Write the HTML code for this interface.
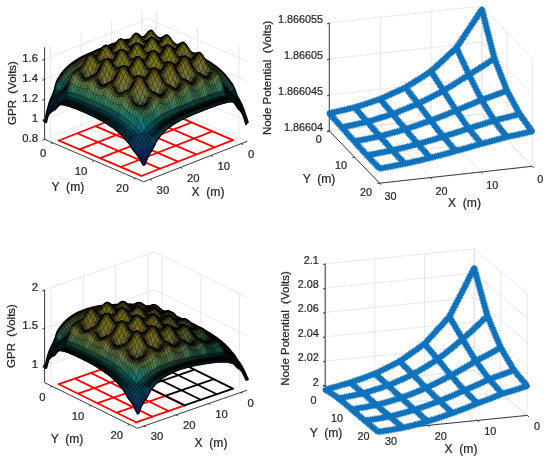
<!DOCTYPE html><html><head><meta charset="utf-8"><title>Grounding grid plots</title><style>html,body{margin:0;padding:0;background:#fff}svg{display:block}text{font-family:'Liberation Sans', Arial, sans-serif;fill:#262626;stroke:#262626;stroke-width:.22px}.k1{stroke-opacity:1;stroke-width:7}.a{fill:#182460}.b{fill:#00000c}.c{fill:#000000}.d{fill:#000c00}.e{fill:#0c180c}.f{fill:#18180c}.g{fill:#182418}.h{fill:#242418}.i{fill:#243018}.j{fill:#243024}.k{fill:#243c24}.l{fill:#183c24}.m{fill:#183c30}.n{fill:#0c3c3c}.o{fill:#0c3c30}.p{fill:#0c5454}.q{fill:#005460}.r{fill:#001824}.s{fill:#001830}.t{fill:#002448}.u{fill:#003060}.v{fill:#0c306c}.w{fill:#181854}.x{fill:#0c0c0c}.y{fill:#303018}.z{fill:#303024}.A{fill:#303c24}.B{fill:#304830}.C{fill:#244830}.D{fill:#18483c}.E{fill:#184848}.F{fill:#004854}.G{fill:#001818}.H{fill:#00243c}.I{fill:#003054}.J{fill:#181848}.K{fill:#183018}.L{fill:#304824}.M{fill:#24483c}.N{fill:#0c5448}.O{fill:#0c483c}.P{fill:#003c48}.Q{fill:#00183c}.R{fill:#243c30}.S{fill:#184830}.T{fill:#0c4848}.U{fill:#0c4854}.V{fill:#002424}.W{fill:#000c18}.X{fill:#000c0c}.Y{fill:#181818}.Z{fill:#0c2418}.aa{fill:#0c2424}.ba{fill:#0c3024}.ca{fill:#0c3030}.da{fill:#00180c}.ea{fill:#0c0c00}.fa{fill:#3c3c24}.ga{fill:#306c54}.ha{fill:#180c00}.ia{fill:#30300c}.ja{fill:#3c3c0c}.ka{fill:#181800}.la{fill:#48480c}.ma{fill:#242400}.na{fill:#3c300c}.oa{fill:#30240c}.pa{fill:#544818}.qa{fill:#483c18}.ra{fill:#3c3c18}.sa{fill:#606c3c}.ta{fill:#488460}.ua{fill:#003030}.va{fill:#18240c}.wa{fill:#606018}.xa{fill:#6c6c18}.ya{fill:#6c6024}.za{fill:#484818}.Aa{fill:#786c18}.Ba{fill:#24180c}.Ca{fill:#786c24}.Da{fill:#24240c}.Ea{fill:#786c30}.Fa{fill:#6c6c30}.Ga{fill:#546030}.Ha{fill:#484824}.Ia{fill:#607848}.Ja{fill:#3c8460}.Ka{fill:#00303c}.La{fill:#6c6030}.Ma{fill:#0c0000}.Na{fill:#78783c}.Oa{fill:#485430}.Pa{fill:#303c18}.Qa{fill:#307854}.Ra{fill:#003c3c}.Sa{fill:#606024}.Ta{fill:#6c6018}.Ua{fill:#6c6c3c}.Va{fill:#486c3c}.Wa{fill:#306048}.Xa{fill:#545424}.Ya{fill:#48603c}.Za{fill:#3c4824}.ab{fill:#3c5430}.bb{fill:#3c6c54}.cb{fill:#0c1800}.db{fill:#545430}.eb{fill:#487854}.fb{fill:#241800}.gb{fill:#303000}.hb{fill:#54540c}.ib{fill:#545418}.jb{fill:#605418}.kb{fill:#548454}.lb{fill:#185448}.mb{fill:#787818}.nb{fill:#48540c}.ob{fill:#6c780c}.pb{fill:#78780c}.qb{fill:#606030}.rb{fill:#6c783c}.sb{fill:#787824}.tb{fill:#544824}.ub{fill:#787830}.vb{fill:#3c7854}.wb{fill:#6c6c24}.xb{fill:#485424}.yb{fill:#546c3c}.zb{fill:#180c0c}.Ab{fill:#60600c}.Bb{fill:#3c3018}.Cb{fill:#847824}.Db{fill:#486030}.Eb{fill:#306c48}.Fb{fill:#3c3c00}.Gb{fill:#6c7848}.Hb{fill:#3c7860}.Ib{fill:#546c48}.Jb{fill:#605424}.Kb{fill:#484830}.Lb{fill:#3c4830}.Mb{fill:#004848}.Nb{fill:#3c8454}.Ob{fill:#483c0c}.Pb{fill:#302418}.Qb{fill:#60783c}.Rb{fill:#0c1818}.Sb{fill:#54480c}.Tb{fill:#60540c}.Ub{fill:#606c30}.Vb{fill:#54603c}.Wb{fill:#307860}.Xb{fill:#3c543c}.Yb{fill:#3c603c}.Zb{fill:#183024}.ac{fill:#246c60}.bc{fill:#002430}.cc{fill:#186c60}.dc{fill:#003c54}.ec{fill:#305430}.fc{fill:#30603c}.gc{fill:#24543c}.hc{fill:#005454}.ic{fill:#00546c}.jc{fill:#30543c}.kc{fill:#246048}.lc{fill:#3c6c48}.mc{fill:#18786c}.nc{fill:#003048}.oc{fill:#004860}.pc{fill:#005478}.qc{fill:#245448}.rc{fill:#246054}.sc{fill:#187878}.tc{fill:#00486c}.uc{fill:#0c5478}.vc{fill:#186054}.wc{fill:#0c7878}.xc{fill:#0c486c}.yc{fill:#0c6c60}.zc{fill:#186c6c}.Ac{fill:#0c6c6c}.Bc{fill:#6c8448}.Cc{fill:#608448}.Dc{fill:#547848}.Ec{fill:#608454}.Fc{fill:#308460}.Gc{fill:#30846c}.Hc{fill:#248478}.Ic{fill:#0c7884}.Jc{fill:#0c4878}.Kc{fill:#0c5484}.Lc{fill:#18543c}.Mc{fill:#24786c}.Nc{fill:#007884}.Oc{fill:#006078}.Pc{fill:#0c3c54}.Qc{fill:#0c3c60}.Rc{fill:#0c3c6c}.Sc{fill:#0c3c78}.Tc{fill:#185454}.Uc{fill:#0c6060}.Vc{fill:#006060}.Wc{fill:#00606c}.Xc{fill:#0c3060}.Yc{fill:#0c3054}.Zc{fill:#0c3048}.ad{fill:#0c303c}.bd{fill:#00306c}.cd{fill:#0c246c}.dd{fill:#003078}.ed{fill:#003c6c}.fd{fill:#0c1830}.gd{fill:#182454}.hd{fill:#0c0c30}.id{fill:#000c24}.jd{fill:#003c60}.kd{fill:#0c2460}.ld{fill:#180c3c}.md{fill:#0c000c}.nd{fill:#0c0c24}.od{fill:#483c24}.pd{fill:#487848}.qd{fill:#183030}.rd{fill:#182400}.sd{fill:#6c6c0c}.td{fill:#486c48}.ud{fill:#303c00}.vd{fill:#183c3c}.wd{fill:#24846c}.xd{fill:#186048}.yd{fill:#246c54}.zd{fill:#547854}.Ad{fill:#488454}.Bd{fill:#0c3c48}.Cd{fill:#3c6048}.Dd{fill:#0c4860}.Ed{fill:#002418}.Fd{fill:#003c78}.Gd{fill:#0c2454}.Hd{fill:#0c3078}.Id{fill:#18246c}.Jd{fill:#0c183c}</style></head><body><svg width="550" height="460" viewBox="0 0 550 460"><rect width="550" height="460" fill="#fff"/><g fill="none"><path d="M142 101.2L241.1 143.7" stroke="#dfdfdf" stroke-width="0.7" /><path d="M142 101.2L142 9.2" stroke="#dfdfdf" stroke-width="0.7" /><path d="M111.6 113.1L210.7 155.6" stroke="#dfdfdf" stroke-width="0.7" /><path d="M111.6 113.1L111.6 21.1" stroke="#dfdfdf" stroke-width="0.7" /><path d="M81.1 125L180.2 167.5" stroke="#dfdfdf" stroke-width="0.7" /><path d="M81.1 125L81.1 33" stroke="#dfdfdf" stroke-width="0.7" /><path d="M50.7 136.9L149.8 179.4" stroke="#dfdfdf" stroke-width="0.7" /><path d="M50.7 136.9L50.7 44.9" stroke="#dfdfdf" stroke-width="0.7" /><path d="M156.4 102.3L52.9 142.8" stroke="#dfdfdf" stroke-width="0.7" /><path d="M156.4 102.3L156.4 10.3" stroke="#dfdfdf" stroke-width="0.7" /><path d="M197.6 120.1L94.1 160.6" stroke="#dfdfdf" stroke-width="0.7" /><path d="M197.6 120.1L197.6 28.1" stroke="#dfdfdf" stroke-width="0.7" /><path d="M238.9 137.8L135.4 178.3" stroke="#dfdfdf" stroke-width="0.7" /><path d="M238.9 137.8L238.9 45.8" stroke="#dfdfdf" stroke-width="0.7" /><path d="M44.6 139.3L148.1 98.8" stroke="#dfdfdf" stroke-width="0.7" /><path d="M148.1 98.8L247.2 141.3" stroke="#dfdfdf" stroke-width="0.7" /><path d="M44.6 119.3L148.1 78.8" stroke="#dfdfdf" stroke-width="0.7" /><path d="M148.1 78.8L247.2 121.3" stroke="#dfdfdf" stroke-width="0.7" /><path d="M44.6 99.3L148.1 58.8" stroke="#dfdfdf" stroke-width="0.7" /><path d="M148.1 58.8L247.2 101.3" stroke="#dfdfdf" stroke-width="0.7" /><path d="M44.6 79.3L148.1 38.8" stroke="#dfdfdf" stroke-width="0.7" /><path d="M148.1 38.8L247.2 81.3" stroke="#dfdfdf" stroke-width="0.7" /><path d="M44.6 59.3L148.1 18.8" stroke="#dfdfdf" stroke-width="0.7" /><path d="M148.1 18.8L247.2 61.3" stroke="#dfdfdf" stroke-width="0.7" /></g>
<path fill="none" stroke="#ff0000" stroke-width="1.8" stroke-linecap="square" d="M150.3 104.7L232.9 140.1M132 111.9L214.6 147.3M113.7 119L196.3 154.4M95.5 126.2L178.1 161.6M77.2 133.3L159.8 168.7M58.9 140.5L141.5 175.9M150.3 104.7L58.9 140.5M170.9 113.6L79.6 149.3M191.6 122.4L100.2 158.2M212.2 131.3L120.9 167M232.9 140.1L141.5 175.9"/>
<path d="M68.2 67.2L63.6 72L61.3 75L59.5 77.9L57 82.5L55.2 89.4L53.2 95.5L51.3 99.6L49.6 104.3L48.1 109.8L46.2 118.6L45 120.5L44.6 120.8L45 121.3L45.8 121.5L48.3 115.4L49 114.3L50.9 112.1L53 110.6L55.3 109.5L57.8 106.4L59.8 104.7L61.1 104.5L62.4 104.7L69.4 106.4L76.3 108.9L85.9 112.9L95.4 117.4L104.9 122.5L112 127.1L118.9 132.6L123.8 137.6L127.1 141.6L128.5 142.9L130.4 145.6L133 149.9L137.4 155.4L139.3 158.3L143.2 165.1L143.7 165.3L144.9 164.5L147.3 158.4L148.8 155.3L152.3 149.6L154.4 145.7L156.2 141.5L160.5 135.7L162.8 133L167.3 128.7L173.9 124.1L182.5 119.3L193.2 114.5L208.4 108.4L219.5 104.4L228.2 102.1L232.4 101.6L235.1 104.1L238.6 109.4L240.4 111L241.9 113L243.5 116.7L246 124.6L247.2 121.9L242.9 109.2L241 104.6L238.9 100.4L236.6 96.5L234 89.5L232 85.1L227.4 78.7L224.9 75.7L220 70.7L215.5 67L210.9 63.7L205.7 60.5L203 55.7L200.5 52.9L199.1 52.3L194.7 53.3L192.2 52.6L190.2 50.7L186.5 45L184 42.4L182.6 42.2L178.2 44.3L175.7 44.1L173.4 42.3L170 37.4L168.8 36L167.4 35L166.1 34.9L161.6 37.6L159.2 37.7L156.7 36.1L152.3 30.8L150.9 30.1L148.3 31.5L144.8 35.8L143.3 36.7L141 36.5L138.3 34.1L136.9 33.4L135.7 33.2L133.1 35L129.9 39.9L124.6 40.9L121.7 38.9L120.5 38.8L119.1 39.6L117.9 40.6L116.1 43.4L108.3 46.3L106.5 45.2L105.2 45.2L103.9 46L102.7 47.1L101.6 48.9L89.9 53.9L81.1 58.2L73.5 62.9Z" fill="#14140c" stroke="#0a0a0a" stroke-width="1.3" stroke-linejoin="round"/><path d="M44.6 120.8L45 121.3L45.8 121.5L46.8 115.6L48.1 109.8L49.6 104.3L51.3 99.6L53.2 95.5L55.3 89.4L57.1 82.5L58.3 80L59.5 77.9L61.3 75L63.6 72L65.9 69.4L68.2 67.2L70.5 65.2L72.3 63.8L73.5 62.9L74.7 62.1L76.6 60.9L78.8 59.5L81.1 58.2L83.4 57L85.7 55.9L87.5 55L88.7 54.5L90 53.9L91.8 53.1L94.1 52.1L96.3 51.1L98.6 50.2L100.9 49.2L102.7 48.5L104 48L105.2 47.6L107 46.8L109.3 46L111.6 45.1L113.9 44.3L116.1 43.5L118 42.9L119.2 42.5L120.4 42.1L122.2 41.6L124.5 40.9L126.8 40.4L129.1 40.1L131.4 40L133.2 40.1L134.4 40.4L135.6 42.2L137.4 48.8L139.5 54.3L141.4 57.3L143.1 61.6L144.6 67.3L145.9 74.1L146.9 81.5L147.7 78.5L148.1 76.4L148.6 75.9L149.5 73.3L150.9 69L152.5 64.4L154.3 60.5L156.4 57.5L158.8 55.1L161.3 49L163.3 45.6L164.6 44.9L165.9 44.8L167.9 45L170.4 45.4L172.9 46L175.4 46.7L177.8 47.6L179.8 48.3L181.1 48.8L182.5 49.3L184.4 50.1L186.9 51.2L189.4 52.3L191.9 53.4L194.3 54.5L196.3 55.5L197.6 56.2L199 56.8L201 57.9L203.4 59.2L205.9 60.7L208.4 62.2L210.9 63.8L212.8 65.1L214.2 66.1L215.5 67.1L217.5 68.6L219.9 70.8L222.4 73.1L224.9 75.7L227.4 78.7L229.4 81.4L230.7 83.3L232 85.1L234 89.5L236.5 96.5L238.9 100.5L241 104.7L242.8 109.2L244.4 113.9L245.8 118.1L246.7 120.9L247.2 121.9" fill="none" stroke="#050505" stroke-width="3.2" stroke-linejoin="round" stroke-linecap="round"/><g transform="scale(0.2)" stroke="#000" stroke-opacity="0.4" stroke-width="2.0" stroke-linejoin="round"><path class="a" d="M740 382l-1 11l2-4l2-10z"/><path class="b" d="M743 379l-2 10l5-18l2-5z"/><path class="c" d="M748 366l-2 5l6-24l2-2zM754 345l-2 2l8-25l2 0zM762 322l-2 0l10-20l2 0zM772 302l-2 0l10-16l2 1zM782 287l-2-1l12-10l2 0zM794 276l-2 0l13-30l2-1zM807 245l-2 1l10-16l1-2z"/><path class="d" d="M816 228l-1 2l6-4l2-2z"/><path class="e" d="M823 224l-2 2l7 0l2-2z"/><path class="f" d="M830 224l-2 2l10 1l2-2zM840 225l-2 2l12 2l2-2z"/><path class="g" d="M852 227l-2 2l12 3l2-2zM864 230l-2 2l13 4l2-2z"/><path class="h" d="M877 234l-2 2l12 4l2-2zM889 238l-2 2l10 4l2-2zM899 242l-2 2l7 2l2-2zM906 244l-2 2l6 3l2-2zM912 247l-2 2l10 4l2-2zM922 251l-2 2l13 5l2-2zM935 256l-2 2l12 6l2-3zM947 261l-2 3l12 5l2-2zM959 267l-2 2l13 6l2-2z"/><path class="i" d="M972 273l-2 2l10 5l2-2zM982 278l-2 2l6 3l2-2zM988 281l-2 2l7 3l2-2zM995 284l-2 2l10 6l2-3zM1005 289l-2 3l12 6l2-2zM1017 296l-2 2l13 8l2-3zM1030 303l-2 3l12 7l2-2zM1042 311l-2 2l12 8l2-2zM1054 319l-2 2l10 7l2-2zM1064 326l-2 2l7 4l2-2z"/><path class="j" d="M1071 330l-2 2l7 5l1-2zM1077 335l-1 2l9 8l2-2zM1087 343l-2 2l13 11l2-2z"/><path class="k" d="M1100 354l-2 2l12 11l2-1z"/><path class="l" d="M1112 366l-2 1l13 13l2-1z"/><path class="m" d="M1125 379l-2 1l12 15l2-2zM1137 393l-2 2l10 13l2-1z"/><path class="n" d="M1147 407l-2 1l7 10l1-1z"/><path class="o" d="M1153 417l-1 1l6 9l2-1z"/><path class="p" d="M1160 426l-2 1l10 21l2 0z"/><path class="q" d="M1170 448l-2 0l13 35l2 0z"/><path class="r" d="M1183 483l-2 0l11 18l2 1z"/><path class="s" d="M1194 502l-2-1l11 22l2 0z"/><path class="t" d="M1205 523l-2 0l9 23l2 0z"/><path class="u" d="M1214 546l-2 0l8 24l2-1z"/><path class="v" d="M1222 569l-2 1l7 23l2-2z"/><path class="a" d="M1229 591l-2 2l5 17l2-5z"/><path class="w" d="M1234 605l-2 5l2 5l2-6z"/><path class="c" d="M739 393l-4 15l2-10l4-9zM741 389l-4 9l5-24l4-3zM746 371l-4 3l6-27l4 0zM752 347l-4 0l8-26l4 1zM760 322l-4-1l10-21l4 2zM770 302l-4-2l10-16l4 2zM780 286l-4-2l12-10l4 2zM792 276l-4-2l13-24l4-4zM805 246l-4 4l10-15l4-5z"/><path class="x" d="M815 230l-4 5l6-3l4-6z"/><path class="g" d="M821 226l-4 6l7 0l4-6zM828 226l-4 6l10 1l4-6z"/><path class="i" d="M838 227l-4 6l12 2l4-6zM850 229l-4 6l13 3l3-6zM862 232l-3 6l12 4l4-6z"/><path class="y" d="M875 236l-4 6l12 4l4-6zM887 240l-4 6l10 4l4-6z"/><path class="z" d="M897 244l-4 6l7 2l4-6zM904 246l-4 6l6 3l4-6z"/><path class="A" d="M910 249l-4 6l10 4l4-6zM920 253l-4 6l13 5l4-6zM933 258l-4 6l12 6l4-6zM945 264l-4 6l13 5l3-6zM957 269l-3 6l12 6l4-6zM970 275l-4 6l10 5l4-6zM980 280l-4 6l6 3l4-6zM986 283l-4 6l7 4l4-7zM993 286l-4 7l10 5l4-6zM1003 292l-4 6l12 6l4-6zM1015 298l-4 6l13 7l4-5zM1028 306l-4 5l12 8l4-6zM1040 313l-4 6l13 8l3-6zM1052 321l-3 6l9 6l4-5zM1062 328l-4 5l7 5l4-6zM1069 332l-4 6l7 5l4-6zM1076 337l-4 6l10 8l3-6z"/><path class="B" d="M1085 345l-3 6l12 10l4-5z"/><path class="C" d="M1098 356l-4 5l12 11l4-5zM1110 367l-4 5l13 13l4-5z"/><path class="D" d="M1123 380l-4 5l12 14l4-4zM1135 395l-4 4l10 13l4-4z"/><path class="E" d="M1145 408l-4 4l7 10l4-4z"/><path class="n" d="M1152 418l-4 4l6 8l4-3z"/><path class="p" d="M1158 427l-4 3l10 21l4-3z"/><path class="F" d="M1168 448l-4 3l13 30l4 2z"/><path class="G" d="M1181 483l-4-2l12 19l3 1z"/><path class="s" d="M1192 501l-3-1l10 21l4 2z"/><path class="H" d="M1203 523l-4-2l9 23l4 2z"/><path class="I" d="M1212 546l-4-2l8 25l4 1z"/><path class="v" d="M1220 570l-4-1l7 25l4-1z"/><path class="a" d="M1227 593l-4 1l5 20l4-4z"/><path class="J" d="M1232 610l-4 4l2 9l4-8z"/><path class="c" d="M735 408l-6-37l3-3l5 30zM737 398l-5-30l5-11l5 17zM742 374l-5-17l6-20l5 10zM748 347l-5-10l8-22l5 6zM756 321l-5-6l10-19l5 4zM766 300l-5-4l10-15l5 3zM776 284l-5-3l12-11l5 4zM788 274l-5-4l12-14l6-6zM801 250l-6 6l10-13l6-8z"/><path class="e" d="M811 235l-6 8l7-3l5-8z"/><path class="K" d="M817 232l-5 8l7 1l5-9z"/><path class="i" d="M824 232l-5 9l10 1l5-9z"/><path class="j" d="M834 233l-5 9l12 2l5-9z"/><path class="A" d="M846 235l-5 9l12 3l6-9zM859 238l-6 9l13 4l5-9zM871 242l-5 9l12 5l5-10zM883 246l-5 10l10 3l5-9zM893 250l-5 9l7 3l5-10zM900 252l-5 10l6 2l5-9zM906 255l-5 9l10 4l5-9zM916 259l-5 9l12 6l6-10zM929 264l-6 10l13 5l5-9zM941 270l-5 9l12 6l6-10zM954 275l-6 10l13 5l5-9zM966 281l-5 9l10 5l5-9zM976 286l-5 9l6 3l5-9z"/><path class="L" d="M982 289l-5 9l7 4l5-9zM989 293l-5 9l10 5l5-9zM999 298l-5 9l12 6l5-9zM1011 304l-5 9l12 7l6-9zM1024 311l-6 9l13 8l5-9z"/><path class="B" d="M1036 319l-5 9l12 7l6-8zM1049 327l-6 8l10 7l5-9zM1058 333l-5 9l7 5l5-9zM1065 338l-5 9l6 4l6-8zM1072 343l-6 8l10 8l6-8zM1082 351l-6 8l13 10l5-8z"/><path class="C" d="M1094 361l-5 8l12 11l5-8z"/><path class="M" d="M1106 372l-5 8l12 13l6-8z"/><path class="D" d="M1119 385l-6 8l13 13l5-7z"/><path class="E" d="M1131 399l-5 7l10 13l5-7z"/><path class="N" d="M1141 412l-5 7l6 9l6-6z"/><path class="O" d="M1148 422l-6 6l7 8l5-6z"/><path class="p" d="M1154 430l-5 6l10 19l5-4z"/><path class="P" d="M1164 451l-5 4l13 23l5 3z"/><path class="G" d="M1177 481l-5-3l11 19l6 3z"/><path class="r" d="M1189 500l-6-3l11 21l5 3z"/><path class="s" d="M1199 521l-5-3l9 22l5 4z"/><path class="Q" d="M1208 544l-5-4l8 23l5 6z"/><path class="s" d="M1216 569l-5-6l7 20l5 11z"/><path class="b" d="M1223 594l-5-11l5 14l5 17z"/><path class="c" d="M1228 614l-5-17l2 5l5 21zM729 371l-6-35l2-1l7 33zM732 368l-7-33l5-5l7 27zM737 357l-7-27l7-12l6 19zM743 337l-6-19l8-15l6 12zM751 315l-6-12l9-16l7 9zM761 296l-7-9l11-12l6 6zM771 281l-6-6l11-9l7 4zM783 270l-7-4l13-5l6-5zM795 256l-6 5l10-10l6-8z"/><path class="e" d="M805 243l-6 8l7-2l6-9z"/><path class="g" d="M812 240l-6 9l6 0l7-8zM819 241l-7 8l10 2l7-9z"/><path class="K" d="M829 242l-7 9l12 2l7-9z"/><path class="i" d="M841 244l-7 9l13 4l6-10z"/><path class="j" d="M853 247l-6 10l12 4l7-10zM866 251l-7 10l13 4l6-9zM878 256l-6 9l9 4l7-10zM888 259l-7 10l7 3l7-10zM895 262l-7 10l7 2l6-10zM901 264l-6 10l10 4l6-10z"/><path class="k" d="M911 268l-6 10l12 5l6-9zM923 274l-6 9l12 6l7-10zM936 279l-7 10l13 5l6-9zM948 285l-6 9l12 6l7-10zM961 290l-7 10l10 5l7-10zM971 295l-7 10l7 3l6-10zM977 298l-6 10l6 3l7-9zM984 302l-7 9l10 6l7-10zM994 307l-7 10l13 6l6-10zM1006 313l-6 10l12 7l6-10zM1018 320l-6 10l12 7l7-9zM1031 328l-7 9l13 8l6-10zM1043 335l-6 10l10 6l6-9zM1053 342l-6 9l6 5l7-9z"/><path class="R" d="M1060 347l-7 9l7 4l6-9zM1066 351l-6 9l10 8l6-9zM1076 359l-6 9l12 10l7-9z"/><path class="m" d="M1089 369l-7 9l13 10l6-8z"/><path class="S" d="M1101 380l-6 8l12 12l6-7z"/><path class="D" d="M1113 393l-6 7l12 14l7-8z"/><path class="O" d="M1126 406l-7 8l10 12l7-7z"/><path class="T" d="M1136 419l-7 7l7 9l6-7z"/><path class="n" d="M1142 428l-6 7l6 7l7-6z"/><path class="U" d="M1149 436l-7 6l10 17l7-4z"/><path class="V" d="M1159 455l-7 4l13 15l7 4z"/><path class="W" d="M1172 478l-7-4l12 18l6 5z"/><path class="G" d="M1183 497l-6-5l10 20l7 6z"/><path class="r" d="M1194 518l-7-6l10 20l6 8z"/><path class="W" d="M1203 540l-6-8l8 20l6 11z"/><path class="X" d="M1211 563l-6-11l6 16l7 15z"/><path class="c" d="M1218 583l-7-15l5 10l7 19zM1223 597l-7-19l2 5l7 19zM723 336l-8-28l3-1l7 28zM725 335l-7-28l5-3l7 26zM730 330l-7-26l6-7l8 21zM737 318l-8-21l8-10l8 16zM745 303l-8-16l10-10l7 10zM754 287l-7-10l10-10l8 8zM765 275l-8-8l12-7l7 6zM776 266l-7-6l12-3l8 4zM789 261l-8-4l10-1l8-5z"/><path class="d" d="M799 251l-8 5l7-2l8-5z"/><path class="x" d="M806 249l-8 5l7 1l7-6zM812 249l-7 6l9 2l8-6z"/><path class="e" d="M822 251l-8 6l13 2l7-6zM834 253l-7 6l12 4l8-6zM847 257l-8 6l13 4l7-6zM859 261l-7 6l12 4l8-6z"/><path class="f" d="M872 265l-8 6l10 4l7-6zM881 269l-7 6l7 3l7-6zM888 272l-7 6l6 2l8-6zM895 274l-8 6l10 4l8-6zM905 278l-8 6l12 6l8-7z"/><path class="Y" d="M917 283l-8 7l13 5l7-6zM929 289l-7 6l12 6l8-7zM942 294l-8 7l13 5l7-6z"/><path class="g" d="M954 300l-7 6l10 5l7-6zM964 305l-7 6l6 3l8-6zM971 308l-8 6l7 4l7-7zM977 311l-7 7l10 5l7-6zM987 317l-7 6l12 6l8-6zM1000 323l-8 6l12 7l8-6zM1012 330l-8 6l13 7l7-6zM1024 337l-7 6l12 8l8-6zM1037 345l-8 6l10 6l8-6zM1047 351l-8 6l7 4l7-5zM1053 356l-7 5l6 5l8-6zM1060 360l-8 6l10 7l8-5z"/><path class="Z" d="M1070 368l-8 5l13 10l7-5z"/><path class="aa" d="M1082 378l-7 5l12 11l8-6z"/><path class="ba" d="M1095 388l-8 6l12 11l8-5zM1107 400l-8 5l13 13l7-4z"/><path class="ca" d="M1119 414l-7 4l10 12l7-4zM1129 426l-7 4l6 8l8-3z"/><path class="V" d="M1136 435l-8 3l7 7l7-3z"/><path class="r" d="M1142 442l-7 3l10 10l7 4z"/><path class="X" d="M1152 459l-7-4l13 15l7 4z"/><path class="W" d="M1165 474l-7-4l11 17l8 5zM1177 492l-8-5l11 18l7 7zM1187 512l-7-7l9 18l8 9z"/><path class="X" d="M1197 532l-8-9l8 17l8 12z"/><path class="b" d="M1205 552l-8-12l7 13l7 15z"/><path class="c" d="M1211 568l-7-15l5 9l7 16zM1216 578l-7-16l2 5l7 16zM715 308l-8-22l2 0l9 21zM718 307l-9-21l5-3l9 21zM723 304l-9-21l7-4l8 18zM729 297l-8-18l8-6l8 14zM737 287l-8-14l9-7l9 11zM747 277l-9-11l11-7l8 8zM757 267l-8-8l11-5l9 6zM769 260l-9-6l13-2l8 5zM781 257l-8-5l10 0l8 4zM791 256l-8-4l6 0l9 2zM798 254l-9-2l7 1l9 2zM805 255l-9-2l10 2l8 2zM814 257l-8-2l12 3l9 1zM827 259l-9-1l13 3l8 2zM839 263l-8-2l12 4l9 2zM852 267l-9-2l13 5l8 1zM864 271l-8-1l9 4l9 1zM874 275l-9-1l7 2l9 2zM881 278l-9-2l7 3l8 1zM887 280l-8-1l10 4l8 1zM897 284l-8-1l12 5l8 2zM909 290l-8-2l12 6l9 1zM922 295l-9-1l13 5l8 2zM934 301l-8-2l12 6l9 1zM947 306l-9-1l10 5l9 1zM957 311l-9-1l7 3l8 1zM963 314l-8-1l6 3l9 2z"/><path class="d" d="M970 318l-9-2l10 5l9 2zM980 323l-9-2l13 7l8 1zM992 329l-8-1l12 6l8 2zM1004 336l-8-2l12 8l9 1zM1017 343l-9-1l13 7l8 2zM1029 351l-8-2l10 6l8 2zM1039 357l-8-2l6 5l9 1z"/><path class="X" d="M1046 361l-9-1l7 4l8 2zM1052 366l-8-2l10 8l8 1zM1062 373l-8-1l12 9l9 2zM1075 383l-9-2l13 11l8 2zM1087 394l-8-2l12 12l8 1zM1099 405l-8-1l12 13l9 1z"/><path class="da" d="M1112 418l-9-1l10 11l9 2z"/><path class="G" d="M1122 430l-9-2l7 9l8 1z"/><path class="X" d="M1128 438l-8-1l6 6l9 2zM1135 445l-9-2l10 9l9 3zM1145 455l-9-3l13 14l9 4zM1158 470l-9-4l12 16l8 5z"/><path class="W" d="M1169 487l-8-5l10 17l9 6zM1180 505l-9-6l10 17l8 7zM1189 523l-8-7l8 14l8 10z"/><path class="X" d="M1197 540l-8-10l6 12l9 11z"/><path class="b" d="M1204 553l-9-11l5 9l9 11zM1209 562l-9-11l2 4l9 12z"/><path class="c" d="M707 286l-10-15l3 0l9 15zM709 286l-9-15l5-2l9 14zM714 283l-9-14l6-3l10 13zM721 279l-10-13l8-4l10 11zM729 273l-10-11l10-5l9 9zM738 266l-9-9l10-5l10 7zM749 259l-10-7l12-3l9 5zM760 254l-9-5l13-1l9 4zM773 252l-9-4l9-9l10 13zM783 252l-10-13l7-1l9 14zM789 252l-9-14l7 1l9 14zM796 253l-9-14l10 2l9 14zM806 255l-9-14l12 3l9 14zM818 258l-9-14l12 4l10 13zM831 261l-10-13l13 4l9 13zM843 265l-9-13l12 4l10 14zM856 270l-10-14l10 4l9 14zM865 274l-9-14l7 3l9 13zM872 276l-9-13l6 2l10 14zM879 279l-10-14l10 5l10 13zM889 283l-10-13l13 5l9 13zM901 288l-9-13l12 5l9 14zM913 294l-9-14l12 6l10 13zM926 299l-10-13l13 6l9 13zM938 305l-9-13l10 4l9 14zM948 310l-9-14l6 4l10 13zM955 313l-10-13l7 3l9 13zM961 316l-9-13l10 5l9 13zM971 321l-9-13l12 6l10 14zM984 328l-10-14l13 7l9 13zM996 334l-9-13l12 8l9 13zM1008 342l-9-13l12 7l10 13zM1021 349l-10-13l10 7l10 12zM1031 355l-10-12l7 4l9 13zM1037 360l-9-13l6 5l10 12zM1044 364l-10-12l10 7l10 13zM1054 372l-10-13l13 10l9 12zM1066 381l-9-12l12 11l10 12zM1079 392l-10-12l12 12l10 12zM1091 404l-10-12l13 13l9 12zM1103 417l-9-12l10 12l9 11zM1113 428l-9-11l6 9l10 11zM1120 437l-10-11l7 7l9 10z"/><path class="X" d="M1126 443l-9-10l10 16l9 3zM1136 452l-9-3l13 14l9 3z"/><path class="W" d="M1149 466l-9-3l11 16l10 3z"/><path class="G" d="M1161 482l-10-3l11 16l9 4zM1171 499l-9-4l9 15l10 6z"/><path class="W" d="M1181 516l-10-6l8 13l10 7zM1189 530l-10-7l7 11l9 8zM1195 542l-9-8l5 9l9 8z"/><path class="X" d="M1200 551l-9-8l2 4l9 8z"/><path class="c" d="M697 271l-10-27l3 0l10 27zM700 271l-10-27l4 1l11 24zM705 269l-11-24l7 5l10 16zM711 266l-10-16l8 4l10 8zM719 262l-10-8l9-3l11 6zM729 257l-11-6l11-3l10 4zM739 252l-10-4l12-2l10 3zM751 249l-10-3l12-23l11 25zM764 248l-11-25l10-24l10 40zM773 239l-10-40l7-4l10 43zM780 238l-10-43l6 4l11 40zM787 239l-11-40l10 12l11 30zM797 241l-11-30l13 6l10 27zM809 244l-10-27l12 4l10 27zM821 248l-10-27l12 4l11 27zM834 252l-11-27l13 1l10 30zM846 256l-10-30l10-7l10 41zM856 260l-10-41l6 0l11 44zM863 263l-11-44l7 6l10 40zM869 265l-10-40l10 14l10 31zM879 270l-10-31l12 9l11 27zM892 275l-11-27l13 5l10 27zM904 280l-10-27l12 6l10 27zM916 286l-10-27l12 2l11 31zM929 292l-11-31l10-5l11 40zM939 296l-11-40l7 0l10 44zM945 300l-10-44l7 6l10 41zM952 303l-10-41l9 16l11 30zM962 308l-11-30l13 10l10 26zM974 314l-10-26l12 7l11 26zM987 321l-11-26l13 7l10 27zM999 329l-10-27l12 5l10 29zM1011 336l-10-29l10-3l10 39zM1021 343l-10-39l7 2l10 41zM1028 347l-10-41l6 8l10 38zM1034 352l-10-38l10 17l10 28zM1044 359l-10-28l12 14l11 24zM1057 369l-11-24l13 11l10 24zM1069 380l-10-24l12 13l10 23zM1081 392l-10-23l13 12l10 24zM1094 405l-10-24l10 4l10 32zM1104 417l-10-32l6 7l10 34zM1110 426l-10-34l7 10l10 31zM1117 433l-10-31l10 28l10 19z"/><path class="X" d="M1127 449l-10-19l12 32l11 1z"/><path class="G" d="M1140 463l-11-1l12 15l10 2z"/><path class="r" d="M1151 479l-10-2l11 15l10 3zM1162 495l-10-3l9 15l10 3z"/><path class="X" d="M1171 510l-10-3l8 7l10 9z"/><path class="c" d="M1179 523l-10-9l7 7l10 13zM1186 534l-10-13l4 6l11 16zM1191 543l-11-16l3 4l10 16zM687 244l-9-33l2-1l10 34zM690 244l-10-34l5 2l9 33zM694 245l-9-33l7 9l9 29zM701 250l-9-29l8 13l9 20zM709 254l-9-20l9 12l9 5zM718 251l-9-5l11 0l9 2zM729 248l-9-2l11-10l10 10zM741 246l-10-10l13-50l9 37zM753 223l-9-37l10-24l9 37zM763 199l-9-37l7-4l9 37zM770 195l-9-37l6 3l9 38zM776 199l-9-38l10 12l9 38zM786 211l-9-38l13 16l9 28zM799 217l-9-28l12 6l9 26zM811 221l-9-26l12 2l9 28zM823 225l-9-28l13-9l9 38zM836 226l-9-38l10-6l9 37zM846 219l-9-37l6 0l9 37zM852 219l-9-37l7 5l9 38zM859 225l-9-38l10 14l9 38zM869 239l-9-38l12 18l9 29zM881 248l-9-29l13 8l9 26zM894 253l-9-26l12 3l9 29zM906 259l-9-29l12-6l9 37zM918 261l-9-37l10-6l9 38zM928 256l-9-38l7 1l9 37zM935 256l-9-37l6 6l10 37zM942 262l-10-37l10 15l9 38zM951 278l-9-38l13 20l9 28zM964 288l-9-28l12 10l9 25zM976 295l-9-25l13 5l9 27zM989 302l-9-27l12-4l9 36zM1001 307l-9-36l10-3l9 36zM1011 304l-9-36l6 3l10 35zM1018 306l-10-35l7 8l9 35zM1024 314l-9-35l10 17l9 35zM1034 331l-9-35l12 23l9 26zM1046 345l-9-26l13 15l9 22zM1059 356l-9-22l12 11l9 24zM1071 369l-9-24l12 5l10 31zM1084 381l-10-31l10 5l10 30zM1094 385l-10-30l7 8l9 29zM1100 392l-9-29l7 10l9 29zM1107 402l-9-29l10 30l9 27z"/><path class="aa" d="M1117 430l-9-27l12 53l9 6z"/><path class="G" d="M1129 462l-9-6l12 21l9 0zM1141 477l-9 0l10 13l10 2z"/><path class="c" d="M1152 492l-10-2l10 4l9 13zM1161 507l-9-13l8 3l9 17zM1169 514l-9-17l6 4l10 20zM1176 521l-10-20l5 7l9 19zM1180 527l-9-19l3 5l9 18zM678 211l-6-9l2-1l6 9zM680 210l-6-9l5 3l6 8zM685 212l-6-8l7 9l6 8z"/><path class="x" d="M692 221l-6-8l8 15l6 6z"/><path class="d" d="M700 234l-6-6l9 13l6 5z"/><path class="c" d="M709 246l-6-5l11 5l6 0zM720 246l-6 0l11-17l6 7zM731 236l-6-7l13-50l6 7zM744 186l-6-7l10-24l6 7zM754 162l-6-7l7-4l6 7zM761 158l-6-7l6 3l6 7zM767 161l-6-7l10 12l6 7zM777 173l-6-7l12 14l7 9zM790 189l-7-9l13 9l6 6zM802 195l-6-6l12-1l6 9zM814 197l-6-9l13-7l6 7zM827 188l-6-7l10-6l6 7zM837 182l-6-7l6 0l6 7zM843 182l-6-7l7 5l6 7zM850 187l-6-7l10 14l6 7zM860 201l-6-7l12 17l6 8zM872 219l-6-8l12 10l7 6zM885 227l-7-6l13 1l6 8zM897 230l-6-8l12-6l6 8zM909 224l-6-8l10-5l6 7zM919 218l-6-7l7 1l6 7zM926 219l-6-7l6 6l6 7z"/><path class="ea" d="M932 225l-6-7l10 15l6 7z"/><path class="c" d="M942 240l-6-7l13 19l6 8zM955 260l-6-8l12 11l6 7zM967 270l-6-7l12 4l7 8zM980 275l-7-8l13-3l6 7zM992 271l-6-7l10-2l6 6zM1002 268l-6-6l6 2l6 7zM1008 271l-6-7l7 8l6 7z"/><path class="ea" d="M1015 279l-6-7l10 18l6 6zM1025 296l-6-6l12 22l6 7z"/><path class="c" d="M1037 319l-6-7l13 16l6 6zM1050 334l-6-6l12 10l6 7zM1062 345l-6-7l12 6l6 6zM1074 350l-6-6l10 6l6 5z"/><path class="ea" d="M1084 355l-6-5l7 8l6 5zM1091 363l-6-5l7 11l6 4z"/><path class="fa" d="M1098 373l-6-4l9 29l7 5z"/><path class="ga" d="M1108 403l-7-5l13 54l6 4z"/><path class="ca" d="M1120 456l-6-4l12 26l6-1z"/><path class="X" d="M1132 477l-6 1l10 10l6 2z"/><path class="c" d="M1142 490l-6-2l10 3l6 3zM1152 494l-6-3l8 2l6 4zM1160 497l-6-4l6 4l6 4z"/><path class="X" d="M1166 501l-6-4l5 6l6 5z"/><path class="G" d="M1171 508l-6-5l3 5l6 5z"/><path class="c" d="M672 202l-6-1l2-1l6 1zM674 201l-6-1l5 2l6 2z"/><path class="f" d="M679 204l-6-2l7 10l6 1z"/><path class="i" d="M686 213l-6-1l8 15l6 1z"/><path class="g" d="M694 228l-6-1l9 14l6 0z"/><path class="d" d="M703 241l-6 0l11 5l6 0z"/><path class="c" d="M714 246l-6 0l11-14l6-3zM725 229l-6 3l13-50l6-3zM738 179l-6 3l10-24l6-3zM748 155l-6 3l7-4l6-3z"/><path class="ha" d="M755 151l-6 3l6 3l6-3z"/><path class="ia" d="M761 154l-6 3l10 13l6-4z"/><path class="ja" d="M771 166l-6 4l12 16l6-6z"/><path class="ia" d="M783 180l-6 6l13 9l6-6z"/><path class="ka" d="M796 189l-6 6l12-1l6-6z"/><path class="c" d="M808 188l-6 6l13-9l6-4zM821 181l-6 4l9-7l7-3z"/><path class="ea" d="M831 175l-7 3l7 0l6-3z"/><path class="ka" d="M837 175l-6 3l7 5l6-3z"/><path class="ja" d="M844 180l-6 3l10 15l6-4z"/><path class="la" d="M854 194l-6 4l12 19l6-6z"/><path class="ia" d="M866 211l-6 6l12 11l6-7z"/><path class="ka" d="M878 221l-6 7l13 0l6-6z"/><path class="c" d="M891 222l-6 6l12-8l6-4zM903 216l-6 4l10-6l6-3z"/><path class="ea" d="M913 211l-6 3l7 1l6-3z"/><path class="ma" d="M920 212l-6 3l6 6l6-3z"/><path class="ja" d="M926 218l-6 3l10 16l6-4z"/><path class="la" d="M936 233l-6 4l13 21l6-6z"/><path class="na" d="M949 252l-6 6l12 12l6-7z"/><path class="f" d="M961 263l-6 7l12 3l6-6z"/><path class="ea" d="M973 267l-6 6l13-5l6-4z"/><path class="c" d="M986 264l-6 4l10-3l6-3z"/><path class="ea" d="M996 262l-6 3l6 2l6-3z"/><path class="oa" d="M1002 264l-6 3l7 8l6-3z"/><path class="la" d="M1009 272l-6 3l10 19l6-4z"/><path class="pa" d="M1019 290l-6 4l12 24l6-6z"/><path class="qa" d="M1031 312l-6 6l13 17l6-7z"/><path class="y" d="M1044 328l-6 7l12 9l6-6z"/><path class="f" d="M1056 338l-6 6l12 4l6-4zM1068 344l-6 4l10 5l6-3z"/><path class="y" d="M1078 350l-6 3l7 9l6-4z"/><path class="ra" d="M1085 358l-6 4l6 10l7-3z"/><path class="sa" d="M1092 369l-7 3l10 30l6-4z"/><path class="ta" d="M1101 398l-6 4l13 53l6-3z"/><path class="T" d="M1114 452l-6 3l12 24l6-1z"/><path class="G" d="M1126 478l-6 1l10 9l6 0z"/><path class="X" d="M1136 488l-6 0l10 3l6 0z"/><path class="c" d="M1146 491l-6 0l8 2l6 0z"/><path class="X" d="M1154 493l-6 0l6 4l6 0z"/><path class="r" d="M1160 497l-6 0l5 6l6 0z"/><path class="ua" d="M1165 503l-6 0l2 5l7 0z"/><path class="c" d="M666 201l-9-1l2-1l9 1z"/><path class="ea" d="M668 200l-9-1l5 3l9 0z"/><path class="va" d="M673 202l-9 0l7 10l9 0z"/><path class="i" d="M680 212l-9 0l8 15l9 0z"/><path class="g" d="M688 227l-9 0l9 15l9-1z"/><path class="ea" d="M697 241l-9 1l10 5l10-1z"/><path class="c" d="M708 246l-10 1l12-11l9-4zM719 232l-9 4l13-41l9-13zM732 182l-9 13l10-26l9-11z"/><path class="ea" d="M742 158l-9 11l6-5l10-10z"/><path class="ia" d="M749 154l-10 10l7 5l9-12z"/><path class="wa" d="M755 157l-9 12l10 18l9-17z"/><path class="xa" d="M765 170l-9 17l12 23l9-24z"/><path class="ya" d="M777 186l-9 24l13 11l9-26z"/><path class="za" d="M790 195l-9 26l12-3l9-24z"/><path class="f" d="M802 194l-9 24l12-16l10-17z"/><path class="ea" d="M815 185l-10 17l10-12l9-12z"/><path class="ka" d="M824 178l-9 12l7-2l9-10z"/><path class="ja" d="M831 178l-9 10l7 7l9-12z"/><path class="xa" d="M838 183l-9 12l9 21l10-18z"/><path class="Aa" d="M848 198l-10 18l13 25l9-24z"/><path class="ya" d="M860 217l-9 24l12 13l9-26z"/><path class="pa" d="M872 228l-9 26l13-2l9-24z"/><path class="Ba" d="M885 228l-9 24l12-14l9-18z"/><path class="ea" d="M897 220l-9 18l10-12l9-12z"/><path class="ka" d="M907 214l-9 12l7-1l9-10z"/><path class="la" d="M914 215l-9 10l6 8l9-12z"/><path class="xa" d="M920 221l-9 12l10 22l9-18z"/><path class="Ca" d="M930 237l-9 18l12 26l10-23z"/><path class="ya" d="M943 258l-10 23l13 15l9-26z"/><path class="pa" d="M955 270l-9 26l12 0l9-23z"/><path class="Da" d="M967 273l-9 23l13-11l9-17z"/><path class="ka" d="M980 268l-9 17l10-8l9-12z"/><path class="Da" d="M990 265l-9 12l6 1l9-11z"/><path class="la" d="M996 267l-9 11l7 9l9-12z"/><path class="ya" d="M1003 275l-9 12l10 24l9-17z"/><path class="Ea" d="M1013 294l-9 17l12 29l9-22z"/><path class="Fa" d="M1025 318l-9 22l12 19l10-24z"/><path class="Ga" d="M1038 335l-10 24l13 6l9-21z"/><path class="ra" d="M1050 344l-9 21l12-2l9-15z"/><path class="y" d="M1062 348l-9 15l10 1l9-11z"/><path class="fa" d="M1072 353l-9 11l7 7l9-9z"/><path class="Ha" d="M1079 362l-9 9l6 11l9-10z"/><path class="Ia" d="M1085 372l-9 10l10 31l9-11z"/><path class="Ja" d="M1095 402l-9 11l13 46l9-4z"/><path class="O" d="M1108 455l-9 4l12 22l9-2z"/><path class="G" d="M1120 479l-9 2l10 9l9-2z"/><path class="X" d="M1130 488l-9 2l9 2l10-1z"/><path class="c" d="M1140 491l-10 1l9 1l9 0z"/><path class="X" d="M1148 493l-9 0l6 4l9 0z"/><path class="V" d="M1154 497l-9 0l5 7l9-1z"/><path class="Ka" d="M1159 503l-9 1l2 4l9 0z"/><path class="c" d="M657 200l-12 0l3 0l11-1z"/><path class="ea" d="M659 199l-11 1l5 2l11 0z"/><path class="h" d="M664 202l-11 0l6 11l12-1z"/><path class="A" d="M671 212l-12 1l8 15l12-1z"/><path class="i" d="M679 227l-12 1l10 15l11-1z"/><path class="x" d="M688 242l-11 1l10 6l11-2z"/><path class="c" d="M698 247l-11 2l12-11l11-2zM710 236l-11 2l12-29l12-14zM723 195l-12 14l10-26l12-14z"/><path class="ea" d="M733 169l-12 14l7-6l11-13z"/><path class="ja" d="M739 164l-11 13l7 7l11-15z"/><path class="xa" d="M746 169l-11 15l9 24l12-21z"/><path class="Ea" d="M756 187l-12 21l13 30l11-28z"/><path class="La" d="M768 210l-11 28l12 14l12-31z"/><path class="ra" d="M781 221l-12 31l13-6l11-28z"/><path class="ea" d="M793 218l-11 28l12-23l11-21z"/><path class="c k1" d="M805 202l-11 21l10-19l11-14z"/><path class="ea" d="M815 190l-11 14l7-3l11-13z"/><path class="la" d="M822 188l-11 13l6 8l12-14z"/><path class="Aa" d="M829 195l-12 14l10 27l11-20z"/><path class="Ca" d="M838 216l-11 20l12 33l12-28z"/><path class="Fa" d="M851 241l-12 28l13 16l11-31z"/><path class="ra" d="M863 254l-11 31l12-5l12-28z"/><path class="ea" d="M876 252l-12 28l13-21l11-21z"/><path class="c k1" d="M888 238l-11 21l10-18l11-15z"/><path class="ka" d="M898 226l-11 15l6-3l12-13z"/><path class="la" d="M905 225l-12 13l7 10l11-15z"/><path class="Aa" d="M911 233l-11 15l10 27l11-20z"/><path class="Ea" d="M921 255l-11 20l12 34l11-28z"/><path class="Fa" d="M933 281l-11 28l12 18l12-31z"/><path class="Ha" d="M946 296l-12 31l13-3l11-28z"/><path class="x" d="M958 296l-11 28l12-18l12-21z"/><path class="Ma k1" d="M971 285l-12 21l10-15l12-14z"/><path class="f" d="M981 277l-12 14l7 0l11-13z"/><path class="pa" d="M987 278l-11 13l6 11l12-15z"/><path class="Ca" d="M994 287l-12 15l10 29l12-20z"/><path class="Na" d="M1004 311l-12 20l13 36l11-27z"/><path class="sa" d="M1016 340l-11 27l12 20l11-28z"/><path class="Oa" d="M1028 359l-11 28l12 4l12-26z"/><path class="h" d="M1041 365l-12 26l13-9l11-19z"/><path class="f" d="M1053 363l-11 19l10-4l11-14z"/><path class="Pa" d="M1063 364l-11 14l6 5l12-12z"/><path class="Oa" d="M1070 371l-12 12l7 12l11-13z"/><path class="Ia" d="M1076 382l-11 13l10 31l11-13z"/><path class="Qa" d="M1086 413l-11 13l13 36l11-3z"/><path class="n" d="M1099 459l-11 3l11 21l12-2z"/><path class="G" d="M1111 481l-12 2l11 9l11-2z"/><path class="X" d="M1121 490l-11 2l9 2l11-2z"/><path class="c" d="M1130 492l-11 2l8 1l12-2z"/><path class="X" d="M1139 493l-12 2l7 4l11-2z"/><path class="V" d="M1145 497l-11 2l4 7l12-2z"/><path class="Ra" d="M1150 504l-12 2l3 4l11-2z"/><path class="c" d="M645 200l-11 2l2-1l12-1z"/><path class="ea" d="M648 200l-12 1l5 3l12-2z"/><path class="i" d="M653 202l-12 2l7 10l11-1z"/><path class="A" d="M659 213l-11 1l8 17l11-3z"/><path class="i" d="M667 228l-11 3l9 15l12-3z"/><path class="x" d="M677 243l-12 3l11 5l11-2z"/><path class="c" d="M687 249l-11 2l11-10l12-3zM699 238l-12 3l13-29l11-3zM711 209l-11 3l10-23l11-6zM721 183l-11 6l7-5l11-7z"/><path class="Da" d="M728 177l-11 7l6 7l12-7z"/><path class="Sa" d="M735 184l-12 7l10 26l11-9z"/><path class="La" d="M744 208l-11 9l12 33l12-12z"/><path class="fa" d="M757 238l-12 12l13 15l11-13z"/><path class="ea" d="M769 252l-11 13l12-7l12-12z"/><path class="c k1" d="M782 246l-12 12l13-26l11-9zM794 223l-11 9l10-21l11-7zM804 204l-11 7l6-4l12-6z"/><path class="ia" d="M811 201l-12 6l7 9l11-7z"/><path class="Ta" d="M817 209l-11 7l10 30l11-10z"/><path class="La" d="M827 236l-11 10l12 35l11-12z"/><path class="Ha" d="M839 269l-11 12l12 17l12-13z"/><path class="ea" d="M852 285l-12 13l13-6l11-12z"/><path class="c k1" d="M864 280l-11 12l12-24l12-9zM877 259l-12 9l10-20l12-7zM887 241l-12 7l7-3l11-7z"/><path class="ja" d="M893 238l-11 7l6 10l12-7z"/><path class="ya" d="M900 248l-12 7l10 30l12-10z"/><path class="Fa" d="M910 275l-12 10l13 37l11-13z"/><path class="Ha" d="M922 309l-11 13l12 18l11-13z"/><path class="x" d="M934 327l-11 13l12-4l12-12z"/><path class="c k1" d="M947 324l-12 12l13-21l11-9zM959 306l-11 9l10-16l11-8z"/><path class="ea k1" d="M969 291l-11 8l6-1l12-7z"/><path class="qa" d="M976 291l-12 7l7 11l11-7z"/><path class="Fa" d="M982 302l-11 7l10 32l11-10z"/><path class="Ua" d="M992 331l-11 10l12 38l12-12z"/><path class="Oa" d="M1005 367l-12 12l13 21l11-13z"/><path class="g" d="M1017 387l-11 13l12 3l11-12z"/><path class="c k1" d="M1029 391l-11 12l12-11l12-10zM1042 382l-12 10l10-7l12-7z"/><path class="va" d="M1052 378l-12 7l7 5l11-7z"/><path class="fa" d="M1058 383l-11 7l6 11l12-6z"/><path class="Va" d="M1065 395l-12 6l10 28l12-3z"/><path class="Wa" d="M1075 426l-12 3l13 36l12-3z"/><path class="n" d="M1088 462l-12 3l12 22l11-4z"/><path class="G" d="M1099 483l-11 4l10 8l12-3z"/><path class="X" d="M1110 492l-12 3l10 2l11-3z"/><path class="c" d="M1119 494l-11 3l8 1l11-3z"/><path class="X" d="M1127 495l-11 3l6 4l12-3z"/><path class="V" d="M1134 499l-12 3l5 6l11-2z"/><path class="Ra" d="M1138 506l-11 2l2 5l12-3z"/><path class="c" d="M634 202l-11 3l2-1l11-3z"/><path class="x" d="M636 201l-11 3l5 3l11-3z"/><path class="y" d="M641 204l-11 3l6 10l12-3z"/><path class="fa" d="M648 214l-12 3l8 16l12-2z"/><path class="i" d="M656 231l-12 2l10 16l11-3z"/><path class="x" d="M665 246l-11 3l10 5l12-3z"/><path class="c" d="M676 251l-12 3l12-10l11-3zM687 241l-11 3l13-29l11-3zM700 212l-11 3l10-27l11 1zM710 189l-11-1l6-5l12 1z"/><path class="ea" d="M717 184l-12-1l7 6l11 2z"/><path class="qa" d="M723 191l-11-2l10 24l11 4z"/><path class="ra" d="M733 217l-11-4l12 31l11 6z"/><path class="ea" d="M745 250l-11-6l12 14l12 7z"/><path class="c k1" d="M758 265l-12-7l13-6l11 6zM770 258l-11-6l12-24l12 4zM783 232l-12-4l10-19l12 2zM793 211l-12-2l7-3l11 1z"/><path class="ka" d="M799 207l-11-1l6 8l12 2z"/><path class="za" d="M806 216l-12-2l10 27l12 5z"/><path class="ra" d="M816 246l-12-5l13 34l11 6z"/><path class="ea" d="M828 281l-11-6l12 16l11 7z"/><path class="c k1" d="M840 298l-11-7l12-5l12 6zM853 292l-12-6l13-22l11 4zM865 268l-11-4l10-18l11 2zM875 248l-11-2l6-2l12 1z"/><path class="ka" d="M882 245l-12-1l7 9l11 2z"/><path class="pa" d="M888 255l-11-2l10 28l11 4z"/><path class="za" d="M898 285l-11-4l12 35l12 6z"/><path class="x" d="M911 322l-12-6l13 17l11 7z"/><path class="c k1" d="M923 340l-11-7l12-2l11 5zM935 336l-11-5l12-19l12 3zM948 315l-12-3l10-14l12 1zM958 299l-12-1l7-1l11 1z"/><path class="Da" d="M964 298l-11-1l6 11l12 1z"/><path class="Xa" d="M971 309l-12-1l10 30l12 3z"/><path class="Ha" d="M981 341l-12-3l13 36l11 5z"/><path class="f" d="M993 379l-11-5l12 21l12 5z"/><path class="c k1" d="M1006 400l-12-5l13 4l11 4zM1018 403l-11-4l12-9l11 2zM1030 392l-11-2l10-5l11 0z"/><path class="x" d="M1040 385l-11 0l6 6l12-1z"/><path class="i" d="M1047 390l-12 1l7 11l11-1z"/><path class="Ya" d="M1053 401l-11 1l10 31l11-4z"/><path class="Wa" d="M1063 429l-11 4l13 36l11-4z"/><path class="n" d="M1076 465l-11 4l11 21l12-3z"/><path class="G" d="M1088 487l-12 3l11 9l11-4z"/><path class="X" d="M1098 495l-11 4l9 2l12-4zM1108 497l-12 4l8 0l12-3zM1116 498l-12 3l7 4l11-3z"/><path class="V" d="M1122 502l-11 3l5 6l11-3z"/><path class="n" d="M1127 508l-11 3l2 5l11-3z"/><path class="c" d="M623 205l-12 3l2-1l12-3z"/><path class="x" d="M625 204l-12 3l5 3l12-3z"/><path class="y" d="M630 207l-12 3l7 10l11-3z"/><path class="Za" d="M636 217l-11 3l8 17l11-4z"/><path class="z" d="M644 233l-11 4l9 15l12-3z"/><path class="x" d="M654 249l-12 3l11 6l11-4z"/><path class="c" d="M664 254l-11 4l11-11l12-3zM676 244l-12 3l13-42l12 10zM689 215l-12-10l10-26l12 9zM699 188l-12-9l7-5l11 9zM705 183l-11-9l6 5l12 10z"/><path class="ka" d="M712 189l-12-10l10 19l12 15z"/><path class="ea k1" d="M722 213l-12-15l13 23l11 23z"/><path class="c k1" d="M734 244l-11-23l12 11l11 26zM746 258l-11-26l12-4l12 24zM759 252l-12-24l13-16l11 16zM771 228l-11-16l10-13l11 10zM781 209l-11-10l6-2l12 9zM788 206l-12-9l7 7l11 10z"/><path class="ka" d="M794 214l-11-10l10 21l11 16z"/><path class="ea" d="M804 241l-11-16l12 26l12 24z"/><path class="c k1" d="M817 275l-12-24l13 13l11 27zM829 291l-11-27l12-2l11 24zM841 286l-11-24l12-14l12 16zM854 264l-12-16l10-12l12 10zM864 246l-12-10l7-1l11 9z"/><path class="ea k1" d="M870 244l-11-9l6 8l12 10z"/><path class="Da" d="M877 253l-12-10l10 22l12 16z"/><path class="ea" d="M887 281l-12-16l13 28l11 23z"/><path class="c k1" d="M899 316l-11-23l12 15l12 25zM912 333l-12-25l13 0l11 23zM924 331l-11-23l12-11l11 15zM936 312l-11-15l10-8l11 9zM946 298l-11-9l6 1l12 7z"/><path class="ea" d="M953 297l-12-7l7 10l11 8z"/><path class="oa" d="M959 308l-11-8l10 24l11 14z"/><path class="f" d="M969 338l-11-14l12 30l12 20z"/><path class="c k1" d="M982 374l-12-20l13 19l11 22zM994 395l-11-22l12 7l12 19zM1007 399l-12-19l13-2l11 12zM1019 390l-11-12l9 1l12 6z"/><path class="ea" d="M1029 385l-12-6l7 7l11 5z"/><path class="f" d="M1035 391l-11-5l7 10l11 6z"/><path class="ab" d="M1042 402l-11-6l10 30l11 7z"/><path class="Wa" d="M1052 433l-11-7l12 47l12-4z"/><path class="n" d="M1065 469l-12 4l12 21l11-4z"/><path class="G" d="M1076 490l-11 4l10 8l12-3z"/><path class="X" d="M1087 499l-12 3l10 2l11-3zM1096 501l-11 3l8 1l11-4zM1104 501l-11 4l6 3l12-3z"/><path class="V" d="M1111 505l-12 3l5 6l12-3z"/><path class="n" d="M1116 511l-12 3l3 5l11-3z"/><path class="c" d="M611 208l-9 3l2-1l9-3z"/><path class="x" d="M613 207l-9 3l5 3l9-3z"/><path class="y" d="M618 210l-9 3l7 10l9-3z"/><path class="Za" d="M625 220l-9 3l8 17l9-3z"/><path class="z" d="M633 237l-9 3l9 15l9-3z"/><path class="x" d="M642 252l-9 3l11 6l9-3z"/><path class="c" d="M653 258l-9 3l11-14l9 0zM664 247l-9 0l13-52l9 10zM677 205l-9-10l10-24l9 8zM687 179l-9-8l7-4l9 7zM694 174l-9-7l6 4l9 8z"/><path class="c k1" d="M700 179l-9-8l10 13l9 14zM710 198l-9-14l12 16l10 21zM723 221l-10-21l13 9l9 23zM735 232l-9-23l12-2l9 21zM747 228l-9-21l13-9l9 14zM760 212l-9-14l10-9l9 10zM770 199l-9-10l6 0l9 8zM776 197l-9-8l7 5l9 10z"/><path class="ea k1" d="M783 204l-9-10l10 16l9 15z"/><path class="c k1" d="M793 225l-9-15l12 19l9 22zM805 251l-9-22l12 11l10 24zM818 264l-10-24l13 1l9 21zM830 262l-9-21l12-8l9 15zM842 248l-9-15l10-6l9 9zM852 236l-9-9l7 0l9 8zM859 235l-9-8l6 7l9 9z"/><path class="ea" d="M865 243l-9-9l10 17l9 14z"/><path class="c k1" d="M875 265l-9-14l13 21l9 21zM888 293l-9-21l12 13l9 23zM900 308l-9-23l12 4l10 19zM913 308l-10-19l13-5l9 13zM925 297l-9-13l10-3l9 8zM935 289l-9-8l6 3l9 6z"/><path class="ea" d="M941 290l-9-6l7 8l9 8z"/><path class="ka" d="M948 300l-9-8l10 20l9 12z"/><path class="ea k1" d="M958 324l-9-12l12 24l9 18z"/><path class="c k1" d="M970 354l-9-18l13 18l9 19zM983 373l-9-19l12 9l9 17zM995 380l-9-17l12 4l10 11zM1008 378l-10-11l10 6l9 6z"/><path class="ea" d="M1017 379l-9-6l7 8l9 5z"/><path class="x" d="M1024 386l-9-5l7 10l9 5z"/><path class="Za" d="M1031 396l-9-5l9 29l10 6z"/><path class="bb" d="M1041 426l-10-6l13 53l9 0z"/><path class="n" d="M1053 473l-9 0l12 24l9-3z"/><path class="G" d="M1065 494l-9 3l10 9l9-4z"/><path class="X" d="M1075 502l-9 4l10 1l9-3zM1085 504l-9 3l8 1l9-3zM1093 505l-9 3l6 3l9-3z"/><path class="aa" d="M1099 508l-9 3l5 6l9-3z"/><path class="n" d="M1104 514l-9 3l2 5l10-3z"/><path class="c" d="M602 211l-6 1l2 0l6-2z"/><path class="x" d="M604 210l-6 2l5 3l6-2z"/><path class="y" d="M609 213l-6 2l7 10l6-2z"/><path class="Za" d="M616 223l-6 2l8 17l6-2z"/><path class="A" d="M624 240l-6 2l9 15l6-2z"/><path class="x" d="M633 255l-6 2l11 6l6-2z"/><path class="c" d="M644 261l-6 2l11-17l6 1zM655 247l-6-1l13-52l6 1zM668 195l-6-1l10-24l6 1zM678 171l-6-1l6-4l7 1z"/><path class="ea" d="M685 167l-7-1l7 4l6 1z"/><path class="cb" d="M691 171l-6-1l10 11l6 3z"/><path class="ea" d="M701 184l-6-3l12 15l6 4z"/><path class="c k1" d="M713 200l-6-4l13 8l6 5zM726 209l-6-5l12-1l6 4zM738 207l-6-4l13-8l6 3zM751 198l-6-3l9-7l7 1zM761 189l-7-1l7 0l6 1z"/><path class="ea" d="M767 189l-6-1l7 5l6 1z"/><path class="ka" d="M774 194l-6-1l10 14l6 3z"/><path class="ea" d="M784 210l-6-3l12 18l6 4z"/><path class="c k1" d="M796 229l-6-4l12 10l6 5zM808 240l-6-5l13 1l6 5zM821 241l-6-5l12-6l6 3zM833 233l-6-3l10-5l6 2zM843 227l-6-2l7 1l6 1z"/><path class="ea" d="M850 227l-6-1l6 7l6 1z"/><path class="ma" d="M856 234l-6-1l10 16l6 2z"/><path class="ka" d="M866 251l-6-2l13 19l6 4z"/><path class="c k1" d="M879 272l-6-4l12 13l6 4zM891 285l-6-4l12 4l6 4zM903 289l-6-4l13-3l6 2zM916 284l-6-2l10-2l6 1zM926 281l-6-1l6 3l6 1z"/><path class="ka" d="M932 284l-6-1l7 8l6 1z"/><path class="ia" d="M939 292l-6-1l10 19l6 2z"/><path class="Da" d="M949 312l-6-2l12 23l6 3z"/><path class="ea" d="M961 336l-6-3l13 17l6 4z"/><path class="c k1" d="M974 354l-6-4l12 10l6 3zM986 363l-6-3l12 6l6 1z"/><path class="ea k1" d="M998 367l-6-1l10 6l6 1z"/><path class="f" d="M1008 373l-6-1l7 9l6 0z"/><path class="Da" d="M1015 381l-6 0l6 9l7 1z"/><path class="db" d="M1022 391l-7-1l10 30l6 0z"/><path class="eb" d="M1031 420l-6 0l13 53l6 0z"/><path class="O" d="M1044 473l-6 0l12 26l6-2z"/><path class="G" d="M1056 497l-6 2l10 9l6-2z"/><path class="X" d="M1066 506l-6 2l10 1l6-2zM1076 507l-6 2l8 1l6-2zM1084 508l-6 2l6 3l6-2z"/><path class="aa" d="M1090 511l-6 2l5 6l6-2z"/><path class="n" d="M1095 517l-6 2l2 5l6-2z"/><path class="c" d="M596 212l-6 2l2 0l6-2z"/><path class="x" d="M598 212l-6 2l5 3l6-2z"/><path class="y" d="M603 215l-6 2l7 10l6-2z"/><path class="Za" d="M610 225l-6 2l8 17l6-2z"/><path class="A" d="M618 242l-6 2l9 15l6-2z"/><path class="x" d="M627 257l-6 2l11 6l6-2z"/><path class="c" d="M638 263l-6 2l11-14l6-5zM649 246l-6 5l13-51l6-6zM662 194l-6 6l10-25l6-5zM672 170l-6 5l6-4l6-5z"/><path class="ma" d="M678 166l-6 5l7 4l6-5z"/><path class="ja" d="M685 170l-6 5l10 13l6-7z"/><path class="la" d="M695 181l-6 7l12 16l6-8z"/><path class="ja" d="M707 196l-6 8l13 9l6-9z"/><path class="fb" d="M720 204l-6 9l12-1l6-9z"/><path class="ea k1" d="M732 203l-6 9l12-11l7-6z"/><path class="c k1" d="M745 195l-7 6l10-8l6-5z"/><path class="ea" d="M754 188l-6 5l7 0l6-5z"/><path class="gb" d="M761 188l-6 5l7 5l6-5z"/><path class="la" d="M768 193l-6 5l9 16l7-7z"/><path class="hb" d="M778 207l-7 7l13 19l6-8z"/><path class="la" d="M790 225l-6 8l12 11l6-9z"/><path class="Da" d="M802 235l-6 9l13 1l6-9z"/><path class="ea" d="M815 236l-6 9l12-8l6-7z"/><path class="ea k1" d="M827 230l-6 7l10-6l6-6z"/><path class="ka" d="M837 225l-6 6l7 0l6-5z"/><path class="gb" d="M844 226l-6 5l6 7l6-5z"/><path class="hb" d="M850 233l-6 5l10 17l6-6zM860 249l-6 6l12 22l7-9z"/><path class="la" d="M873 268l-7 9l13 13l6-9z"/><path class="ia" d="M885 281l-6 9l12 3l6-8z"/><path class="ea" d="M897 285l-6 8l13-5l6-6zM910 282l-6 6l10-3l6-5z"/><path class="ka" d="M920 280l-6 5l6 3l6-5z"/><path class="ja" d="M926 283l-6 5l7 9l6-6z"/><path class="ib" d="M933 291l-6 6l10 19l6-6z"/><path class="jb" d="M943 310l-6 6l12 25l6-8z"/><path class="pa" d="M955 333l-6 8l12 17l7-8z"/><path class="ra" d="M968 350l-7 8l13 10l6-8z"/><path class="Da" d="M980 360l-6 8l12 4l6-6zM992 366l-6 6l10 5l6-5z"/><path class="y" d="M1002 372l-6 5l7 8l6-4z"/><path class="ra" d="M1009 381l-6 4l6 10l6-5z"/><path class="sa" d="M1015 390l-6 5l10 29l6-4z"/><path class="kb" d="M1025 420l-6 4l13 54l6-5z"/><path class="lb" d="M1038 473l-6 5l12 23l6-2z"/><path class="G" d="M1050 499l-6 2l10 9l6-2z"/><path class="X" d="M1060 508l-6 2l10 1l6-2zM1070 509l-6 2l8 1l6-2zM1078 510l-6 2l6 3l6-2z"/><path class="aa" d="M1084 513l-6 2l5 6l6-2z"/><path class="n" d="M1089 519l-6 2l2 5l6-2z"/><path class="c" d="M590 214l-9 4l2-1l9-3z"/><path class="x" d="M592 214l-9 3l5 3l9-3z"/><path class="y" d="M597 217l-9 3l6 10l10-3z"/><path class="Za" d="M604 227l-10 3l8 17l10-3z"/><path class="A" d="M612 244l-10 3l10 15l9-3z"/><path class="x" d="M621 259l-9 3l10 6l10-3z"/><path class="c" d="M632 265l-10 3l12-10l9-7zM643 251l-9 7l13-43l9-15zM656 200l-9 15l10-26l9-14z"/><path class="ea" d="M666 175l-9 14l6-5l9-13z"/><path class="ja" d="M672 171l-9 13l7 6l9-15z"/><path class="xa" d="M679 175l-9 15l10 18l9-20z"/><path class="mb" d="M689 188l-9 20l12 23l9-27z"/><path class="xa" d="M701 204l-9 27l13 12l9-30z"/><path class="ib" d="M714 213l-9 30l12-4l9-27z"/><path class="Da" d="M726 212l-9 27l12-17l9-21z"/><path class="ea" d="M738 201l-9 21l10-14l9-15z"/><path class="ma" d="M748 193l-9 15l7-1l9-14z"/><path class="nb" d="M755 193l-9 14l6 6l10-15z"/><path class="ob" d="M762 198l-10 15l10 21l9-20z"/><path class="mb" d="M771 214l-9 20l13 27l9-28z"/><path class="Aa" d="M784 233l-9 28l12 13l9-30z"/><path class="jb" d="M796 244l-9 30l13-2l9-27z"/><path class="ia" d="M809 245l-9 27l12-15l9-20z"/><path class="ka" d="M821 237l-9 20l10-11l9-15z"/><path class="ma" d="M831 231l-9 15l6-1l10-14z"/><path class="hb" d="M838 231l-10 14l7 8l9-15z"/><path class="pb" d="M844 238l-9 15l10 23l9-21z"/><path class="mb" d="M854 255l-9 21l12 27l9-26z"/><path class="Ca" d="M866 277l-9 26l13 16l9-29z"/><path class="jb" d="M879 290l-9 29l12 0l9-26z"/><path class="ia" d="M891 293l-9 26l13-11l9-20z"/><path class="f" d="M904 288l-9 20l9-8l10-15z"/><path class="ia" d="M914 285l-10 15l7 1l9-13z"/><path class="hb" d="M920 288l-9 13l7 10l9-14z"/><path class="Aa" d="M927 297l-9 14l10 24l9-19z"/><path class="Ea" d="M937 316l-9 19l12 31l9-25zM949 341l-9 25l12 19l9-27z"/><path class="qb" d="M961 358l-9 27l13 6l9-23z"/><path class="fa" d="M974 368l-9 23l12-2l9-17z"/><path class="y" d="M986 372l-9 17l10 1l9-13z"/><path class="Ha" d="M996 377l-9 13l7 7l9-12z"/><path class="Xa" d="M1003 385l-9 12l6 10l9-12z"/><path class="rb" d="M1009 395l-9 12l10 30l9-13z"/><path class="ta" d="M1019 424l-9 13l13 47l9-6z"/><path class="O" d="M1032 478l-9 6l11 21l10-4z"/><path class="G" d="M1044 501l-10 4l11 8l9-3z"/><path class="X" d="M1054 510l-9 3l9 2l10-4zM1064 511l-10 4l8 0l10-3zM1072 512l-10 3l7 3l9-3z"/><path class="aa" d="M1078 515l-9 3l5 7l9-4z"/><path class="n" d="M1083 521l-9 4l2 4l9-3z"/><path class="c" d="M581 218l-12 4l3-1l11-4z"/><path class="x" d="M583 217l-11 4l4 3l12-4z"/><path class="y" d="M588 220l-12 4l7 10l11-4z"/><path class="Za" d="M594 230l-11 4l8 17l11-4z"/><path class="A" d="M602 247l-11 4l9 15l12-4z"/><path class="x" d="M612 262l-12 4l11 6l11-4z"/><path class="c" d="M622 268l-11 4l12-10l11-4zM634 258l-11 4l12-29l12-18zM647 215l-12 18l10-27l12-17z"/><path class="ea" d="M657 189l-12 17l7-6l11-16z"/><path class="la" d="M663 184l-11 16l6 7l12-17z"/><path class="Aa" d="M670 190l-12 17l10 24l12-23z"/><path class="Ca" d="M680 208l-12 23l13 31l11-31z"/><path class="Fa" d="M692 231l-11 31l12 14l12-33z"/><path class="qa" d="M705 243l-12 33l13-6l11-31z"/><path class="ea" d="M717 239l-11 31l12-24l11-24z"/><path class="c k1" d="M729 222l-11 24l10-20l11-18z"/><path class="ka" d="M739 208l-11 18l6-3l12-16z"/><path class="hb" d="M746 207l-12 16l7 8l11-18z"/><path class="mb" d="M752 213l-11 18l10 27l11-24z"/><path class="sb" d="M762 234l-11 24l12 34l12-31z"/><path class="Fa" d="M775 261l-12 31l13 16l11-34z"/><path class="za" d="M787 274l-11 34l12-5l12-31z"/><path class="ea" d="M800 272l-12 31l13-22l11-24z"/><path class="c k1" d="M812 257l-11 24l9-18l12-17z"/><path class="ka" d="M822 246l-12 17l7-2l11-16z"/><path class="hb" d="M828 245l-11 16l7 10l11-18z"/><path class="mb" d="M835 253l-11 18l10 28l11-23z"/><path class="sb" d="M845 276l-11 23l12 35l11-31z"/><path class="Ea" d="M857 303l-11 31l12 18l12-33z"/><path class="tb" d="M870 319l-12 33l13-2l11-31z"/><path class="f" d="M882 319l-11 31l12-19l12-23z"/><path class="ea" d="M895 308l-12 23l10-14l11-17z"/><path class="Da" d="M904 300l-11 17l7 0l11-16z"/><path class="jb" d="M911 301l-11 16l6 11l12-17z"/><path class="Ca" d="M918 311l-12 17l10 30l12-23z"/><path class="ub" d="M928 335l-12 23l13 36l11-28z"/><path class="rb" d="M940 366l-11 28l12 21l11-30z"/><path class="Oa" d="M952 385l-11 30l12 3l12-27z"/><path class="h" d="M965 391l-12 27l13-8l11-21z"/><path class="f" d="M977 389l-11 21l10-5l11-15z"/><path class="ra" d="M987 390l-11 15l6 5l12-13z"/><path class="Oa" d="M994 397l-12 13l7 11l11-14z"/><path class="Ia" d="M1000 407l-11 14l10 31l11-15z"/><path class="vb" d="M1010 437l-11 15l12 36l12-4z"/><path class="n" d="M1023 484l-12 4l12 21l11-4z"/><path class="G" d="M1034 505l-11 4l11 8l11-4z"/><path class="X" d="M1045 513l-11 4l9 2l11-4zM1054 515l-11 4l8 0l11-4zM1062 515l-11 4l7 4l11-5z"/><path class="aa" d="M1069 518l-11 5l4 6l12-4z"/><path class="n" d="M1074 525l-12 4l3 4l11-4z"/><path class="c" d="M569 222l-11 4l2-1l12-4z"/><path class="x" d="M572 221l-12 4l5 3l11-4z"/><path class="y" d="M576 224l-11 4l7 10l11-4z"/><path class="Za" d="M583 234l-11 4l8 17l11-4z"/><path class="A" d="M591 251l-11 4l9 16l11-5z"/><path class="x" d="M600 266l-11 5l11 6l11-5z"/><path class="c" d="M611 272l-11 5l11-11l12-4zM623 262l-12 4l13-29l11-4zM635 233l-11 4l10-23l11-8zM645 206l-11 8l6-6l12-8z"/><path class="ia" d="M652 200l-12 8l7 8l11-9z"/><path class="Ta" d="M658 207l-11 9l10 27l11-12z"/><path class="La" d="M668 231l-11 12l12 33l12-14z"/><path class="Ha" d="M681 262l-12 14l13 15l11-15z"/><path class="ea" d="M693 276l-11 15l12-7l12-14z"/><path class="c k1" d="M706 270l-12 14l13-27l11-11zM718 246l-11 11l9-22l12-9zM728 226l-12 9l7-4l11-8z"/><path class="ja" d="M734 223l-11 8l7 9l11-9z"/><path class="xa" d="M741 231l-11 9l10 30l11-12z"/><path class="wb" d="M751 258l-11 12l12 36l11-14z"/><path class="Ha" d="M763 292l-11 14l12 17l12-15z"/><path class="x" d="M776 308l-12 15l13-6l11-14z"/><path class="c k1" d="M788 303l-11 14l12-24l12-12zM801 281l-12 12l10-21l11-9z"/><path class="ea k1" d="M810 263l-11 9l7-2l11-9z"/><path class="ja" d="M817 261l-11 9l6 10l12-9z"/><path class="xa" d="M824 271l-12 9l10 31l12-12z"/><path class="Fa" d="M834 299l-12 12l13 37l11-14z"/><path class="xb" d="M846 334l-11 14l12 19l11-15z"/><path class="f" d="M858 352l-11 15l12-3l12-14z"/><path class="c k1" d="M871 350l-12 14l13-22l11-11zM883 331l-11 11l10-16l11-9z"/><path class="ea" d="M893 317l-11 9l6-1l12-8z"/><path class="za" d="M900 317l-12 8l7 12l11-9z"/><path class="wb" d="M906 328l-11 9l10 32l11-11z"/><path class="Ua" d="M916 358l-11 11l12 38l12-13z"/><path class="Oa" d="M929 394l-12 13l12 22l12-14z"/><path class="g" d="M941 415l-12 14l13 2l11-13z"/><path class="c k1" d="M953 418l-11 13l12-11l12-10zM966 410l-12 10l10-7l12-8z"/><path class="Da" d="M976 405l-12 8l7 5l11-8z"/><path class="fa" d="M982 410l-11 8l6 10l12-7z"/><path class="yb" d="M989 421l-12 7l10 28l12-4z"/><path class="Wa" d="M999 452l-12 4l13 36l11-4z"/><path class="n" d="M1011 488l-11 4l12 21l11-4z"/><path class="G" d="M1023 509l-11 4l10 9l12-5z"/><path class="X" d="M1034 517l-12 5l10 1l11-4zM1043 519l-11 4l8 0l11-4zM1051 519l-11 4l6 4l12-4z"/><path class="aa" d="M1058 523l-12 4l5 6l11-4z"/><path class="n" d="M1062 529l-11 4l2 4l12-4z"/><path class="c" d="M558 226l-12 4l3-1l11-4z"/><path class="x" d="M560 225l-11 4l5 3l11-4z"/><path class="y" d="M565 228l-11 4l6 11l12-5z"/><path class="Za" d="M572 238l-12 5l8 16l12-4z"/><path class="A" d="M580 255l-12 4l10 16l11-4z"/><path class="e" d="M589 271l-11 4l10 6l12-4z"/><path class="c" d="M600 277l-12 4l12-11l11-4zM611 266l-11 4l13-29l11-4zM624 237l-11 4l9-27l12 0zM634 214l-12 0l7-5l11-1z"/><path class="ka" d="M640 208l-11 1l7 6l11 1z"/><path class="za" d="M647 216l-11-1l10 25l11 3z"/><path class="ra" d="M657 243l-11-3l12 31l11 5z"/><path class="ea" d="M669 276l-11-5l12 14l12 6z"/><path class="c k1" d="M682 291l-12-6l13-7l11 6zM694 284l-11-6l12-24l12 3zM707 257l-12-3l10-19l11 0zM716 235l-11 0l7-4l11 0z"/><path class="ka" d="M723 231l-11 0l6 8l12 1z"/><path class="ib" d="M730 240l-12-1l10 28l12 3z"/><path class="za" d="M740 270l-12-3l13 33l11 6z"/><path class="x" d="M752 306l-11-6l12 17l11 6z"/><path class="c k1" d="M764 323l-11-6l12-5l12 5zM777 317l-12-5l13-22l11 3zM789 293l-11-3l10-18l11 0zM799 272l-11 0l6-2l12 0z"/><path class="Da" d="M806 270l-12 0l7 9l11 1z"/><path class="ib" d="M812 280l-11-1l10 29l11 3z"/><path class="Ha" d="M822 311l-11-3l12 35l12 5z"/><path class="e" d="M835 348l-12-5l12 18l12 6z"/><path class="c k1" d="M847 367l-12-6l13-2l11 5zM859 364l-11-5l12-19l12 2zM872 342l-12-2l10-14l12 0zM882 326l-12 0l7 0l11-1z"/><path class="oa" d="M888 325l-11 1l6 11l12 0z"/><path class="Xa" d="M895 337l-12 0l10 29l12 3z"/><path class="xb" d="M905 369l-12-3l13 37l11 4z"/><path class="f" d="M917 407l-11-4l12 21l11 5z"/><path class="c k1" d="M929 429l-11-5l12 3l12 4zM942 431l-12-4l13-9l11 2zM954 420l-11-2l10-5l11 0z"/><path class="x" d="M964 413l-11 0l6 6l12-1z"/><path class="i" d="M971 418l-12 1l7 11l11-2z"/><path class="Ya" d="M977 428l-11 2l10 31l11-5z"/><path class="Wa" d="M987 456l-11 5l13 35l11-4z"/><path class="n" d="M1000 492l-11 4l11 22l12-5z"/><path class="G" d="M1012 513l-12 5l11 8l11-4z"/><path class="X" d="M1022 522l-11 4l9 1l12-4zM1032 523l-12 4l8 1l12-5zM1040 523l-12 5l7 3l11-4z"/><path class="aa" d="M1046 527l-11 4l5 6l11-4z"/><path class="n" d="M1051 533l-11 4l2 5l11-5z"/><path class="c" d="M546 230l-11 4l2 0l12-5z"/><path class="x" d="M549 229l-12 5l5 2l12-4z"/><path class="y" d="M554 232l-12 4l7 11l11-4z"/><path class="Za" d="M560 243l-11 4l8 17l11-5z"/><path class="A" d="M568 259l-11 5l9 15l12-4z"/><path class="e" d="M578 275l-12 4l11 6l11-4z"/><path class="c" d="M588 281l-11 4l11-10l12-5zM600 270l-12 5l13-43l12 9zM613 241l-12-9l10-26l11 8zM622 214l-11-8l7-5l11 8zM629 209l-11-8l6 6l12 8z"/><path class="ka" d="M636 215l-12-8l10 18l12 15z"/><path class="ea k1" d="M646 240l-12-15l13 23l11 23z"/><path class="c k1" d="M658 271l-11-23l12 12l11 25zM670 285l-11-25l12-4l12 22zM683 278l-12-22l13-17l11 15zM695 254l-11-15l10-14l11 10zM705 235l-11-10l6-2l12 8z"/><path class="ea k1" d="M712 231l-12-8l7 7l11 9z"/><path class="ma" d="M718 239l-11-9l10 21l11 16z"/><path class="ea" d="M728 267l-11-16l12 26l12 23z"/><path class="c k1" d="M741 300l-12-23l12 14l12 26zM753 317l-12-26l13-2l11 23zM765 312l-11-23l12-15l12 16zM778 290l-12-16l10-11l12 9zM788 272l-12-9l7-1l11 8z"/><path class="ea" d="M794 270l-11-8l6 8l12 9z"/><path class="Da" d="M801 279l-12-9l10 23l12 15z"/><path class="ea" d="M811 308l-12-15l13 28l11 22z"/><path class="c k1" d="M823 343l-11-22l12 15l11 25zM835 361l-11-25l12 1l12 22zM848 359l-12-22l13-11l11 14zM860 340l-11-14l10-9l11 9zM870 326l-11-9l6 2l12 7z"/><path class="ea" d="M877 326l-12-7l7 10l11 8z"/><path class="ia" d="M883 337l-11-8l10 24l11 13z"/><path class="f" d="M893 366l-11-13l12 30l12 20z"/><path class="c k1" d="M906 403l-12-20l13 19l11 22zM918 424l-11-22l12 7l11 18zM930 427l-11-18l12-2l12 11zM943 418l-12-11l10 0l12 6z"/><path class="ea" d="M953 413l-12-6l7 7l11 5z"/><path class="f" d="M959 419l-11-5l7 10l11 6z"/><path class="ab" d="M966 430l-11-6l9 31l12 6z"/><path class="Wa" d="M976 461l-12-6l13 46l12-5z"/><path class="n" d="M989 496l-12 5l12 21l11-4z"/><path class="G" d="M1000 518l-11 4l10 8l12-4z"/><path class="X" d="M1011 526l-12 4l10 2l11-5zM1020 527l-11 5l8 0l11-4zM1028 528l-11 4l6 3l12-4z"/><path class="aa" d="M1035 531l-12 4l5 7l12-5z"/><path class="n" d="M1040 537l-12 5l3 4l11-4z"/><path class="c" d="M535 234l-9 4l2-1l9-3z"/><path class="x" d="M537 234l-9 3l5 3l9-4z"/><path class="y" d="M542 236l-9 4l7 11l9-4z"/><path class="Za" d="M549 247l-9 4l8 16l9-3z"/><path class="A" d="M557 264l-9 3l9 16l9-4z"/><path class="e" d="M566 279l-9 4l11 6l9-4z"/><path class="c" d="M577 285l-9 4l11-14l9 0zM588 275l-9 0l13-52l9 9zM601 232l-9-9l10-24l9 7zM611 206l-9-7l6-4l10 6zM618 201l-10-6l7 4l9 8z"/><path class="ea k1" d="M624 207l-9-8l10 13l9 13z"/><path class="c k1" d="M634 225l-9-13l12 16l10 20zM647 248l-10-20l13 9l9 23zM659 260l-9-23l12-2l9 21zM671 256l-9-21l13-10l9 14zM684 239l-9-14l9-8l10 8zM694 225l-10-8l7-1l9 7zM700 223l-9-7l7 6l9 8z"/><path class="ea" d="M707 230l-9-8l10 15l9 14z"/><path class="c k1" d="M717 251l-9-14l12 20l9 20zM729 277l-9-20l12 11l9 23zM741 291l-9-23l13 0l9 21zM754 289l-9-21l12-7l9 13zM766 274l-9-13l10-7l9 9zM776 263l-9-9l7 1l9 7zM783 262l-9-7l6 7l9 8z"/><path class="ea" d="M789 270l-9-8l10 17l9 14z"/><path class="c k1" d="M799 293l-9-14l13 22l9 20zM812 321l-9-20l12 13l9 22zM824 336l-9-22l12 3l9 20zM836 337l-9-20l13-4l9 13zM849 326l-9-13l10-3l9 7zM859 317l-9-7l6 3l9 6z"/><path class="ea" d="M865 319l-9-6l7 8l9 8z"/><path class="ka" d="M872 329l-9-8l10 20l9 12z"/><path class="ea k1" d="M882 353l-9-12l12 24l9 18z"/><path class="c k1" d="M894 383l-9-18l13 18l9 19zM907 402l-9-19l12 9l9 17zM919 409l-9-17l12 5l9 10zM931 407l-9-10l10 5l9 5z"/><path class="ea" d="M941 407l-9-5l7 8l9 4z"/><path class="x" d="M948 414l-9-4l6 9l10 5z"/><path class="Za" d="M955 424l-10-5l10 30l9 6z"/><path class="bb" d="M964 455l-9-6l13 53l9-1z"/><path class="n" d="M977 501l-9 1l12 23l9-3z"/><path class="G" d="M989 522l-9 3l10 9l9-4z"/><path class="X" d="M999 530l-9 4l10 1l9-3zM1009 532l-9 3l8 1l9-4zM1017 532l-9 4l6 3l9-4z"/><path class="ba" d="M1023 535l-9 4l5 6l9-3z"/><path class="n" d="M1028 542l-9 3l2 5l10-4z"/><path class="c" d="M526 238l-6 2l2-1l6-2z"/><path class="x" d="M528 237l-6 2l5 3l6-2z"/><path class="y" d="M533 240l-6 2l7 11l6-2z"/><path class="Za" d="M540 251l-6 2l8 17l6-3z"/><path class="A" d="M548 267l-6 3l9 15l6-2z"/><path class="e" d="M557 283l-6 2l10 6l7-2z"/><path class="c" d="M568 289l-7 2l12-17l6 1zM579 275l-6-1l13-52l6 1zM592 223l-6-1l10-24l6 1zM602 199l-6-1l6-4l6 1z"/><path class="ea" d="M608 195l-6-1l7 4l6 1z"/><path class="ka" d="M615 199l-6-1l10 11l6 3z"/><path class="ea" d="M625 212l-6-3l12 15l6 4z"/><path class="c k1" d="M637 228l-6-4l13 8l6 5zM650 237l-6-5l12-1l6 4zM662 235l-6-4l12-8l7 2zM675 225l-7-2l10-7l6 1zM684 217l-6-1l7 0l6 0z"/><path class="ea" d="M691 216l-6 0l7 5l6 1z"/><path class="ka" d="M698 222l-6-1l9 14l7 2zM708 237l-7-2l13 18l6 4z"/><path class="c k1" d="M720 257l-6-4l12 10l6 5zM732 268l-6-5l13 1l6 4zM745 268l-6-4l12-6l6 3zM757 261l-6-3l10-5l6 1zM767 254l-6-1l7 2l6 0z"/><path class="ea" d="M774 255l-6 0l6 6l6 1z"/><path class="ma" d="M780 262l-6-1l10 16l6 2z"/><path class="ka" d="M790 279l-6-2l12 20l7 4z"/><path class="c k1" d="M803 301l-7-4l13 12l6 5zM815 314l-6-5l12 4l6 4zM827 317l-6-4l13-2l6 2zM840 313l-6-2l10-2l6 1z"/><path class="ea k1" d="M850 310l-6-1l6 3l6 1z"/><path class="ka" d="M856 313l-6-1l7 8l6 1z"/><path class="ia" d="M863 321l-6-1l10 19l6 2z"/><path class="Da" d="M873 341l-6-2l12 23l6 3z"/><path class="ea" d="M885 365l-6-3l12 17l7 4z"/><path class="c k1" d="M898 383l-7-4l13 10l6 3zM910 392l-6-3l12 6l6 2z"/><path class="ea k1" d="M922 397l-6-2l10 6l6 1z"/><path class="f" d="M932 402l-6-1l7 9l6 0z"/><path class="Da" d="M939 410l-6 0l6 9l6 0z"/><path class="db" d="M945 419l-6 0l10 29l6 1z"/><path class="eb" d="M955 449l-6-1l13 54l6 0z"/><path class="O" d="M968 502l-6 0l12 26l6-3z"/><path class="G" d="M980 525l-6 3l10 8l6-2z"/><path class="X" d="M990 534l-6 2l10 2l6-3zM1000 535l-6 3l8 0l6-2zM1008 536l-6 2l6 3l6-2z"/><path class="ba" d="M1014 539l-6 2l5 7l6-3z"/><path class="n" d="M1019 545l-6 3l2 4l6-2z"/><path class="c" d="M520 240l-6 3l2-1l6-3z"/><path class="zb" d="M522 239l-6 3l5 3l6-3z"/><path class="y" d="M527 242l-6 3l6 10l7-2z"/><path class="Ha" d="M534 253l-7 2l9 17l6-2z"/><path class="A" d="M542 270l-6 2l9 16l6-3z"/><path class="e" d="M551 285l-6 3l10 6l6-3z"/><path class="c" d="M561 291l-6 3l12-14l6-6zM573 274l-6 6l13-52l6-6zM586 222l-6 6l10-25l6-5zM596 198l-6 5l6-4l6-5z"/><path class="ma" d="M602 194l-6 5l7 4l6-5z"/><path class="la" d="M609 198l-6 5l10 13l6-7zM619 209l-6 7l12 17l6-9z"/><path class="ja" d="M631 224l-6 9l13 9l6-10z"/><path class="Da" d="M644 232l-6 10l12-2l6-9z"/><path class="ea k1" d="M656 231l-6 9l12-10l6-7z"/><path class="c k1" d="M668 223l-6 7l10-8l6-6z"/><path class="ea" d="M678 216l-6 6l7-1l6-5z"/><path class="gb" d="M685 216l-6 5l6 5l7-5z"/><path class="hb" d="M692 221l-7 5l10 16l6-7zM701 235l-6 7l13 20l6-9z"/><path class="la" d="M714 253l-6 9l12 11l6-10z"/><path class="Da" d="M726 263l-6 10l13 0l6-9z"/><path class="ea" d="M739 264l-6 9l12-8l6-7z"/><path class="ea k1" d="M751 258l-6 7l10-6l6-6z"/><path class="ka" d="M761 253l-6 6l6 1l7-5z"/><path class="gb" d="M768 255l-7 5l7 7l6-6z"/><path class="hb" d="M774 261l-6 6l10 17l6-7z"/><path class="Ab" d="M784 277l-6 7l12 22l6-9z"/><path class="la" d="M796 297l-6 9l13 13l6-10z"/><path class="ia" d="M809 309l-6 10l12 3l6-9z"/><path class="ka" d="M821 313l-6 9l13-4l6-7z"/><path class="ea" d="M834 311l-6 7l9-4l7-5z"/><path class="ka" d="M844 309l-7 5l7 3l6-5z"/><path class="ja" d="M850 312l-6 5l7 9l6-6z"/><path class="ib" d="M857 320l-6 6l10 20l6-7z"/><path class="jb" d="M867 339l-6 7l12 24l6-8z"/><path class="tb" d="M879 362l-6 8l12 18l6-9z"/><path class="ra" d="M891 379l-6 9l13 9l6-8z"/><path class="Da" d="M904 389l-6 8l12 4l6-6zM916 395l-6 6l10 5l6-5z"/><path class="Bb" d="M926 401l-6 5l7 8l6-4z"/><path class="ra" d="M933 410l-6 4l6 10l6-5z"/><path class="sa" d="M939 419l-6 5l10 29l6-5z"/><path class="kb" d="M949 448l-6 5l13 54l6-5z"/><path class="lb" d="M962 502l-6 5l12 23l6-2z"/><path class="G" d="M974 528l-6 2l10 9l6-3z"/><path class="X" d="M984 536l-6 3l9 1l7-2zM994 538l-7 2l8 0l7-2zM1002 538l-7 2l7 4l6-3z"/><path class="ba" d="M1008 541l-6 3l5 6l6-2z"/><path class="n" d="M1013 548l-6 2l2 4l6-2z"/><path class="c" d="M514 243l-9 3l2-1l9-3z"/><path class="zb" d="M516 242l-9 3l5 3l9-3z"/><path class="y" d="M521 245l-9 3l6 11l9-4z"/><path class="Ha" d="M527 255l-9 4l8 17l10-4z"/><path class="A" d="M536 272l-10 4l10 15l9-3z"/><path class="e" d="M545 288l-9 3l10 6l9-3z"/><path class="c" d="M555 294l-9 3l12-10l9-7zM567 280l-9 7l13-43l9-16zM580 228l-9 16l10-26l9-15z"/><path class="ea" d="M590 203l-9 15l6-5l9-14z"/><path class="la" d="M596 199l-9 14l7 6l9-16z"/><path class="xa" d="M603 203l-9 16l10 18l9-21z"/><path class="mb" d="M613 216l-9 21l12 23l9-27z"/><path class="Aa" d="M625 233l-9 27l12 12l10-30z"/><path class="ib" d="M638 242l-10 30l13-4l9-28z"/><path class="Da" d="M650 240l-9 28l12-17l9-21z"/><path class="ea" d="M662 230l-9 21l10-14l9-15z"/><path class="ma" d="M672 222l-9 15l7-2l9-14z"/><path class="hb" d="M679 221l-9 14l6 7l9-16z"/><path class="pb" d="M685 226l-9 16l10 21l9-21z"/><path class="mb" d="M695 242l-9 21l13 26l9-27z"/><path class="Aa" d="M708 262l-9 27l12 14l9-30z"/><path class="wa" d="M720 273l-9 30l12-2l10-28z"/><path class="ia" d="M733 273l-10 28l13-15l9-21z"/><path class="ka" d="M745 265l-9 21l10-11l9-16z"/><path class="gb" d="M755 259l-9 16l6-1l9-14z"/><path class="hb" d="M761 260l-9 14l7 8l9-15z"/><path class="pb" d="M768 267l-9 15l10 23l9-21z"/><path class="mb" d="M778 284l-9 21l12 28l9-27z"/><path class="Ca" d="M790 306l-9 27l13 15l9-29z"/><path class="wa" d="M803 319l-9 29l12 1l9-27z"/><path class="ia" d="M815 322l-9 27l12-11l10-20z"/><path class="Ba" d="M828 318l-10 20l10-9l9-15z"/><path class="ia" d="M837 314l-9 15l7 2l9-14z"/><path class="hb" d="M844 317l-9 14l7 9l9-14z"/><path class="Aa" d="M851 326l-9 14l9 25l10-19z"/><path class="Ea" d="M861 346l-10 19l13 30l9-25zM873 370l-9 25l12 19l9-26z"/><path class="qb" d="M885 388l-9 26l13 7l9-24z"/><path class="fa" d="M898 397l-9 24l12-2l9-18z"/><path class="y" d="M910 401l-9 18l10 0l9-13z"/><path class="Ha" d="M920 406l-9 13l6 7l10-12z"/><path class="Xa" d="M927 414l-10 12l7 10l9-12z"/><path class="rb" d="M933 424l-9 12l10 31l9-14z"/><path class="ta" d="M943 453l-9 14l13 46l9-6z"/><path class="D" d="M956 507l-9 6l11 21l10-4z"/><path class="G" d="M968 530l-10 4l11 8l9-3z"/><path class="X" d="M978 539l-9 3l9 2l9-4zM987 540l-9 4l8 0l9-4zM995 540l-9 4l7 3l9-3z"/><path class="ba" d="M1002 544l-9 3l5 7l9-4z"/><path class="n" d="M1007 550l-9 4l2 4l9-4z"/><path class="c" d="M505 246l-12 5l3-1l11-5z"/><path class="f" d="M507 245l-11 5l4 3l12-5z"/><path class="y" d="M512 248l-12 5l7 11l11-5z"/><path class="Ha" d="M518 259l-11 5l8 16l11-4z"/><path class="A" d="M526 276l-11 4l9 16l12-5z"/><path class="e" d="M536 291l-12 5l11 6l11-5z"/><path class="c" d="M546 297l-11 5l12-11l11-4zM558 287l-11 4l12-29l12-18zM571 244l-12 18l10-27l12-17z"/><path class="ea" d="M581 218l-12 17l7-5l11-17z"/><path class="la" d="M587 213l-11 17l6 6l12-17z"/><path class="Aa" d="M594 219l-12 17l10 25l12-24z"/><path class="Ca" d="M604 237l-12 24l13 31l11-32z"/><path class="Fa" d="M616 260l-11 32l12 14l11-34z"/><path class="za" d="M628 272l-11 34l12-7l12-31z"/><path class="ea" d="M641 268l-12 31l13-24l11-24z"/><path class="c k1" d="M653 251l-11 24l10-20l11-18z"/><path class="ka" d="M663 237l-11 18l6-3l12-17z"/><path class="hb" d="M670 235l-12 17l7 8l11-18z"/><path class="mb" d="M676 242l-11 18l10 28l11-25z"/><path class="Cb" d="M686 263l-11 25l12 33l12-32z"/><path class="Ea" d="M699 289l-12 32l13 17l11-35z"/><path class="za" d="M711 303l-11 35l12-5l11-32z"/><path class="ha" d="M723 301l-11 32l12-22l12-25z"/><path class="Ma k1" d="M736 286l-12 25l10-18l12-18z"/><path class="ka" d="M746 275l-12 18l7-2l11-17z"/><path class="hb" d="M752 274l-11 17l7 9l11-18z"/><path class="mb" d="M759 282l-11 18l9 29l12-24z"/><path class="sb" d="M769 305l-12 24l13 35l11-31z"/><path class="Ea" d="M781 333l-11 31l12 18l12-34z"/><path class="tb" d="M794 348l-12 34l13-3l11-30z"/><path class="f" d="M806 349l-11 30l12-18l11-23z"/><path class="ea" d="M818 338l-11 23l10-14l11-18z"/><path class="Da" d="M828 329l-11 18l6-1l12-15z"/><path class="jb" d="M835 331l-12 15l7 11l12-17z"/><path class="Ca" d="M842 340l-12 17l10 30l11-22z"/><path class="ub" d="M851 365l-11 22l12 37l12-29z"/><path class="rb" d="M864 395l-12 29l13 21l11-31z"/><path class="Oa" d="M876 414l-11 31l12 3l12-27z"/><path class="h" d="M889 421l-12 27l13-9l11-20z"/><path class="f" d="M901 419l-11 20l9-5l12-15z"/><path class="ra" d="M911 419l-12 15l7 6l11-14z"/><path class="Oa" d="M917 426l-11 14l7 10l11-14z"/><path class="Ia" d="M924 436l-11 14l10 31l11-14z"/><path class="vb" d="M934 467l-11 14l12 36l12-4z"/><path class="n" d="M947 513l-12 4l12 21l11-4z"/><path class="G" d="M958 534l-11 4l11 9l11-5z"/><path class="X" d="M969 542l-11 5l9 1l11-4zM978 544l-11 4l8 1l11-5zM986 544l-11 5l6 3l12-5z"/><path class="ba" d="M993 547l-12 5l5 6l12-4z"/><path class="n" d="M998 554l-12 4l3 5l11-5z"/><path class="c" d="M493 251l-11 5l2-1l12-5z"/><path class="f" d="M496 250l-12 5l5 3l11-5z"/><path class="y" d="M500 253l-11 5l7 10l11-4z"/><path class="Ha" d="M507 264l-11 4l8 17l11-5z"/><path class="A" d="M515 280l-11 5l9 15l11-4z"/><path class="e" d="M524 296l-11 4l10 6l12-4z"/><path class="c" d="M535 302l-12 4l12-10l12-5zM547 291l-12 5l13-29l11-5zM559 262l-11 5l10-24l11-8zM569 235l-11 8l6-5l12-8z"/><path class="ia" d="M576 230l-12 8l7 8l11-10z"/><path class="Ta" d="M582 236l-11 10l10 27l11-12z"/><path class="La" d="M592 261l-11 12l12 33l12-14z"/><path class="Ha" d="M605 292l-12 14l13 15l11-15z"/><path class="ea" d="M617 306l-11 15l12-7l11-15z"/><path class="c k1" d="M629 299l-11 15l12-27l12-12zM642 275l-12 12l10-22l12-10zM652 255l-12 10l7-4l11-9z"/><path class="ja" d="M658 252l-11 9l7 9l11-10z"/><path class="xa" d="M665 260l-11 10l9 30l12-12z"/><path class="wb" d="M675 288l-12 12l13 36l11-15z"/><path class="Ha" d="M687 321l-11 15l12 17l12-15z"/><path class="x" d="M700 338l-12 15l13-6l11-14z"/><path class="c k1" d="M712 333l-11 14l12-25l11-11zM724 311l-11 11l10-20l11-9z"/><path class="ea k1" d="M734 293l-11 9l6-2l12-9z"/><path class="la" d="M741 291l-12 9l7 10l12-10z"/><path class="Aa" d="M748 300l-12 10l10 30l11-11z"/><path class="Fa" d="M757 329l-11 11l12 38l12-14z"/><path class="Xa" d="M770 364l-12 14l13 19l11-15z"/><path class="f" d="M782 382l-11 15l12-4l12-14z"/><path class="c k1" d="M795 379l-12 14l13-21l11-11zM807 361l-11 11l9-16l12-9z"/><path class="ea" d="M817 347l-12 9l7-1l11-9z"/><path class="za" d="M823 346l-11 9l7 12l11-10z"/><path class="wb" d="M830 357l-11 10l10 31l11-11z"/><path class="Ua" d="M840 387l-11 11l12 39l11-13z"/><path class="Db" d="M852 424l-11 13l12 22l12-14z"/><path class="g" d="M865 445l-12 14l13 2l11-13z"/><path class="c k1" d="M877 448l-11 13l12-11l12-11zM890 439l-12 11l10-7l11-9z"/><path class="h" d="M899 434l-11 9l7 4l11-7z"/><path class="fa" d="M906 440l-11 7l6 11l12-8z"/><path class="yb" d="M913 450l-12 8l10 28l12-5z"/><path class="Eb" d="M923 481l-12 5l13 36l11-5z"/><path class="n" d="M935 517l-11 5l12 21l11-5z"/><path class="G" d="M947 538l-11 5l10 9l12-5z"/><path class="X" d="M958 547l-12 5l9 1l12-5zM967 548l-12 5l8 0l12-4zM975 549l-12 4l7 4l11-5z"/><path class="ba" d="M981 552l-11 5l5 6l11-5z"/><path class="n" d="M986 558l-11 5l2 4l12-4z"/><path class="c" d="M482 256l-12 4l3 0l11-5z"/><path class="f" d="M484 255l-11 5l5 3l11-5z"/><path class="Pa" d="M489 258l-11 5l6 10l12-5z"/><path class="Ha" d="M496 268l-12 5l8 17l12-5z"/><path class="A" d="M504 285l-12 5l9 15l12-5z"/><path class="e" d="M513 300l-12 5l11 6l11-5z"/><path class="c" d="M523 306l-11 5l12-10l11-5zM535 296l-11 5l12-30l12-4zM548 267l-12 4l10-26l12-2zM558 243l-12 2l7-6l11-1z"/><path class="ka" d="M564 238l-11 1l7 7l11 0z"/><path class="za" d="M571 246l-11 0l9 24l12 3z"/><path class="ra" d="M581 273l-12-3l13 31l11 5z"/><path class="ea" d="M593 306l-11-5l12 14l12 6z"/><path class="c k1" d="M606 321l-12-6l13-6l11 5zM618 314l-11-5l12-24l11 2zM630 287l-11-2l10-20l11 0zM640 265l-11 0l7-3l11-1z"/><path class="ma" d="M647 261l-11 1l6 8l12 0z"/><path class="ib" d="M654 270l-12 0l10 27l11 3z"/><path class="za" d="M663 300l-11-3l12 34l12 5z"/><path class="x" d="M676 336l-12-5l13 16l11 6z"/><path class="c k1" d="M688 353l-11-6l12-5l12 5zM701 347l-12-5l13-22l11 2zM713 322l-11-2l9-18l12 0zM723 302l-12 0l7-2l11 0z"/><path class="Da" d="M729 300l-11 0l7 10l11 0z"/><path class="ib" d="M736 310l-11 0l10 28l11 2z"/><path class="Ha" d="M746 340l-11-2l12 35l11 5z"/><path class="f" d="M758 378l-11-5l12 18l12 6z"/><path class="c k1" d="M771 397l-12-6l13-2l11 4zM783 393l-11-4l12-19l12 2zM796 372l-12-2l10-14l11 0zM805 356l-11 0l7 0l11-1z"/><path class="oa" d="M812 355l-11 1l6 11l12 0z"/><path class="Xa" d="M819 367l-12 0l10 29l12 2z"/><path class="xb" d="M829 398l-12-2l13 37l11 4z"/><path class="va" d="M841 437l-11-4l12 21l11 5z"/><path class="c k1" d="M853 459l-11-5l12 3l12 4zM866 461l-12-4l13-9l11 2zM878 450l-11-2l10-5l11 0z"/><path class="x" d="M888 443l-11 0l6 6l12-2z"/><path class="i" d="M895 447l-12 2l7 11l11-2z"/><path class="Ya" d="M901 458l-11 2l10 31l11-5z"/><path class="Eb" d="M911 486l-11 5l12 36l12-5z"/><path class="n" d="M924 522l-12 5l12 21l12-5z"/><path class="G" d="M936 543l-12 5l11 8l11-4z"/><path class="X" d="M946 552l-11 4l9 2l11-5zM955 553l-11 5l8 0l11-5zM963 553l-11 5l7 3l11-4z"/><path class="ca" d="M970 557l-11 4l4 7l12-5z"/><path class="T" d="M975 563l-12 5l3 4l11-5z"/><path class="c" d="M470 260l-11 5l2 0l12-5z"/><path class="f" d="M473 260l-12 5l5 3l12-5z"/><path class="Pa" d="M478 263l-12 5l7 10l11-5z"/><path class="Ha" d="M484 273l-11 5l8 17l11-5z"/><path class="A" d="M492 290l-11 5l9 15l11-5z"/><path class="e" d="M501 305l-11 5l11 6l11-5z"/><path class="c" d="M512 311l-11 5l11-11l12-4zM524 301l-12 4l13-42l11 8zM536 271l-11-8l10-26l11 8zM546 245l-11-8l7-5l11 7zM553 239l-11-7l6 5l12 9z"/><path class="ka" d="M560 246l-12-9l10 19l11 14z"/><path class="ea" d="M569 270l-11-14l12 23l12 22z"/><path class="c k1" d="M582 301l-12-22l13 11l11 25zM594 315l-11-25l12-3l12 22zM607 309l-12-22l13-17l11 15zM619 285l-11-15l9-14l12 9zM629 265l-12-9l7-1l12 7z"/><path class="ea k1" d="M636 262l-12-7l7 6l11 9z"/><path class="Da" d="M642 270l-11-9l10 21l11 15z"/><path class="ea" d="M652 297l-11-15l12 27l11 22z"/><path class="c k1" d="M664 331l-11-22l12 13l12 25zM677 347l-12-25l13-2l11 22zM689 342l-11-22l12-15l12 15zM702 320l-12-15l10-11l11 8zM711 302l-11-8l7-1l11 7z"/><path class="ea" d="M718 300l-11-7l6 8l12 9z"/><path class="Da" d="M725 310l-12-9l10 23l12 14z"/><path class="ea" d="M735 338l-12-14l13 27l11 22z"/><path class="c k1" d="M747 373l-11-22l12 16l11 24zM759 391l-11-24l12 0l12 22zM772 389l-12-22l13-11l11 14zM784 370l-11-14l10-8l11 8zM794 356l-11-8l6 1l12 7z"/><path class="ea" d="M801 356l-12-7l7 10l11 8z"/><path class="ia" d="M807 367l-11-8l10 24l11 13z"/><path class="f" d="M817 396l-11-13l12 30l12 20z"/><path class="c k1" d="M830 433l-12-20l13 19l11 22zM842 454l-11-22l12 7l11 18zM854 457l-11-18l12-2l12 11zM867 448l-12-11l10 1l12 5z"/><path class="ea" d="M877 443l-12-5l7 6l11 5z"/><path class="f" d="M883 449l-11-5l6 11l12 5z"/><path class="ab" d="M890 460l-12-5l10 30l12 6z"/><path class="Wa" d="M900 491l-12-6l13 46l11-4z"/><path class="n" d="M912 527l-11 4l12 21l11-4z"/><path class="G" d="M924 548l-11 4l10 9l12-5z"/><path class="X" d="M935 556l-12 5l10 2l11-5zM944 558l-11 5l8 0l11-5zM952 558l-11 5l6 3l12-5z"/><path class="ca" d="M959 561l-12 5l5 7l11-5z"/><path class="T" d="M963 568l-11 5l2 4l12-5z"/><path class="c" d="M459 265l-9 4l2 0l9-4z"/><path class="f" d="M461 265l-9 4l5 3l9-4z"/><path class="Pa" d="M466 268l-9 4l7 10l9-4z"/><path class="Ha" d="M473 278l-9 4l8 17l9-4z"/><path class="A" d="M481 295l-9 4l9 15l9-4z"/><path class="e" d="M490 310l-9 4l10 6l10-4z"/><path class="c" d="M501 316l-10 4l12-14l9-1zM512 305l-9 1l13-51l9 8zM525 263l-9-8l10-25l9 7zM535 237l-9-7l6-4l10 6zM542 232l-10-6l7 4l9 7z"/><path class="ea k1" d="M548 237l-9-7l10 13l9 13z"/><path class="c k1" d="M558 256l-9-13l12 17l9 19zM570 279l-9-19l13 8l9 22zM583 290l-9-22l12-1l9 20zM595 287l-9-20l12-10l10 13zM608 270l-10-13l10-8l9 7zM617 256l-9-7l7-1l9 7zM624 255l-9-7l7 6l9 7z"/><path class="ea" d="M631 261l-9-7l9 15l10 13z"/><path class="c k1" d="M641 282l-10-13l13 20l9 20zM653 309l-9-20l12 11l9 22zM665 322l-9-22l13 0l9 20zM678 320l-9-20l12-8l9 13zM690 305l-9-13l10-6l9 8zM700 294l-9-8l7 0l9 7zM707 293l-9-7l6 7l9 8z"/><path class="ea" d="M713 301l-9-8l10 17l9 14z"/><path class="c k1" d="M723 324l-9-14l12 22l10 19zM736 351l-10-19l13 13l9 22zM748 367l-9-22l12 3l9 19zM760 367l-9-19l13-5l9 13zM773 356l-9-13l10-3l9 8zM783 348l-9-8l6 3l9 6z"/><path class="ea" d="M789 349l-9-6l7 8l9 8z"/><path class="ka" d="M796 359l-9-8l10 20l9 12z"/><path class="ea" d="M806 383l-9-12l12 25l9 17z"/><path class="c k1" d="M818 413l-9-17l12 17l10 19zM831 432l-10-19l13 10l9 16zM843 439l-9-16l12 4l9 10zM855 437l-9-10l10 5l9 6z"/><path class="ea" d="M865 438l-9-6l7 8l9 4z"/><path class="f" d="M872 444l-9-4l6 10l9 5z"/><path class="Za" d="M878 455l-9-5l10 29l9 6z"/><path class="vb" d="M888 485l-9-6l13 54l9-2z"/><path class="n" d="M901 531l-9 2l12 23l9-4z"/><path class="G" d="M913 552l-9 4l10 9l9-4z"/><path class="X" d="M923 561l-9 4l9 1l10-3zM933 563l-10 3l9 1l9-4zM941 563l-9 4l6 3l9-4z"/><path class="ca" d="M947 566l-9 4l5 7l9-4z"/><path class="T" d="M952 573l-9 4l2 4l9-4z"/><path class="c" d="M450 269l-6 3l2 0l6-3z"/><path class="f" d="M452 269l-6 3l5 2l6-2z"/><path class="Pa" d="M457 272l-6 2l6 11l7-3z"/><path class="Ha" d="M464 282l-7 3l8 16l7-2z"/><path class="A" d="M472 299l-7 2l10 16l6-3z"/><path class="e" d="M481 314l-6 3l10 6l6-3z"/><path class="c" d="M491 320l-6 3l12-17l6 0zM503 306l-6 0l13-52l6 1zM516 255l-6-1l10-24l6 0zM526 230l-6 0l6-4l6 0z"/><path class="ea" d="M532 226l-6 0l7 4l6 0z"/><path class="ka" d="M539 230l-6 0l10 11l6 2z"/><path class="ea" d="M549 243l-6-2l12 15l6 4z"/><path class="c k1" d="M561 260l-6-4l13 8l6 4zM574 268l-6-4l12-1l6 4zM586 267l-6-4l12-8l6 2zM598 257l-6-2l10-7l6 1zM608 249l-6-1l7 0l6 0z"/><path class="ea" d="M615 248l-6 0l6 5l7 1z"/><path class="ma" d="M622 254l-7-1l10 14l6 2z"/><path class="ka" d="M631 269l-6-2l13 18l6 4z"/><path class="c k1" d="M644 289l-6-4l12 10l6 5zM656 300l-6-5l13 1l6 4zM669 300l-6-4l12-6l6 2zM681 292l-6-2l10-5l6 1zM691 286l-6-1l6 1l7 0z"/><path class="ka" d="M698 286l-7 0l7 7l6 0z"/><path class="ma" d="M704 293l-6 0l10 15l6 2z"/><path class="ka" d="M714 310l-6-2l12 20l6 4z"/><path class="ea k1" d="M726 332l-6-4l13 12l6 5z"/><path class="c k1" d="M739 345l-6-5l12 4l6 4zM751 348l-6-4l13-2l6 1zM764 343l-6-1l9-2l7 0z"/><path class="ea k1" d="M774 340l-7 0l7 3l6 0z"/><path class="ka" d="M780 343l-6 0l7 8l6 0z"/><path class="ia" d="M787 351l-6 0l10 18l6 2z"/><path class="Da" d="M797 371l-6-2l12 24l6 3z"/><path class="ea" d="M809 396l-6-3l12 17l6 3z"/><path class="c k1" d="M821 413l-6-3l13 10l6 3zM834 423l-6-3l12 6l6 1z"/><path class="ea k1" d="M846 427l-6-1l10 6l6 0z"/><path class="f" d="M856 432l-6 0l7 9l6-1z"/><path class="Da" d="M863 440l-6 1l6 9l6 0z"/><path class="db" d="M869 450l-6 0l10 29l6 0z"/><path class="eb" d="M879 479l-6 0l13 54l6 0z"/><path class="O" d="M892 533l-6 0l12 26l6-3z"/><path class="G" d="M904 556l-6 3l10 8l6-2z"/><path class="X" d="M914 565l-6 2l9 2l6-3zM923 566l-6 3l8 1l7-3z"/><path class="da" d="M932 567l-7 3l7 3l6-3z"/><path class="ca" d="M938 570l-6 3l5 6l6-2z"/><path class="T" d="M943 577l-6 2l2 5l6-3z"/><path class="c" d="M444 272l-6 3l2-1l6-2z"/><path class="f" d="M446 272l-6 2l5 3l6-3z"/><path class="Pa" d="M451 274l-6 3l6 11l6-3z"/><path class="Ha" d="M457 285l-6 3l8 16l6-3z"/><path class="A" d="M465 301l-6 3l10 15l6-2z"/><path class="e" d="M475 317l-6 2l10 6l6-2z"/><path class="c" d="M485 323l-6 2l12-14l6-5zM497 306l-6 5l13-51l6-6zM510 254l-6 6l10-24l6-6zM520 230l-6 6l6-4l6-6z"/><path class="ma" d="M526 226l-6 6l7 3l6-5z"/><path class="la" d="M533 230l-6 5l10 13l6-7z"/><path class="hb" d="M543 241l-6 7l12 17l6-9z"/><path class="ja" d="M555 256l-6 9l12 9l7-10z"/><path class="Da" d="M568 264l-7 10l13-2l6-9z"/><path class="ea" d="M580 263l-6 9l12-10l6-7z"/><path class="ea k1" d="M592 255l-6 7l10-8l6-6z"/><path class="ka" d="M602 248l-6 6l7 0l6-6z"/><path class="gb" d="M609 248l-6 6l6 5l6-6z"/><path class="hb" d="M615 253l-6 6l10 16l6-8zM625 267l-6 8l13 19l6-9z"/><path class="la" d="M638 285l-6 9l12 11l6-10z"/><path class="Da" d="M650 295l-6 10l12 1l7-10z"/><path class="ea" d="M663 296l-7 10l13-8l6-8z"/><path class="ea k1" d="M675 290l-6 8l10-7l6-6z"/><path class="ka" d="M685 285l-6 6l6 1l6-6z"/><path class="Fb" d="M691 286l-6 6l7 7l6-6z"/><path class="hb" d="M698 293l-6 6l10 17l6-8z"/><path class="Ab" d="M708 308l-6 8l12 21l6-9z"/><path class="la" d="M720 328l-6 9l13 13l6-10z"/><path class="ia" d="M733 340l-6 10l12 3l6-9z"/><path class="ka" d="M745 344l-6 9l12-4l7-7z"/><path class="ea" d="M758 342l-7 7l10-4l6-5z"/><path class="ma" d="M767 340l-6 5l7 3l6-5z"/><path class="ja" d="M774 343l-6 5l7 9l6-6z"/><path class="ib" d="M781 351l-6 6l9 19l7-7z"/><path class="jb" d="M791 369l-7 7l13 25l6-8z"/><path class="tb" d="M803 393l-6 8l12 17l6-8z"/><path class="ra" d="M815 410l-6 8l13 10l6-8z"/><path class="Da" d="M828 420l-6 8l12 4l6-6zM840 426l-6 6l10 5l6-5z"/><path class="Bb" d="M850 432l-6 5l7 8l6-4z"/><path class="ra" d="M857 441l-6 4l6 10l6-5z"/><path class="sa" d="M863 450l-6 5l10 29l6-5z"/><path class="kb" d="M873 479l-6 5l13 54l6-5z"/><path class="lb" d="M886 533l-6 5l11 23l7-2z"/><path class="G" d="M898 559l-7 2l11 9l6-3z"/><path class="X" d="M908 567l-6 3l9 2l6-3zM917 569l-6 3l8 0l6-2z"/><path class="da" d="M925 570l-6 2l7 4l6-3z"/><path class="ca" d="M932 573l-6 3l5 6l6-3z"/><path class="T" d="M937 579l-6 3l2 5l6-3z"/><path class="c" d="M438 275l-10 4l3 0l9-5z"/><path class="f" d="M440 274l-9 5l5 3l9-5z"/><path class="ra" d="M445 277l-9 5l6 10l9-4z"/><path class="Ha" d="M451 288l-9 4l8 16l9-4z"/><path class="A" d="M459 304l-9 4l10 16l9-5z"/><path class="e" d="M469 319l-9 5l10 6l9-5z"/><path class="c" d="M479 325l-9 5l12-11l9-8zM491 311l-9 8l13-42l9-17zM504 260l-9 17l9-26l10-15z"/><path class="ka" d="M514 236l-10 15l7-5l9-14z"/><path class="la" d="M520 232l-9 14l7 5l9-16z"/><path class="xa" d="M527 235l-9 16l10 19l9-22z"/><path class="mb" d="M537 248l-9 22l12 23l9-28z"/><path class="Ca" d="M549 265l-9 28l12 11l9-30z"/><path class="jb" d="M561 274l-9 30l13-4l9-28z"/><path class="oa" d="M574 272l-9 28l12-16l9-22z"/><path class="ka" d="M586 262l-9 22l10-13l9-17z"/><path class="ma" d="M596 254l-9 17l7-2l9-15z"/><path class="hb" d="M603 254l-9 15l6 7l9-17z"/><path class="pb" d="M609 259l-9 17l10 21l9-22z"/><path class="mb" d="M619 275l-9 22l13 26l9-29z"/><path class="Aa" d="M632 294l-9 29l12 13l9-31z"/><path class="wa" d="M644 305l-9 31l12-2l9-28z"/><path class="ia" d="M656 306l-9 28l13-14l9-22z"/><path class="ka" d="M669 298l-9 22l10-12l9-17z"/><path class="gb" d="M679 291l-9 17l6-1l9-15z"/><path class="hb" d="M685 292l-9 15l7 8l9-16z"/><path class="mb" d="M692 299l-9 16l10 22l9-21zM702 316l-9 21l12 28l9-28z"/><path class="Ca" d="M714 337l-9 28l13 15l9-30z"/><path class="Sa" d="M727 350l-9 30l12 0l9-27z"/><path class="na" d="M739 353l-9 27l12-11l9-20z"/><path class="Da" d="M751 349l-9 20l10-8l9-16z"/><path class="ia" d="M761 345l-9 16l7 1l9-14z"/><path class="hb" d="M768 348l-9 14l6 10l10-15z"/><path class="Aa" d="M775 357l-10 15l10 24l9-20z"/><path class="Ea" d="M784 376l-9 20l13 30l9-25zM797 401l-9 25l12 19l9-27z"/><path class="qb" d="M809 418l-9 27l12 7l10-24z"/><path class="Ha" d="M822 428l-10 24l13-2l9-18z"/><path class="y" d="M834 432l-9 18l10 0l9-13z"/><path class="Ha" d="M844 437l-9 13l6 7l10-12z"/><path class="Xa" d="M851 445l-10 12l7 10l9-12z"/><path class="Gb" d="M857 455l-9 12l10 31l9-14z"/><path class="ta" d="M867 484l-9 14l13 46l9-6z"/><path class="T" d="M880 538l-9 6l11 21l9-4z"/><path class="G" d="M891 561l-9 4l11 9l9-4z"/><path class="X" d="M902 570l-9 4l9 2l9-4zM911 572l-9 4l8 0l9-4z"/><path class="G" d="M919 572l-9 4l7 4l9-4z"/><path class="ca" d="M926 576l-9 4l5 6l9-4z"/><path class="T" d="M931 582l-9 4l2 5l9-4z"/><path class="c" d="M428 279l-11 6l2-1l12-5z"/><path class="f" d="M431 279l-12 5l5 3l12-5z"/><path class="ra" d="M436 282l-12 5l7 11l11-6z"/><path class="Ha" d="M442 292l-11 6l8 16l11-6z"/><path class="A" d="M450 308l-11 6l9 15l12-5z"/><path class="e" d="M460 324l-12 5l11 6l11-5z"/><path class="c" d="M470 330l-11 5l11-11l12-5zM482 319l-12 5l13-28l12-19zM495 277l-12 19l10-27l11-18z"/><path class="ea" d="M504 251l-11 18l7-6l11-17z"/><path class="la" d="M511 246l-11 17l6 7l12-19z"/><path class="Aa" d="M518 251l-12 19l10 24l12-24z"/><path class="Ca" d="M528 270l-12 24l13 31l11-32z"/><path class="Fa" d="M540 293l-11 32l12 14l11-35z"/><path class="Ha" d="M552 304l-11 35l12-6l12-33z"/><path class="ea" d="M565 300l-12 33l13-24l11-25z"/><path class="c k1" d="M577 284l-11 25l10-19l11-19z"/><path class="ka" d="M587 271l-11 19l6-3l12-18z"/><path class="hb" d="M594 269l-12 18l7 8l11-19z"/><path class="mb" d="M600 276l-11 19l10 27l11-25z"/><path class="sb" d="M610 297l-11 25l12 34l12-33z"/><path class="Ea" d="M623 323l-12 33l13 16l11-36z"/><path class="tb" d="M635 336l-11 36l12-5l11-33z"/><path class="f" d="M647 334l-11 33l12-22l12-25z"/><path class="ea k1" d="M660 320l-12 25l10-18l12-19z"/><path class="ma" d="M670 308l-12 19l7-2l11-18z"/><path class="hb" d="M676 307l-11 18l6 9l12-19z"/><path class="mb" d="M683 315l-12 19l10 28l12-25z"/><path class="ub" d="M693 337l-12 25l13 34l11-31z"/><path class="Ea" d="M705 365l-11 31l12 18l12-34z"/><path class="Xa" d="M718 380l-12 34l12-3l12-31z"/><path class="f" d="M730 380l-12 31l13-18l11-24z"/><path class="ea" d="M742 369l-11 24l10-15l11-17z"/><path class="Da" d="M752 361l-11 17l6 0l12-16z"/><path class="jb" d="M759 362l-12 16l7 11l11-17z"/><path class="Ca" d="M765 372l-11 17l10 30l11-23z"/><path class="Na" d="M775 396l-11 23l12 36l12-29z"/><path class="rb" d="M788 426l-12 29l13 21l11-31z"/><path class="Oa" d="M800 445l-11 31l12 3l11-27z"/><path class="i" d="M812 452l-11 27l12-8l12-21z"/><path class="va" d="M825 450l-12 21l10-5l12-16z"/><path class="fa" d="M835 450l-12 16l7 5l11-14z"/><path class="db" d="M841 457l-11 14l7 11l11-15z"/><path class="Ia" d="M848 467l-11 15l9 31l12-15z"/><path class="Hb" d="M858 498l-12 15l13 36l12-5z"/><path class="O" d="M871 544l-12 5l12 22l11-6z"/><path class="G" d="M882 565l-11 6l10 8l12-5z"/><path class="X" d="M893 574l-12 5l10 2l11-5zM902 576l-11 5l8 1l11-6z"/><path class="G" d="M910 576l-11 6l6 3l12-5z"/><path class="ca" d="M917 580l-12 5l5 7l12-6z"/><path class="T" d="M922 586l-12 6l3 4l11-5z"/><path class="c" d="M417 285l-11 6l2-1l11-6z"/><path class="f" d="M419 284l-11 6l5 3l11-6z"/><path class="ra" d="M424 287l-11 6l6 11l12-6z"/><path class="Ha" d="M431 298l-12 6l8 16l12-6z"/><path class="A" d="M439 314l-12 6l10 15l11-6z"/><path class="e" d="M448 329l-11 6l10 6l12-6z"/><path class="c" d="M459 335l-12 6l12-11l11-6zM470 324l-11 6l13-29l11-5zM483 296l-11 5l10-22l11-10zM493 269l-11 10l6-6l12-10z"/><path class="ia" d="M500 263l-12 10l7 8l11-11z"/><path class="ya" d="M506 270l-11 11l10 26l11-13z"/><path class="Fa" d="M516 294l-11 13l12 33l12-15z"/><path class="Ha" d="M529 325l-12 15l13 16l11-17z"/><path class="x" d="M541 339l-11 17l12-8l11-15z"/><path class="c k1" d="M553 333l-11 15l12-25l12-14zM566 309l-12 14l10-22l12-11z"/><path class="ea k1" d="M576 290l-12 11l7-3l11-11z"/><path class="ja" d="M582 287l-11 11l6 9l12-12z"/><path class="Aa" d="M589 295l-12 12l10 29l12-14z"/><path class="Fa" d="M599 322l-12 14l13 35l11-15z"/><path class="Xa" d="M611 356l-11 15l12 17l12-16z"/><path class="e" d="M624 372l-12 16l12-6l12-15z"/><path class="c k1" d="M636 367l-12 15l13-24l11-13zM648 345l-11 13l10-20l11-11z"/><path class="ea k1" d="M658 327l-11 11l6-3l12-10z"/><path class="la" d="M665 325l-12 10l7 10l11-11z"/><path class="Ca" d="M671 334l-11 11l10 30l11-13z"/><path class="Fa" d="M681 362l-11 13l12 37l12-16z"/><path class="db" d="M694 396l-12 16l13 18l11-16z"/><path class="f" d="M706 414l-11 16l12-4l11-15z"/><path class="c k1" d="M718 411l-11 15l12-21l12-12zM731 393l-12 12l10-17l12-10z"/><path class="ea" d="M741 378l-12 10l7 0l11-10z"/><path class="za" d="M747 378l-11 10l7 11l11-10z"/><path class="Fa" d="M754 389l-11 10l9 31l12-11z"/><path class="Ua" d="M764 419l-12 11l13 39l11-14z"/><path class="Ya" d="M776 455l-11 14l12 21l12-14z"/><path class="g" d="M789 476l-12 14l13 2l11-13z"/><path class="c k1" d="M801 479l-11 13l12-11l11-10zM813 471l-11 10l10-6l11-9z"/><path class="h" d="M823 466l-11 9l7 5l11-9z"/><path class="Za" d="M830 471l-11 9l6 10l12-8z"/><path class="Ib" d="M837 482l-12 8l10 29l11-6z"/><path class="ga" d="M846 513l-11 6l13 36l11-6z"/><path class="O" d="M859 549l-11 6l11 21l12-5z"/><path class="G" d="M871 571l-12 5l11 9l11-6z"/><path class="X" d="M881 579l-11 6l9 2l12-6zM891 581l-12 6l8 1l12-6z"/><path class="G" d="M899 582l-12 6l7 3l11-6z"/><path class="ca" d="M905 585l-11 6l5 6l11-5z"/><path class="T" d="M910 592l-11 5l2 5l12-6z"/><path class="c" d="M406 291l-12 7l3-1l11-7z"/><path class="f" d="M408 290l-11 7l4 3l12-7z"/><path class="fa" d="M413 293l-12 7l7 10l11-6z"/><path class="Ha" d="M419 304l-11 6l8 16l11-6z"/><path class="A" d="M427 320l-11 6l9 15l12-6z"/><path class="e" d="M437 335l-12 6l11 6l11-6z"/><path class="c" d="M447 341l-11 6l12-11l11-6zM459 330l-11 6l12-28l12-7zM472 301l-12 7l10-27l12-2zM482 279l-12 2l7-5l11-3z"/><path class="f" d="M488 273l-11 3l6 6l12-1z"/><path class="za" d="M495 281l-12 1l10 25l12 0z"/><path class="qa" d="M505 307l-12 0l13 30l11 3z"/><path class="x" d="M517 340l-11-3l12 14l12 5z"/><path class="c k1" d="M530 356l-12-5l12-6l12 3zM542 348l-12-3l13-23l11 1zM554 323l-11-1l10-19l11-2zM564 301l-11 2l6-3l12-2z"/><path class="Da" d="M571 298l-12 2l7 9l11-2z"/><path class="ib" d="M577 307l-11 2l10 26l11 1z"/><path class="Ha" d="M587 336l-11-1l12 33l12 3z"/><path class="f" d="M600 371l-12-3l13 16l11 4z"/><path class="c k1" d="M612 388l-11-4l12-5l11 3zM624 382l-11-3l12-21l12 0zM637 358l-12 0l10-18l12-2zM647 338l-12 2l7-2l11-3z"/><path class="Da" d="M653 335l-11 3l7 9l11-2z"/><path class="jb" d="M660 345l-11 2l9 27l12 1z"/><path class="tb" d="M670 375l-12-1l13 34l11 4z"/><path class="f" d="M682 412l-11-4l12 17l12 5z"/><path class="c k1" d="M695 430l-12-5l13-2l11 3zM707 426l-11-3l12-19l11 1zM719 405l-11-1l10-14l11-2zM729 388l-11 2l7-1l11-1z"/><path class="ia" d="M736 388l-11 1l6 11l12-1z"/><path class="Jb" d="M743 399l-12 1l10 29l11 1z"/><path class="db" d="M752 430l-11-1l12 36l12 4z"/><path class="g" d="M765 469l-12-4l13 21l11 4z"/><path class="c k1" d="M777 490l-11-4l12 3l12 3zM790 492l-12-3l13-8l11 0zM802 481l-11 0l10-5l11-1z"/><path class="e" d="M812 475l-11 1l6 6l12-2z"/><path class="y" d="M819 480l-12 2l7 11l11-3z"/><path class="Va" d="M825 490l-11 3l10 31l11-5z"/><path class="ga" d="M835 519l-11 5l12 36l12-5z"/><path class="O" d="M848 555l-12 5l12 22l11-6z"/><path class="G" d="M859 576l-11 6l11 8l11-5z"/><path class="X" d="M870 585l-11 5l9 3l11-6zM879 587l-11 6l8 0l11-5z"/><path class="G" d="M887 588l-11 5l7 4l11-6z"/><path class="ca" d="M894 591l-11 6l4 7l12-7z"/><path class="T" d="M899 597l-12 7l3 4l11-6z"/><path class="c" d="M394 298l-11 6l2 0l12-7z"/><path class="f" d="M397 297l-12 7l5 2l11-6z"/><path class="fa" d="M401 300l-11 6l7 11l11-7z"/><path class="Kb" d="M408 310l-11 7l8 15l11-6z"/><path class="A" d="M416 326l-11 6l9 15l11-6z"/><path class="e" d="M425 341l-11 6l11 6l11-6z"/><path class="c" d="M436 347l-11 6l11-10l12-7zM448 336l-12 7l13-41l11 6zM460 308l-11-6l10-26l11 5zM470 281l-11-5l6-4l12 4z"/><path class="ea" d="M477 276l-12-4l7 5l11 5z"/><path class="Ba" d="M483 282l-11-5l10 18l11 12z"/><path class="ea" d="M493 307l-11-12l12 23l12 19z"/><path class="c k1" d="M506 337l-12-19l13 11l11 22zM518 351l-11-22l12-3l11 19zM530 345l-11-19l12-16l12 12zM543 322l-12-12l10-12l12 5zM553 303l-12-5l7-2l11 4z"/><path class="ea" d="M559 300l-11-4l7 7l11 6z"/><path class="Da" d="M566 309l-11-6l9 21l12 11z"/><path class="zb" d="M576 335l-12-11l13 25l11 19z"/><path class="c k1" d="M588 368l-11-19l12 13l12 22zM601 384l-12-22l13-2l11 19zM613 379l-11-19l12-14l11 12zM625 358l-11-12l10-12l11 6zM635 340l-11-6l7-1l11 5z"/><path class="ea" d="M642 338l-11-5l6 8l12 6z"/><path class="oa" d="M649 347l-12-6l10 21l11 12z"/><path class="f" d="M658 374l-11-12l12 27l12 19z"/><path class="c k1" d="M671 408l-12-19l13 14l11 22zM683 425l-11-22l12 0l12 20zM696 423l-12-20l13-11l11 12zM708 404l-11-12l10-9l11 7zM718 390l-11-7l6 2l12 4z"/><path class="ka" d="M725 389l-12-4l7 9l11 6z"/><path class="ia" d="M731 400l-11-6l10 24l11 11z"/><path class="f" d="M741 429l-11-11l12 29l11 18z"/><path class="c k1" d="M753 465l-11-18l12 19l12 20zM766 486l-12-20l13 6l11 17zM778 489l-11-17l12-1l12 10zM791 481l-12-10l10 1l12 4z"/><path class="ea" d="M801 476l-12-4l7 7l11 3z"/><path class="f" d="M807 482l-11-3l6 10l12 4z"/><path class="ab" d="M814 493l-12-4l10 31l12 4z"/><path class="ga" d="M824 524l-12-4l13 46l11-6z"/><path class="O" d="M836 560l-11 6l12 21l11-5z"/><path class="V" d="M848 582l-11 5l10 9l12-6z"/><path class="X" d="M859 590l-12 6l10 3l11-6zM868 593l-11 6l8 1l11-7z"/><path class="G" d="M876 593l-11 7l6 4l12-7z"/><path class="ua" d="M883 597l-12 7l5 6l11-6z"/><path class="T" d="M887 604l-11 6l2 5l12-7z"/><path class="c" d="M383 304l-9 6l2 0l9-6z"/><path class="f" d="M385 304l-9 6l5 2l9-6z"/><path class="fa" d="M390 306l-9 6l6 10l10-5z"/><path class="Lb" d="M397 317l-10 5l8 16l10-6z"/><path class="A" d="M405 332l-10 6l10 15l9-6z"/><path class="e" d="M414 347l-9 6l10 5l10-5z"/><path class="c" d="M425 353l-10 5l12-13l9-2zM436 343l-9 2l13-50l9 7zM449 302l-9-7l10-23l9 4zM459 276l-9-4l6-4l9 4zM465 272l-9-4l7 4l9 5z"/><path class="ea" d="M472 277l-9-5l10 12l9 11z"/><path class="c k1" d="M482 295l-9-11l12 17l9 17zM494 318l-9-17l13 9l9 19zM507 329l-9-19l12-1l9 17zM519 326l-9-17l12-9l9 10zM531 310l-9-10l10-7l9 5zM541 298l-9-5l7 0l9 3z"/><path class="ea k1" d="M548 296l-9-3l6 5l10 5z"/><path class="ka" d="M555 303l-10-5l10 16l9 10z"/><path class="c k1" d="M564 324l-9-10l13 18l9 17zM577 349l-9-17l12 11l9 19zM589 362l-9-19l13 0l9 17zM602 360l-9-17l12-7l9 10zM614 346l-9-10l10-7l9 5zM624 334l-9-5l6 1l10 3z"/><path class="ea k1" d="M631 333l-10-3l7 6l9 5z"/><path class="ka" d="M637 341l-9-5l10 16l9 10z"/><path class="ea k1" d="M647 362l-9-10l12 20l9 17z"/><path class="c k1" d="M659 389l-9-17l13 12l9 19zM672 403l-9-19l12 3l9 16zM684 403l-9-16l13-6l9 11zM697 392l-9-11l9-3l10 5zM707 383l-10-5l7 2l9 5z"/><path class="ea" d="M713 385l-9-5l7 8l9 6z"/><path class="f" d="M720 394l-9-6l10 19l9 11z"/><path class="ea" d="M730 418l-9-11l12 24l9 16z"/><path class="c k1" d="M742 447l-9-16l12 17l9 18zM754 466l-9-18l13 9l9 15zM767 472l-9-15l12 5l9 9zM779 471l-9-9l10 5l9 5z"/><path class="x" d="M789 472l-9-5l7 9l9 3z"/><path class="f" d="M796 479l-9-3l6 10l9 3z"/><path class="Oa" d="M802 489l-9-3l10 30l9 4z"/><path class="vb" d="M812 520l-9-4l13 52l9-2z"/><path class="O" d="M825 566l-9 2l11 24l10-5z"/><path class="V" d="M837 587l-10 5l11 9l9-5z"/><path class="X" d="M847 596l-9 5l9 3l10-5zM857 599l-10 5l8 1l10-5z"/><path class="G" d="M865 600l-10 5l7 4l9-5z"/><path class="ua" d="M871 604l-9 5l5 7l9-6z"/><path class="Mb" d="M876 610l-9 6l2 4l9-5z"/><path class="d" d="M374 310l-6 5l2-1l6-4z"/><path class="f" d="M376 310l-6 4l5 2l6-4z"/><path class="fa" d="M381 312l-6 4l6 10l6-4z"/><path class="ab" d="M387 322l-6 4l8 16l6-4z"/><path class="A" d="M395 338l-6 4l10 15l6-4z"/><path class="e" d="M405 353l-6 4l10 5l6-4z"/><path class="c" d="M415 358l-6 4l12-16l6-1zM427 345l-6 1l13-50l6-1zM440 295l-6 1l10-23l6-1zM450 272l-6 1l6-3l6-2z"/><path class="ea" d="M456 268l-6 2l7 3l6-1z"/><path class="ma" d="M463 272l-6 1l10 12l6-1z"/><path class="ka" d="M473 284l-6 1l12 14l6 2z"/><path class="Ma k1" d="M485 301l-6-2l12 9l7 2z"/><path class="c k1" d="M498 310l-7-2l13 0l6 1zM510 309l-6-1l12-8l6 0zM522 300l-6 0l10-5l6-2zM532 293l-6 2l7 0l6-2z"/><path class="ka" d="M539 293l-6 2l6 5l6-2z"/><path class="Da" d="M545 298l-6 2l10 14l6 0zM555 314l-6 0l13 17l6 1z"/><path class="ea k1" d="M568 332l-6-1l12 10l6 2z"/><path class="c k1" d="M580 343l-6-2l12 1l7 1zM593 343l-7-1l13-6l6 0zM605 336l-6 0l10-5l6-2z"/><path class="ea k1" d="M615 329l-6 2l6 1l6-2z"/><path class="ka" d="M621 330l-6 2l7 5l6-1z"/><path class="ia" d="M628 336l-6 1l10 15l6 0z"/><path class="Da" d="M638 352l-6 0l12 18l6 2z"/><path class="ea" d="M650 372l-6-2l13 12l6 2z"/><path class="c k1" d="M663 384l-6-2l12 3l6 2zM675 387l-6-2l12-4l7 0zM688 381l-7 0l10-2l6-1z"/><path class="ea" d="M697 378l-6 1l7 3l6-2z"/><path class="Da" d="M704 380l-6 2l7 7l6-1z"/><path class="ia" d="M711 388l-6 1l9 18l7 0z"/><path class="Da" d="M721 407l-7 0l13 22l6 2z"/><path class="zb" d="M733 431l-6-2l12 16l6 3z"/><path class="ea k1" d="M745 448l-6-3l13 11l6 1z"/><path class="c k1" d="M758 457l-6-1l12 6l6 0z"/><path class="ea" d="M770 462l-6 0l10 7l6-2z"/><path class="Da" d="M780 467l-6 2l7 8l6-1z"/><path class="y" d="M787 476l-6 1l6 10l6-1z"/><path class="Ga" d="M793 486l-6 1l10 30l6-1z"/><path class="Nb" d="M803 516l-6 1l13 53l6-2z"/><path class="T" d="M816 568l-6 2l11 26l6-4z"/><path class="V" d="M827 592l-6 4l11 9l6-4z"/><path class="X" d="M838 601l-6 4l9 3l6-4zM847 604l-6 4l8 1l6-4z"/><path class="G" d="M855 605l-6 4l7 4l6-4z"/><path class="Ka" d="M862 609l-6 4l5 6l6-3z"/><path class="F" d="M867 616l-6 3l2 5l6-4z"/><path class="ea" d="M368 315l-6 4l2-1l6-4z"/><path class="f" d="M370 314l-6 4l5 3l6-5z"/><path class="fa" d="M375 316l-6 5l6 10l6-5z"/><path class="ab" d="M381 326l-6 5l8 15l6-4z"/><path class="L" d="M389 342l-6 4l10 15l6-4z"/><path class="e" d="M399 357l-6 4l10 5l6-4z"/><path class="c" d="M409 362l-6 4l12-13l6-7zM421 346l-6 7l13-49l6-8zM434 296l-6 8l9-23l7-8z"/><path class="ea" d="M444 273l-7 8l7-4l6-7z"/><path class="ia" d="M450 270l-6 7l7 4l6-8z"/><path class="la" d="M457 273l-6 8l10 13l6-9z"/><path class="ib" d="M467 285l-6 9l12 16l6-11z"/><path class="za" d="M479 299l-6 11l12 9l6-11z"/><path class="ia" d="M491 308l-6 11l13-1l6-10z"/><path class="ka" d="M504 308l-6 10l12-8l6-10z"/><path class="ea" d="M516 300l-6 10l10-7l6-8z"/><path class="ka" d="M526 295l-6 8l7 0l6-8z"/><path class="ja" d="M533 295l-6 8l6 5l6-8z"/><path class="hb" d="M539 300l-6 8l10 15l6-9z"/><path class="wa" d="M549 314l-6 9l13 19l6-11z"/><path class="pa" d="M562 331l-6 11l12 10l6-11z"/><path class="ia" d="M574 341l-6 11l12 1l6-11z"/><path class="ka" d="M586 342l-6 11l13-8l6-9z"/><path class="ea" d="M599 336l-6 9l10-6l6-8z"/><path class="ma" d="M609 331l-6 8l6 0l6-7z"/><path class="ja" d="M615 332l-6 7l7 6l6-8z"/><path class="hb" d="M622 337l-6 8l10 16l6-9z"/><path class="wa" d="M632 352l-6 9l12 20l6-11z"/><path class="pa" d="M644 370l-6 11l13 12l6-11z"/><path class="na" d="M657 382l-6 11l12 2l6-10z"/><path class="f" d="M669 385l-6 10l12-5l6-9z"/><path class="ka" d="M681 381l-6 9l10-4l6-7z"/><path class="Da" d="M691 379l-6 7l7 2l6-6z"/><path class="Ob" d="M698 382l-6 6l6 8l7-7z"/><path class="jb" d="M705 389l-7 7l10 19l6-8z"/><path class="Sa" d="M714 407l-6 8l13 23l6-9z"/><path class="Xa" d="M727 429l-6 9l12 17l6-10z"/><path class="ra" d="M739 445l-6 10l13 9l6-8z"/><path class="y" d="M752 456l-6 8l12 5l6-7z"/><path class="Pb" d="M764 462l-6 7l10 6l6-6z"/><path class="fa" d="M774 469l-6 6l6 8l7-6z"/><path class="Ha" d="M781 477l-7 6l7 10l6-6z"/><path class="Qb" d="M787 487l-6 6l10 30l6-6z"/><path class="ta" d="M797 517l-6 6l13 52l6-5z"/><path class="p" d="M810 570l-6 5l11 24l6-3z"/><path class="V" d="M821 596l-6 3l11 10l6-4z"/><path class="X" d="M832 605l-6 4l9 2l6-3zM841 608l-6 3l8 2l6-4z"/><path class="G" d="M849 609l-6 4l7 4l6-4z"/><path class="Ka" d="M856 613l-6 4l5 6l6-4z"/><path class="F" d="M861 619l-6 4l2 5l6-4z"/><path class="ea" d="M362 319l-10 7l3-1l9-7z"/><path class="f" d="M364 318l-9 7l5 3l9-7z"/><path class="fa" d="M369 321l-9 7l6 10l9-7z"/><path class="ab" d="M375 331l-9 7l8 15l9-7z"/><path class="B" d="M383 346l-9 7l10 14l9-6z"/><path class="Rb" d="M393 361l-9 6l10 6l9-7z"/><path class="c" d="M403 366l-9 7l12-10l9-10zM415 353l-9 10l12-40l10-19zM428 304l-10 19l10-24l9-18z"/><path class="f" d="M437 281l-9 18l7-5l9-17z"/><path class="Sb" d="M444 277l-9 17l7 5l9-18z"/><path class="xa" d="M451 281l-9 18l9 18l10-23z"/><path class="Ca" d="M461 294l-10 23l13 23l9-30zM473 310l-9 30l12 11l9-32z"/><path class="Jb" d="M485 319l-9 32l13-3l9-30z"/><path class="na" d="M498 318l-9 30l12-14l9-24z"/><path class="Da" d="M510 310l-9 24l10-12l9-19z"/><path class="ia" d="M520 303l-9 19l7-1l9-18z"/><path class="Tb" d="M527 303l-9 18l6 7l9-20z"/><path class="mb" d="M533 308l-9 20l10 20l9-25z"/><path class="sb" d="M543 323l-9 25l12 24l10-30z"/><path class="Ca" d="M556 342l-10 30l13 13l9-33z"/><path class="Sa" d="M568 352l-9 33l12-2l9-30z"/><path class="ja" d="M580 353l-9 30l13-14l9-24z"/><path class="Da" d="M593 345l-9 24l10-11l9-19z"/><path class="ja" d="M603 339l-9 19l6-1l9-18z"/><path class="Ab" d="M609 339l-9 18l7 7l9-19z"/><path class="mb" d="M616 345l-9 19l10 21l9-24z"/><path class="sb" d="M626 361l-9 24l12 26l9-30z"/><path class="Ea" d="M638 381l-9 30l12 13l10-31z"/><path class="Sa" d="M651 393l-10 31l13 0l9-29z"/><path class="ra" d="M663 395l-9 29l12-11l9-23z"/><path class="Da" d="M675 390l-9 23l10-9l9-18z"/><path class="ja" d="M685 386l-9 18l7 1l9-17z"/><path class="jb" d="M692 388l-9 17l6 9l9-18z"/><path class="Ca" d="M698 396l-9 18l10 22l9-21z"/><path class="Ea" d="M708 415l-9 21l13 29l9-27z"/><path class="Na" d="M721 438l-9 27l12 18l9-28z"/><path class="Ub" d="M733 455l-9 28l12 7l10-26z"/><path class="Ha" d="M746 464l-10 26l13-2l9-19z"/><path class="fa" d="M758 469l-9 19l10 1l9-14z"/><path class="xb" d="M768 475l-9 14l6 8l9-14z"/><path class="Ga" d="M774 483l-9 14l7 10l9-14z"/><path class="Ia" d="M781 493l-9 14l10 31l9-15z"/><path class="Ja" d="M791 523l-9 15l13 46l9-9z"/><path class="p" d="M804 575l-9 9l11 21l9-6z"/><path class="V" d="M815 599l-9 6l11 10l9-6z"/><path class="W" d="M826 609l-9 6l9 2l9-6z"/><path class="X" d="M835 611l-9 6l8 2l9-6z"/><path class="r" d="M843 613l-9 6l7 4l9-6z"/><path class="Ra" d="M850 617l-9 6l5 7l9-7z"/><path class="F" d="M855 623l-9 7l2 5l9-7z"/><path class="ea" d="M352 326l-11 10l2-1l12-10z"/><path class="va" d="M355 325l-12 10l5 3l12-10z"/><path class="Za" d="M360 328l-12 10l7 9l11-9z"/><path class="ab" d="M366 338l-11 9l8 15l11-9z"/><path class="B" d="M374 353l-11 9l9 14l12-9z"/><path class="Rb" d="M384 367l-12 9l11 5l11-8z"/><path class="c" d="M394 373l-11 8l11-9l12-9zM406 363l-12 9l13-27l11-22zM418 323l-11 22l10-24l11-22z"/><path class="f" d="M428 299l-11 22l7-6l11-21z"/><path class="pa" d="M435 294l-11 21l6 7l12-23z"/><path class="Ca" d="M442 299l-12 23l10 23l11-28z"/><path class="ub" d="M451 317l-11 28l12 29l12-34z"/><path class="Ua" d="M464 340l-12 34l13 14l11-37z"/><path class="Xa" d="M476 351l-11 37l12-5l12-35z"/><path class="f" d="M489 348l-12 35l13-21l11-28z"/><path class="ea" d="M501 334l-11 28l10-17l11-23z"/><path class="oa" d="M511 322l-11 23l6-2l12-22z"/><path class="jb" d="M518 321l-12 22l7 8l11-23z"/><path class="Ca" d="M524 328l-11 23l10 25l11-28z"/><path class="ub" d="M534 348l-11 28l12 31l11-35z"/><path class="Ua" d="M546 372l-11 35l12 15l12-37z"/><path class="Xa" d="M559 385l-12 37l13-4l11-35z"/><path class="Da" d="M571 383l-11 35l12-20l12-29z"/><path class="ea" d="M584 369l-12 29l10-17l12-23z"/><path class="ia" d="M594 358l-12 23l7-2l11-22z"/><path class="wa" d="M600 357l-11 22l6 9l12-24z"/><path class="Ca" d="M607 364l-12 24l10 25l12-28z"/><path class="ub" d="M617 385l-12 28l13 32l11-34z"/><path class="rb" d="M629 411l-11 34l12 16l11-37z"/><path class="db" d="M641 424l-11 37l12-3l12-34z"/><path class="Da" d="M654 424l-12 34l13-18l11-27z"/><path class="zb" d="M666 413l-11 27l10-14l11-22z"/><path class="ia" d="M676 404l-11 22l6-1l12-20z"/><path class="Jb" d="M683 405l-12 20l7 10l11-21z"/><path class="Ea" d="M689 414l-11 21l10 27l11-26z"/><path class="Na" d="M699 436l-11 26l12 34l12-31z"/><path class="Ia" d="M712 465l-12 31l13 20l11-33z"/><path class="Ya" d="M724 483l-11 33l12 3l11-29z"/><path class="z" d="M736 490l-11 29l12-8l12-23z"/><path class="h" d="M749 488l-12 23l10-4l12-18z"/><path class="Ha" d="M759 489l-12 18l7 6l11-16z"/><path class="Vb" d="M765 497l-11 16l6 12l12-18z"/><path class="kb" d="M772 507l-12 18l10 31l12-18z"/><path class="Wb" d="M782 538l-12 18l13 35l12-7z"/><path class="T" d="M795 584l-12 7l12 22l11-8z"/><path class="V" d="M806 605l-11 8l10 9l12-7z"/><path class="G" d="M817 615l-12 7l10 4l11-9z"/><path class="W" d="M826 617l-11 9l8 2l11-9z"/><path class="V" d="M834 619l-11 9l6 4l12-9z"/><path class="Ra" d="M841 623l-12 9l5 7l12-9z"/><path class="F" d="M846 630l-12 9l2 5l12-9z"/><path class="x" d="M341 336l-11 11l2-1l11-11z"/><path class="g" d="M343 335l-11 11l5 3l11-11z"/><path class="Za" d="M348 338l-11 11l6 9l12-11z"/><path class="Xb" d="M355 347l-12 11l8 14l12-10z"/><path class="B" d="M363 362l-12 10l10 14l11-10z"/><path class="Z" d="M372 376l-11 10l10 5l12-10z"/><path class="c" d="M383 381l-12 10l12-9l11-10zM394 372l-11 10l13-26l11-11zM407 345l-11 11l10-21l11-14z"/><path class="ea" d="M417 321l-11 14l6-4l12-16z"/><path class="qa" d="M424 315l-12 16l7 7l11-16z"/><path class="Fa" d="M430 322l-11 16l10 24l11-17z"/><path class="Ua" d="M440 345l-11 17l12 31l11-19z"/><path class="Oa" d="M452 374l-11 19l12 15l12-20z"/><path class="f" d="M465 388l-12 20l13-5l11-20z"/><path class="c k1" d="M477 383l-11 20l12-23l12-18zM490 362l-12 18l10-18l12-17z"/><path class="zb" d="M500 345l-12 17l7-3l11-16z"/><path class="pa" d="M506 343l-11 16l6 8l12-16z"/><path class="Fa" d="M513 351l-12 16l10 27l12-18z"/><path class="rb" d="M523 376l-12 18l13 33l11-20z"/><path class="Db" d="M535 407l-11 20l12 16l11-21z"/><path class="g" d="M547 422l-11 21l12-5l12-20z"/><path class="c k1" d="M560 418l-12 20l13-22l11-18zM572 398l-11 18l10-18l11-17z"/><path class="f" d="M582 381l-11 17l6-3l12-16z"/><path class="pa" d="M589 379l-12 16l7 9l11-16z"/><path class="Ea" d="M595 388l-11 16l10 27l11-18z"/><path class="rb" d="M605 413l-11 18l12 33l12-19z"/><path class="Ya" d="M618 445l-12 19l13 17l11-20z"/><path class="g" d="M630 461l-11 20l12-4l11-19z"/><path class="c k1" d="M642 458l-11 19l12-20l12-17zM655 440l-12 17l10-16l12-15z"/><path class="f" d="M665 426l-12 15l7-1l11-15z"/><path class="tb" d="M671 425l-11 15l6 10l12-15z"/><path class="Fa" d="M678 435l-12 15l10 28l12-16z"/><path class="Ia" d="M688 462l-12 16l13 35l11-17z"/><path class="Yb" d="M700 496l-11 17l12 20l12-17z"/><path class="Zb" d="M713 516l-12 17l13 2l11-16z"/><path class="x" d="M725 519l-11 16l12-10l11-14zM737 511l-11 14l10-5l11-13z"/><path class="A" d="M747 507l-11 13l6 6l12-13z"/><path class="ab" d="M754 513l-12 13l7 11l11-12z"/><path class="eb" d="M760 525l-11 12l10 28l11-9z"/><path class="ac" d="M770 556l-11 9l13 35l11-9z"/><path class="T" d="M783 591l-11 9l11 21l12-8z"/><path class="bc" d="M795 613l-12 8l11 10l11-9z"/><path class="G" d="M805 622l-11 9l9 4l12-9zM815 626l-12 9l8 2l12-9z"/><path class="V" d="M823 628l-12 9l7 5l11-10z"/><path class="P" d="M829 632l-11 10l5 7l11-10z"/><path class="q" d="M834 639l-11 10l2 5l11-10z"/><path class="x" d="M330 347l-12 13l3-1l11-13z"/><path class="h" d="M332 346l-11 13l4 3l12-13z"/><path class="Lb" d="M337 349l-12 13l7 8l11-12z"/><path class="Yb" d="M343 358l-11 12l8 14l11-12z"/><path class="C" d="M351 372l-11 12l9 13l12-11z"/><path class="Z" d="M361 386l-12 11l11 5l11-11z"/><path class="c" d="M371 391l-11 11l11-9l12-11zM383 382l-12 11l13-25l12-12zM396 356l-12 12l10-23l12-10zM406 335l-12 10l7-4l11-10z"/><path class="y" d="M412 331l-11 10l6 6l12-9z"/><path class="Xa" d="M419 338l-12 9l10 22l12-7z"/><path class="Oa" d="M429 362l-12 7l13 28l11-4z"/><path class="g" d="M441 393l-11 4l12 14l11-3z"/><path class="c k1" d="M453 408l-11 3l12-5l12-3zM466 403l-12 3l13-19l11-7zM478 380l-11 7l10-16l11-9z"/><path class="ea k1" d="M488 362l-11 9l6-2l12-10z"/><path class="Bb" d="M495 359l-12 10l7 8l11-10z"/><path class="qb" d="M501 367l-11 10l10 24l11-7z"/><path class="db" d="M511 394l-11 7l12 29l12-3z"/><path class="g" d="M524 427l-12 3l13 15l11-2z"/><path class="c k1" d="M536 443l-11 2l12-4l11-3zM548 438l-11 3l12-18l12-7zM561 416l-12 7l10-16l12-9z"/><path class="ea k1" d="M571 398l-12 9l7-2l11-10z"/><path class="ra" d="M577 395l-11 10l6 8l12-9z"/><path class="qb" d="M584 404l-12 9l10 25l12-7z"/><path class="db" d="M594 431l-12 7l13 30l11-4z"/><path class="g" d="M606 464l-11 4l12 15l12-2z"/><path class="c k1" d="M619 481l-12 2l13-3l11-3zM631 477l-11 3l12-16l11-7zM643 457l-11 7l10-14l11-9z"/><path class="ea" d="M653 441l-11 9l6 0l12-10z"/><path class="ra" d="M660 440l-12 10l7 9l11-9z"/><path class="qb" d="M666 450l-11 9l10 26l11-7z"/><path class="Ya" d="M676 478l-11 7l12 31l12-3z"/><path class="Zb" d="M689 513l-12 3l13 18l11-1z"/><path class="d k1" d="M701 533l-11 1l12 3l12-2z"/><path class="c k1" d="M714 535l-12 2l13-7l11-5zM726 525l-11 5l9-3l12-7z"/><path class="g" d="M736 520l-12 7l7 6l11-7z"/><path class="B" d="M742 526l-11 7l7 12l11-8z"/><path class="vb" d="M749 537l-11 8l10 30l11-10z"/><path class="cc" d="M759 565l-11 10l12 35l12-10z"/><path class="U" d="M772 600l-12 10l12 21l11-10z"/><path class="ua" d="M783 621l-11 10l10 10l12-10z"/><path class="r" d="M794 631l-12 10l10 4l11-10zM803 635l-11 10l8 3l11-11z"/><path class="bc" d="M811 637l-11 11l6 5l12-11z"/><path class="dc" d="M818 642l-12 11l5 7l12-11z"/><path class="q" d="M823 649l-12 11l3 5l11-11z"/><path class="e" d="M318 360l-11 15l2 0l12-16z"/><path class="j" d="M321 359l-12 16l5 2l11-15z"/><path class="ec" d="M325 362l-11 15l6 8l12-15z"/><path class="fc" d="M332 370l-12 15l9 13l11-14z"/><path class="gc" d="M340 384l-11 14l9 12l11-13z"/><path class="aa" d="M349 397l-11 13l10 5l12-13z"/><path class="d" d="M360 402l-12 13l12-9l11-13z"/><path class="c" d="M371 393l-11 13l13-35l11-3zM384 368l-11 3l10-21l11-5zM394 345l-11 5l6-4l12-5z"/><path class="f" d="M401 341l-12 5l7 5l11-4z"/><path class="ra" d="M407 347l-11 4l10 16l11 2z"/><path class="h" d="M417 369l-11-2l12 22l12 8z"/><path class="c k1" d="M430 397l-12-8l13 11l11 11zM442 411l-11-11l12-2l11 8zM454 406l-11-8l12-12l12 1zM467 387l-12-1l10-10l12-5zM477 371l-12 5l7-1l11-6z"/><path class="Da" d="M483 369l-11 6l6 7l12-5z"/><path class="ra" d="M490 377l-12 5l10 18l12 1z"/><path class="h" d="M500 401l-12-1l13 22l11 8z"/><path class="c k1" d="M512 430l-11-8l12 12l12 11zM525 445l-12-11l13-1l11 8zM537 441l-11-8l12-12l11 2zM549 423l-11-2l10-9l11-5zM559 407l-11 5l6-1l12-6z"/><path class="Da" d="M566 405l-12 6l7 7l11-5z"/><path class="ra" d="M572 413l-11 5l10 19l11 1z"/><path class="i" d="M582 438l-11-1l12 23l12 8z"/><path class="c k1" d="M595 468l-12-8l13 12l11 11zM607 483l-11-11l12 0l12 8zM620 480l-12-8l13-9l11 1zM632 464l-11-1l9-8l12-5z"/><path class="ea k1" d="M642 450l-12 5l7 1l11-6z"/><path class="y" d="M648 450l-11 6l7 7l11-4z"/><path class="Ha" d="M655 459l-11 4l10 21l11 1z"/><path class="z" d="M665 485l-11-1l12 25l11 7z"/><path class="x" d="M677 516l-11-7l12 16l12 9z"/><path class="c k1" d="M690 534l-12-9l13 5l11 7zM702 537l-11-7l12-2l12 2zM715 530l-12-2l10 2l11-3z"/><path class="g" d="M724 527l-11 3l7 7l11-4z"/><path class="k" d="M731 533l-11 4l6 11l12-3z"/><path class="Eb" d="M738 545l-12 3l10 30l12-3z"/><path class="cc" d="M748 575l-12 3l13 43l11-11z"/><path class="hc" d="M760 610l-11 11l12 21l11-11z"/><path class="Ka" d="M772 631l-11 11l10 10l11-11z"/><path class="V" d="M782 641l-11 11l9 5l12-12zM792 645l-12 12l8 4l12-13z"/><path class="Ka" d="M800 648l-12 13l7 5l11-13z"/><path class="F" d="M806 653l-11 13l5 8l11-14z"/><path class="ic" d="M811 660l-11 14l2 4l12-13z"/><path class="Rb" d="M307 375l-9 14l2 0l9-14z"/><path class="l" d="M309 375l-9 14l5 1l9-13z"/><path class="jc" d="M314 377l-9 13l6 8l9-13z"/><path class="kc" d="M320 385l-9 13l8 13l10-13z"/><path class="lb" d="M329 398l-10 13l10 11l9-12z"/><path class="ba" d="M338 410l-9 12l10 5l9-12z"/><path class="c" d="M348 415l-9 12l12-12l9-9zM360 406l-9 9l13-40l9-4zM373 371l-9 4l10-20l9-5zM383 350l-9 5l6-2l9-7z"/><path class="f" d="M389 346l-9 7l7 3l9-5z"/><path class="y" d="M396 351l-9 5l10 12l9-1z"/><path class="f" d="M406 367l-9 1l12 16l9 5z"/><path class="c k1" d="M418 389l-9-5l12 8l10 8zM431 400l-10-8l13 1l9 5zM443 398l-9-5l12-6l9-1zM455 386l-9 1l10-6l9-5z"/><path class="ea" d="M465 376l-9 5l7 1l9-7z"/><path class="Da" d="M472 375l-9 7l6 5l9-5z"/><path class="y" d="M478 382l-9 5l10 13l9 0z"/><path class="f" d="M488 400l-9 0l13 17l9 5z"/><path class="c k1" d="M501 422l-9-5l12 9l9 8zM513 434l-9-8l12 1l10 6zM526 433l-10-6l13-5l9-1zM538 421l-9 1l10-5l9-5z"/><path class="ea" d="M548 412l-9 5l6 1l9-7z"/><path class="Da" d="M554 411l-9 7l7 6l9-6z"/><path class="y" d="M561 418l-9 6l10 13l9 0z"/><path class="f" d="M571 437l-9 0l12 18l9 5z"/><path class="c k1" d="M583 460l-9-5l13 10l9 7zM596 472l-9-7l12 2l9 5zM608 472l-9-5l12-3l10-1zM621 463l-10 1l10-3l9-6z"/><path class="x" d="M630 455l-9 6l7 2l9-7z"/><path class="y" d="M637 456l-9 7l7 6l9-6z"/><path class="ra" d="M644 463l-9 6l9 16l10-1z"/><path class="h" d="M654 484l-10 1l13 20l9 4z"/><path class="x" d="M666 509l-9-4l12 14l9 6z"/><path class="c k1" d="M678 525l-9-6l13 7l9 4zM691 530l-9-4l12 3l9-1z"/><path class="ea" d="M703 528l-9 1l10 5l9-4z"/><path class="i" d="M713 530l-9 4l6 8l10-5z"/><path class="A" d="M720 537l-10 5l7 11l9-5z"/><path class="lc" d="M726 548l-9 5l10 28l9-3z"/><path class="mc" d="M736 578l-9 3l13 48l9-8z"/><path class="q" d="M749 621l-9 8l11 23l10-10z"/><path class="nc" d="M761 642l-10 10l11 11l9-11z"/><path class="bc" d="M771 652l-9 11l9 5l9-11zM780 657l-9 11l8 4l9-11z"/><path class="P" d="M788 661l-9 11l7 6l9-12z"/><path class="oc" d="M795 666l-9 12l5 8l9-12z"/><path class="pc" d="M800 674l-9 12l2 4l9-12z"/><path class="Z" d="M298 389l-7 11l3-1l6-10z"/><path class="m" d="M300 389l-6 10l5 2l6-11z"/><path class="qc" d="M305 390l-6 11l6 7l6-10z"/><path class="rc" d="M311 398l-6 10l8 12l6-9z"/><path class="lb" d="M319 411l-6 9l10 11l6-9z"/><path class="ca" d="M329 422l-6 9l10 4l6-8z"/><path class="c" d="M339 427l-6 8l12-13l6-7zM351 415l-6 7l13-40l6-7zM364 375l-6 7l9-18l7-9z"/><path class="f" d="M374 355l-7 9l7-3l6-8z"/><path class="y" d="M380 353l-6 8l7 4l6-9z"/><path class="Ha" d="M387 356l-6 9l10 11l6-8z"/><path class="fa" d="M397 368l-6 8l12 13l6-5z"/><path class="h" d="M409 384l-6 5l12 8l6-5z"/><path class="x" d="M421 392l-6 5l13 1l6-5z"/><path class="ea" d="M434 393l-6 5l12-4l6-7z"/><path class="x" d="M446 387l-6 7l10-4l6-9z"/><path class="Da" d="M456 381l-6 9l7 1l6-9z"/><path class="ra" d="M463 382l-6 9l6 5l6-9z"/><path class="Ha" d="M469 387l-6 9l10 11l6-7z"/><path class="fa" d="M479 400l-6 7l13 15l6-5z"/><path class="h" d="M492 417l-6 5l12 9l6-5z"/><path class="e" d="M504 426l-6 5l12 2l6-6z"/><path class="ea" d="M516 427l-6 6l13-4l6-7z"/><path class="x" d="M529 422l-6 7l10-3l6-9z"/><path class="Da" d="M539 417l-6 9l6 1l6-9z"/><path class="ra" d="M545 418l-6 9l7 5l6-8z"/><path class="Ha" d="M552 424l-6 8l10 13l6-8zM562 437l-6 8l12 15l6-5z"/><path class="i" d="M574 455l-6 5l13 10l6-5z"/><path class="f" d="M587 465l-6 5l12 3l6-6z"/><path class="x" d="M599 467l-6 6l12-2l6-7z"/><path class="f" d="M611 464l-6 7l10-1l6-9z"/><path class="y" d="M621 461l-6 9l7 2l6-9z"/><path class="Ha" d="M628 463l-6 9l6 6l7-9z"/><path class="db" d="M635 469l-7 9l10 15l6-8z"/><path class="Oa" d="M644 485l-6 8l13 18l6-6z"/><path class="A" d="M657 505l-6 6l12 13l6-5z"/><path class="h" d="M669 519l-6 5l13 8l6-6z"/><path class="g" d="M682 526l-6 6l12 5l6-8z"/><path class="j" d="M694 529l-6 8l10 6l6-9z"/><path class="Lb" d="M704 534l-6 9l6 7l6-8z"/><path class="Xb" d="M710 542l-6 8l7 10l6-7z"/><path class="vb" d="M717 553l-6 7l10 27l6-6z"/><path class="sc" d="M727 581l-6 6l13 48l6-6z"/><path class="ic" d="M740 629l-6 6l11 24l6-7z"/><path class="P" d="M751 652l-6 7l11 11l6-7z"/><path class="Ka" d="M762 663l-6 7l9 6l6-8zM771 668l-6 8l8 5l6-9z"/><path class="dc" d="M779 672l-6 9l7 6l6-9z"/><path class="tc" d="M786 678l-6 9l5 8l6-9z"/><path class="uc" d="M791 686l-6 9l2 4l6-9z"/><path class="ba" d="M291 400l-6 13l3-1l6-13z"/><path class="D" d="M294 399l-6 13l5 1l6-12z"/><path class="kc" d="M299 401l-6 12l6 7l6-12z"/><path class="vc" d="M305 408l-6 12l8 10l6-10z"/><path class="N" d="M313 420l-6 10l10 10l6-9z"/><path class="aa" d="M323 431l-6 9l10 1l6-6z"/><path class="X" d="M333 435l-6 6l12-7l6-12z"/><path class="c" d="M345 422l-6 12l12-40l7-12zM358 382l-7 12l10-18l6-12z"/><path class="h" d="M367 364l-6 12l7-2l6-13z"/><path class="Ha" d="M374 361l-6 13l7 4l6-13z"/><path class="Ga" d="M381 365l-6 13l10 10l6-12zM391 376l-6 12l12 14l6-13z"/><path class="Kb" d="M403 389l-6 13l12 7l6-12z"/><path class="fa" d="M415 397l-6 12l13 2l6-13z"/><path class="h" d="M428 398l-6 13l12-5l6-12zM440 394l-6 12l10-4l6-12z"/><path class="Bb" d="M450 390l-6 12l7 1l6-12z"/><path class="Ha" d="M457 391l-6 12l6 4l6-11z"/><path class="qb" d="M463 396l-6 11l10 13l6-13zM473 407l-6 13l12 15l7-13z"/><path class="Oa" d="M486 422l-7 13l13 8l6-12z"/><path class="fa" d="M498 431l-6 12l12 3l6-13z"/><path class="i" d="M510 433l-6 13l13-5l6-12z"/><path class="h" d="M523 429l-6 12l10-3l6-12z"/><path class="ra" d="M533 426l-6 12l6 1l6-12z"/><path class="tb" d="M539 427l-6 12l7 5l6-12z"/><path class="qb" d="M546 432l-6 12l10 13l6-12zM556 445l-6 12l12 16l6-13z"/><path class="Oa" d="M568 460l-6 13l12 9l7-12z"/><path class="Za" d="M581 470l-7 12l13 4l6-13z"/><path class="y" d="M593 473l-6 13l12-2l6-13zM605 471l-6 13l10-2l6-12z"/><path class="Za" d="M615 470l-6 12l7 2l6-12z"/><path class="db" d="M622 472l-6 12l6 7l6-13z"/><path class="sa" d="M628 478l-6 13l10 14l6-12z"/><path class="yb" d="M638 493l-6 12l13 19l6-13z"/><path class="Ya" d="M651 511l-6 13l12 12l6-12z"/><path class="Xb" d="M663 524l-6 12l12 10l7-14z"/><path class="B" d="M676 532l-7 14l13 4l6-13z"/><path class="ec" d="M688 537l-6 13l10 5l6-12z"/><path class="Yb" d="M698 543l-6 12l6 7l6-12z"/><path class="lc" d="M704 550l-6 12l7 8l6-10z"/><path class="Wb" d="M711 560l-6 10l10 27l6-10z"/><path class="wc" d="M721 587l-6 10l13 47l6-9z"/><path class="ic" d="M734 635l-6 9l11 20l6-5z"/><path class="nc" d="M745 659l-6 5l11 13l6-7z"/><path class="H" d="M756 670l-6 7l9 6l6-7z"/><path class="Ka" d="M765 676l-6 7l8 6l6-8z"/><path class="dc" d="M773 681l-6 8l7 7l6-9z"/><path class="xc" d="M780 687l-6 9l5 7l6-8zM785 695l-6 8l2 5l6-9z"/><path class="yc" d="M285 413l-9 34l3-1l9-34z"/><path class="zc" d="M288 412l-9 34l4 1l10-34z"/><path class="sc" d="M293 413l-10 34l7 4l9-31z"/><path class="Ac" d="M299 420l-9 31l8 4l9-25z"/><path class="T" d="M307 430l-9 25l9-2l10-13z"/><path class="G" d="M317 440l-10 13l11-2l9-10zM327 441l-9 10l12-1l9-16z"/><path class="x" d="M339 434l-9 16l12-16l9-40z"/><path class="ab" d="M351 394l-9 40l10-18l9-40z"/><path class="Ia" d="M361 376l-9 40l7-2l9-40z"/><path class="Bc" d="M368 374l-9 40l6 4l10-40zM375 378l-10 40l10 11l10-41z"/><path class="Cc" d="M385 388l-10 41l13 6l9-33z"/><path class="Dc" d="M397 402l-9 33l12 4l9-30z"/><path class="Ib" d="M409 409l-9 30l13 5l9-33z"/><path class="Dc" d="M422 411l-9 33l12 2l9-40z"/><path class="Qb" d="M434 406l-9 40l10-4l9-40z"/><path class="Gb" d="M444 402l-9 40l6 1l10-40zM451 403l-10 40l7 4l9-40z"/><path class="Bc" d="M457 407l-9 40l10 13l9-40z"/><path class="Cc" d="M467 420l-9 40l12 8l9-33z"/><path class="Dc" d="M479 435l-9 33l13 5l9-30zM492 443l-9 30l12 5l9-32z"/><path class="Ia" d="M504 446l-9 32l13 4l9-41z"/><path class="Qb" d="M517 441l-9 41l9-4l10-40z"/><path class="Gb" d="M527 438l-10 40l7 1l9-40z"/><path class="Bc" d="M533 439l-9 40l7 5l9-40zM540 444l-9 40l10 13l9-40z"/><path class="Cc" d="M550 457l-9 40l12 9l9-33z"/><path class="Dc" d="M562 473l-9 33l12 6l9-30zM574 482l-9 30l13 7l9-33zM587 486l-9 33l12 5l9-40z"/><path class="Ia" d="M599 484l-9 40l10-2l9-40zM609 482l-9 40l7 2l9-40z"/><path class="Bc" d="M616 484l-9 40l6 6l9-39z"/><path class="Ec" d="M622 491l-9 39l10 15l9-40z"/><path class="kb" d="M632 505l-9 40l13 11l9-32z"/><path class="eb" d="M645 524l-9 32l12 10l9-30z"/><path class="Hb" d="M657 536l-9 30l12 11l9-31zM669 546l-9 31l13 10l9-37z"/><path class="Ja" d="M682 550l-9 37l10 4l9-36z"/><path class="Fc" d="M692 555l-9 36l6 7l9-36z"/><path class="Gc" d="M698 562l-9 36l7 8l9-36z"/><path class="Hc" d="M705 570l-9 36l10 23l9-32z"/><path class="Ic" d="M715 597l-9 32l12 28l10-13z"/><path class="oc" d="M728 644l-10 13l12 15l9-8z"/><path class="dc" d="M739 664l-9 8l11 15l9-10zM750 677l-9 10l9 14l9-18z"/><path class="xc" d="M759 683l-9 18l8 9l9-21z"/><path class="Jc" d="M767 689l-9 21l7 7l9-21z"/><path class="uc" d="M774 696l-9 21l4 7l10-21z"/><path class="Kc" d="M779 703l-10 21l3 4l9-20z"/><path class="oc" d="M276 447l-10 31l2-1l11-31z"/><path class="q" d="M279 446l-11 31l5-2l10-28z"/><path class="F" d="M283 447l-10 28l7-2l10-22z"/><path class="Ka" d="M290 451l-10 22l8-2l10-16z"/><path class="G" d="M298 455l-10 16l9-3l10-15zM307 453l-10 15l11-3l10-14zM318 451l-10 14l11-1l11-14z"/><path class="aa" d="M330 450l-11 14l13 1l10-31z"/><path class="Lc" d="M342 434l-10 31l10-5l10-44z"/><path class="Wb" d="M352 416l-10 44l7 0l10-46z"/><path class="Ja" d="M359 414l-10 46l6 2l10-44zM365 418l-10 44l10 3l10-36z"/><path class="Qa" d="M375 429l-10 36l13 4l10-34z"/><path class="ga" d="M388 435l-10 34l12 4l10-34zM400 439l-10 34l12 4l11-33zM413 444l-11 33l13 5l10-36z"/><path class="vb" d="M425 446l-10 36l10 4l10-44z"/><path class="Ja" d="M435 442l-10 44l6 3l10-46z"/><path class="ta" d="M441 443l-10 46l7 2l10-44z"/><path class="Ja" d="M448 447l-10 44l10 5l10-36z"/><path class="Qa" d="M458 460l-10 36l12 5l10-33z"/><path class="ga" d="M470 468l-10 33l12 5l11-33z"/><path class="Qa" d="M483 473l-11 33l13 6l10-34zM495 478l-10 34l12 5l11-35z"/><path class="vb" d="M508 482l-11 35l10 5l10-44z"/><path class="Ja" d="M517 478l-10 44l7 3l10-46zM524 479l-10 46l6 3l11-44zM531 484l-11 44l10 5l11-36z"/><path class="Wb" d="M541 497l-11 36l13 6l10-33z"/><path class="Qa" d="M553 506l-10 33l12 7l10-34z"/><path class="Wb" d="M565 512l-10 34l12 6l11-33zM578 519l-11 33l13 7l10-35zM590 524l-10 35l10 6l10-43z"/><path class="Fc" d="M600 522l-10 43l6 4l11-45z"/><path class="Gc" d="M607 524l-11 45l7 5l10-44zM613 530l-10 44l10 6l10-35z"/><path class="Mc" d="M623 545l-10 35l12 9l11-33z"/><path class="mc" d="M636 556l-11 33l13 10l10-33zM648 566l-10 33l12 10l10-32zM660 577l-10 32l12 12l11-34z"/><path class="wc" d="M673 587l-11 34l10 10l11-40zM683 591l-11 40l7 7l10-40z"/><path class="Ic" d="M689 598l-10 40l7 6l10-38z"/><path class="Nc" d="M696 606l-10 38l9 14l11-29z"/><path class="Oc" d="M706 629l-11 29l13 11l10-12z"/><path class="dc" d="M718 657l-10 12l12 15l10-12zM730 672l-10 12l10 15l11-12z"/><path class="Pc" d="M741 687l-11 12l10 14l10-12zM750 701l-10 12l8 12l10-15z"/><path class="Qc" d="M758 710l-10 15l6 11l11-19z"/><path class="Rc" d="M765 717l-11 19l5 8l10-20z"/><path class="Sc" d="M769 724l-10 20l3 4l10-20z"/><path class="H" d="M266 478l-9 20l2-1l9-20zM268 477l-9 20l5-1l9-21z"/><path class="bc" d="M273 475l-9 21l6-3l10-20zM280 473l-10 20l8-4l10-18z"/><path class="V" d="M288 471l-10 18l10-4l9-17zM297 468l-9 17l10-3l10-17zM308 465l-10 17l12-2l9-16z"/><path class="ua" d="M319 464l-9 16l13 1l9-16zM332 465l-9 16l10 1l9-22z"/><path class="T" d="M342 460l-9 22l6 1l10-23z"/><path class="N" d="M349 460l-10 23l7 1l9-22zM355 462l-9 22l10 3l9-22zM365 465l-9 22l12 4l10-22zM378 469l-10 22l12 4l10-22zM390 473l-10 22l13 5l9-23zM402 477l-9 23l12 4l10-22z"/><path class="lb" d="M415 482l-10 22l10 4l10-22zM425 486l-10 22l7 3l9-22zM431 489l-9 22l6 3l10-23zM438 491l-10 23l10 4l10-22z"/><path class="Tc" d="M448 496l-10 22l13 5l9-22zM460 501l-9 22l12 5l9-22zM472 506l-9 22l12 6l10-22zM485 512l-10 22l13 6l9-23zM497 517l-9 23l10 4l9-22zM507 522l-9 22l6 3l10-22zM514 525l-10 22l7 3l9-22zM520 528l-9 22l10 5l9-22z"/><path class="p" d="M530 533l-9 22l12 6l10-22zM543 539l-10 22l13 7l9-22zM555 546l-9 22l12 7l9-23zM567 552l-9 23l12 7l10-23zM580 559l-10 23l10 6l10-23zM590 565l-10 23l7 4l9-23zM596 569l-9 23l7 4l9-22z"/><path class="Uc" d="M603 574l-9 22l9 6l10-22zM613 580l-10 22l13 9l9-22zM625 589l-9 22l12 10l10-22z"/><path class="Vc" d="M638 599l-10 22l13 10l9-22z"/><path class="Wc" d="M650 609l-9 22l12 12l9-22zM662 621l-9 22l10 10l9-22zM672 631l-9 22l7 7l9-22z"/><path class="ic" d="M679 638l-9 22l6 5l10-21zM686 644l-10 21l10 8l9-15z"/><path class="dc" d="M695 658l-9 15l13 12l9-16z"/><path class="oc" d="M708 669l-9 16l11 12l10-13z"/><path class="Qc" d="M720 684l-10 13l11 14l9-12zM730 699l-9 12l9 15l10-13zM740 713l-10 13l8 13l10-14z"/><path class="Xc" d="M748 725l-10 14l7 10l9-13z"/><path class="u" d="M754 736l-9 13l5 8l9-13zM759 744l-9 13l2 4l10-13z"/><path class="Yc" d="M257 498l-9 24l2-1l9-24z"/><path class="Zc" d="M259 497l-9 24l5-2l9-23z"/><path class="nc" d="M264 496l-9 23l7-4l8-22z"/><path class="H" d="M270 493l-8 22l8-6l8-20z"/><path class="bc" d="M278 489l-8 20l9-6l9-18zM288 485l-9 18l11-4l8-17z"/><path class="ua" d="M298 482l-8 17l11-3l9-16zM310 480l-9 16l13 0l9-15zM323 481l-9 15l10 1l9-15zM333 482l-9 15l7 0l8-14zM339 483l-8 14l6 1l9-14zM346 484l-9 14l10 2l9-13zM356 487l-9 13l13 4l8-13zM368 491l-8 13l12 4l8-13zM380 495l-8 13l12 5l9-13zM393 500l-9 13l13 4l8-13zM405 504l-8 13l10 4l8-13zM415 508l-8 13l6 3l9-13zM422 511l-9 13l7 3l8-13z"/><path class="ca" d="M428 514l-8 13l10 4l8-13zM438 518l-8 13l12 5l9-13zM451 523l-9 13l13 5l8-13z"/><path class="ad" d="M463 528l-8 13l12 6l8-13zM475 534l-8 13l12 6l9-13zM488 540l-9 13l10 4l9-13z"/><path class="Ra" d="M498 544l-9 13l7 3l8-13zM504 547l-8 13l6 4l9-14zM511 550l-9 14l10 4l9-13zM521 555l-9 13l13 7l8-14zM533 561l-8 14l12 6l9-13zM546 568l-9 13l13 7l8-13zM558 575l-8 13l12 7l8-13zM570 582l-8 13l10 6l8-13zM580 588l-8 13l6 4l9-13z"/><path class="P" d="M587 592l-9 13l7 4l9-13zM594 596l-9 13l10 7l8-14zM603 602l-8 14l12 9l9-14zM616 611l-9 14l13 9l8-13z"/><path class="F" d="M628 621l-8 13l12 11l9-14zM641 631l-9 14l13 11l8-13z"/><path class="oc" d="M653 643l-8 13l9 11l9-14zM663 653l-9 14l7 7l9-14z"/><path class="dc" d="M670 660l-9 14l7 6l8-15zM676 665l-8 15l10 8l8-15z"/><path class="Qc" d="M686 673l-8 15l12 12l9-15zM699 685l-9 15l12 12l8-15z"/><path class="Rc" d="M710 697l-8 15l10 14l9-15zM721 711l-9 15l10 14l8-14zM730 726l-8 14l8 13l8-14z"/><path class="bd" d="M738 739l-8 14l6 11l9-15zM745 749l-9 15l5 8l9-15zM750 757l-9 15l3 4l8-15z"/><path class="Rc" d="M248 522l-7 27l2-1l7-27z"/><path class="Xc" d="M250 521l-7 27l5-4l7-25z"/><path class="Zc" d="M255 519l-7 25l6-6l8-23z"/><path class="H" d="M262 515l-8 23l8-9l8-20zM270 509l-8 20l10-8l7-18z"/><path class="bc" d="M279 503l-7 18l10-6l8-16zM290 499l-8 16l12-4l7-15z"/><path class="Ka" d="M301 496l-7 15l13-1l7-14z"/><path class="r" d="M314 496l-7 14l10-5l7-8z"/><path class="G" d="M324 497l-7 8l6 0l8-8zM331 497l-8 8l7 1l7-8zM337 498l-7 8l10 2l7-8z"/><path class="r" d="M347 500l-7 8l12 4l8-8zM360 504l-8 8l12 4l8-8zM372 508l-8 8l13 4l7-7zM384 513l-7 7l12 5l8-8zM397 517l-8 8l10 4l8-8zM407 521l-8 8l7 2l7-7z"/><path class="V" d="M413 524l-7 7l6 3l8-7zM420 527l-8 7l10 4l8-7zM430 531l-8 7l13 5l7-7zM442 536l-7 7l12 6l8-8zM455 541l-8 8l12 5l8-7zM467 547l-8 7l13 6l7-7zM479 553l-7 7l10 5l7-8zM489 557l-7 8l6 3l8-8zM496 560l-8 8l7 3l7-7zM502 564l-7 7l10 5l7-8zM512 568l-7 8l12 6l8-7zM525 575l-8 7l13 7l7-8zM537 581l-7 8l12 7l8-8z"/><path class="bc" d="M550 588l-8 8l12 7l8-8zM562 595l-8 8l10 6l8-8zM572 601l-8 8l7 4l7-8zM578 605l-7 8l7 4l7-8zM585 609l-7 8l9 7l8-8z"/><path class="ua" d="M595 616l-8 8l13 9l7-8z"/><path class="Ka" d="M607 625l-7 8l12 10l8-9zM620 634l-8 9l13 11l7-9z"/><path class="nc" d="M632 645l-7 9l12 12l8-10z"/><path class="P" d="M645 656l-8 10l10 10l7-9z"/><path class="dc" d="M654 667l-7 9l6 8l8-10z"/><path class="nc" d="M661 674l-8 10l7 5l8-9z"/><path class="Pc" d="M668 680l-8 9l10 13l8-14z"/><path class="Qc" d="M678 688l-8 14l13 12l7-14zM690 700l-7 14l11 13l8-15z"/><path class="Rc" d="M702 712l-8 15l11 14l7-15zM712 726l-7 15l9 13l8-14z"/><path class="bd" d="M722 740l-8 14l8 13l8-14zM730 753l-8 14l7 12l7-15z"/><path class="v" d="M736 764l-7 15l5 9l7-16z"/><path class="cd" d="M741 772l-7 16l2 4l8-16z"/><path class="dd" d="M241 549l-7 29l2-1l7-29z"/><path class="u" d="M243 548l-7 29l5-7l7-26z"/><path class="t" d="M248 544l-7 26l7-11l6-21z"/><path class="s" d="M254 538l-6 21l8-12l6-18zM262 529l-6 18l9-10l7-16z"/><path class="bc" d="M272 521l-7 16l11-8l6-14zM282 515l-6 14l11-4l7-14z"/><path class="r" d="M294 511l-7 14l13-8l7-7z"/><path class="b" d="M307 510l-7 7l10-6l7-6z"/><path class="X" d="M317 505l-7 6l7-1l6-5z"/><path class="W" d="M323 505l-6 5l6 1l7-5z"/><path class="G" d="M330 506l-7 5l10 2l7-5zM340 508l-7 5l13 4l6-5zM352 512l-6 5l12 3l6-4zM364 516l-6 4l12 5l7-5zM377 520l-7 5l13 4l6-4zM389 525l-6 4l10 4l6-4zM399 529l-6 4l6 3l7-5zM406 531l-7 5l7 2l6-4zM412 534l-6 4l10 5l6-5zM422 538l-6 5l12 5l7-5zM435 543l-7 5l13 5l6-4zM447 549l-6 4l12 6l6-5zM459 554l-6 5l12 5l7-4zM472 560l-7 4l10 5l7-4zM482 565l-7 4l7 3l6-4zM488 568l-6 4l6 4l7-5zM495 571l-7 5l10 5l7-5zM505 576l-7 5l13 6l6-5zM517 582l-6 5l12 7l7-5z"/><path class="r" d="M530 589l-7 5l13 7l6-5zM542 596l-6 5l12 7l6-5z"/><path class="V" d="M554 603l-6 5l10 6l6-5zM564 609l-6 5l6 4l7-5zM571 613l-7 5l7 5l7-6zM578 617l-7 6l10 7l6-6z"/><path class="bc" d="M587 624l-6 6l12 9l7-6zM600 633l-7 6l13 10l6-6z"/><path class="Ka" d="M612 643l-6 6l12 11l7-6zM625 654l-7 6l12 13l7-7z"/><path class="nc" d="M637 666l-7 7l10 10l7-7z"/><path class="Zc" d="M647 676l-7 7l7 8l6-7z"/><path class="Ka" d="M653 684l-6 7l7 6l6-8z"/><path class="Yc" d="M660 689l-6 8l10 13l6-8z"/><path class="Qc" d="M670 702l-6 8l12 17l7-13zM683 714l-7 13l12 13l6-13z"/><path class="ed" d="M694 727l-6 13l10 14l7-13z"/><path class="bd" d="M705 741l-7 13l10 14l6-14zM714 754l-6 14l8 14l6-15z"/><path class="v" d="M722 767l-6 15l6 12l7-15z"/><path class="a" d="M729 779l-7 15l5 9l7-15zM734 788l-7 15l3 4l6-15z"/><path class="w" d="M234 578l-5 30l2-6l5-25z"/><path class="fd" d="M236 577l-5 25l5-13l5-19z"/><path class="W" d="M241 570l-5 19l7-15l5-15zM248 559l-5 15l8-14l5-13zM256 547l-5 13l9-11l5-12z"/><path class="r" d="M265 537l-5 12l10-8l6-12z"/><path class="bc" d="M276 529l-6 12l12-5l5-11z"/><path class="X" d="M287 525l-5 11l13-13l5-6z"/><path class="b" d="M300 517l-5 6l10-7l5-5z"/><path class="X" d="M310 511l-5 5l6-1l6-5z"/><path class="G" d="M317 510l-6 5l7 1l5-5zM323 511l-5 5l10 2l5-5zM333 513l-5 5l12 3l6-4zM346 517l-6 4l13 4l5-5zM358 520l-5 5l12 4l5-4zM370 525l-5 4l12 4l6-4zM383 529l-6 4l10 4l6-4zM393 533l-6 4l7 3l5-4zM399 536l-5 4l7 2l5-4zM406 538l-5 4l9 5l6-4zM416 543l-6 4l13 5l5-4zM428 548l-5 4l12 5l6-4zM441 553l-6 4l13 6l5-4zM453 559l-5 4l12 6l5-5zM465 564l-5 5l10 4l5-4zM475 569l-5 4l7 3l5-4zM482 572l-5 4l6 4l5-4z"/><path class="r" d="M488 576l-5 4l10 5l5-4zM498 581l-5 4l12 6l6-4zM511 587l-6 4l13 7l5-4zM523 594l-5 4l12 7l6-4z"/><path class="V" d="M536 601l-6 4l13 7l5-4zM548 608l-5 4l10 7l5-5zM558 614l-5 5l6 4l5-5z"/><path class="bc" d="M564 618l-5 5l7 5l5-5zM571 623l-5 5l10 7l5-5zM581 630l-5 5l12 9l5-5z"/><path class="Ka" d="M593 639l-5 5l12 11l6-6zM606 649l-6 6l13 11l5-6z"/><path class="nc" d="M618 660l-5 6l12 13l5-6zM630 673l-5 6l10 11l5-7z"/><path class="Yc" d="M640 683l-5 7l7 8l5-7z"/><path class="Zc" d="M647 691l-5 7l6 6l6-7z"/><path class="Qc" d="M654 697l-6 7l10 14l6-8z"/><path class="Rc" d="M664 710l-6 8l13 19l5-10z"/><path class="u" d="M676 727l-5 10l12 14l5-11z"/><path class="bd" d="M688 740l-5 11l10 14l5-11zM698 754l-5 11l10 14l5-11z"/><path class="cd" d="M708 768l-5 11l8 14l5-11z"/><path class="a" d="M716 782l-5 11l6 14l5-13z"/><path class="gd" d="M722 794l-5 13l5 10l5-14z"/><path class="w" d="M727 803l-5 14l2 5l6-15z"/><path class="c" d="M229 608l-4-2l2-2l4-2zM231 602l-4 2l5-9l4-6zM236 589l-4 6l7-14l4-7zM243 574l-4 7l8-13l4-8z"/><path class="X" d="M251 560l-4 8l9-11l4-8z"/><path class="r" d="M260 549l-4 8l11-8l3-8z"/><path class="bc" d="M270 541l-3 8l11-5l4-8z"/><path class="X" d="M282 536l-4 8l13-15l4-6zM295 523l-4 6l10-9l4-4z"/><path class="G" d="M305 516l-4 4l6-1l4-4z"/><path class="r" d="M311 515l-4 4l7 1l4-4zM318 516l-4 4l10 2l4-4zM328 518l-4 4l12 3l4-4z"/><path class="V" d="M340 521l-4 4l13 4l4-4zM353 525l-4 4l12 4l4-4zM365 529l-4 4l13 5l3-5zM377 533l-3 5l9 3l4-4zM387 537l-4 4l7 3l4-4zM394 540l-4 4l7 3l4-5zM401 542l-4 5l10 4l3-4zM410 547l-3 4l12 5l4-4zM423 552l-4 4l12 5l4-4zM435 557l-4 4l13 6l4-4zM448 563l-4 4l12 6l4-4zM460 569l-4 4l10 4l4-4zM470 573l-4 4l7 4l4-5z"/><path class="bc" d="M477 576l-4 5l6 3l4-4zM483 580l-4 4l10 5l4-4zM493 585l-4 4l13 6l3-4zM505 591l-3 4l12 7l4-4zM518 598l-4 4l12 7l4-4z"/><path class="ua" d="M530 605l-4 4l13 8l4-5zM543 612l-4 5l10 6l4-4z"/><path class="Ka" d="M553 619l-4 4l6 5l4-5zM559 623l-4 5l7 4l4-4zM566 628l-4 4l10 8l4-5zM576 635l-4 5l12 9l4-5z"/><path class="nc" d="M588 644l-4 5l13 11l3-5z"/><path class="P" d="M600 655l-3 5l12 11l4-5z"/><path class="dc" d="M613 666l-4 5l12 13l4-5z"/><path class="Qc" d="M625 679l-4 5l10 12l4-6zM635 690l-4 6l7 8l4-6z"/><path class="Yc" d="M642 698l-4 6l6 7l4-7z"/><path class="Qc" d="M648 704l-4 7l10 13l4-6z"/><path class="Rc" d="M658 718l-4 6l13 22l4-9z"/><path class="u" d="M671 737l-4 9l12 13l4-8z"/><path class="bd" d="M683 751l-4 8l10 14l4-8z"/><path class="cd" d="M693 765l-4 8l10 14l4-8z"/><path class="a" d="M703 779l-4 8l8 14l4-8z"/><path class="w" d="M711 793l-4 8l6 13l4-7z"/><path class="J" d="M717 807l-4 7l5 10l4-7z"/><path class="hd" d="M722 817l-4 7l2 2l4-4z"/><path class="c" d="M225 606l-2-2l2-1l2 1zM227 604l-2-1l5-8l2 0zM232 595l-2 0l7-12l2-2zM239 581l-2 2l8-12l2-3z"/><path class="X" d="M247 568l-2 3l9-10l2-4z"/><path class="id" d="M256 557l-2 4l11-8l2-4z"/><path class="r" d="M267 549l-2 4l11-5l2-4z"/><path class="b" d="M278 544l-2 4l13-16l2-3z"/><path class="X" d="M291 529l-2 3l10-9l2-3z"/><path class="r" d="M301 520l-2 3l7-1l1-3z"/><path class="bc" d="M307 519l-1 3l6 1l2-3zM314 520l-2 3l10 2l2-3zM324 522l-2 3l12 3l2-3z"/><path class="ua" d="M336 525l-2 3l13 4l2-3zM349 529l-2 3l12 4l2-3zM361 533l-2 3l13 4l2-2zM374 538l-2 2l10 4l1-3zM383 541l-1 3l6 3l2-3zM390 544l-2 3l7 2l2-2zM397 547l-2 2l10 4l2-2zM407 551l-2 2l12 6l2-3zM419 556l-2 3l12 5l2-3z"/><path class="Ka" d="M431 561l-2 3l13 6l2-3zM444 567l-2 3l12 5l2-2zM456 573l-2 2l10 5l2-3zM466 577l-2 3l7 3l2-2zM473 581l-2 2l6 4l2-3zM479 584l-2 3l10 5l2-3zM489 589l-2 3l13 6l2-3zM502 595l-2 3l12 7l2-3zM514 602l-2 3l12 7l2-3z"/><path class="Ra" d="M526 609l-2 3l13 8l2-3z"/><path class="P" d="M539 617l-2 3l10 6l2-3zM549 623l-2 3l6 5l2-3zM555 628l-2 3l7 4l2-3zM562 632l-2 3l10 8l2-3z"/><path class="dc" d="M572 640l-2 3l12 9l2-3zM584 649l-2 3l13 11l2-3z"/><path class="jd" d="M597 660l-2 3l12 12l2-4z"/><path class="Qc" d="M609 671l-2 4l12 13l2-4zM621 684l-2 4l10 11l2-3z"/><path class="Rc" d="M631 696l-2 3l7 9l2-4z"/><path class="Qc" d="M638 704l-2 4l7 6l1-3z"/><path class="Rc" d="M644 711l-1 3l9 14l2-4z"/><path class="ed" d="M654 724l-2 4l13 21l2-3z"/><path class="u" d="M667 746l-2 3l12 14l2-4z"/><path class="bd" d="M679 759l-2 4l10 14l2-4z"/><path class="kd" d="M689 773l-2 4l10 14l2-4z"/><path class="gd" d="M699 787l-2 4l8 14l2-4z"/><path class="J" d="M707 801l-2 4l6 12l2-3z"/><path class="ld" d="M713 814l-2 3l5 8l2-1z"/><path class="md" d="M718 824l-2 1l2 1l2 0z"/></g><path d="M44.6 120.8L45.1 120.5L46 119.1L47.4 116.7L49 114.2L50.8 112.1L52.9 110.6L55.3 109.5L57.8 106.3L59.8 104.7L61.1 104.4L62.4 104.6L64.4 105L66.9 105.6L69.4 106.3L71.9 107.2L74.3 108.1L76.3 108.8L77.6 109.3L79 109.9L80.9 110.7L83.4 111.7L85.9 112.8L88.4 113.9L90.8 115.1L92.8 116L94.1 116.7L95.5 117.3L97.5 118.4L99.9 119.7L102.4 121L104.9 122.5L107.4 124L109.3 125.2L110.7 126.1L112 127.1L114 128.5L116.4 130.5L118.9 132.6L121.4 135L123.9 137.6L125.9 139.9L127.2 141.6L128.5 142.8L130.5 145.6L133 149.9L135.4 152.6L137.5 155.4L139.3 158.2L140.9 161L142.3 163.5L143.2 165.1L143.7 165.3L144.1 165.2L144.9 164.5L145.9 161.5L147.2 158.4L148.7 155.2L150.4 152.3L152.3 149.6L154.4 145.7L156.2 141.5L157.4 139.8L158.6 138L160.4 135.6L162.7 133L165 130.7L167.3 128.7L169.6 126.9L171.4 125.6L172.6 124.8L173.8 124L175.7 122.9L177.9 121.6L180.2 120.4L182.5 119.2L184.8 118.1L186.6 117.3L187.8 116.7L189.1 116.2L190.9 115.4L193.2 114.4L195.4 113.5L197.7 112.5L200 111.6L201.8 110.9L203.1 110.4L204.3 109.9L206.1 109.2L208.4 108.3L210.7 107.5L213 106.7L215.2 105.8L217.1 105.2L218.3 104.8L219.5 104.4L221.3 103.8L223.6 103.1L225.9 102.5L228.2 102L230.5 101.7L232.3 101.6L233.5 101.6L234.7 102.5L236.5 106.3L238.6 109.4L240.5 110.9L242.2 113.3L243.7 116.5L245 120.4L246 124.5L246.8 123L247.2 121.9" fill="none" stroke="#0a0a0a" stroke-opacity="0.75" stroke-width="1.2" stroke-linejoin="round"/>
<text x="247.9" y="157.8" text-anchor="start" font-size="11.3">0</text>
<text x="217.5" y="169.7" text-anchor="start" font-size="11.3">10</text>
<text x="187" y="181.6" text-anchor="start" font-size="11.3">20</text>
<text x="156.6" y="193.5" text-anchor="start" font-size="11.3">30</text>
<text x="46.2" y="156.9" text-anchor="end" font-size="11.3">0</text>
<text x="87.4" y="174.7" text-anchor="end" font-size="11.3">10</text>
<text x="128.7" y="192.4" text-anchor="end" font-size="11.3">20</text>
<text x="38" y="141.7" text-anchor="end" font-size="11.3">0.8</text>
<text x="38" y="121.7" text-anchor="end" font-size="11.3">1</text>
<text x="38" y="101.7" text-anchor="end" font-size="11.3">1.2</text>
<text x="38" y="81.7" text-anchor="end" font-size="11.3">1.4</text>
<text x="38" y="61.7" text-anchor="end" font-size="11.3">1.6</text>
<g fill="none"><path d="M44.6 139.3L44.6 47.3" stroke="#262626" stroke-width="0.9" /><path d="M44.6 139.3L143.7 181.8" stroke="#262626" stroke-width="0.9" /><path d="M143.7 181.8L247.2 141.3" stroke="#262626" stroke-width="0.9" /><path d="M241.1 143.7l2 0.9" stroke="#262626" stroke-width="0.9"/><path d="M210.7 155.6l2 0.9" stroke="#262626" stroke-width="0.9"/><path d="M180.2 167.5l2 0.9" stroke="#262626" stroke-width="0.9"/><path d="M149.8 179.4l2 0.9" stroke="#262626" stroke-width="0.9"/><path d="M52.9 142.8l-2 0.8" stroke="#262626" stroke-width="0.9"/><path d="M94.1 160.6l-2 0.8" stroke="#262626" stroke-width="0.9"/><path d="M135.4 178.3l-2 0.8" stroke="#262626" stroke-width="0.9"/><path d="M44.6 139.3l-2.2 1" stroke="#262626" stroke-width="0.9"/><path d="M44.6 119.3l-2.2 1" stroke="#262626" stroke-width="0.9"/><path d="M44.6 99.3l-2.2 1" stroke="#262626" stroke-width="0.9"/><path d="M44.6 79.3l-2.2 1" stroke="#262626" stroke-width="0.9"/><path d="M44.6 59.3l-2.2 1" stroke="#262626" stroke-width="0.9"/></g>
<text x="15.5" y="93" text-anchor="middle" font-size="11.5" transform="rotate(-90 15.5 93)" style="white-space:pre">GPR  (Volts)</text>
<text x="67.9" y="191.2" text-anchor="middle" font-size="12.1" style="white-space:pre">Y  (m)</text>
<text x="208" y="196" text-anchor="middle" font-size="12.1" style="white-space:pre">X  (m)</text>
<g fill="none"><path d="M147.9 346.7L240.7 392.4" stroke="#dfdfdf" stroke-width="0.7" /><path d="M147.9 346.7L147.9 254.1" stroke="#dfdfdf" stroke-width="0.7" /><path d="M115.6 357.9L208.4 403.6" stroke="#dfdfdf" stroke-width="0.7" /><path d="M115.6 357.9L115.6 265.3" stroke="#dfdfdf" stroke-width="0.7" /><path d="M83.4 369.2L176.2 414.9" stroke="#dfdfdf" stroke-width="0.7" /><path d="M83.4 369.2L83.4 276.5" stroke="#dfdfdf" stroke-width="0.7" /><path d="M51.1 380.4L143.9 426.1" stroke="#dfdfdf" stroke-width="0.7" /><path d="M51.1 380.4L51.1 287.7" stroke="#dfdfdf" stroke-width="0.7" /><path d="M162.1 348.3L52.3 386.4" stroke="#dfdfdf" stroke-width="0.7" /><path d="M162.1 348.3L162.1 255.6" stroke="#dfdfdf" stroke-width="0.7" /><path d="M200.8 367.4L91 405.5" stroke="#dfdfdf" stroke-width="0.7" /><path d="M200.8 367.4L200.8 274.7" stroke="#dfdfdf" stroke-width="0.7" /><path d="M239.5 386.4L129.7 424.5" stroke="#dfdfdf" stroke-width="0.7" /><path d="M239.5 386.4L239.5 293.7" stroke="#dfdfdf" stroke-width="0.7" /><path d="M44.6 366.3L154.4 328.2" stroke="#dfdfdf" stroke-width="0.7" /><path d="M154.4 328.2L247.2 373.9" stroke="#dfdfdf" stroke-width="0.7" /><path d="M44.6 328.1L154.4 290" stroke="#dfdfdf" stroke-width="0.7" /><path d="M154.4 290L247.2 335.7" stroke="#dfdfdf" stroke-width="0.7" /><path d="M44.6 289.9L154.4 251.8" stroke="#dfdfdf" stroke-width="0.7" /><path d="M154.4 251.8L247.2 297.5" stroke="#dfdfdf" stroke-width="0.7" /></g>
<path fill="none" stroke="#ff0000" stroke-width="1.8" stroke-linecap="square" d="M107.2 367.4L184.6 405.4M91.1 373L168.4 411M74.9 378.6L152.3 416.6M58.8 384.2L136.1 422.3M107.2 367.4L58.8 384.2M126.6 376.9L78.1 393.7M145.9 386.4L97.5 403.2M165.2 395.9L116.8 412.7M184.6 405.4L136.1 422.3"/>
<path fill="none" stroke="#ff0000" stroke-width="1.8" stroke-linecap="square" d="M155.7 350.5L175 360.1M139.5 356.2L158.9 365.7M123.4 361.8L142.7 371.3M107.2 367.4L126.6 376.9M155.7 350.5L107.2 367.4M175 360.1L126.6 376.9"/>
<path fill="none" stroke="#000000" stroke-width="1.8" stroke-linecap="square" d="M175 360.1L233 388.6M158.9 365.7L216.9 394.2M142.7 371.3L200.7 399.8M126.6 376.9L184.6 405.4M175 360.1L126.6 376.9M194.3 369.6L145.9 386.4M213.7 379.1L165.2 395.9M233 388.6L184.6 405.4"/>
<path d="M67.2 320.4L62.3 325.5L60.4 328L57.8 332.2L55.9 338.3L53.7 343.7L51.7 347.3L49.9 351.6L48.3 356.5L46.7 362.9L45 365.7L44.6 366L45 366.8L45.9 367.4L48.5 360.7L49.6 358.7L50.5 357.7L52.4 356.3L54.6 355.3L56.7 352.7L58.2 351.1L59.3 350.5L60.1 350.4L63.1 351L67.8 352.5L74.3 355.2L83.2 359.5L94.1 365.3L103.3 371.1L109.5 375.6L116.5 381.9L123.1 389.6L125 392.5L127.4 397L131.5 402.6L133.3 405.5L137.4 413.8L138.7 413.5L141.2 406.7L142.8 403.5L144.6 400.6L146.6 398L148.7 394.3L150.7 390.2L155.2 384.7L157.6 382.2L162.5 378.3L168.1 374.8L176.2 371L183 368.5L192.3 366L206 363.5L219.8 361.9L227 362L231.4 363L233.9 364.1L235.9 366.2L238 368.2L240 369.6L241.8 371.6L243 373.4L245.9 379.9L247.2 379.1L243.2 370.2L241.4 366.9L233 354.4L226.4 346.9L219.4 340.7L213.2 336.2L205.7 331.5L204.3 329.9L203.1 328.8L200.5 327.5L197.8 327.2L192 324.2L188.8 320.8L186.3 319.2L183.7 318.6L180.9 318.7L178.9 318.1L177.5 317.3L173.4 313L172.1 312.2L170.8 311.5L169.6 311.1L168.3 310.9L165.4 311.3L163.1 310.7L161.8 309.9L157.9 306.3L155.3 304.8L152.8 304.7L149.2 305.9L147.3 306L144.9 305.4L140.5 302.7L139.2 302.3L136.6 302.8L133.2 305L128.6 304.9L125.6 302.4L123 301.3L120.5 302.1L116.8 305.2L113 305.5L112.6 305.4L108.2 302.5L106.9 302.3L104.3 303.6L102 306.4L90.7 308.3L80.9 311.8L74 315.4L69.6 318.4Z" fill="#14140c" stroke="#0a0a0a" stroke-width="1.3" stroke-linejoin="round"/><path d="M44.6 366L45 366.8L45.8 367.4L47 361.9L48.3 356.5L49.9 351.6L51.7 347.3L53.7 343.7L55.9 338.3L57.8 332.2L59.1 330L60.4 328.1L62.4 325.5L64.8 322.7L67.2 320.4L69.6 318.4L72 316.7L74 315.4L75.3 314.7L76.6 314L78.5 313L80.9 311.9L83.4 310.9L85.8 310L88.2 309.2L90.1 308.7L91.4 308.3L92.7 308L94.7 307.6L97.1 307.1L99.5 306.7L101.9 306.4L104.3 306.2L106.3 306L107.6 305.9L108.9 305.8L110.8 305.7L113.2 305.6L115.6 305.4L118.1 305.3L120.5 305.2L122.4 305.1L123.7 305.1L125 305L126.9 305L129.4 304.9L131.8 305L134.2 305.2L136.6 305.6L138.6 306L139.9 306.5L141.2 307.3L143.1 310.5L145.3 313.6L147.3 316L149.1 319.3L150.7 323.6L152 328.6L153.2 333.8L154 332.4L154.4 331.2L154.8 331L155.7 329.4L157 326.8L158.5 324.1L160.2 321.8L162.2 320.1L164.4 319L166.8 316.8L168.6 315.7L169.9 315.6L171.1 315.8L173 316.3L175.3 317L177.6 317.8L179.9 318.7L182.2 319.7L184.1 320.5L185.3 321.1L186.6 321.6L188.4 322.5L190.7 323.6L193.1 324.8L195.4 326L197.7 327.2L199.6 328.2L200.8 328.8L202 329.5L203.9 330.6L206.2 331.9L208.5 333.3L210.9 334.7L213.2 336.3L215 337.5L216.3 338.4L217.5 339.3L219.4 340.7L221.7 342.6L224 344.7L226.3 346.9L228.6 349.4L230.5 351.6L231.7 353.2L233 354.4L234.8 357L237.2 360.9L239.4 363.8L241.4 366.9L243.1 370.2L244.6 373.4L245.9 376.3L246.8 378.3L247.2 379.1" fill="none" stroke="#050505" stroke-width="3.2" stroke-linejoin="round" stroke-linecap="round"/><g transform="scale(0.2)" stroke="#000" stroke-opacity="0.4" stroke-width="2.0" stroke-linejoin="round"><path class="nd" d="M772 1656l-2 6l2-2l2-5z"/><path class="c" d="M774 1655l-2 5l5-11l2-2zM779 1647l-2 2l6-15l2 0zM785 1634l-2 0l7-15l2 1zM792 1620l-2-1l9-12l2 2zM801 1609l-2-2l10-8l2 2zM811 1601l-2-2l11-5l2 1zM822 1595l-2-1l12-11l2 1zM834 1584l-2-1l9-5l2 1zM843 1579l-2-1l6-1l2 1zM849 1578l-2-1l6 1l3 1zM856 1579l-3-1l10 3l2 0zM865 1581l-2 0l11 3l2 1zM876 1585l-2-1l12 4l2 1zM888 1589l-2-1l12 5l2 1zM900 1594l-2-1l11 5l2 0zM911 1598l-2 0l9 4l2 1zM920 1603l-2-1l7 3l2 0zM927 1605l-2 0l6 2l2 1zM933 1608l-2-1l9 5l2 1zM942 1613l-2-1l12 5l2 1zM954 1618l-2-1l11 6l2 1zM965 1624l-2-1l12 6l2 1zM977 1630l-2-1l12 6l2 1zM989 1636l-2-1l9 5l2 1zM998 1641l-2-1l6 3l2 1zM1004 1644l-2-1l6 4l2 1zM1010 1648l-2-1l9 5l2 1zM1019 1653l-2-1l12 7l2 0zM1031 1659l-2 0l12 7l2 0zM1043 1666l-2 0l11 7l2 1zM1054 1674l-2-1l12 7l2 1zM1066 1681l-2-1l9 7l2 1zM1075 1688l-2-1l6 4l2 1zM1081 1692l-2-1l6 5l3 1zM1088 1697l-3-1l10 7l2 1z"/><path class="b" d="M1097 1704l-2-1l11 9l2 1zM1108 1713l-2-1l12 10l2 1z"/><path class="X" d="M1120 1723l-2-1l12 12l2 1zM1132 1735l-2-1l11 12l2 1zM1143 1747l-2-1l9 11l2 1zM1152 1758l-2-1l7 8l2 1z"/><path class="b" d="M1159 1766l-2-1l6 6l2 1z"/><path class="X" d="M1165 1772l-2-1l9 13l2 1z"/><path class="W" d="M1174 1785l-2-1l12 19l2 2z"/><path class="b" d="M1186 1805l-2-2l11 14l2 2z"/><path class="X" d="M1197 1819l-2-2l10 16l2 2z"/><path class="W" d="M1207 1835l-2-2l9 17l2 1z"/><path class="id" d="M1216 1851l-2-1l7 16l2 1z"/><path class="hd" d="M1223 1867l-2-1l6 16l2 0zM1229 1882l-2 0l5 11l2-1zM1234 1892l-2 1l2 4l2-2z"/><path class="c" d="M770 1662l-4 7l2-6l4-3zM772 1660l-4 3l5-15l4 1zM777 1649l-4-1l6-17l4 3zM783 1634l-4-3l7-15l4 3zM790 1619l-4-3l9-12l4 3zM799 1607l-4-3l10-9l4 4zM809 1599l-4-4l11-5l4 4zM820 1594l-4-4l12-9l4 2zM832 1583l-4-2l9-5l4 2zM841 1578l-4-2l6 0l4 1zM847 1577l-4-1l6 1l4 1zM853 1578l-4-1l10 3l4 1zM863 1581l-4-1l11 3l4 1zM874 1584l-4-1l12 5l4 0z"/><path class="X" d="M886 1588l-4 0l11 5l5 0zM898 1593l-5 0l12 5l4 0zM909 1598l-4 0l9 4l4 0zM918 1602l-4 0l7 3l4 0zM925 1605l-4 0l6 3l4-1zM931 1607l-4 1l9 4l4 0zM940 1612l-4 0l12 6l4-1zM952 1617l-4 1l11 6l4-1zM963 1623l-4 1l12 6l4-1zM975 1629l-4 1l11 6l5-1zM987 1635l-5 1l10 4l4 0zM996 1640l-4 0l6 4l4-1zM1002 1643l-4 1l6 3l4 0zM1008 1647l-4 0l9 5l4 0zM1017 1652l-4 0l12 6l4 1zM1029 1659l-4-1l12 7l4 1zM1041 1666l-4-1l11 7l4 1zM1052 1673l-4-1l12 7l4 1zM1064 1680l-4-1l9 7l4 1zM1073 1687l-4-1l6 4l4 1zM1079 1691l-4-1l6 5l4 1zM1085 1696l-4-1l10 7l4 1zM1095 1703l-4-1l11 9l4 1zM1106 1712l-4-1l12 10l4 1zM1118 1722l-4-1l11 11l5 2zM1130 1734l-5-2l12 12l4 2zM1141 1746l-4-2l9 11l4 2zM1150 1757l-4-2l7 8l4 2zM1157 1765l-4-2l6 6l4 2zM1163 1771l-4-2l9 12l4 3zM1172 1784l-4-3l12 19l4 3z"/><path class="b" d="M1184 1803l-4-3l11 14l4 3z"/><path class="X" d="M1195 1817l-4-3l10 16l4 3z"/><path class="W" d="M1205 1833l-4-3l8 16l5 4z"/><path class="id" d="M1214 1850l-5-4l8 17l4 3z"/><path class="nd" d="M1221 1866l-4-3l6 17l4 2z"/><path class="hd" d="M1227 1882l-4-2l5 13l4 0z"/><path class="nd" d="M1232 1893l-4 0l2 6l4-2z"/><path class="c" d="M766 1669l-6-26l2-2l6 22zM768 1663l-6-22l5-7l6 14zM773 1648l-6-14l6-12l6 9zM779 1631l-6-9l8-13l5 7zM786 1616l-5-7l8-11l6 6zM795 1604l-6-6l10-8l6 5zM805 1595l-6-5l11-5l6 5zM816 1590l-6-5l12-5l6 1zM828 1581l-6-1l9-4l6 0zM837 1576l-6 0l7 0l5 0zM843 1576l-5 0l6 2l5-1z"/><path class="X" d="M849 1577l-5 1l9 3l6-1zM859 1580l-6 1l12 4l5-2zM870 1583l-5 2l11 5l6-2zM882 1588l-6 2l12 5l5-2zM893 1593l-5 2l11 5l6-2zM905 1598l-6 2l10 4l5-2zM914 1602l-5 2l6 3l6-2zM921 1605l-6 2l6 3l6-2zM927 1608l-6 2l9 4l6-2zM936 1612l-6 2l12 6l6-2zM948 1618l-6 2l12 6l5-2zM959 1624l-5 2l11 6l6-2zM971 1630l-6 2l12 6l5-2zM982 1636l-5 2l9 4l6-2zM992 1640l-6 2l6 4l6-2zM998 1644l-6 2l6 3l6-2zM1004 1647l-6 2l10 5l5-2zM1013 1652l-5 2l11 6l6-2zM1025 1658l-6 2l12 7l6-2zM1037 1665l-6 2l12 7l5-2zM1048 1672l-5 2l11 7l6-2zM1060 1679l-6 2l9 5l6 0zM1069 1686l-6 0l7 4l5 0zM1075 1690l-5 0l6 4l5 1zM1081 1695l-5-1l9 7l6 1zM1091 1702l-6-1l12 9l5 1zM1102 1711l-5-1l11 10l6 1zM1114 1721l-6-1l12 11l5 1zM1125 1732l-5-1l11 12l6 1z"/><path class="W" d="M1137 1744l-6-1l10 11l5 1zM1146 1755l-5-1l6 7l6 2z"/><path class="X" d="M1153 1763l-6-2l6 6l6 2z"/><path class="W" d="M1159 1769l-6-2l9 12l6 2z"/><path class="X" d="M1168 1781l-6-2l12 16l6 5z"/><path class="b" d="M1180 1800l-6-5l11 14l6 5z"/><path class="X" d="M1191 1814l-6-5l10 15l6 6zM1201 1830l-6-6l9 17l5 5z"/><path class="W" d="M1209 1846l-5-5l7 16l6 6zM1217 1863l-6-6l7 14l5 9z"/><path class="b" d="M1223 1880l-5-9l4 10l6 12z"/><path class="c" d="M1228 1893l-6-12l2 3l6 15zM760 1643l-7-25l3-1l6 24zM762 1641l-6-24l4-3l7 20zM767 1634l-7-20l6-7l7 15zM773 1622l-7-15l8-9l7 11zM781 1609l-7-11l9-9l6 9zM789 1598l-6-9l9-6l7 7zM799 1590l-7-7l11-4l7 6zM810 1585l-7-6l12 0l7 1zM822 1580l-7-1l10-2l6-1z"/><path class="b" d="M831 1576l-6 1l6 1l7-2z"/><path class="X" d="M838 1576l-7 2l6 2l7-2zM844 1578l-7 2l9 3l7-2zM853 1581l-7 2l12 4l7-2zM865 1585l-7 2l11 5l7-2zM876 1590l-7 2l12 5l7-2zM888 1595l-7 2l12 5l6-2zM899 1600l-6 2l9 5l7-3zM909 1604l-7 3l6 2l7-2zM915 1607l-7 2l6 3l7-2zM921 1610l-7 2l9 5l7-3zM930 1614l-7 3l12 5l7-2zM942 1620l-7 2l12 6l7-2zM954 1626l-7 2l11 6l7-2zM965 1632l-7 2l12 6l7-2zM977 1638l-7 2l9 5l7-3zM986 1642l-7 3l6 3l7-2zM992 1646l-7 2l7 3l6-2zM998 1649l-6 2l9 5l7-2zM1008 1654l-7 2l11 7l7-3zM1019 1660l-7 3l12 6l7-2zM1031 1667l-7 2l12 7l7-2zM1043 1674l-7 2l11 7l7-2zM1054 1681l-7 2l10 5l6-2zM1063 1686l-6 2l6 4l7-2zM1070 1690l-7 2l6 4l7-2zM1076 1694l-7 2l9 6l7-1zM1085 1701l-7 1l12 8l7 0zM1097 1710l-7 0l11 9l7 1zM1108 1720l-7-1l12 11l7 1zM1120 1731l-7-1l12 12l6 1z"/><path class="W" d="M1131 1743l-6-1l9 10l7 2zM1141 1754l-7-2l6 8l7 1z"/><path class="X" d="M1147 1761l-7-1l6 5l7 2z"/><path class="W" d="M1153 1767l-7-2l9 11l7 3z"/><path class="X" d="M1162 1779l-7-3l12 13l7 6z"/><path class="b" d="M1174 1795l-7-6l11 14l7 6zM1185 1809l-7-6l10 14l7 7z"/><path class="X" d="M1195 1824l-7-7l9 15l7 9z"/><path class="b" d="M1204 1841l-7-9l7 15l7 10zM1211 1857l-7-10l7 12l7 12z"/><path class="c" d="M1218 1871l-7-12l4 8l7 14zM1222 1881l-7-14l2 3l7 14zM753 1618l-8-21l3-1l8 21zM756 1617l-8-21l4-2l8 20zM760 1614l-8-20l6-4l8 17zM766 1607l-8-17l8-5l8 13zM774 1598l-8-13l9-6l8 10zM783 1589l-8-10l9-5l8 9zM792 1583l-8-9l11 0l8 5zM803 1579l-8-5l12 1l8 4zM815 1579l-8-4l10 2l8 0zM825 1577l-8 0l6 2l8-1z"/><path class="X" d="M831 1578l-8 1l6 2l8-1zM837 1580l-8 1l9 3l8-1zM846 1583l-8 1l12 4l8-1zM858 1587l-8 1l11 5l8-1zM869 1592l-8 1l12 5l8-1zM881 1597l-8 1l12 5l8-1zM893 1602l-8 1l9 5l8-1zM902 1607l-8 1l6 3l8-2zM908 1609l-8 2l6 3l8-2zM914 1612l-8 2l9 4l8-1zM923 1617l-8 1l12 6l8-2zM935 1622l-8 2l12 5l8-1zM947 1628l-8 1l11 6l8-1zM958 1634l-8 1l12 6l8-1zM970 1640l-8 1l9 5l8-1zM979 1645l-8 1l6 3l8-1zM985 1648l-8 1l7 3l8-1zM992 1651l-8 1l9 5l8-1zM1001 1656l-8 1l11 7l8-1zM1012 1663l-8 1l12 6l8-1zM1024 1669l-8 1l12 7l8-1zM1036 1676l-8 1l11 6l8 0zM1047 1683l-8 0l10 6l8-1zM1057 1688l-8 1l6 4l8-1zM1063 1692l-8 1l6 4l8-1zM1069 1696l-8 1l9 6l8-1zM1078 1702l-8 1l12 8l8-1zM1090 1710l-8 1l11 8l8 0zM1101 1719l-8 0l12 9l8 2zM1113 1730l-8-2l12 11l8 3zM1125 1742l-8-3l9 11l8 2zM1134 1752l-8-2l6 7l8 3zM1140 1760l-8-3l6 5l8 3zM1146 1765l-8-3l9 9l8 5z"/><path class="b" d="M1155 1776l-8-5l12 12l8 6zM1167 1789l-8-6l11 13l8 7zM1178 1803l-8-7l10 14l8 7zM1188 1817l-8-7l9 14l8 8zM1197 1832l-8-8l7 13l8 10zM1204 1847l-8-10l7 10l8 12z"/><path class="c" d="M1211 1859l-8-12l4 7l8 13zM1215 1867l-8-13l2 4l8 12zM745 1597l-9-17l3 0l9 16zM748 1596l-9-16l4-2l9 16zM752 1594l-9-16l6-2l9 14zM758 1590l-9-14l8-3l9 12zM766 1585l-9-12l8-4l10 10zM775 1579l-10-10l10 0l9 5zM784 1574l-9-5l11 1l9 4zM795 1574l-9-4l12 2l9 3zM807 1575l-9-3l9 2l10 3zM817 1577l-10-3l7 2l9 3zM823 1579l-9-3l6 2l9 3zM829 1581l-9-3l9 4l9 2zM838 1584l-9-2l12 4l9 2zM850 1588l-9-2l11 5l9 2zM861 1593l-9-2l12 5l9 2zM873 1598l-9-2l12 5l9 2zM885 1603l-9-2l9 5l9 2zM894 1608l-9-2l6 3l9 2zM900 1611l-9-2l6 2l9 3zM906 1614l-9-3l9 5l9 2zM915 1618l-9-2l12 6l9 2zM927 1624l-9-2l12 5l9 2zM939 1629l-9-2l11 6l9 2zM950 1635l-9-2l12 6l9 2zM962 1641l-9-2l9 5l9 2zM971 1646l-9-2l6 3l9 2zM977 1649l-9-2l7 3l9 2zM984 1652l-9-2l9 5l9 2zM993 1657l-9-2l11 7l9 2zM1004 1664l-9-2l12 6l9 2zM1016 1670l-9-2l12 7l9 2zM1028 1677l-9-2l11 6l9 2zM1039 1683l-9-2l9 6l10 2z"/><path class="X" d="M1049 1689l-10-2l7 4l9 2zM1055 1693l-9-2l6 4l9 2zM1061 1697l-9-2l9 6l9 2zM1070 1703l-9-2l12 8l9 2zM1082 1711l-9-2l11 8l9 2zM1093 1719l-9-2l12 9l9 2zM1105 1728l-9-2l12 10l9 3zM1117 1739l-9-3l9 8l9 6zM1126 1750l-9-6l6 7l9 6z"/><path class="c" d="M1132 1757l-9-6l6 6l9 5zM1138 1762l-9-5l9 7l9 7z"/><path class="b" d="M1147 1771l-9-7l12 12l9 7zM1159 1783l-9-7l11 13l9 7z"/><path class="X" d="M1170 1796l-9-7l10 13l9 8zM1180 1810l-9-8l9 14l9 8zM1189 1824l-9-8l7 12l9 9z"/><path class="b" d="M1196 1837l-9-9l7 10l9 9zM1203 1847l-9-9l4 7l9 9zM1207 1854l-9-9l2 3l9 10z"/><path class="c" d="M736 1580l-10-12l3-1l10 13zM739 1580l-10-13l4-1l10 12zM743 1578l-10-12l6-1l10 11zM749 1576l-10-11l8 0l10 8zM757 1573l-10-8l9 0l9 4zM765 1569l-9-4l9 0l10 4zM775 1569l-10-4l11 1l10 4zM786 1570l-10-4l12 3l10 3zM798 1572l-10-3l10-2l9 7zM807 1574l-9-7l6 1l10 8zM814 1576l-10-8l6 3l10 7zM820 1578l-10-7l9 3l10 8zM829 1582l-10-8l12 5l10 7zM841 1586l-10-7l11 5l10 7zM852 1591l-10-7l12 5l10 7zM864 1596l-10-7l12 5l10 7zM876 1601l-10-7l9 4l10 8zM885 1606l-10-8l6 3l10 8zM891 1609l-10-8l6 3l10 7zM897 1611l-10-7l9 5l10 7zM906 1616l-10-7l12 5l10 8zM918 1622l-10-8l12 6l10 7zM930 1627l-10-7l11 6l10 7zM941 1633l-10-7l12 6l10 7zM953 1639l-10-7l9 5l10 7zM962 1644l-10-7l6 3l10 7zM968 1647l-10-7l7 3l10 7zM975 1650l-10-7l9 5l10 7zM984 1655l-10-7l11 6l10 8zM995 1662l-10-8l12 7l10 7zM1007 1668l-10-7l12 6l10 8zM1019 1675l-10-8l11 7l10 7zM1030 1681l-10-7l10 6l9 7zM1039 1687l-9-7l6 4l10 7zM1046 1691l-10-7l6 3l10 8zM1052 1695l-10-8l9 7l10 7zM1061 1701l-10-7l12 8l10 7zM1073 1709l-10-7l11 8l10 7zM1084 1717l-10-7l12 9l10 7zM1096 1726l-10-7l12 10l10 7zM1108 1736l-10-7l9 8l10 7zM1117 1744l-10-7l6 6l10 8zM1123 1751l-10-8l6 5l10 9zM1129 1757l-10-9l9 11l10 5z"/><path class="b" d="M1138 1764l-10-5l12 11l10 6z"/><path class="X" d="M1150 1776l-10-6l11 14l10 5zM1161 1789l-10-5l10 13l10 5z"/><path class="W" d="M1171 1802l-10-5l9 13l10 6zM1180 1816l-10-6l7 11l10 7z"/><path class="X" d="M1187 1828l-10-7l7 10l10 7zM1194 1838l-10-7l4 6l10 8zM1198 1845l-10-8l2 4l10 7z"/><path class="c" d="M726 1568l-11-16l3 0l11 15zM729 1567l-11-15l4 2l11 12zM733 1566l-11-12l6 4l11 7zM739 1565l-11-7l8 3l11 4zM747 1565l-11-4l9 1l11 3zM756 1565l-11-3l10 0l10 3zM765 1565l-10-3l10 2l11 2zM776 1566l-11-2l12-8l11 13zM788 1569l-11-13l10-9l11 20zM798 1567l-11-20l6 0l11 21zM804 1568l-11-21l6 3l11 21zM810 1571l-11-21l9 9l11 15zM819 1574l-11-15l12 6l11 14zM831 1579l-11-14l11 5l11 14zM842 1584l-11-14l12 5l11 14zM854 1589l-11-14l12 4l11 15zM866 1594l-11-15l9-1l11 20zM875 1598l-11-20l6 2l11 21zM881 1601l-11-21l6 4l11 20zM887 1604l-11-20l10 10l10 15zM896 1609l-10-15l11 7l11 13zM908 1614l-11-13l12 5l11 14zM920 1620l-11-14l11 6l11 14zM931 1626l-11-14l12 5l11 15zM943 1632l-11-15l9-1l11 21zM952 1637l-11-21l6 2l11 22zM958 1640l-11-22l7 5l11 20zM965 1643l-11-20l9 10l11 15zM974 1648l-11-15l12 8l10 13zM985 1654l-10-13l11 6l11 14zM997 1661l-11-14l12 7l11 13zM1009 1667l-11-13l11 5l11 15zM1020 1674l-11-15l10 1l11 20zM1030 1680l-11-20l6 3l11 21zM1036 1684l-11-21l6 5l11 19zM1042 1687l-11-19l9 11l11 15zM1051 1694l-11-15l12 9l11 14zM1063 1702l-11-14l11 9l11 13zM1074 1710l-11-13l12 9l11 13zM1086 1719l-11-13l12 9l11 14zM1098 1729l-11-14l9 5l11 17zM1107 1737l-11-17l6 5l11 18zM1113 1743l-11-18l6 7l11 16zM1119 1748l-11-16l10 16l10 11z"/><path class="X" d="M1128 1759l-10-11l12 19l10 3z"/><path class="W" d="M1140 1770l-10-3l10 14l11 3z"/><path class="G" d="M1151 1784l-11-3l10 13l11 3z"/><path class="W" d="M1161 1797l-11-3l9 12l11 4z"/><path class="X" d="M1170 1810l-11-4l8 9l10 6zM1177 1821l-10-6l6 6l11 10zM1184 1831l-11-10l4 6l11 10zM1188 1837l-11-10l2 4l11 10z"/><path class="c" d="M715 1552l-9-15l2 0l10 15zM718 1552l-10-15l5 1l9 16zM722 1554l-9-16l6 6l9 14zM728 1558l-9-14l7 8l10 9zM736 1561l-10-9l9 7l10 3zM745 1562l-10-3l10 3l10 0zM755 1562l-10 0l11-3l9 5zM765 1564l-9-5l12-21l9 18zM777 1556l-9-18l9-10l10 19zM787 1547l-10-19l6 0l10 19zM793 1547l-10-19l6 4l10 18zM799 1550l-10-18l10 8l9 19zM808 1559l-9-19l11 11l10 14zM820 1565l-10-14l12 6l9 13zM831 1570l-9-13l11 4l10 14zM843 1575l-10-14l12-1l10 19zM855 1579l-10-19l9 0l10 18zM864 1578l-10-18l6 1l10 19zM870 1580l-10-19l7 4l9 19zM876 1584l-9-19l9 10l10 19zM886 1594l-10-19l12 12l9 14zM897 1601l-9-14l11 7l10 12zM909 1606l-10-12l12 4l9 14zM920 1612l-9-14l11 0l10 19zM932 1617l-10-19l10 0l9 18zM941 1616l-9-18l6 2l9 18zM947 1618l-9-18l6 4l10 19zM954 1623l-10-19l9 10l10 19zM963 1633l-10-19l12 12l10 15zM975 1641l-10-15l11 8l10 13zM986 1647l-10-13l12 6l10 14zM998 1654l-10-14l12 0l9 19zM1009 1659l-9-19l9 1l10 19zM1019 1660l-10-19l6 3l10 19zM1025 1663l-10-19l6 6l10 18zM1031 1668l-10-18l10 11l9 18zM1040 1679l-9-18l11 14l10 13zM1052 1688l-10-13l12 10l9 12zM1063 1697l-9-12l11 8l10 13zM1075 1706l-10-13l12 5l10 17zM1087 1715l-10-17l9 6l10 16zM1096 1720l-10-16l6 5l10 16zM1102 1725l-10-16l7 7l9 16zM1108 1732l-9-16l9 18l10 14z"/><path class="G" d="M1118 1748l-10-14l12 30l10 3zM1130 1767l-10-3l11 16l9 1zM1140 1781l-9-1l10 12l9 2z"/><path class="X" d="M1150 1794l-9-2l8 7l10 7z"/><path class="c" d="M1159 1806l-10-7l8 5l10 11zM1167 1815l-10-11l6 7l10 10zM1173 1821l-10-10l5 6l9 10z"/><path class="b" d="M1177 1827l-9-10l2 3l9 11z"/><path class="c" d="M706 1537l-7-4l3 0l6 4zM708 1537l-6-4l4 2l7 3zM713 1538l-7-3l6 5l7 4z"/><path class="X" d="M719 1544l-7-4l8 9l6 3zM726 1552l-6-3l9 8l6 2z"/><path class="c" d="M735 1559l-6-2l9 5l7 0zM745 1562l-7 0l11-6l7 3zM756 1559l-7-3l12-22l7 4zM768 1538l-7-4l9-9l7 3zM777 1528l-7-3l7-1l6 4zM783 1528l-6-4l6 4l6 4zM789 1532l-6-4l9 8l7 4zM799 1540l-7-4l12 10l6 5zM810 1551l-6-5l11 8l7 3zM822 1557l-7-3l12 3l6 4zM833 1561l-6-4l12-1l6 4zM845 1560l-6-4l9 0l6 4zM854 1560l-6-4l6 2l6 3zM860 1561l-6-3l6 4l7 3z"/><path class="d" d="M867 1565l-7-3l9 9l7 4zM876 1575l-7-4l12 11l7 5z"/><path class="c" d="M888 1587l-7-5l12 8l6 4zM899 1594l-6-4l11 4l7 4zM911 1598l-7-4l12 0l6 4zM922 1598l-6-4l9 0l7 4zM932 1598l-7-4l6 2l7 4zM938 1600l-7-4l7 5l6 3z"/><path class="d" d="M944 1604l-6-3l9 9l6 4zM953 1614l-6-4l11 12l7 4z"/><path class="c" d="M965 1626l-7-4l12 9l6 3zM976 1634l-6-3l12 4l6 5zM988 1640l-6-5l11 1l7 4zM1000 1640l-7-4l9 2l7 3zM1009 1641l-7-3l7 3l6 3zM1015 1644l-6-3l6 5l6 4z"/><path class="ea" d="M1021 1650l-6-4l9 11l7 4z"/><path class="d" d="M1031 1661l-7-4l12 13l6 5z"/><path class="c" d="M1042 1675l-6-5l11 11l7 4zM1054 1685l-7-4l12 8l6 4zM1065 1693l-6-4l12 6l6 3zM1077 1698l-6-3l9 5l6 4z"/><path class="d" d="M1086 1704l-6-4l6 6l6 3z"/><path class="X" d="M1092 1709l-6-3l6 7l7 3z"/><path class="aa" d="M1099 1716l-7-3l9 18l7 3z"/><path class="n" d="M1108 1734l-7-3l12 32l7 1z"/><path class="r" d="M1120 1764l-7-1l11 17l7 0z"/><path class="W" d="M1131 1780l-7 0l10 10l7 2z"/><path class="X" d="M1141 1792l-7-2l9 7l6 2z"/><path class="b" d="M1149 1799l-6-2l7 5l7 2z"/><path class="X" d="M1157 1804l-7-2l7 6l6 3z"/><path class="W" d="M1163 1811l-6-3l4 6l7 3z"/><path class="G" d="M1168 1817l-7-3l2 3l7 3z"/><path class="c" d="M699 1533l-6-3l2 0l7 3zM702 1533l-7-3l5 2l6 3z"/><path class="X" d="M706 1535l-6-3l6 6l6 2zM712 1540l-6-2l7 9l7 2zM720 1549l-7-2l9 9l7 1z"/><path class="c" d="M729 1557l-7-1l10 5l6 1zM738 1562l-6-1l11-5l6 0zM749 1556l-6 0l12-22l6 0zM761 1534l-6 0l9-10l6 1zM770 1525l-6-1l6-1l7 1z"/><path class="d" d="M777 1524l-7-1l6 4l7 1z"/><path class="x" d="M783 1528l-7-1l10 9l6 0z"/><path class="e" d="M792 1536l-6 0l11 11l7-1z"/><path class="x" d="M804 1546l-7 1l12 8l6-1z"/><path class="d" d="M815 1554l-6 1l11 3l7-1z"/><path class="c" d="M827 1557l-7 1l12-2l7 0zM839 1556l-7 0l9-1l7 1zM848 1556l-7-1l7 2l6 1z"/><path class="ea" d="M854 1558l-6-1l6 4l6 1z"/><path class="x" d="M860 1562l-6-1l9 10l6 0z"/><path class="e" d="M869 1571l-6 0l12 12l6-1z"/><path class="x" d="M881 1582l-6 1l11 9l7-2z"/><path class="d" d="M893 1590l-7 2l12 3l6-1z"/><path class="c" d="M904 1594l-6 1l11-1l7 0zM916 1594l-7 0l10-1l6 1zM925 1594l-6-1l6 2l6 1z"/><path class="ea" d="M931 1596l-6-1l6 5l7 1z"/><path class="e" d="M938 1601l-7-1l9 10l7 0zM947 1610l-7 0l12 13l6-1z"/><path class="x" d="M958 1622l-6 1l12 9l6-1z"/><path class="ea" d="M970 1631l-6 1l11 4l7-1z"/><path class="c" d="M982 1635l-7 1l12 0l6 0zM993 1636l-6 0l9 1l6 1zM1002 1638l-6-1l6 2l7 2z"/><path class="x" d="M1009 1641l-7-2l6 6l7 1z"/><path class="e" d="M1015 1646l-7-1l10 11l6 1z"/><path class="f" d="M1024 1657l-6-1l11 15l7-1z"/><path class="e" d="M1036 1670l-7 1l12 11l6-1z"/><path class="x" d="M1047 1681l-6 1l11 8l7-1z"/><path class="d" d="M1059 1689l-7 1l12 4l7 1zM1071 1695l-7-1l9 5l7 1z"/><path class="e" d="M1080 1700l-7-1l7 7l6 0z"/><path class="Rb" d="M1086 1706l-6 0l6 7l6 0z"/><path class="m" d="M1092 1713l-6 0l9 19l6-1z"/><path class="N" d="M1101 1731l-6 1l12 31l6 0z"/><path class="V" d="M1113 1763l-6 0l11 16l6 1z"/><path class="X" d="M1124 1780l-6-1l10 10l6 1zM1134 1790l-6-1l8 6l7 2z"/><path class="b" d="M1143 1797l-7-2l8 5l6 2z"/><path class="X" d="M1150 1802l-6-2l6 5l7 3z"/><path class="W" d="M1157 1808l-7-3l5 6l6 3z"/><path class="G" d="M1161 1814l-6-3l2 4l6 2z"/><path class="c" d="M693 1530l-10-2l2 0l10 2zM695 1530l-10-2l5 2l10 2z"/><path class="X" d="M700 1532l-10-2l6 6l10 2z"/><path class="e" d="M706 1538l-10-2l8 10l9 1z"/><path class="X" d="M713 1547l-9-1l8 9l10 1z"/><path class="c" d="M722 1556l-10-1l10 5l10 1zM732 1561l-10-1l11-4l10 0zM743 1556l-10 0l12-18l10-4zM755 1534l-10 4l9-11l10-3zM764 1524l-10 3l7-1l9-3z"/><path class="x" d="M770 1523l-9 3l6 4l9-3z"/><path class="h" d="M776 1527l-9 3l9 11l10-5z"/><path class="j" d="M786 1536l-10 5l12 15l9-9z"/><path class="i" d="M797 1547l-9 9l11 9l10-10z"/><path class="f" d="M809 1555l-10 10l12 2l9-9z"/><path class="ea k1" d="M820 1558l-9 9l11-5l10-6z"/><path class="c k1" d="M832 1556l-10 6l10-4l9-3z"/><path class="ea k1" d="M841 1555l-9 3l6 1l10-2z"/><path class="e" d="M848 1557l-10 2l6 5l10-3z"/><path class="h" d="M854 1561l-10 3l9 13l10-6z"/><path class="A" d="M863 1571l-10 6l12 16l10-10z"/><path class="i" d="M875 1583l-10 10l12 9l9-10z"/><path class="f" d="M886 1592l-9 10l11 2l10-9z"/><path class="ea k1" d="M898 1595l-10 9l12-4l9-6z"/><path class="c k1" d="M909 1594l-9 6l9-4l10-3z"/><path class="ea k1" d="M919 1593l-10 3l6 1l10-2z"/><path class="f" d="M925 1595l-10 2l6 6l10-3z"/><path class="i" d="M931 1600l-10 3l10 13l9-6z"/><path class="A" d="M940 1610l-9 6l11 16l10-9z"/><path class="j" d="M952 1623l-10 9l12 10l10-10z"/><path class="Y" d="M964 1632l-10 10l11 3l10-9z"/><path class="x" d="M975 1636l-10 9l12-3l10-6z"/><path class="c k1" d="M987 1636l-10 6l9-3l10-2z"/><path class="ea" d="M996 1637l-10 2l7 2l9-2z"/><path class="f" d="M1002 1639l-9 2l6 6l9-2z"/><path class="i" d="M1008 1645l-9 2l9 15l10-6z"/><path class="k" d="M1018 1656l-10 6l12 18l9-9zM1029 1671l-9 9l11 12l10-10z"/><path class="g" d="M1041 1682l-10 10l12 6l9-8z"/><path class="e" d="M1052 1690l-9 8l11 2l10-6z"/><path class="x" d="M1064 1694l-10 6l10 3l9-4z"/><path class="Z" d="M1073 1699l-9 4l6 6l10-3z"/><path class="g" d="M1080 1706l-10 3l6 8l10-4z"/><path class="D" d="M1086 1713l-10 4l9 19l10-4z"/><path class="N" d="M1095 1732l-10 4l12 28l10-1z"/><path class="V" d="M1107 1763l-10 1l11 15l10 0z"/><path class="X" d="M1118 1779l-10 0l10 8l10 2zM1128 1789l-10-2l9 6l9 2z"/><path class="b" d="M1136 1795l-9-2l7 4l10 3z"/><path class="X" d="M1144 1800l-10-3l6 6l10 2z"/><path class="W" d="M1150 1805l-10-2l5 5l10 3z"/><path class="r" d="M1155 1811l-10-3l2 4l10 3z"/><path class="c" d="M683 1528l-12-2l2 0l12 2zM685 1528l-12-2l5 2l12 2z"/><path class="x" d="M690 1530l-12-2l6 7l12 1z"/><path class="Rb" d="M696 1536l-12-1l7 10l13 1z"/><path class="e" d="M704 1546l-13-1l9 9l12 1z"/><path class="X" d="M712 1555l-12-1l10 5l12 1z"/><path class="c" d="M722 1560l-12-1l11-3l12 0zM733 1556l-12 0l12-13l12-5zM745 1538l-12 5l9-12l12-4zM754 1527l-12 4l6-1l13-4z"/><path class="e" d="M761 1526l-13 4l7 4l12-4z"/><path class="z" d="M767 1530l-12 4l9 15l12-8z"/><path class="L" d="M776 1541l-12 8l11 19l13-12z"/><path class="j" d="M788 1556l-13 12l12 11l12-14z"/><path class="e" d="M799 1565l-12 14l12 0l12-12z"/><path class="c k1" d="M811 1567l-12 12l11-9l12-8zM822 1562l-12 8l10-8l12-4z"/><path class="d k1" d="M832 1558l-12 4l6 0l12-3z"/><path class="f" d="M838 1559l-12 3l6 6l12-4z"/><path class="A" d="M844 1564l-12 4l9 17l12-8z"/><path class="B" d="M853 1577l-12 8l12 20l12-12z"/><path class="k" d="M865 1593l-12 12l11 11l13-14z"/><path class="e" d="M877 1602l-13 14l12 0l12-12z"/><path class="c k1" d="M888 1604l-12 12l12-8l12-8zM900 1600l-12 8l9-7l12-5z"/><path class="d k1" d="M909 1596l-12 5l6 0l12-4z"/><path class="f" d="M915 1597l-12 4l6 6l12-4z"/><path class="A" d="M921 1603l-12 4l10 17l12-8z"/><path class="B" d="M931 1616l-12 8l11 20l12-12z"/><path class="k" d="M942 1632l-12 12l12 12l12-14z"/><path class="e" d="M954 1642l-12 14l11 1l12-12z"/><path class="d k1" d="M965 1645l-12 12l12-7l12-8z"/><path class="c k1" d="M977 1642l-12 8l9-6l12-5z"/><path class="ea k1" d="M986 1639l-12 5l6 1l13-4z"/><path class="va" d="M993 1641l-13 4l7 7l12-5z"/><path class="A" d="M999 1647l-12 5l9 18l12-8z"/><path class="B" d="M1008 1662l-12 8l11 22l13-12z"/><path class="R" d="M1020 1680l-13 12l12 13l12-13z"/><path class="Z" d="M1031 1692l-12 13l12 5l12-12z"/><path class="x" d="M1043 1698l-12 12l11-2l12-8zM1054 1700l-12 8l10 1l12-6z"/><path class="Rb" d="M1064 1703l-12 6l6 5l12-5z"/><path class="Zb" d="M1070 1709l-12 5l6 8l12-5z"/><path class="D" d="M1076 1717l-12 5l9 19l12-5z"/><path class="O" d="M1085 1736l-12 5l12 24l12-1z"/><path class="V" d="M1097 1764l-12 1l11 15l12-1z"/><path class="X" d="M1108 1779l-12 1l10 7l12 0zM1118 1787l-12 0l9 5l12 1zM1127 1793l-12-1l7 4l12 1zM1134 1797l-12-1l6 5l12 2z"/><path class="G" d="M1140 1803l-12-2l5 5l12 2z"/><path class="V" d="M1145 1808l-12-2l2 4l12 2z"/><path class="c" d="M671 1526l-12-1l2 0l12 1z"/><path class="d" d="M673 1526l-12-1l5 2l12 1z"/><path class="e" d="M678 1528l-12-1l6 7l12 1z"/><path class="Rb" d="M684 1535l-12-1l7 10l12 1z"/><path class="e" d="M691 1545l-12-1l9 10l12 0z"/><path class="X" d="M700 1554l-12 0l10 5l12 0z"/><path class="c" d="M710 1559l-12 0l11-3l12 0zM721 1556l-12 0l12-14l12 1zM733 1543l-12-1l9-10l12-1zM742 1531l-12 1l6-2l12 0z"/><path class="x" d="M748 1530l-12 0l6 6l13-2z"/><path class="i" d="M755 1534l-13 2l10 16l12-3z"/><path class="k" d="M764 1549l-12 3l11 21l12-5z"/><path class="Z" d="M775 1568l-12 5l12 11l12-5z"/><path class="d k1" d="M787 1579l-12 5l12 0l12-5z"/><path class="c k1" d="M799 1579l-12 5l11-12l12-2zM810 1570l-12 2l9-9l13-1zM820 1562l-13 1l7 0l12-1z"/><path class="f" d="M826 1562l-12 1l6 6l12-1z"/><path class="z" d="M832 1568l-12 1l9 18l12-2z"/><path class="A" d="M841 1585l-12 2l12 22l12-4z"/><path class="g" d="M853 1605l-12 4l11 13l12-6z"/><path class="d k1" d="M864 1616l-12 6l12-1l12-5z"/><path class="c k1" d="M876 1616l-12 5l12-11l12-2zM888 1608l-12 2l9-9l12 0zM897 1601l-12 0l6 0l12 0z"/><path class="f" d="M903 1601l-12 0l6 7l12-1z"/><path class="A" d="M909 1607l-12 1l9 18l13-2zM919 1624l-13 2l12 23l12-5z"/><path class="g" d="M930 1644l-12 5l12 13l12-6z"/><path class="d k1" d="M942 1656l-12 6l11 0l12-5z"/><path class="c k1" d="M953 1657l-12 5l12-9l12-3zM965 1650l-12 3l9-8l12-1zM974 1644l-12 1l6 1l12-1z"/><path class="f" d="M980 1645l-12 1l6 7l13-1z"/><path class="A" d="M987 1652l-13 1l10 20l12-3z"/><path class="C" d="M996 1670l-12 3l11 24l12-5z"/><path class="Zb" d="M1007 1692l-12 5l12 14l12-6z"/><path class="x" d="M1019 1705l-12 6l12 5l12-6z"/><path class="c k1" d="M1031 1710l-12 6l11-4l12-4zM1042 1708l-12 4l9-1l13-2z"/><path class="e" d="M1052 1709l-13 2l7 5l12-2z"/><path class="Z" d="M1058 1714l-12 2l6 8l12-2z"/><path class="m" d="M1064 1722l-12 2l9 18l12-1z"/><path class="o" d="M1073 1741l-12 1l12 24l12-1z"/><path class="V" d="M1085 1765l-12 1l11 15l12-1z"/><path class="X" d="M1096 1780l-12 1l10 7l12-1zM1106 1787l-12 1l9 3l12 1zM1115 1792l-12-1l7 4l12 1zM1122 1796l-12-1l6 5l12 1z"/><path class="G" d="M1128 1801l-12-1l5 5l12 1z"/><path class="V" d="M1133 1806l-12-1l2 4l12 1z"/><path class="c" d="M659 1525l-12 0l2 0l12 0z"/><path class="d" d="M661 1525l-12 0l5 2l12 0z"/><path class="e" d="M666 1527l-12 0l6 7l12 0z"/><path class="Z" d="M672 1534l-12 0l7 11l12-1z"/><path class="Rb" d="M679 1544l-12 1l9 10l12-1z"/><path class="X" d="M688 1554l-12 1l10 5l12-1z"/><path class="c" d="M698 1559l-12 1l11-4l12 0zM709 1556l-12 0l12-14l12 0zM721 1542l-12 0l9-13l12 3zM730 1532l-12-3l6-2l12 3z"/><path class="ea" d="M736 1530l-12-3l6 5l12 4z"/><path class="g" d="M742 1536l-12-4l10 16l12 4zM752 1552l-12-4l11 20l12 5z"/><path class="d k1" d="M763 1573l-12-5l12 11l12 5z"/><path class="c k1" d="M775 1584l-12-5l11-1l13 6zM787 1584l-13-6l12-10l12 4zM798 1572l-12-4l9-9l12 4zM807 1563l-12-4l7 0l12 4z"/><path class="ea" d="M814 1563l-12-4l6 6l12 4z"/><path class="h" d="M820 1569l-12-4l9 17l12 5z"/><path class="g" d="M829 1587l-12-5l12 22l12 5z"/><path class="d k1" d="M841 1609l-12-5l11 11l12 7z"/><path class="c k1" d="M852 1622l-12-7l12 0l12 6zM864 1621l-12-6l11-9l13 4zM876 1610l-13-4l10-8l12 3zM885 1601l-12-3l6 0l12 3z"/><path class="x" d="M891 1601l-12-3l6 6l12 4z"/><path class="h" d="M897 1608l-12-4l9 18l12 4z"/><path class="g" d="M906 1626l-12-4l12 22l12 5z"/><path class="x" d="M918 1649l-12-5l12 12l12 6z"/><path class="c k1" d="M930 1662l-12-6l11 1l12 5zM941 1662l-12-5l12-8l12 4zM953 1653l-12-4l9-7l12 3zM962 1645l-12-3l6 1l12 3z"/><path class="x" d="M968 1646l-12-3l6 8l12 2z"/><path class="i" d="M974 1653l-12-2l10 18l12 4z"/><path class="K" d="M984 1673l-12-4l11 24l12 4z"/><path class="x" d="M995 1697l-12-4l12 14l12 4z"/><path class="c k1" d="M1007 1711l-12-4l11 5l13 4zM1019 1716l-13-4l12-2l12 2zM1030 1712l-12-2l9 0l12 1z"/><path class="x" d="M1039 1711l-12-1l7 5l12 1z"/><path class="Rb" d="M1046 1716l-12-1l6 8l12 1z"/><path class="m" d="M1052 1724l-12-1l9 20l12-1z"/><path class="o" d="M1061 1742l-12 1l12 24l12-1z"/><path class="V" d="M1073 1766l-12 1l11 15l12-1z"/><path class="X" d="M1084 1781l-12 1l10 8l12-2zM1094 1788l-12 2l8 2l13-1zM1103 1791l-13 1l8 3l12 0zM1110 1795l-12 0l6 5l12 0z"/><path class="G" d="M1116 1800l-12 0l5 5l12 0z"/><path class="V" d="M1121 1805l-12 0l2 4l12 0z"/><path class="c" d="M647 1525l-12 0l2 0l12 0z"/><path class="d" d="M649 1525l-12 0l4 2l13 0z"/><path class="e" d="M654 1527l-13 0l7 7l12 0z"/><path class="g" d="M660 1534l-12 0l7 11l12 0z"/><path class="Rb" d="M667 1545l-12 0l9 11l12-1z"/><path class="X" d="M676 1555l-12 1l10 5l12-1z"/><path class="c" d="M686 1560l-12 1l11-4l12-1zM697 1556l-12 1l12-22l12 7zM709 1542l-12-7l9-13l12 7zM718 1529l-12-7l6-2l12 7zM724 1527l-12-7l6 4l12 8z"/><path class="x" d="M730 1532l-12-8l10 13l12 11z"/><path class="d k1" d="M740 1548l-12-11l11 16l12 15z"/><path class="c k1" d="M751 1568l-12-15l12 9l12 17zM763 1579l-12-17l11 0l12 16zM774 1578l-12-16l12-7l12 13zM786 1568l-12-13l9-5l12 9zM795 1559l-12-9l6 0l13 9zM802 1559l-13-9l7 5l12 10z"/><path class="x" d="M808 1565l-12-10l9 15l12 12z"/><path class="ea k1" d="M817 1582l-12-12l11 17l13 17z"/><path class="c k1" d="M829 1604l-13-17l12 11l12 17zM840 1615l-12-17l12 1l12 16zM852 1615l-12-16l11-6l12 13zM863 1606l-12-13l10-5l12 10zM873 1598l-12-10l6 1l12 9zM879 1598l-12-9l6 6l12 9z"/><path class="x" d="M885 1604l-12-9l9 15l12 12z"/><path class="ea" d="M894 1622l-12-12l12 18l12 16z"/><path class="c k1" d="M906 1644l-12-16l11 12l13 16zM918 1656l-13-16l12 2l12 15zM929 1657l-12-15l12-4l12 11zM941 1649l-12-11l9-3l12 7zM950 1642l-12-7l6 2l12 6z"/><path class="ea k1" d="M956 1643l-12-6l6 6l12 8z"/><path class="f" d="M962 1651l-12-8l10 17l12 9z"/><path class="x" d="M972 1669l-12-9l11 20l12 13z"/><path class="c k1" d="M983 1693l-12-13l12 14l12 13zM995 1707l-12-13l11 6l12 12zM1006 1712l-12-12l12 2l12 8zM1018 1710l-12-8l9 3l12 5z"/><path class="d" d="M1027 1710l-12-5l6 6l13 4z"/><path class="x" d="M1034 1715l-13-4l7 7l12 5z"/><path class="Zb" d="M1040 1723l-12-5l9 21l12 4z"/><path class="o" d="M1049 1743l-12-4l12 30l12-2z"/><path class="V" d="M1061 1767l-12 2l11 15l12-2z"/><path class="X" d="M1072 1782l-12 2l10 7l12-1zM1082 1790l-12 1l8 3l12-2zM1090 1792l-12 2l8 2l12-1zM1098 1795l-12 1l6 4l12 0z"/><path class="G" d="M1104 1800l-12 0l5 6l12-1z"/><path class="V" d="M1109 1805l-12 1l2 3l12 0z"/><path class="c" d="M635 1525l-10 0l2 0l10 0z"/><path class="ea" d="M637 1525l-10 0l5 2l9 0z"/><path class="e" d="M641 1527l-9 0l6 8l10-1z"/><path class="g" d="M648 1534l-10 1l7 11l10-1z"/><path class="Rb" d="M655 1545l-10 1l9 11l10-1z"/><path class="X" d="M664 1556l-10 1l10 5l10-1z"/><path class="c" d="M674 1561l-10 1l11-6l10 1zM685 1557l-10-1l12-28l10 7zM697 1535l-10-7l9-13l10 7zM706 1522l-10-7l6-1l10 6zM712 1520l-10-6l7 3l9 7z"/><path class="c k1" d="M718 1524l-9-7l9 9l10 11zM728 1537l-10-11l11 12l10 15zM739 1553l-10-15l12 8l10 16zM751 1562l-10-16l12 1l9 15zM762 1562l-9-15l11-3l10 11zM774 1555l-10-11l10-3l9 9zM783 1550l-9-9l6 1l9 8zM789 1550l-9-8l6 5l10 8zM796 1555l-10-8l9 11l10 12zM805 1570l-10-12l12 14l9 15zM816 1587l-9-15l11 9l10 17zM828 1598l-10-17l12 3l10 15zM840 1599l-10-15l12-2l9 11zM851 1593l-9-11l9-2l10 8zM861 1588l-10-8l6 1l10 8zM867 1589l-10-8l6 6l10 8z"/><path class="ea k1" d="M873 1595l-10-8l10 12l9 11z"/><path class="c k1" d="M882 1610l-9-11l11 15l10 14zM894 1628l-10-14l12 10l9 16zM905 1640l-9-16l11 4l10 14zM917 1642l-10-14l12 0l10 10zM929 1638l-10-10l9 0l10 7zM938 1635l-10-7l6 3l10 6z"/><path class="ea k1" d="M944 1637l-10-6l7 6l9 6z"/><path class="x" d="M950 1643l-9-6l9 14l10 9z"/><path class="ea k1" d="M960 1660l-10-9l11 17l10 12z"/><path class="c k1" d="M971 1680l-10-12l12 13l10 13zM983 1694l-10-13l12 8l9 11zM994 1700l-9-11l11 6l10 7zM1006 1702l-10-7l10 5l9 5z"/><path class="ea" d="M1015 1705l-9-5l6 7l9 4z"/><path class="x" d="M1021 1711l-9-4l6 7l10 4z"/><path class="Zb" d="M1028 1718l-10-4l9 20l10 5z"/><path class="D" d="M1037 1739l-10-5l12 35l10 0z"/><path class="aa" d="M1049 1769l-10 0l11 17l10-2z"/><path class="X" d="M1060 1784l-10 2l10 7l10-2zM1070 1791l-10 2l9 2l9-1z"/><path class="c" d="M1078 1794l-9 1l7 2l10-1z"/><path class="X" d="M1086 1796l-10 1l6 4l10-1z"/><path class="G" d="M1092 1800l-10 1l5 5l10 0z"/><path class="V" d="M1097 1806l-10 0l2 4l10-1z"/><path class="c" d="M625 1525l-6 0l2 0l6 0z"/><path class="ea" d="M627 1525l-6 0l4 3l7-1z"/><path class="f" d="M632 1527l-7 1l6 7l7 0z"/><path class="g" d="M638 1535l-7 0l8 11l6 0z"/><path class="Rb" d="M645 1546l-6 0l9 11l6 0z"/><path class="X" d="M654 1557l-6 0l10 6l6-1z"/><path class="c" d="M664 1562l-6 1l11-8l6 1zM675 1556l-6-1l11-29l7 2zM687 1528l-7-2l10-13l6 2zM696 1515l-6-2l6-1l6 2zM702 1514l-6-2l6 3l7 2z"/><path class="ea k1" d="M709 1517l-7-2l9 8l7 3zM718 1526l-7-3l12 11l6 4z"/><path class="c k1" d="M729 1538l-6-4l12 7l6 5zM741 1546l-6-5l11 2l7 4zM753 1547l-7-4l12-2l6 3zM764 1544l-6-3l9-2l7 2zM774 1541l-7-2l6 1l7 2zM780 1542l-7-2l6 4l7 3z"/><path class="ea" d="M786 1547l-7-3l10 11l6 3z"/><path class="ea k1" d="M795 1558l-6-3l11 13l7 4z"/><path class="c k1" d="M807 1572l-7-4l12 8l6 5zM818 1581l-6-5l12 4l6 4zM830 1584l-6-4l11-2l7 4zM842 1582l-7-4l9-1l7 3zM851 1580l-7-3l7 2l6 2z"/><path class="ea k1" d="M857 1581l-6-2l6 5l6 3z"/><path class="ea" d="M863 1587l-6-3l9 11l7 4zM873 1599l-7-4l12 15l6 4z"/><path class="c k1" d="M884 1614l-6-4l11 10l7 4zM896 1624l-7-4l12 4l6 4zM907 1628l-6-4l11 1l7 3zM919 1628l-7-3l10 1l6 2zM928 1628l-6-2l6 3l6 2z"/><path class="ea" d="M934 1631l-6-2l6 6l7 2z"/><path class="f" d="M941 1637l-7-2l9 13l7 3zM950 1651l-7-3l12 17l6 3z"/><path class="ea" d="M961 1668l-6-3l12 13l6 3z"/><path class="c k1" d="M973 1681l-6-3l11 9l7 2zM985 1689l-7-2l12 6l6 2z"/><path class="d k1" d="M996 1695l-6-2l9 6l7 1z"/><path class="x" d="M1006 1700l-7-1l6 7l7 1z"/><path class="e" d="M1012 1707l-7-1l6 7l7 1z"/><path class="k" d="M1018 1714l-7-1l10 20l6 1z"/><path class="qc" d="M1027 1734l-6-1l12 36l6 0z"/><path class="aa" d="M1039 1769l-6 0l11 18l6-1z"/><path class="X" d="M1050 1786l-6 1l9 7l7-1zM1060 1793l-7 1l9 2l7-1z"/><path class="c" d="M1069 1795l-7 1l8 2l6-1z"/><path class="X" d="M1076 1797l-6 1l6 4l6-1z"/><path class="G" d="M1082 1801l-6 1l4 5l7-1z"/><path class="V" d="M1087 1806l-7 1l3 4l6-1z"/><path class="c" d="M619 1525l-7 1l2 0l7-1z"/><path class="ea" d="M621 1525l-7 1l5 2l6 0z"/><path class="f" d="M625 1528l-6 0l6 8l6-1z"/><path class="g" d="M631 1535l-6 1l8 11l6-1z"/><path class="Z" d="M639 1546l-6 1l8 11l7-1z"/><path class="X" d="M648 1557l-7 1l10 5l7 0z"/><path class="c" d="M658 1563l-7 0l11-6l7-2zM669 1555l-7 2l12-29l6-2zM680 1526l-6 2l9-14l7-1zM690 1513l-7 1l6-1l7-1z"/><path class="ea" d="M696 1512l-7 1l7 3l6-1z"/><path class="f" d="M702 1515l-6 1l9 9l6-2z"/><path class="Da" d="M711 1523l-6 2l12 13l6-4z"/><path class="f" d="M723 1534l-6 4l11 7l7-4z"/><path class="ea" d="M735 1541l-7 4l12 1l6-3z"/><path class="c k1" d="M746 1543l-6 3l11-3l7-2zM758 1541l-7 2l10-3l6-1zM767 1539l-6 1l6 1l6-1z"/><path class="ea" d="M773 1540l-6 1l6 4l6-1z"/><path class="Ba" d="M779 1544l-6 1l9 12l7-2z"/><path class="Da" d="M789 1555l-7 2l12 14l6-3z"/><path class="f" d="M800 1568l-6 3l11 9l7-4z"/><path class="ea" d="M812 1576l-7 4l12 3l7-3z"/><path class="c k1" d="M824 1580l-7 3l12-3l6-2zM835 1578l-6 2l9-2l6-1z"/><path class="ea k1" d="M844 1577l-6 1l6 2l7-1z"/><path class="zb" d="M851 1579l-7 1l6 5l7-1z"/><path class="Da" d="M857 1584l-7 1l10 13l6-3zM866 1595l-6 3l11 15l7-3zM878 1610l-7 3l12 10l6-3z"/><path class="x" d="M889 1620l-6 3l11 5l7-4z"/><path class="ea k1" d="M901 1624l-7 4l12 0l6-3z"/><path class="c k1" d="M912 1625l-6 3l9 0l7-2z"/><path class="ea" d="M922 1626l-7 2l6 3l7-2z"/><path class="f" d="M928 1629l-7 2l7 6l6-2z"/><path class="y" d="M934 1635l-6 2l9 14l6-3zM943 1648l-6 3l12 18l6-4z"/><path class="i" d="M955 1665l-6 4l11 13l7-4z"/><path class="va" d="M967 1678l-7 4l12 8l6-3z"/><path class="e" d="M978 1687l-6 3l11 6l7-3zM990 1693l-7 3l10 5l6-2z"/><path class="va" d="M999 1699l-6 2l6 7l6-2z"/><path class="g" d="M1005 1706l-6 2l6 7l6-2z"/><path class="B" d="M1011 1713l-6 2l9 20l7-2z"/><path class="ga" d="M1021 1733l-7 2l12 36l7-2z"/><path class="ca" d="M1033 1769l-7 2l11 17l7-1z"/><path class="X" d="M1044 1787l-7 1l10 7l6-1zM1053 1794l-6 1l9 3l6-2z"/><path class="c" d="M1062 1796l-6 2l7 1l7-1z"/><path class="X" d="M1070 1798l-7 1l6 3l7 0z"/><path class="G" d="M1076 1802l-7 0l5 6l6-1z"/><path class="V" d="M1080 1807l-6 1l2 3l7 0z"/><path class="c" d="M612 1526l-10 0l3 0l9 0z"/><path class="ea" d="M614 1526l-9 0l4 3l10-1z"/><path class="f" d="M619 1528l-10 1l6 7l10 0z"/><path class="g" d="M625 1536l-10 0l8 12l10-1zM633 1547l-10 1l9 11l9-1z"/><path class="X" d="M641 1558l-9 1l9 5l10-1z"/><path class="c" d="M651 1563l-10 1l11-4l10-3zM662 1557l-10 3l12-24l10-8zM674 1528l-10 8l10-15l9-7zM683 1514l-9 7l6-2l9-6z"/><path class="f" d="M689 1513l-9 6l6 4l10-7z"/><path class="y" d="M696 1516l-10 7l9 13l10-11z"/><path class="Ha" d="M705 1525l-10 11l12 16l10-14z"/><path class="ra" d="M717 1538l-10 14l11 9l10-16z"/><path class="Da" d="M728 1545l-10 16l12 0l10-15z"/><path class="ea" d="M740 1546l-10 15l12-8l9-10z"/><path class="c k1" d="M751 1543l-9 10l9-7l10-6z"/><path class="ea" d="M761 1540l-10 6l6 0l10-5z"/><path class="Ba" d="M767 1541l-10 5l6 6l10-7z"/><path class="ra" d="M773 1545l-10 7l10 15l9-10z"/><path class="Ha" d="M782 1557l-9 10l11 18l10-14z"/><path class="od" d="M794 1571l-10 14l12 11l9-16z"/><path class="h" d="M805 1580l-9 16l11 1l10-14z"/><path class="x" d="M817 1583l-10 14l12-7l10-10z"/><path class="ea k1" d="M829 1580l-10 10l9-5l10-7z"/><path class="ea" d="M838 1578l-10 7l6 0l10-5z"/><path class="Da" d="M844 1580l-10 5l7 7l9-7z"/><path class="qa" d="M850 1585l-9 7l9 16l10-10z"/><path class="tb" d="M860 1598l-10 10l12 19l9-14z"/><path class="Ha" d="M871 1613l-9 14l11 13l10-17z"/><path class="y" d="M883 1623l-10 17l12 2l9-14z"/><path class="f" d="M894 1628l-9 14l11-4l10-10z"/><path class="ea" d="M906 1628l-10 10l10-3l9-7z"/><path class="f" d="M915 1628l-9 7l6 2l9-6z"/><path class="y" d="M921 1631l-9 6l6 7l10-7z"/><path class="Ha" d="M928 1637l-10 7l9 18l10-11z"/><path class="db" d="M937 1651l-10 11l12 21l10-14z"/><path class="Oa" d="M949 1669l-10 14l11 14l10-15z"/><path class="A" d="M960 1682l-10 15l12 7l10-14z"/><path class="g" d="M972 1690l-10 14l12 1l9-9z"/><path class="f" d="M983 1696l-9 9l9 3l10-7z"/><path class="h" d="M993 1701l-10 7l6 6l10-6z"/><path class="i" d="M999 1708l-10 6l6 7l10-6z"/><path class="Yb" d="M1005 1715l-10 6l10 22l9-8z"/><path class="ga" d="M1014 1735l-9 8l11 32l10-4z"/><path class="ba" d="M1026 1771l-10 4l11 15l10-2z"/><path class="X" d="M1037 1788l-10 2l10 7l10-2zM1047 1795l-10 2l9 2l10-1z"/><path class="c" d="M1056 1798l-10 1l8 1l9-1z"/><path class="X" d="M1063 1799l-9 1l6 3l9-1z"/><path class="G" d="M1069 1802l-9 1l4 6l10-1z"/><path class="ba" d="M1074 1808l-10 1l2 3l10-1z"/><path class="c" d="M602 1526l-12 1l3 0l12-1z"/><path class="ea" d="M605 1526l-12 1l4 2l12 0z"/><path class="f" d="M609 1529l-12 0l6 8l12-1z"/><path class="g" d="M615 1536l-12 1l8 12l12-1zM623 1548l-12 1l9 11l12-1z"/><path class="x" d="M632 1559l-12 1l9 6l12-2z"/><path class="c" d="M641 1564l-12 2l11-5l12-1zM652 1560l-12 1l12-17l12-8zM664 1536l-12 8l9-16l13-7zM674 1521l-13 7l7-2l12-7z"/><path class="f" d="M680 1519l-12 7l6 5l12-8z"/><path class="qa" d="M686 1523l-12 8l9 17l12-12z"/><path class="Xa" d="M695 1536l-12 12l12 21l12-17z"/><path class="Za" d="M707 1552l-12 17l11 11l12-19z"/><path class="va" d="M718 1561l-12 19l12-2l12-17z"/><path class="c k1" d="M730 1561l-12 17l12-13l12-12zM742 1553l-12 12l9-11l12-8z"/><path class="ea k1" d="M751 1546l-12 8l6-1l12-7z"/><path class="Da" d="M757 1546l-12 7l6 6l12-7z"/><path class="Ha" d="M763 1552l-12 7l9 20l13-12z"/><path class="Xa" d="M773 1567l-13 12l12 24l12-18z"/><path class="Ha" d="M784 1585l-12 18l12 12l12-19z"/><path class="Da" d="M796 1596l-12 19l11-1l12-17z"/><path class="ea k1" d="M807 1597l-12 17l12-12l12-12z"/><path class="c k1" d="M819 1590l-12 12l9-10l12-7z"/><path class="ea" d="M828 1585l-12 7l6 0l12-7z"/><path class="Da" d="M834 1585l-12 7l7 8l12-8z"/><path class="tb" d="M841 1592l-12 8l9 20l12-12z"/><path class="db" d="M850 1608l-12 12l11 25l13-18z"/><path class="Ha" d="M862 1627l-13 18l12 14l12-19z"/><path class="h" d="M873 1640l-12 19l12 1l12-18z"/><path class="ea" d="M885 1642l-12 18l11-10l12-12z"/><path class="c k1" d="M896 1638l-12 12l9-7l13-8z"/><path class="x" d="M906 1635l-13 8l7 1l12-7z"/><path class="y" d="M912 1637l-12 7l6 9l12-9z"/><path class="Xa" d="M918 1644l-12 9l9 21l12-12z"/><path class="Ga" d="M927 1662l-12 12l12 26l12-17z"/><path class="ab" d="M939 1683l-12 17l11 16l12-19z"/><path class="j" d="M950 1697l-12 19l12 4l12-16z"/><path class="e" d="M962 1704l-12 16l12-3l12-12z"/><path class="x" d="M974 1705l-12 12l9-1l12-8z"/><path class="g" d="M983 1708l-12 8l6 5l12-7z"/><path class="j" d="M989 1714l-12 7l6 8l12-8z"/><path class="Yb" d="M995 1721l-12 8l9 22l13-8z"/><path class="qc" d="M1005 1743l-13 8l12 26l12-2z"/><path class="aa" d="M1016 1775l-12 2l11 15l12-2z"/><path class="X" d="M1027 1790l-12 2l10 7l12-2zM1037 1797l-12 2l9 2l12-2z"/><path class="c" d="M1046 1799l-12 2l7 1l13-2z"/><path class="X" d="M1054 1800l-13 2l7 3l12-2z"/><path class="G" d="M1060 1803l-12 2l4 5l12-1z"/><path class="ba" d="M1064 1809l-12 1l2 4l12-2z"/><path class="c" d="M590 1527l-12 0l2 0l13 0z"/><path class="ea" d="M593 1527l-13 0l5 3l12-1z"/><path class="f" d="M597 1529l-12 1l6 8l12-1z"/><path class="i" d="M603 1537l-12 1l8 12l12-1z"/><path class="g" d="M611 1549l-12 1l8 12l13-2z"/><path class="x" d="M620 1560l-13 2l10 5l12-1z"/><path class="c" d="M629 1566l-12 1l11-5l12-1zM640 1561l-12 1l12-17l12-1zM652 1544l-12 1l9-14l12-3zM661 1528l-12 3l7-3l12-2z"/><path class="f" d="M668 1526l-12 2l6 5l12-2z"/><path class="ra" d="M674 1531l-12 2l9 19l12-4z"/><path class="Za" d="M683 1548l-12 4l12 24l12-7z"/><path class="h" d="M695 1569l-12 7l11 12l12-8z"/><path class="d k1" d="M706 1580l-12 8l12-3l12-7z"/><path class="c k1" d="M718 1578l-12 7l11-16l13-4zM730 1565l-13 4l10-12l12-3zM739 1554l-12 3l6-2l12-2z"/><path class="f" d="M745 1553l-12 2l6 7l12-3z"/><path class="qa" d="M751 1559l-12 3l9 21l12-4z"/><path class="Ha" d="M760 1579l-12 4l12 27l12-7z"/><path class="i" d="M772 1603l-12 7l12 13l12-8z"/><path class="ea k1" d="M784 1615l-12 8l11-2l12-7z"/><path class="c k1" d="M795 1614l-12 7l12-14l12-5zM807 1602l-12 5l9-12l12-3zM816 1592l-12 3l6-1l12-2z"/><path class="Ba" d="M822 1592l-12 2l6 8l13-2z"/><path class="Ha" d="M829 1600l-13 2l10 23l12-5z"/><path class="xb" d="M838 1620l-12 5l11 27l12-7z"/><path class="i" d="M849 1645l-12 7l12 15l12-8z"/><path class="x" d="M861 1659l-12 8l12 0l12-7z"/><path class="c k1" d="M873 1660l-12 7l11-12l12-5zM884 1650l-12 5l9-9l12-3z"/><path class="ea k1" d="M893 1643l-12 3l7 1l12-3z"/><path class="Da" d="M900 1644l-12 3l6 9l12-3z"/><path class="Ha" d="M906 1653l-12 3l9 23l12-5z"/><path class="Oa" d="M915 1674l-12 5l12 28l12-7z"/><path class="k" d="M927 1700l-12 7l11 17l12-8z"/><path class="e" d="M938 1716l-12 8l12 4l12-8z"/><path class="c k1" d="M950 1720l-12 8l11-6l13-5zM962 1717l-13 5l10-3l12-3z"/><path class="e" d="M971 1716l-12 3l6 5l12-3z"/><path class="g" d="M977 1721l-12 3l6 8l12-3z"/><path class="B" d="M983 1729l-12 3l9 21l12-2z"/><path class="D" d="M992 1751l-12 2l12 26l12-2z"/><path class="aa" d="M1004 1777l-12 2l11 16l12-3z"/><path class="X" d="M1015 1792l-12 3l10 7l12-3zM1025 1799l-12 3l9 1l12-2z"/><path class="c" d="M1034 1801l-12 2l7 1l12-2z"/><path class="X" d="M1041 1802l-12 2l7 3l12-2z"/><path class="G" d="M1048 1805l-12 2l4 5l12-2z"/><path class="ba" d="M1052 1810l-12 2l2 3l12-1z"/><path class="c" d="M578 1527l-12 1l2 0l12-1z"/><path class="ea" d="M580 1527l-12 1l5 2l12 0z"/><path class="va" d="M585 1530l-12 0l6 9l12-1z"/><path class="i" d="M591 1538l-12 1l8 12l12-1z"/><path class="g" d="M599 1550l-12 1l8 12l12-1z"/><path class="x" d="M607 1562l-12 1l10 6l12-2z"/><path class="c" d="M617 1567l-12 2l11-6l12-1zM628 1562l-12 1l12-18l12 0zM640 1545l-12 0l9-17l12 3zM649 1531l-12-3l6-3l13 3z"/><path class="ea" d="M656 1528l-13-3l7 5l12 3z"/><path class="Da" d="M662 1533l-12-3l9 18l12 4z"/><path class="h" d="M671 1552l-12-4l12 23l12 5z"/><path class="ea k1" d="M683 1576l-12-5l11 11l12 6z"/><path class="c k1" d="M694 1588l-12-6l12-3l12 6zM706 1585l-12-6l11-14l12 4zM717 1569l-12-4l10-12l12 4zM727 1557l-12-4l6-2l12 4z"/><path class="ea" d="M733 1555l-12-4l6 7l12 4z"/><path class="y" d="M739 1562l-12-4l9 21l12 4z"/><path class="h" d="M748 1583l-12-4l12 25l12 6z"/><path class="ea" d="M760 1610l-12-6l11 13l13 6z"/><path class="c k1" d="M772 1623l-13-6l12-2l12 6zM783 1621l-12-6l12-13l12 5zM795 1607l-12-5l9-10l12 3zM804 1595l-12-3l6-1l12 3z"/><path class="x" d="M810 1594l-12-3l6 8l12 3z"/><path class="y" d="M816 1602l-12-3l10 21l12 5zM826 1625l-12-5l11 26l12 6z"/><path class="x" d="M837 1652l-12-6l12 15l12 6z"/><path class="c k1" d="M849 1667l-12-6l11 1l13 5zM861 1667l-13-5l12-11l12 4zM872 1655l-12-4l9-8l12 3zM881 1646l-12-3l6 2l13 2z"/><path class="f" d="M888 1647l-13-2l7 8l12 3z"/><path class="ra" d="M894 1656l-12-3l9 23l12 3z"/><path class="A" d="M903 1679l-12-3l12 27l12 4z"/><path class="e" d="M915 1707l-12-4l11 16l12 5z"/><path class="c k1" d="M926 1724l-12-5l12 5l12 4zM938 1728l-12-4l11-4l12 2zM949 1722l-12-2l10-2l12 1z"/><path class="x" d="M959 1719l-12-1l6 5l12 1z"/><path class="f" d="M965 1724l-12-1l6 8l12 1z"/><path class="B" d="M971 1732l-12-1l9 23l12-1z"/><path class="D" d="M980 1753l-12 1l12 27l12-2z"/><path class="aa" d="M992 1779l-12 2l11 16l12-2z"/><path class="X" d="M1003 1795l-12 2l10 7l12-2z"/><path class="d" d="M1013 1802l-12 2l9 2l12-3z"/><path class="c" d="M1022 1803l-12 3l7 0l12-2z"/><path class="X" d="M1029 1804l-12 2l6 2l13-1z"/><path class="Rb" d="M1036 1807l-13 1l5 6l12-2z"/><path class="ba" d="M1040 1812l-12 2l2 3l12-2z"/><path class="c" d="M566 1528l-12 0l2 0l12 0z"/><path class="ea" d="M568 1528l-12 0l5 3l12-1z"/><path class="va" d="M573 1530l-12 1l6 8l12 0z"/><path class="i" d="M579 1539l-12 0l7 13l13-1z"/><path class="g" d="M587 1551l-13 1l9 13l12-2z"/><path class="x" d="M595 1563l-12 2l10 5l12-1z"/><path class="c" d="M605 1569l-12 1l11-5l12-2zM616 1563l-12 2l12-29l12 9zM628 1545l-12-9l9-17l12 9zM637 1528l-12-9l6-2l12 8zM643 1525l-12-8l7 4l12 9z"/><path class="ea" d="M650 1530l-12-9l9 14l12 13z"/><path class="ea k1" d="M659 1548l-12-13l11 18l13 18z"/><path class="c k1" d="M671 1571l-13-18l12 9l12 20zM682 1582l-12-20l12-1l12 18zM694 1579l-12-18l11-10l12 14zM705 1565l-12-14l9-8l13 10zM715 1553l-13-10l7 0l12 8zM721 1551l-12-8l6 5l12 10z"/><path class="ha" d="M727 1558l-12-10l9 17l12 14z"/><path class="ea" d="M736 1579l-12-14l12 20l12 19z"/><path class="c k1" d="M748 1604l-12-19l11 11l12 21zM759 1617l-12-21l12 1l12 18zM771 1615l-12-18l12-8l12 13zM783 1602l-12-13l9-7l12 10zM792 1592l-12-10l6 0l12 9z"/><path class="ea k1" d="M798 1591l-12-9l6 7l12 10z"/><path class="f" d="M804 1599l-12-10l9 18l13 13z"/><path class="ea" d="M814 1620l-13-13l12 22l12 17z"/><path class="c k1" d="M825 1646l-12-17l12 13l12 19zM837 1661l-12-19l11 2l12 18zM848 1662l-12-18l12-5l12 12zM860 1651l-12-12l9-4l12 8zM869 1643l-12-8l6 2l12 8z"/><path class="ea" d="M875 1645l-12-8l7 8l12 8z"/><path class="f" d="M882 1653l-12-8l9 19l12 12zM891 1676l-12-12l11 23l13 16z"/><path class="c k1" d="M903 1703l-13-16l12 16l12 16zM914 1719l-12-16l12 6l12 15zM926 1724l-12-15l11 1l12 10zM937 1720l-12-10l9 2l13 6z"/><path class="d" d="M947 1718l-13-6l7 5l12 6z"/><path class="x" d="M953 1723l-12-6l6 9l12 5z"/><path class="k" d="M959 1731l-12-5l9 23l12 5z"/><path class="C" d="M968 1754l-12-5l12 34l12-2z"/><path class="aa" d="M980 1781l-12 2l11 17l12-3z"/><path class="X" d="M991 1797l-12 3l10 7l12-3z"/><path class="d" d="M1001 1804l-12 3l9 1l12-2z"/><path class="c" d="M1010 1806l-12 2l7 0l12-2z"/><path class="X" d="M1017 1806l-12 2l6 2l12-2z"/><path class="Rb" d="M1023 1808l-12 2l5 5l12-1z"/><path class="ba" d="M1028 1814l-12 1l2 4l12-2z"/><path class="c" d="M554 1528l-10 1l3 0l9-1z"/><path class="ea" d="M556 1528l-9 1l4 3l10-1z"/><path class="va" d="M561 1531l-10 1l6 8l10-1z"/><path class="i" d="M567 1539l-10 1l8 13l9-1z"/><path class="g" d="M574 1552l-9 1l8 13l10-1z"/><path class="x" d="M583 1565l-10 1l10 5l10-1z"/><path class="c" d="M593 1570l-10 1l11-8l10 2zM604 1565l-10-2l12-35l10 8zM616 1536l-10-8l9-17l10 8zM625 1519l-10-8l7-2l9 8zM631 1517l-9-8l6 3l10 9z"/><path class="c k1" d="M638 1521l-10-9l9 11l10 12zM647 1535l-10-12l12 13l9 17zM658 1553l-9-17l11 8l10 18zM670 1562l-10-18l12 0l10 17zM682 1561l-10-17l12-6l9 13zM693 1551l-9-13l9-4l9 9zM702 1543l-9-9l6 0l10 9zM709 1543l-10-9l6 5l10 9z"/><path class="ea k1" d="M715 1548l-10-9l9 13l10 13z"/><path class="c k1" d="M724 1565l-10-13l12 16l10 17zM736 1585l-10-17l12 9l9 19zM747 1596l-9-19l11 3l10 17zM759 1597l-10-17l12-4l10 13zM771 1589l-10-13l9-3l10 9zM780 1582l-10-9l6 1l10 8zM786 1582l-10-8l7 6l9 9z"/><path class="ea" d="M792 1589l-9-9l9 14l9 13z"/><path class="c k1" d="M801 1607l-9-13l11 18l10 17zM813 1629l-10-17l12 11l10 19zM825 1642l-10-19l12 5l9 16zM836 1644l-9-16l11-1l10 12zM848 1639l-10-12l9-1l10 9zM857 1635l-10-9l7 4l9 7z"/><path class="ea k1" d="M863 1637l-9-7l6 7l10 8z"/><path class="ea" d="M870 1645l-10-8l9 16l10 11z"/><path class="ea k1" d="M879 1664l-10-11l12 19l9 15z"/><path class="c k1" d="M890 1687l-9-15l11 15l10 16zM902 1703l-10-16l12 9l10 13zM914 1709l-10-13l12 4l9 10zM925 1710l-9-10l9 5l9 7z"/><path class="ea" d="M934 1712l-9-7l6 7l10 5z"/><path class="x" d="M941 1717l-10-5l6 8l10 6z"/><path class="i" d="M947 1726l-10-6l9 23l10 6z"/><path class="jc" d="M956 1749l-10-6l12 40l10 0z"/><path class="ba" d="M968 1783l-10 0l11 19l10-2z"/><path class="X" d="M979 1800l-10 2l10 7l10-2z"/><path class="c" d="M989 1807l-10 2l9 1l10-2zM998 1808l-10 2l7 0l10-2z"/><path class="X" d="M1005 1808l-10 2l7 2l9-2z"/><path class="Rb" d="M1011 1810l-9 2l4 5l10-2z"/><path class="ba" d="M1016 1815l-10 2l2 4l10-2z"/><path class="c" d="M544 1529l-6 1l2-1l7 0z"/><path class="ea" d="M547 1529l-7 0l5 3l6 0z"/><path class="Da" d="M551 1532l-6 0l6 9l6-1z"/><path class="i" d="M557 1540l-6 1l7 13l7-1z"/><path class="g" d="M565 1553l-7 1l9 13l6-1z"/><path class="x" d="M573 1566l-6 1l10 5l6-1z"/><path class="c" d="M583 1571l-6 1l11-10l6 1zM594 1563l-6-1l12-37l6 3zM606 1528l-6-3l9-16l6 2zM615 1511l-6-2l6-2l7 2zM622 1509l-7-2l6 3l7 2z"/><path class="ea" d="M628 1512l-7-2l10 9l6 4z"/><path class="ea k1" d="M637 1523l-6-4l11 12l7 5z"/><path class="c k1" d="M649 1536l-7-5l12 8l6 5zM660 1544l-6-5l11 0l7 5zM672 1544l-7-5l12-4l7 3zM684 1538l-7-3l9-4l7 3zM693 1534l-7-3l7 1l6 2z"/><path class="ea k1" d="M699 1534l-6-2l6 5l6 2z"/><path class="ea" d="M705 1539l-6-2l9 11l6 4zM714 1552l-6-4l12 15l6 5z"/><path class="c k1" d="M726 1568l-6-5l11 9l7 5zM738 1577l-7-5l12 3l6 5zM749 1580l-6-5l11-3l7 4zM761 1576l-7-4l10-2l6 3zM770 1573l-6-3l6 2l6 2z"/><path class="ea k1" d="M776 1574l-6-2l6 6l7 2z"/><path class="ka" d="M783 1580l-7-2l9 13l7 3z"/><path class="ea" d="M792 1594l-7-3l12 16l6 5z"/><path class="c k1" d="M803 1612l-6-5l12 12l6 4zM815 1623l-6-4l11 4l7 5zM827 1628l-7-5l12 1l6 3zM838 1627l-6-3l9 0l6 2zM847 1626l-6-2l6 4l7 2z"/><path class="ea" d="M854 1630l-7-2l6 7l7 2z"/><path class="f" d="M860 1637l-7-2l10 15l6 3zM869 1653l-6-3l11 18l7 4z"/><path class="ea" d="M881 1672l-7-4l12 15l6 4z"/><path class="c k1" d="M892 1687l-6-4l11 9l7 4zM904 1696l-7-4l12 6l7 2zM916 1700l-7-2l9 6l7 1z"/><path class="x" d="M925 1705l-7-1l7 7l6 1z"/><path class="f" d="M931 1712l-6-1l6 8l6 1z"/><path class="fa" d="M937 1720l-6-1l9 23l6 1z"/><path class="lc" d="M946 1743l-6-1l12 41l6 0z"/><path class="ba" d="M958 1783l-6 0l11 20l6-1z"/><path class="X" d="M969 1802l-6 1l10 7l6-1z"/><path class="c" d="M979 1809l-6 1l8 1l7-1zM988 1810l-7 1l8 0l6-1z"/><path class="X" d="M995 1810l-6 1l6 2l7-1z"/><path class="Rb" d="M1002 1812l-7 1l5 5l6-1z"/><path class="ba" d="M1006 1817l-6 1l2 4l6-1z"/><path class="c" d="M538 1530l-7 0l3 0l6-1z"/><path class="ea" d="M540 1529l-6 1l4 3l7-1z"/><path class="h" d="M545 1532l-7 1l6 8l7 0z"/><path class="i" d="M551 1541l-7 0l8 14l6-1z"/><path class="g" d="M558 1554l-6 1l9 12l6 0z"/><path class="x" d="M567 1567l-6 0l9 6l7-1z"/><path class="c" d="M577 1572l-7 1l11-8l7-3zM588 1562l-7 3l12-37l7-3zM600 1525l-7 3l10-17l6-2zM609 1509l-6 2l6-2l6-2z"/><path class="ea" d="M615 1507l-6 2l6 3l6-2z"/><path class="Da" d="M621 1510l-6 2l9 11l7-4z"/><path class="oa" d="M631 1519l-7 4l12 13l6-5z"/><path class="Ba" d="M642 1531l-6 5l11 8l7-5z"/><path class="ea" d="M654 1539l-7 5l12 0l6-5z"/><path class="c k1" d="M665 1539l-6 5l12-6l6-3zM677 1535l-6 3l9-5l6-2z"/><path class="ea k1" d="M686 1531l-6 2l6 1l7-2z"/><path class="ka" d="M693 1532l-7 2l6 5l7-2z"/><path class="ia" d="M699 1537l-7 2l10 13l6-4zM708 1548l-6 4l11 16l7-5z"/><path class="Da" d="M720 1563l-7 5l12 10l6-6z"/><path class="ha" d="M731 1572l-6 6l11 2l7-5z"/><path class="c k1" d="M743 1575l-7 5l12-4l6-4zM754 1572l-6 4l9-4l7-2z"/><path class="ea k1" d="M764 1570l-7 2l6 2l7-2z"/><path class="ka" d="M770 1572l-7 2l7 6l6-2z"/><path class="ia" d="M776 1578l-6 2l9 14l6-3z"/><path class="ja" d="M785 1591l-6 3l11 18l7-5z"/><path class="oa" d="M797 1607l-7 5l12 12l7-5z"/><path class="f" d="M809 1619l-7 5l12 4l6-5z"/><path class="ea k1" d="M820 1623l-6 5l11-1l7-3zM832 1624l-7 3l10-1l6-2z"/><path class="ea" d="M841 1624l-6 2l6 3l6-1z"/><path class="Da" d="M847 1628l-6 1l6 8l6-2z"/><path class="na" d="M853 1635l-6 2l9 16l7-3z"/><path class="ra" d="M863 1650l-7 3l12 20l6-5z"/><path class="y" d="M874 1668l-6 5l11 15l7-5z"/><path class="Da" d="M886 1683l-7 5l12 8l6-4z"/><path class="f" d="M897 1692l-6 4l12 5l6-3zM909 1698l-6 3l9 5l6-2z"/><path class="Da" d="M918 1704l-6 2l6 7l7-2z"/><path class="h" d="M925 1711l-7 2l6 8l7-2z"/><path class="Oa" d="M931 1719l-7 2l10 23l6-2z"/><path class="pd" d="M940 1742l-6 2l11 42l7-3z"/><path class="m" d="M952 1783l-7 3l11 18l7-1z"/><path class="X" d="M963 1803l-7 1l10 7l7-1z"/><path class="c" d="M973 1810l-7 1l9 1l6-1zM981 1811l-6 1l8 0l6-1z"/><path class="X" d="M989 1811l-6 1l6 2l6-1z"/><path class="Rb" d="M995 1813l-6 1l4 5l7-1z"/><path class="ba" d="M1000 1818l-7 1l2 4l7-1z"/><path class="c" d="M531 1530l-9 1l2 0l10-1z"/><path class="ea" d="M534 1530l-10 1l4 2l10 0z"/><path class="h" d="M538 1533l-10 0l7 9l9-1z"/><path class="y" d="M544 1541l-9 1l7 14l10-1z"/><path class="h" d="M552 1555l-10 1l9 13l10-2z"/><path class="x" d="M561 1567l-10 2l10 6l9-2z"/><path class="c" d="M570 1573l-9 2l11-7l9-3zM581 1565l-9 3l12-30l9-10zM593 1528l-9 10l9-19l10-8z"/><path class="ea" d="M603 1511l-10 8l6-3l10-7z"/><path class="Da" d="M609 1509l-10 7l6 5l10-9z"/><path class="la" d="M615 1512l-10 9l10 14l9-12z"/><path class="ib" d="M624 1523l-9 12l11 19l10-18z"/><path class="pa" d="M636 1536l-10 18l12 10l9-20z"/><path class="ia" d="M647 1544l-9 20l11-2l10-18z"/><path class="ea" d="M659 1544l-10 18l12-11l10-13z"/><path class="ea k1" d="M671 1538l-10 13l9-9l10-9z"/><path class="ea" d="M680 1533l-10 9l6 0l10-8z"/><path class="ia" d="M686 1534l-10 8l7 6l9-9z"/><path class="hb" d="M692 1539l-9 9l9 17l10-13z"/><path class="wa" d="M702 1552l-10 13l11 21l10-18z"/><path class="ib" d="M713 1568l-10 18l12 12l10-20z"/><path class="na" d="M725 1578l-10 20l12 0l9-18z"/><path class="ka" d="M736 1580l-9 18l11-9l10-13z"/><path class="ea k1" d="M748 1576l-10 13l10-8l9-9z"/><path class="ka" d="M757 1572l-9 9l6 1l9-8z"/><path class="ia" d="M763 1574l-9 8l6 7l10-9z"/><path class="ib" d="M770 1580l-10 9l9 18l10-13z"/><path class="wa" d="M779 1594l-10 13l12 23l9-18z"/><path class="Xa" d="M790 1612l-9 18l11 14l10-20z"/><path class="ra" d="M802 1624l-10 20l12 2l10-18z"/><path class="f" d="M814 1628l-10 18l12-6l9-13z"/><path class="ea" d="M825 1627l-9 13l9-5l10-9z"/><path class="f" d="M835 1626l-10 9l6 2l10-8z"/><path class="na" d="M841 1629l-10 8l6 8l10-8z"/><path class="ib" d="M847 1637l-10 8l10 20l9-12z"/><path class="Sa" d="M856 1653l-9 12l11 25l10-17z"/><path class="db" d="M868 1673l-10 17l12 16l9-18z"/><path class="Za" d="M879 1688l-9 18l11 7l10-17z"/><path class="h" d="M891 1696l-10 17l12 0l10-12z"/><path class="f" d="M903 1701l-10 12l9 1l10-8z"/><path class="y" d="M912 1706l-10 8l6 6l10-7zM918 1713l-10 7l7 9l9-8z"/><path class="Vb" d="M924 1721l-9 8l9 24l10-9z"/><path class="eb" d="M934 1744l-10 9l12 36l9-3z"/><path class="ca" d="M945 1786l-9 3l11 17l9-2z"/><path class="X" d="M956 1804l-9 2l10 7l9-2z"/><path class="c" d="M966 1811l-9 2l8 1l10-2zM975 1812l-10 2l8 0l10-2z"/><path class="X" d="M983 1812l-10 2l6 2l10-2z"/><path class="Rb" d="M989 1814l-10 2l4 5l10-2z"/><path class="ba" d="M993 1819l-10 2l3 4l9-2z"/><path class="c" d="M522 1531l-12 1l2 0l12-1z"/><path class="ea" d="M524 1531l-12 1l4 3l12-2z"/><path class="h" d="M528 1533l-12 2l6 9l13-2z"/><path class="y" d="M535 1542l-13 2l8 14l12-2z"/><path class="h" d="M542 1556l-12 2l9 13l12-2z"/><path class="x" d="M551 1569l-12 2l10 6l12-2z"/><path class="c" d="M561 1575l-12 2l11-7l12-2zM572 1568l-12 2l11-21l13-11zM584 1538l-13 11l10-20l12-10zM593 1519l-12 10l6-4l12-9z"/><path class="Da" d="M599 1516l-12 9l6 6l12-10z"/><path class="ib" d="M605 1521l-12 10l9 20l13-16z"/><path class="Sa" d="M615 1535l-13 16l12 25l12-22z"/><path class="tb" d="M626 1554l-12 22l12 12l12-24z"/><path class="Da" d="M638 1564l-12 24l11-4l12-22z"/><path class="c k1" d="M649 1562l-12 22l12-17l12-16zM661 1551l-12 16l9-14l12-11z"/><path class="ea" d="M670 1542l-12 11l6-2l12-9z"/><path class="ia" d="M676 1542l-12 9l6 7l13-10z"/><path class="wa" d="M683 1548l-13 10l10 23l12-16z"/><path class="ya" d="M692 1565l-12 16l11 27l12-22z"/><path class="Xa" d="M703 1586l-12 22l12 15l12-25z"/><path class="y" d="M715 1598l-12 25l12-3l12-22z"/><path class="ea k1" d="M727 1598l-12 22l11-15l12-16z"/><path class="c k1" d="M738 1589l-12 16l9-13l13-11z"/><path class="ea" d="M748 1581l-13 11l7-1l12-9z"/><path class="ja" d="M754 1582l-12 9l6 8l12-10z"/><path class="wa" d="M760 1589l-12 10l9 24l12-16z"/><path class="ya" d="M769 1607l-12 16l12 29l12-22z"/><path class="Jb" d="M781 1630l-12 22l11 16l12-24z"/><path class="y" d="M792 1644l-12 24l12 0l12-22z"/><path class="ea" d="M804 1646l-12 22l11-13l13-15z"/><path class="c k1" d="M816 1640l-13 15l10-10l12-10z"/><path class="ka" d="M825 1635l-12 10l6 1l12-9z"/><path class="ra" d="M831 1637l-12 9l6 10l12-11z"/><path class="Sa" d="M837 1645l-12 11l9 24l13-15z"/><path class="Fa" d="M847 1665l-13 15l12 30l12-20z"/><path class="Ga" d="M858 1690l-12 20l12 18l12-22z"/><path class="A" d="M870 1706l-12 22l11 4l12-19z"/><path class="f" d="M881 1713l-12 19l12-6l12-13z"/><path class="x" d="M893 1713l-12 13l9-2l12-10z"/><path class="h" d="M902 1714l-12 10l6 5l12-9z"/><path class="Pa" d="M908 1720l-12 9l6 9l13-9z"/><path class="yb" d="M915 1729l-13 9l10 25l12-10z"/><path class="lc" d="M924 1753l-12 10l12 29l12-3z"/><path class="ba" d="M936 1789l-12 3l11 17l12-3z"/><path class="X" d="M947 1806l-12 3l9 7l13-3z"/><path class="c" d="M957 1813l-13 3l9 1l12-3zM965 1814l-12 3l8 0l12-3z"/><path class="X" d="M973 1814l-12 3l6 2l12-3z"/><path class="Rb" d="M979 1816l-12 3l4 4l12-2z"/><path class="ba" d="M983 1821l-12 2l3 4l12-2z"/><path class="c" d="M510 1532l-13 2l3-1l12-1z"/><path class="ea" d="M512 1532l-12 1l4 3l12-1z"/><path class="h" d="M516 1535l-12 1l6 10l12-2z"/><path class="y" d="M522 1544l-12 2l8 14l12-2z"/><path class="h" d="M530 1558l-12 2l9 13l12-2z"/><path class="x" d="M539 1571l-12 2l10 6l12-2z"/><path class="c" d="M549 1577l-12 2l10-7l13-2zM560 1570l-13 2l12-22l12-1zM571 1549l-12 1l10-17l12-4zM581 1529l-12 4l6-3l12-5z"/><path class="f" d="M587 1525l-12 5l6 6l12-5z"/><path class="pa" d="M593 1531l-12 5l9 22l12-7z"/><path class="Xa" d="M602 1551l-12 7l12 27l12-9z"/><path class="y" d="M614 1576l-12 9l11 14l13-11z"/><path class="ea k1" d="M626 1588l-13 11l12-5l12-10z"/><path class="c k1" d="M637 1584l-12 10l12-20l12-7zM649 1567l-12 7l9-16l12-5zM658 1553l-12 5l6-3l12-4z"/><path class="Da" d="M664 1551l-12 4l6 8l12-5z"/><path class="ib" d="M670 1558l-12 5l10 25l12-7z"/><path class="Jb" d="M680 1581l-12 7l11 30l12-10z"/><path class="Bb" d="M691 1608l-12 10l12 15l12-10z"/><path class="ea" d="M703 1623l-12 10l11-3l13-10z"/><path class="c k1" d="M715 1620l-13 10l12-18l12-7zM726 1605l-12 7l9-15l12-5zM735 1592l-12 5l6-2l13-4z"/><path class="ia" d="M742 1591l-13 4l7 9l12-5z"/><path class="jb" d="M748 1599l-12 5l9 26l12-7z"/><path class="Jb" d="M757 1623l-12 7l12 31l12-9z"/><path class="ra" d="M769 1652l-12 9l11 17l12-10z"/><path class="x" d="M780 1668l-12 10l12-1l12-9z"/><path class="c k1" d="M792 1668l-12 9l11-15l12-7zM803 1655l-12 7l10-12l12-5z"/><path class="ea k1" d="M813 1645l-12 5l6 0l12-4z"/><path class="ia" d="M819 1646l-12 4l6 10l12-4z"/><path class="Jb" d="M825 1656l-12 4l9 27l12-7z"/><path class="qb" d="M834 1680l-12 7l12 32l12-9z"/><path class="Za" d="M846 1710l-12 9l11 18l13-9z"/><path class="e" d="M858 1728l-13 9l12 4l12-9z"/><path class="c k1" d="M869 1732l-12 9l12-8l12-7zM881 1726l-12 7l9-5l12-4z"/><path class="f" d="M890 1724l-12 4l6 5l12-4z"/><path class="i" d="M896 1729l-12 4l6 9l12-4z"/><path class="Oa" d="M902 1738l-12 4l10 23l12-2z"/><path class="jc" d="M912 1763l-12 2l12 30l12-3z"/><path class="ba" d="M924 1792l-12 3l10 17l13-3z"/><path class="X" d="M935 1809l-13 3l10 7l12-3z"/><path class="c" d="M944 1816l-12 3l9 1l12-3zM953 1817l-12 3l8-1l12-2z"/><path class="X" d="M961 1817l-12 2l6 2l12-2z"/><path class="Rb" d="M967 1819l-12 2l4 5l12-3z"/><path class="ba" d="M971 1823l-12 3l2 4l13-3z"/><path class="c" d="M497 1534l-12 2l3-1l12-2z"/><path class="x" d="M500 1533l-12 2l4 3l12-2z"/><path class="h" d="M504 1536l-12 2l6 10l12-2z"/><path class="Pa" d="M510 1546l-12 2l8 14l12-2z"/><path class="i" d="M518 1560l-12 2l9 13l12-2z"/><path class="x" d="M527 1573l-12 2l9 6l13-2z"/><path class="c" d="M537 1579l-13 2l11-7l12-2zM547 1572l-12 2l12-22l12-2zM559 1550l-12 2l10-21l12 2zM569 1533l-12-2l6-4l12 3z"/><path class="ea" d="M575 1530l-12-3l6 6l12 3z"/><path class="na" d="M581 1536l-12-3l9 21l12 4z"/><path class="y" d="M590 1558l-12-4l12 26l12 5z"/><path class="ea" d="M602 1585l-12-5l11 12l12 7z"/><path class="c k1" d="M613 1599l-12-7l12-4l12 6zM625 1594l-12-6l12-18l12 4zM637 1574l-12-4l9-15l12 3zM646 1558l-12-3l6-2l12 2z"/><path class="ka" d="M652 1555l-12-2l6 8l12 2z"/><path class="ja" d="M658 1563l-12-2l10 23l12 4z"/><path class="Bb" d="M668 1588l-12-4l11 28l12 6z"/><path class="ea" d="M679 1618l-12-6l12 15l12 6z"/><path class="c k1" d="M691 1633l-12-6l11-3l12 6zM702 1630l-12-6l12-16l12 4zM714 1612l-12-4l9-14l12 3zM723 1597l-12-3l6-1l12 2z"/><path class="ka" d="M729 1595l-12-2l7 9l12 2z"/><path class="qa" d="M736 1604l-12-2l9 24l12 4z"/><path class="ra" d="M745 1630l-12-4l11 30l13 5z"/><path class="x" d="M757 1661l-13-5l12 16l12 6z"/><path class="c k1" d="M768 1678l-12-6l12-1l12 6zM780 1677l-12-6l11-13l12 4zM791 1662l-12-4l10-11l12 3zM801 1650l-12-3l6 1l12 2z"/><path class="Ba" d="M807 1650l-12-2l6 10l12 2z"/><path class="za" d="M813 1660l-12-2l9 25l12 4z"/><path class="fa" d="M822 1687l-12-4l12 31l12 5z"/><path class="f" d="M834 1719l-12-5l11 18l12 5z"/><path class="c k1" d="M845 1737l-12-5l12 4l12 5zM857 1741l-12-5l12-6l12 3zM869 1733l-12-3l9-3l12 1z"/><path class="ea" d="M878 1728l-12-1l6 5l12 1z"/><path class="va" d="M884 1733l-12-1l6 9l12 1z"/><path class="Oa" d="M890 1742l-12-1l10 26l12-2z"/><path class="jc" d="M900 1765l-12 2l11 31l13-3z"/><path class="Zb" d="M912 1795l-13 3l11 17l12-3z"/><path class="X" d="M922 1812l-12 3l10 7l12-3z"/><path class="c" d="M932 1819l-12 3l9 1l12-3zM941 1820l-12 3l8-1l12-3z"/><path class="X" d="M949 1819l-12 3l6 2l12-3z"/><path class="Rb" d="M955 1821l-12 3l4 5l12-3z"/><path class="ba" d="M959 1826l-12 3l2 4l12-3z"/><path class="c" d="M485 1536l-12 2l3 0l12-3z"/><path class="x" d="M488 1535l-12 3l4 3l12-3z"/><path class="h" d="M492 1538l-12 3l6 9l12-2z"/><path class="Pa" d="M498 1548l-12 2l8 14l12-2z"/><path class="i" d="M506 1562l-12 2l8 14l13-3z"/><path class="x" d="M515 1575l-13 3l10 6l12-3z"/><path class="c" d="M524 1581l-12 3l11-7l12-3zM535 1574l-12 3l12-34l12 9zM547 1552l-12-9l9-20l13 8zM557 1531l-13-8l7-3l12 7zM563 1527l-12-7l6 4l12 9z"/><path class="ka" d="M569 1533l-12-9l9 16l12 14z"/><path class="ea" d="M578 1554l-12-14l12 20l12 20z"/><path class="c k1" d="M590 1580l-12-20l11 11l12 21zM601 1592l-12-21l12-2l12 19zM613 1588l-12-19l11-13l13 14zM625 1570l-13-14l10-10l12 9zM634 1555l-12-9l6-1l12 8z"/><path class="ea k1" d="M640 1553l-12-8l6 6l12 10z"/><path class="ka" d="M646 1561l-12-10l9 19l13 14z"/><path class="ea" d="M656 1584l-13-14l12 22l12 20z"/><path class="c k1" d="M667 1612l-12-20l12 13l12 22zM679 1627l-12-22l11-1l12 20zM690 1624l-12-20l12-10l12 14zM702 1608l-12-14l9-9l12 9zM711 1594l-12-9l6 0l12 8z"/><path class="ea k1" d="M717 1593l-12-8l6 7l13 10z"/><path class="Da" d="M724 1602l-13-10l10 20l12 14z"/><path class="ea" d="M733 1626l-12-14l11 24l12 20z"/><path class="c k1" d="M744 1656l-12-20l12 14l12 22zM756 1672l-12-22l12 2l12 19zM768 1671l-12-19l11-8l12 14zM779 1658l-12-14l9-5l13 8zM789 1647l-13-8l7 1l12 8z"/><path class="ea" d="M795 1648l-12-8l6 9l12 9z"/><path class="Da" d="M801 1658l-12-9l9 21l12 13z"/><path class="f" d="M810 1683l-12-13l12 26l12 18z"/><path class="c k1" d="M822 1714l-12-18l11 17l12 19zM833 1732l-12-19l12 7l12 16zM845 1736l-12-16l11-1l13 11zM857 1730l-13-11l10 2l12 6z"/><path class="ea" d="M866 1727l-12-6l6 6l12 5z"/><path class="e" d="M872 1732l-12-5l6 9l12 5z"/><path class="fa" d="M878 1741l-12-5l9 26l13 5z"/><path class="Xb" d="M888 1767l-13-5l12 39l12-3z"/><path class="Zb" d="M899 1798l-12 3l11 18l12-4z"/><path class="da" d="M910 1815l-12 4l10 7l12-4z"/><path class="d" d="M920 1822l-12 4l9 0l12-3z"/><path class="c" d="M929 1823l-12 3l7 0l13-4z"/><path class="X" d="M937 1822l-13 4l7 1l12-3z"/><path class="Rb" d="M943 1824l-12 3l4 5l12-3z"/><path class="ba" d="M947 1829l-12 3l2 4l12-3z"/><path class="c" d="M473 1538l-9 2l2 0l10-2z"/><path class="x" d="M476 1538l-10 2l4 3l10-2z"/><path class="y" d="M480 1541l-10 2l6 9l10-2z"/><path class="ra" d="M486 1550l-10 2l8 15l10-3z"/><path class="i" d="M494 1564l-10 3l9 14l9-3z"/><path class="x" d="M502 1578l-9 3l10 6l9-3z"/><path class="c" d="M512 1584l-9 3l11-11l9 1zM523 1577l-9-1l11-41l10 8zM535 1543l-10-8l10-20l9 8zM544 1523l-9-8l6-2l10 7zM551 1520l-10-7l6 3l10 8z"/><path class="ea k1" d="M557 1524l-10-8l9 12l10 12z"/><path class="c k1" d="M566 1540l-10-12l12 15l10 17zM578 1560l-10-17l12 8l9 20zM589 1571l-9-20l11 0l10 18zM601 1569l-10-18l12-8l9 13zM612 1556l-9-13l9-5l10 8zM622 1546l-10-8l6 0l10 7zM628 1545l-10-7l6 5l10 8z"/><path class="ea" d="M634 1551l-10-8l10 14l9 13z"/><path class="c k1" d="M643 1570l-9-13l11 17l10 18zM655 1592l-10-18l12 11l10 20zM667 1605l-10-20l12 1l9 18zM678 1604l-9-18l11-5l10 13zM690 1594l-10-13l9-4l10 8zM699 1585l-10-8l7 1l9 7zM705 1585l-9-7l6 6l9 8z"/><path class="ea" d="M711 1592l-9-8l9 15l10 13z"/><path class="c k1" d="M721 1612l-10-13l12 20l9 17zM732 1636l-9-17l11 12l10 19zM744 1650l-10-19l12 4l10 17zM756 1652l-10-17l11-3l10 12zM767 1644l-10-12l10-1l9 8zM776 1639l-9-8l6 3l10 6z"/><path class="ea k1" d="M783 1640l-10-6l6 7l10 8z"/><path class="ka" d="M789 1649l-10-8l9 18l10 11z"/><path class="ea" d="M798 1670l-10-11l12 21l10 16z"/><path class="c k1" d="M810 1696l-10-16l12 16l9 17zM821 1713l-9-17l11 9l10 15zM833 1720l-10-15l12 5l9 9zM844 1719l-9-9l9 5l10 6z"/><path class="ea" d="M854 1721l-10-6l6 7l10 5z"/><path class="x" d="M860 1727l-10-5l6 8l10 6z"/><path class="ra" d="M866 1736l-10-6l10 26l9 6z"/><path class="Ya" d="M875 1762l-9-6l12 45l9 0z"/><path class="Zb" d="M887 1801l-9 0l11 20l9-2z"/><path class="da" d="M898 1819l-9 2l9 7l10-2z"/><path class="d" d="M908 1826l-10 2l9 1l10-3z"/><path class="c" d="M917 1826l-10 3l8-1l9-2z"/><path class="X" d="M924 1826l-9 2l6 2l10-3z"/><path class="Z" d="M931 1827l-10 3l4 5l10-3z"/><path class="Zb" d="M935 1832l-10 3l3 4l9-3z"/><path class="c" d="M464 1540l-7 2l2-1l7-1z"/><path class="x" d="M466 1540l-7 1l5 3l6-1z"/><path class="y" d="M470 1543l-6 1l6 10l6-2z"/><path class="fa" d="M476 1552l-6 2l8 14l6-1z"/><path class="i" d="M484 1567l-6 1l8 14l7-1z"/><path class="x" d="M493 1581l-7 1l10 6l7-1z"/><path class="c" d="M503 1587l-7 1l11-12l7 0zM514 1576l-7 0l12-42l6 1zM525 1535l-6-1l9-20l7 1zM535 1515l-7-1l6-2l7 1z"/><path class="ea" d="M541 1513l-7-1l7 3l6 1zM547 1516l-6-1l9 10l6 3zM556 1528l-6-3l12 14l6 4z"/><path class="c k1" d="M568 1543l-6-4l11 7l7 5zM580 1551l-7-5l12 1l6 4zM591 1551l-6-4l11-6l7 2zM603 1543l-7-2l10-5l6 2zM612 1538l-6-2l6 1l6 1z"/><path class="ea" d="M618 1538l-6-1l6 5l6 1z"/><path class="ka" d="M624 1543l-6-1l9 12l7 3z"/><path class="ea" d="M634 1557l-7-3l12 16l6 4z"/><path class="c k1" d="M645 1574l-6-4l11 10l7 5zM657 1585l-7-5l12 2l7 4zM669 1586l-7-4l12-4l6 3zM680 1581l-6-3l9-3l6 2zM689 1577l-6-2l6 2l7 1z"/><path class="ea" d="M696 1578l-7-1l6 6l7 1z"/><path class="ka" d="M702 1584l-7-1l10 14l6 2zM711 1599l-6-2l11 18l7 4z"/><path class="ea k1" d="M723 1619l-7-4l12 11l6 5z"/><path class="c k1" d="M734 1631l-6-5l11 5l7 4zM746 1635l-7-4l12-1l6 2zM757 1632l-6-2l9-1l7 2zM767 1631l-7-2l6 3l7 2z"/><path class="ka" d="M773 1634l-7-2l7 8l6 1z"/><path class="Da" d="M779 1641l-6-1l9 16l6 3z"/><path class="f" d="M788 1659l-6-3l12 21l6 3z"/><path class="ea" d="M800 1680l-6-3l11 15l7 4z"/><path class="c k1" d="M812 1696l-7-4l12 10l6 3zM823 1705l-6-3l11 6l7 2z"/><path class="Ma k1" d="M835 1710l-7-2l10 6l6 1z"/><path class="f" d="M844 1715l-6-1l6 7l6 1zM850 1722l-6-1l6 9l6 0z"/><path class="Ha" d="M856 1730l-6 0l9 25l7 1z"/><path class="Ib" d="M866 1756l-7-1l12 46l7 0z"/><path class="m" d="M878 1801l-7 0l11 22l7-2z"/><path class="e" d="M889 1821l-7 2l10 7l6-2z"/><path class="d" d="M898 1828l-6 2l9 1l6-2z"/><path class="c" d="M907 1829l-6 2l7-1l7-2z"/><path class="X" d="M915 1828l-7 2l6 2l7-2z"/><path class="Z" d="M921 1830l-7 2l5 5l6-2z"/><path class="qd" d="M925 1835l-6 2l2 3l7-1z"/><path class="c" d="M457 1542l-6 1l2 0l6-2z"/><path class="x" d="M459 1541l-6 2l4 3l7-2z"/><path class="y" d="M464 1544l-7 2l7 10l6-2z"/><path class="fa" d="M470 1554l-6 2l7 14l7-2z"/><path class="y" d="M478 1568l-7 2l9 14l6-2z"/><path class="x" d="M486 1582l-6 2l10 6l6-2z"/><path class="c" d="M496 1588l-6 2l11-10l6-4zM507 1576l-6 4l12-42l6-4zM519 1534l-6 4l9-20l6-4zM528 1514l-6 4l6-3l6-3z"/><path class="ka" d="M534 1512l-6 3l6 4l7-4z"/><path class="ia" d="M541 1515l-7 4l9 12l7-6z"/><path class="ja" d="M550 1525l-7 6l12 14l7-6z"/><path class="ia" d="M562 1539l-7 6l12 9l6-8z"/><path class="ka" d="M573 1546l-6 8l11 0l7-7z"/><path class="ea k1" d="M585 1547l-7 7l12-8l6-5z"/><path class="c k1" d="M596 1541l-6 5l9-6l7-4z"/><path class="ea" d="M606 1536l-7 4l6 1l7-4z"/><path class="ma" d="M612 1537l-7 4l7 5l6-4z"/><path class="Fb" d="M618 1542l-6 4l9 14l6-6z"/><path class="la" d="M627 1554l-6 6l11 17l7-7z"/><path class="ia" d="M639 1570l-7 7l12 11l6-8z"/><path class="ka" d="M650 1580l-6 8l12 1l6-7z"/><path class="ea k1" d="M662 1582l-6 7l11-5l7-6z"/><path class="c k1" d="M674 1578l-7 6l9-5l7-4z"/><path class="ea" d="M683 1575l-7 4l7 1l6-3z"/><path class="ma" d="M689 1577l-6 3l6 7l6-4z"/><path class="la" d="M695 1583l-6 4l9 15l7-5zM705 1597l-7 5l12 19l6-6z"/><path class="ja" d="M716 1615l-6 6l11 12l7-7z"/><path class="Da" d="M728 1626l-7 7l12 4l6-6z"/><path class="ea" d="M739 1631l-6 6l12-2l6-5z"/><path class="ea k1" d="M751 1630l-6 5l9-2l6-4z"/><path class="ka" d="M760 1629l-6 4l6 3l6-4z"/><path class="ia" d="M766 1632l-6 4l6 8l7-4z"/><path class="la" d="M773 1640l-7 4l9 17l7-5z"/><path class="pa" d="M782 1656l-7 5l12 22l7-6z"/><path class="ra" d="M794 1677l-7 6l12 16l6-7z"/><path class="oa" d="M805 1692l-6 7l11 9l7-6z"/><path class="f" d="M817 1702l-7 6l12 4l6-4zM828 1708l-6 4l9 5l7-3z"/><path class="oa" d="M838 1714l-7 3l6 8l7-4z"/><path class="y" d="M844 1721l-7 4l7 8l6-3z"/><path class="qb" d="M850 1730l-6 3l9 26l6-4z"/><path class="Ia" d="M859 1755l-6 4l12 46l6-4z"/><path class="D" d="M871 1801l-6 4l11 20l6-2z"/><path class="e" d="M882 1823l-6 2l10 7l6-2z"/><path class="d" d="M892 1830l-6 2l8 1l7-2z"/><path class="c" d="M901 1831l-7 2l8-1l6-2z"/><path class="X" d="M908 1830l-6 2l6 2l6-2z"/><path class="Z" d="M914 1832l-6 2l4 5l7-2z"/><path class="qd" d="M919 1837l-7 2l3 3l6-2z"/><path class="c" d="M451 1543l-10 3l2 0l10-3z"/><path class="x" d="M453 1543l-10 3l5 3l9-3z"/><path class="y" d="M457 1546l-9 3l6 9l10-2z"/><path class="fa" d="M464 1556l-10 2l7 15l10-3z"/><path class="y" d="M471 1570l-10 3l9 14l10-3z"/><path class="x" d="M480 1584l-10 3l10 6l10-3z"/><path class="c" d="M490 1590l-10 3l11-8l10-5zM501 1580l-10 5l12-34l10-13zM513 1538l-10 13l9-21l10-12z"/><path class="ea" d="M522 1518l-10 12l6-4l10-11z"/><path class="ia" d="M528 1515l-10 11l7 5l9-12z"/><path class="hb" d="M534 1519l-9 12l9 16l9-16z"/><path class="xa" d="M543 1531l-9 16l11 21l10-23z"/><path class="wa" d="M555 1545l-10 23l12 10l10-24z"/><path class="Ob" d="M567 1554l-10 24l12-2l9-22z"/><path class="ka" d="M578 1554l-9 22l11-13l10-17z"/><path class="ea" d="M590 1546l-10 17l9-10l10-13z"/><path class="ka" d="M599 1540l-10 13l7-1l9-11z"/><path class="Fb" d="M605 1541l-9 11l6 6l10-12z"/><path class="Ab" d="M612 1546l-10 12l9 19l10-17z"/><path class="xa" d="M621 1560l-10 17l12 23l9-23z"/><path class="Ta" d="M632 1577l-9 23l11 13l10-25z"/><path class="la" d="M644 1588l-10 25l12-1l10-23z"/><path class="ka" d="M656 1589l-10 23l12-11l9-17z"/><path class="ea" d="M667 1584l-9 17l9-9l9-13z"/><path class="rd" d="M676 1579l-9 13l6 0l10-12z"/><path class="la" d="M683 1580l-10 12l6 7l10-12z"/><path class="sd" d="M689 1587l-10 12l9 20l10-17z"/><path class="xa" d="M698 1602l-10 17l12 25l10-23z"/><path class="Ta" d="M710 1621l-10 23l12 14l9-25z"/><path class="za" d="M721 1633l-9 25l11 1l10-22z"/><path class="Da" d="M733 1637l-10 22l12-8l10-16z"/><path class="ka" d="M745 1635l-10 16l9-6l10-12z"/><path class="ma" d="M754 1633l-10 12l6 1l10-10z"/><path class="la" d="M760 1636l-10 10l7 9l9-11z"/><path class="Ta" d="M766 1644l-9 11l9 22l9-16z"/><path class="wb" d="M775 1661l-9 16l11 26l10-20z"/><path class="ya" d="M787 1683l-10 20l12 18l10-22z"/><path class="tb" d="M799 1699l-10 22l12 6l9-19z"/><path class="y" d="M810 1708l-9 19l11 0l10-15z"/><path class="Da" d="M822 1712l-10 15l9 1l10-11z"/><path class="Bb" d="M831 1717l-10 11l7 6l9-9z"/><path class="qa" d="M837 1725l-9 9l6 9l10-10z"/><path class="Fa" d="M844 1733l-10 10l9 27l10-11z"/><path class="Dc" d="M853 1759l-10 11l12 40l10-5z"/><path class="m" d="M865 1805l-10 5l11 18l10-3z"/><path class="e" d="M876 1825l-10 3l10 8l10-4z"/><path class="d" d="M886 1832l-10 4l9 0l9-3z"/><path class="c" d="M894 1833l-9 3l7-1l10-3z"/><path class="X" d="M902 1832l-10 3l6 2l10-3z"/><path class="Z" d="M908 1834l-10 3l5 5l9-3z"/><path class="qd" d="M912 1839l-9 3l2 4l10-4z"/><path class="c" d="M441 1546l-12 4l2 0l12-4z"/><path class="x" d="M443 1546l-12 4l5 3l12-4z"/><path class="y" d="M448 1549l-12 4l6 9l12-4z"/><path class="fa" d="M454 1558l-12 4l7 15l12-4z"/><path class="y" d="M461 1573l-12 4l9 14l12-4z"/><path class="x" d="M470 1587l-12 4l10 6l12-4z"/><path class="c" d="M480 1593l-12 4l11-8l12-4zM491 1585l-12 4l12-23l12-15zM503 1551l-12 15l9-22l12-14z"/><path class="ea" d="M512 1530l-12 14l6-4l12-14z"/><path class="ja" d="M518 1526l-12 14l6 6l13-15z"/><path class="Ta" d="M525 1531l-13 15l10 21l12-20z"/><path class="wb" d="M534 1547l-12 20l11 27l12-26z"/><path class="Jb" d="M545 1568l-12 26l12 13l12-29z"/><path class="y" d="M557 1578l-12 29l11-4l13-27z"/><path class="ea k1" d="M569 1576l-13 27l12-19l12-21z"/><path class="c k1" d="M580 1563l-12 21l9-16l12-15z"/><path class="ea" d="M589 1553l-12 15l7-2l12-14z"/><path class="la" d="M596 1552l-12 14l6 8l12-16z"/><path class="xa" d="M602 1558l-12 16l9 24l12-21z"/><path class="Aa" d="M611 1577l-12 21l12 30l12-28z"/><path class="ya" d="M623 1600l-12 28l11 14l12-29z"/><path class="ra" d="M634 1613l-12 29l12-3l12-27z"/><path class="ea" d="M646 1612l-12 27l11-18l13-20z"/><path class="c k1" d="M658 1601l-13 20l10-14l12-15z"/><path class="ka" d="M667 1592l-12 15l6-1l12-14z"/><path class="la" d="M673 1592l-12 14l6 8l12-15z"/><path class="xa" d="M679 1599l-12 15l9 25l12-20z"/><path class="Ca" d="M688 1619l-12 20l12 31l12-26z"/><path class="ya" d="M700 1644l-12 26l12 16l12-28z"/><path class="ra" d="M712 1658l-12 28l11-1l12-26z"/><path class="ea" d="M723 1659l-12 26l12-15l12-19z"/><path class="ea k1" d="M735 1651l-12 19l9-11l12-14z"/><path class="ka" d="M744 1645l-12 14l6 0l12-13z"/><path class="la" d="M750 1646l-12 13l6 10l13-14z"/><path class="xa" d="M757 1655l-13 14l10 26l12-18z"/><path class="Ea" d="M766 1677l-12 18l11 33l12-25z"/><path class="qb" d="M777 1703l-12 25l12 18l12-25z"/><path class="Za" d="M789 1721l-12 25l11 4l13-23z"/><path class="f" d="M801 1727l-13 23l12-6l12-17zM812 1727l-12 17l9-4l12-12z"/><path class="y" d="M821 1728l-12 12l7 5l12-11z"/><path class="Ha" d="M828 1734l-12 11l6 10l12-12z"/><path class="sa" d="M834 1743l-12 12l9 27l12-12z"/><path class="td" d="M843 1770l-12 12l12 32l12-4z"/><path class="m" d="M855 1810l-12 4l11 19l12-5z"/><path class="e" d="M866 1828l-12 5l10 7l12-4z"/><path class="d" d="M876 1836l-12 4l8 0l13-4z"/><path class="c" d="M885 1836l-13 4l8 0l12-5z"/><path class="X" d="M892 1835l-12 5l6 2l12-5z"/><path class="Z" d="M898 1837l-12 5l5 4l12-4z"/><path class="m" d="M903 1842l-12 4l2 4l12-4z"/><path class="c" d="M429 1550l-12 4l2 0l12-4z"/><path class="zb" d="M431 1550l-12 4l4 3l13-4z"/><path class="y" d="M436 1553l-13 4l7 10l12-5z"/><path class="fa" d="M442 1562l-12 5l7 15l12-5z"/><path class="y" d="M449 1577l-12 5l9 14l12-5z"/><path class="x" d="M458 1591l-12 5l10 6l12-5z"/><path class="c" d="M468 1597l-12 5l11-8l12-5zM479 1589l-12 5l12-24l12-4zM491 1566l-12 4l9-19l12-7zM500 1544l-12 7l6-4l12-7z"/><path class="Da" d="M506 1540l-12 7l6 7l12-8z"/><path class="jb" d="M512 1546l-12 8l10 23l12-10z"/><path class="Sa" d="M522 1567l-12 10l11 30l12-13z"/><path class="ra" d="M533 1594l-12 13l12 14l12-14z"/><path class="ea" d="M545 1607l-12 14l11-5l12-13z"/><path class="c k1" d="M556 1603l-12 13l12-22l12-10zM568 1584l-12 10l9-17l12-9zM577 1568l-12 9l6-3l13-8z"/><path class="ia" d="M584 1566l-13 8l7 8l12-8z"/><path class="Ta" d="M590 1574l-12 8l9 27l12-11z"/><path class="ya" d="M599 1598l-12 11l11 32l13-13z"/><path class="qa" d="M611 1628l-13 13l12 15l12-14z"/><path class="ea" d="M622 1642l-12 14l12-4l12-13z"/><path class="c k1" d="M634 1639l-12 13l11-20l12-11zM645 1621l-12 11l10-17l12-8z"/><path class="ea k1" d="M655 1607l-12 8l6-1l12-8z"/><path class="ja" d="M661 1606l-12 8l6 9l12-9z"/><path class="Ta" d="M667 1614l-12 9l9 26l12-10z"/><path class="ya" d="M676 1639l-12 10l12 34l12-13z"/><path class="Ha" d="M688 1670l-12 13l11 17l13-14z"/><path class="x" d="M700 1686l-13 14l12-3l12-12z"/><path class="c k1" d="M711 1685l-12 12l12-17l12-10zM723 1670l-12 10l9-14l12-7z"/><path class="ea" d="M732 1659l-12 7l6 0l12-7z"/><path class="ja" d="M738 1659l-12 7l6 10l12-7z"/><path class="ya" d="M744 1669l-12 7l10 29l12-10z"/><path class="La" d="M754 1695l-12 10l11 34l12-11z"/><path class="Ha" d="M765 1728l-12 11l12 19l12-12z"/><path class="f" d="M777 1746l-12 12l11 3l12-11z"/><path class="c k1" d="M788 1750l-12 11l12-9l12-8zM800 1744l-12 8l9-5l12-7z"/><path class="f" d="M809 1740l-12 7l6 5l13-7z"/><path class="Pa" d="M816 1745l-13 7l7 9l12-6z"/><path class="Ga" d="M822 1755l-12 6l9 25l12-4z"/><path class="Yb" d="M831 1782l-12 4l12 32l12-4z"/><path class="m" d="M843 1814l-12 4l11 19l12-4z"/><path class="Rb" d="M854 1833l-12 4l10 7l12-4z"/><path class="X" d="M864 1840l-12 4l8 1l12-5z"/><path class="c" d="M872 1840l-12 5l8-1l12-4z"/><path class="X" d="M880 1840l-12 4l6 2l12-4z"/><path class="Z" d="M886 1842l-12 4l5 5l12-5z"/><path class="m" d="M891 1846l-12 5l2 4l12-5z"/><path class="c" d="M417 1554l-12 5l2 0l12-5z"/><path class="f" d="M419 1554l-12 5l4 3l12-5z"/><path class="y" d="M423 1557l-12 5l7 10l12-5z"/><path class="fa" d="M430 1567l-12 5l7 14l12-4z"/><path class="y" d="M437 1582l-12 4l9 14l12-4z"/><path class="e" d="M446 1596l-12 4l10 6l12-4z"/><path class="c" d="M456 1602l-12 4l11-8l12-4zM467 1594l-12 4l12-23l12-5zM479 1570l-12 5l9-22l12-2zM488 1551l-12 2l6-5l12-1z"/><path class="ka" d="M494 1547l-12 1l6 6l12 0z"/><path class="Ob" d="M500 1554l-12 0l9 22l13 1z"/><path class="ra" d="M510 1577l-13-1l12 27l12 4z"/><path class="x" d="M521 1607l-12-4l12 14l12 4z"/><path class="c k1" d="M533 1621l-12-4l11-5l12 4zM544 1616l-12-4l12-19l12 1zM556 1594l-12-1l9-15l12-1zM565 1577l-12 1l6-2l12-2z"/><path class="ma" d="M571 1574l-12 2l7 7l12-1z"/><path class="Sb" d="M578 1582l-12 1l9 25l12 1z"/><path class="qa" d="M587 1609l-12-1l11 29l12 4z"/><path class="zb" d="M598 1641l-12-4l12 15l12 4z"/><path class="c k1" d="M610 1656l-12-4l12-3l12 3zM622 1652l-12-3l11-18l12 1zM633 1632l-12-1l9-15l13-1zM643 1615l-13 1l7-1l12-1z"/><path class="ma" d="M649 1614l-12 1l6 8l12 0z"/><path class="ib" d="M655 1623l-12 0l9 25l12 1z"/><path class="za" d="M664 1649l-12-1l12 31l12 4z"/><path class="f" d="M676 1683l-12-4l11 16l12 5z"/><path class="c k1" d="M687 1700l-12-5l12-1l12 3zM699 1697l-12-3l12-15l12 1zM711 1680l-12-1l9-12l12-1zM720 1666l-12 1l6 0l12-1z"/><path class="Da" d="M726 1666l-12 1l6 10l12-1z"/><path class="pa" d="M732 1676l-12 1l9 26l13 2z"/><path class="Ha" d="M742 1705l-13-2l12 32l12 4z"/><path class="f" d="M753 1739l-12-4l12 19l12 4z"/><path class="c k1" d="M765 1758l-12-4l11 4l12 3zM776 1761l-12-3l12-6l12 0zM788 1752l-12 0l9-4l12-1z"/><path class="x" d="M797 1747l-12 1l6 5l12-1z"/><path class="h" d="M803 1752l-12 1l7 10l12-2z"/><path class="Ga" d="M810 1761l-12 2l9 28l12-5z"/><path class="Yb" d="M819 1786l-12 5l12 32l12-5z"/><path class="m" d="M831 1818l-12 5l11 19l12-5z"/><path class="Rb" d="M842 1837l-12 5l9 7l13-5z"/><path class="X" d="M852 1844l-13 5l9 1l12-5z"/><path class="c" d="M860 1845l-12 5l8-1l12-5z"/><path class="X" d="M868 1844l-12 5l6 2l12-5z"/><path class="Z" d="M874 1846l-12 5l4 5l13-5z"/><path class="m" d="M879 1851l-13 5l3 4l12-5z"/><path class="c" d="M405 1559l-12 6l2 0l12-6z"/><path class="f" d="M407 1559l-12 6l4 2l12-5z"/><path class="y" d="M411 1562l-12 5l6 10l13-5z"/><path class="Za" d="M418 1572l-13 5l8 15l12-6z"/><path class="Pa" d="M425 1586l-12 6l9 14l12-6z"/><path class="e" d="M434 1600l-12 6l10 6l12-6z"/><path class="c" d="M444 1606l-12 6l11-8l12-6zM455 1598l-12 6l11-35l13 6zM467 1575l-13-6l10-22l12 6zM476 1553l-12-6l6-3l12 4z"/><path class="ea" d="M482 1548l-12-4l6 5l12 5z"/><path class="Ba" d="M488 1554l-12-5l9 16l12 11z"/><path class="ea" d="M497 1576l-12-11l12 21l12 17z"/><path class="c k1" d="M509 1603l-12-17l12 11l12 20zM521 1617l-12-20l11-2l12 17zM532 1612l-12-17l12-12l12 10zM544 1593l-12-10l9-11l12 6zM553 1578l-12-6l6-1l12 5z"/><path class="ea" d="M559 1576l-12-5l6 7l13 5z"/><path class="Da" d="M566 1583l-13-5l10 19l12 11z"/><path class="ka" d="M575 1608l-12-11l11 23l12 17z"/><path class="c k1" d="M586 1637l-12-17l12 13l12 19zM598 1652l-12-19l11-1l13 17zM610 1649l-13-17l12-12l12 11zM621 1631l-12-11l9-9l12 5zM630 1616l-12-5l7 0l12 4z"/><path class="ea" d="M637 1615l-12-4l6 7l12 5z"/><path class="ia" d="M643 1623l-12-5l9 19l12 11z"/><path class="f" d="M652 1648l-12-11l12 25l12 17z"/><path class="c k1" d="M664 1679l-12-17l11 13l12 20zM675 1695l-12-20l12 1l12 18zM687 1694l-12-18l11-9l13 12zM699 1679l-13-12l10-7l12 7zM708 1667l-12-7l6 2l12 5z"/><path class="ka" d="M714 1667l-12-5l6 9l12 6z"/><path class="ia" d="M720 1677l-12-6l9 21l12 11z"/><path class="Ba" d="M729 1703l-12-11l12 27l12 16z"/><path class="c k1" d="M741 1735l-12-16l12 17l12 18zM753 1754l-12-18l11 7l12 15zM764 1758l-12-15l12-1l12 10zM776 1752l-12-10l9 1l12 5z"/><path class="ea" d="M785 1748l-12-5l6 7l12 3z"/><path class="f" d="M791 1753l-12-3l6 9l13 4z"/><path class="Ha" d="M798 1763l-13-4l10 28l12 4z"/><path class="Yb" d="M807 1791l-12-4l12 41l12-5z"/><path class="m" d="M819 1823l-12 5l11 19l12-5z"/><path class="Rb" d="M830 1842l-12 5l9 7l12-5z"/><path class="X" d="M839 1849l-12 5l9 1l12-5z"/><path class="d" d="M848 1850l-12 5l8 0l12-6z"/><path class="X" d="M856 1849l-12 6l6 2l12-6z"/><path class="Z" d="M862 1851l-12 6l4 5l12-6z"/><path class="m" d="M866 1856l-12 6l3 3l12-5z"/><path class="c" d="M393 1565l-10 5l2 0l10-5z"/><path class="f" d="M395 1565l-10 5l5 2l9-5z"/><path class="y" d="M399 1567l-9 5l6 10l9-5z"/><path class="Za" d="M405 1577l-9 5l7 15l10-5z"/><path class="A" d="M413 1592l-10 5l9 13l10-4z"/><path class="e" d="M422 1606l-10 4l10 6l10-4z"/><path class="c" d="M432 1612l-10 4l11-11l10-1zM443 1604l-10 1l12-42l9 6zM454 1569l-9-6l9-20l10 4zM464 1547l-10-4l6-3l10 4zM470 1544l-10-4l6 4l10 5z"/><path class="ea" d="M476 1549l-10-5l10 12l9 9z"/><path class="c k1" d="M485 1565l-9-9l11 15l10 15zM497 1586l-10-15l12 9l10 17zM509 1597l-10-17l11 0l10 15zM520 1595l-10-15l12-7l10 10zM532 1583l-10-10l9-6l10 5zM541 1572l-10-5l7 1l9 3z"/><path class="ea k1" d="M547 1571l-9-3l6 5l9 5z"/><path class="ka" d="M553 1578l-9-5l9 14l10 10z"/><path class="ea k1" d="M563 1597l-10-10l12 18l9 15z"/><path class="c k1" d="M574 1620l-9-15l11 10l10 18zM586 1633l-10-18l12 2l9 15zM597 1632l-9-15l11-6l10 9zM609 1620l-10-9l10-5l9 5zM618 1611l-9-5l6 1l10 4z"/><path class="ea" d="M625 1611l-10-4l6 6l10 5z"/><path class="ka" d="M631 1618l-10-5l9 15l10 9z"/><path class="ea k1" d="M640 1637l-10-9l12 18l10 16z"/><path class="c k1" d="M652 1662l-10-16l12 12l9 17zM663 1675l-9-17l11 3l10 15zM675 1676l-10-15l12-3l9 9zM686 1667l-9-9l9-3l10 5zM696 1660l-10-5l6 3l10 4z"/><path class="ea" d="M702 1662l-10-4l6 7l10 6z"/><path class="ka" d="M708 1671l-10-6l10 18l9 9z"/><path class="ea" d="M717 1692l-9-9l11 21l10 15z"/><path class="c k1" d="M729 1719l-10-15l12 16l10 16zM741 1736l-10-16l11 9l10 14zM752 1743l-10-14l12 5l10 8zM764 1742l-10-8l9 5l10 4z"/><path class="ea" d="M773 1743l-10-4l7 8l9 3z"/><path class="f" d="M779 1750l-9-3l6 9l9 3z"/><path class="Ha" d="M785 1759l-9-3l9 27l10 4z"/><path class="td" d="M795 1787l-10-4l12 47l10-2z"/><path class="m" d="M807 1828l-10 2l11 21l10-4z"/><path class="Rb" d="M818 1847l-10 4l10 8l9-5z"/><path class="X" d="M827 1854l-9 5l8 1l10-5z"/><path class="d" d="M836 1855l-10 5l8-1l10-4z"/><path class="X" d="M844 1855l-10 4l6 3l10-5z"/><path class="aa" d="M850 1857l-10 5l5 5l9-5z"/><path class="m" d="M854 1862l-9 5l2 3l10-5z"/><path class="c" d="M383 1570l-7 3l3 0l6-3z"/><path class="f" d="M385 1570l-6 3l4 3l7-4z"/><path class="y" d="M390 1572l-7 4l6 9l7-3z"/><path class="Za" d="M396 1582l-7 3l8 15l6-3z"/><path class="A" d="M403 1597l-6 3l9 14l6-4z"/><path class="e" d="M412 1610l-6 4l9 5l7-3z"/><path class="c" d="M422 1616l-7 3l11-13l7-1zM433 1605l-7 1l12-42l7-1zM445 1563l-7 1l10-20l6-1zM454 1543l-6 1l6-3l6-1z"/><path class="ea" d="M460 1540l-6 1l6 4l6-1z"/><path class="ka" d="M466 1544l-6 1l9 11l7 0zM476 1556l-7 0l12 13l6 2z"/><path class="ea k1" d="M487 1571l-6-2l11 9l7 2z"/><path class="c k1" d="M499 1580l-7-2l12 0l6 2zM510 1580l-6-2l12-5l6 0zM522 1573l-6 0l9-4l6-2zM531 1567l-6 2l6 0l7-1z"/><path class="ka" d="M538 1568l-7 1l6 5l7-1z"/><path class="ma" d="M544 1573l-7 1l10 13l6 0z"/><path class="ka" d="M553 1587l-6 0l11 16l7 2z"/><path class="ea k1" d="M565 1605l-7-2l12 10l6 2z"/><path class="c k1" d="M576 1615l-6-2l11 2l7 2zM588 1617l-7-2l12-4l6 0zM599 1611l-6 0l9-4l7-1z"/><path class="ea k1" d="M609 1606l-7 1l6 1l7-1z"/><path class="ka" d="M615 1607l-7 1l7 6l6-1z"/><path class="ma" d="M621 1613l-6 1l9 14l6 0zM630 1628l-6 0l11 17l7 1z"/><path class="ea" d="M642 1646l-7-1l12 11l7 2z"/><path class="c k1" d="M654 1658l-7-2l12 3l6 2zM665 1661l-6-2l11-2l7 1zM677 1658l-7-1l10-1l6-1z"/><path class="ea k1" d="M686 1655l-6 1l6 3l6-1z"/><path class="ka" d="M692 1658l-6 1l6 7l6-1z"/><path class="ia" d="M698 1665l-6 1l9 16l7 1z"/><path class="Da" d="M708 1683l-7-1l12 20l6 2z"/><path class="ha" d="M719 1704l-6-2l11 16l7 2z"/><path class="ea k1" d="M731 1720l-7-2l12 9l6 2z"/><path class="c k1" d="M742 1729l-6-2l12 7l6 0z"/><path class="ea" d="M754 1734l-6 0l9 6l6-1z"/><path class="Ba" d="M763 1739l-6 1l6 8l7-1z"/><path class="Da" d="M770 1747l-7 1l6 9l7-1z"/><path class="Xa" d="M776 1756l-7 1l10 27l6-1z"/><path class="Dc" d="M785 1783l-6 1l11 47l7-1z"/><path class="D" d="M797 1830l-7 1l11 23l7-3z"/><path class="Rb" d="M808 1851l-7 3l10 8l7-3z"/><path class="X" d="M818 1859l-7 3l9 1l6-3zM826 1860l-6 3l8 0l6-4zM834 1859l-6 4l6 2l6-3z"/><path class="aa" d="M840 1862l-6 3l4 5l7-3z"/><path class="m" d="M845 1867l-7 3l2 4l7-4z"/><path class="ea" d="M376 1573l-6 4l2 0l7-4z"/><path class="f" d="M379 1573l-7 4l5 3l6-4z"/><path class="ra" d="M383 1576l-6 4l6 9l6-4z"/><path class="Za" d="M389 1585l-6 4l7 14l7-3z"/><path class="A" d="M397 1600l-7 3l9 14l7-3z"/><path class="f" d="M406 1614l-7 3l10 6l6-4z"/><path class="c" d="M415 1619l-6 4l11-11l6-6zM426 1606l-6 6l12-42l6-6zM438 1564l-6 6l9-20l7-6z"/><path class="ea" d="M448 1544l-7 6l6-2l7-7z"/><path class="ma" d="M454 1541l-7 7l6 3l7-6z"/><path class="la" d="M460 1545l-7 6l10 12l6-7zM469 1556l-6 7l11 16l7-10z"/><path class="ja" d="M481 1569l-7 10l12 8l6-9z"/><path class="Da" d="M492 1578l-6 9l12 1l6-10z"/><path class="ea" d="M504 1578l-6 10l11-7l7-8zM516 1573l-7 8l9-5l7-7z"/><path class="ka" d="M525 1569l-7 7l7 0l6-7z"/><path class="gb" d="M531 1569l-6 7l6 5l6-7z"/><path class="hb" d="M537 1574l-6 7l9 15l7-9zM547 1587l-7 9l12 17l6-10z"/><path class="la" d="M558 1603l-6 10l11 10l7-10z"/><path class="Da" d="M570 1613l-7 10l12 2l6-10z"/><path class="ea" d="M581 1615l-6 10l11-6l7-8zM593 1611l-7 8l10-5l6-7z"/><path class="ka" d="M602 1607l-6 7l6 1l6-7z"/><path class="ud" d="M608 1608l-6 7l6 6l7-7z"/><path class="hb" d="M615 1614l-7 7l9 15l7-8zM624 1628l-7 8l12 18l6-9z"/><path class="la" d="M635 1645l-6 9l12 11l6-9z"/><path class="ia" d="M647 1656l-6 9l11 3l7-9z"/><path class="ka" d="M659 1659l-7 9l12-3l6-8z"/><path class="ea" d="M670 1657l-6 8l9-3l7-6z"/><path class="rd" d="M680 1656l-7 6l6 2l7-5z"/><path class="ja" d="M686 1659l-7 5l6 8l7-6z"/><path class="hb" d="M692 1666l-7 6l10 17l6-7z"/><path class="ib" d="M701 1682l-6 7l11 22l7-9z"/><path class="za" d="M713 1702l-7 9l12 15l6-8z"/><path class="Bb" d="M724 1718l-6 8l12 9l6-8z"/><path class="Da" d="M736 1727l-6 8l11 5l7-6zM748 1734l-7 6l9 5l7-5z"/><path class="Bb" d="M757 1740l-7 5l7 8l6-5z"/><path class="ra" d="M763 1748l-6 5l6 9l6-5z"/><path class="qb" d="M769 1757l-6 5l9 27l7-5z"/><path class="Ec" d="M779 1784l-7 5l12 47l6-5z"/><path class="gc" d="M790 1831l-6 5l11 21l6-3z"/><path class="Rb" d="M801 1854l-6 3l10 8l6-3z"/><path class="X" d="M811 1862l-6 3l9 1l6-3zM820 1863l-6 3l7 0l7-3zM828 1863l-7 3l6 3l7-4z"/><path class="aa" d="M834 1865l-7 4l5 5l6-4z"/><path class="m" d="M838 1870l-6 4l2 3l6-3z"/><path class="ea" d="M370 1577l-10 6l2 0l10-6z"/><path class="f" d="M372 1577l-10 6l5 3l10-6z"/><path class="ra" d="M377 1580l-10 6l6 9l10-6z"/><path class="Za" d="M383 1589l-10 6l8 14l9-6z"/><path class="A" d="M390 1603l-9 6l8 14l10-6z"/><path class="f" d="M399 1617l-10 6l10 6l10-6z"/><path class="c" d="M409 1623l-10 6l11-8l10-9zM420 1612l-10 9l12-34l10-17zM432 1570l-10 17l9-21l10-16z"/><path class="ka" d="M441 1550l-10 16l7-3l9-15z"/><path class="ja" d="M447 1548l-9 15l6 5l9-17z"/><path class="wa" d="M453 1551l-9 17l9 16l10-21z"/><path class="xa" d="M463 1563l-10 21l12 21l9-26z"/><path class="Ta" d="M474 1579l-9 26l11 11l10-29z"/><path class="pa" d="M486 1587l-10 29l12-2l10-26z"/><path class="Da" d="M498 1588l-10 26l11-12l10-21z"/><path class="ka" d="M509 1581l-10 21l10-10l9-16z"/><path class="ma" d="M518 1576l-9 16l6 0l10-16z"/><path class="hb" d="M525 1576l-10 16l6 6l10-17z"/><path class="sd" d="M531 1581l-10 17l9 19l10-21z"/><path class="Aa" d="M540 1596l-10 21l12 23l10-27z"/><path class="xa" d="M552 1613l-10 27l12 12l9-29z"/><path class="ib" d="M563 1623l-9 29l11-1l10-26z"/><path class="ia" d="M575 1625l-10 26l12-11l9-21z"/><path class="ka" d="M586 1619l-9 21l9-9l10-17z"/><path class="gb" d="M596 1614l-10 17l6 0l10-16z"/><path class="hb" d="M602 1615l-10 16l6 6l10-16z"/><path class="xa" d="M608 1621l-10 16l10 20l9-21z"/><path class="Aa" d="M617 1636l-9 21l11 23l10-26z"/><path class="wb" d="M629 1654l-10 26l12 13l10-28z"/><path class="ib" d="M641 1665l-10 28l12 1l9-26z"/><path class="ia" d="M652 1668l-9 26l11-9l10-20z"/><path class="ka" d="M664 1665l-10 20l9-7l10-16z"/><path class="ia" d="M673 1662l-10 16l7 1l9-15z"/><path class="hb" d="M679 1664l-9 15l6 8l9-15z"/><path class="xa" d="M685 1672l-9 15l9 21l10-19z"/><path class="Ca" d="M695 1689l-10 19l12 26l9-23z"/><path class="Fa" d="M706 1711l-9 23l11 17l10-25z"/><path class="Xa" d="M718 1726l-10 25l12 7l10-23z"/><path class="ra" d="M730 1735l-10 23l11-1l10-17z"/><path class="y" d="M741 1740l-10 17l10 1l9-13z"/><path class="za" d="M750 1745l-9 13l6 7l10-12z"/><path class="tb" d="M757 1753l-10 12l6 10l10-13z"/><path class="Ua" d="M763 1762l-10 13l9 28l10-14z"/><path class="kb" d="M772 1789l-10 14l12 41l10-8z"/><path class="D" d="M784 1836l-10 8l11 19l10-6z"/><path class="Rb" d="M795 1857l-10 6l10 7l10-5z"/><path class="X" d="M805 1865l-10 5l9 2l10-6zM814 1866l-10 6l7 0l10-6z"/><path class="e" d="M821 1866l-10 6l7 2l9-5z"/><path class="ba" d="M827 1869l-9 5l4 5l10-5z"/><path class="vd" d="M832 1874l-10 5l2 4l10-6z"/><path class="ea" d="M360 1583l-12 9l2 0l12-9z"/><path class="f" d="M362 1583l-12 9l5 2l12-8z"/><path class="fa" d="M367 1586l-12 8l6 9l12-8z"/><path class="Za" d="M373 1595l-12 8l8 14l12-8z"/><path class="A" d="M381 1609l-12 8l8 14l12-8z"/><path class="f" d="M389 1623l-12 8l10 5l12-7z"/><path class="c" d="M399 1629l-12 7l11-7l12-8zM410 1621l-12 8l12-23l12-19zM422 1587l-12 19l9-21l12-19z"/><path class="ea" d="M431 1566l-12 19l6-4l13-18z"/><path class="la" d="M438 1563l-13 18l7 6l12-19z"/><path class="xa" d="M444 1568l-12 19l9 21l12-24z"/><path class="Ca" d="M453 1584l-12 24l12 27l12-30z"/><path class="La" d="M465 1605l-12 30l11 13l12-32z"/><path class="qa" d="M476 1616l-12 32l12-3l12-31z"/><path class="zb" d="M488 1614l-12 31l11-18l12-25z"/><path class="ea k1" d="M499 1602l-12 25l10-14l12-21z"/><path class="Da" d="M509 1592l-12 21l6-2l12-19z"/><path class="hb" d="M515 1592l-12 19l6 8l12-21z"/><path class="Aa" d="M521 1598l-12 21l9 23l12-25z"/><path class="Ca" d="M530 1617l-12 25l12 29l12-31z"/><path class="La" d="M542 1640l-12 31l11 14l13-33z"/><path class="za" d="M554 1652l-13 33l12-3l12-31z"/><path class="f" d="M565 1651l-12 31l12-17l12-25z"/><path class="ea" d="M577 1640l-12 25l9-14l12-20z"/><path class="Da" d="M586 1631l-12 20l6-1l12-19z"/><path class="hb" d="M592 1631l-12 19l6 8l12-21z"/><path class="Aa" d="M598 1637l-12 21l10 24l12-25z"/><path class="Ca" d="M608 1657l-12 25l11 29l12-31z"/><path class="La" d="M619 1680l-12 31l12 15l12-33z"/><path class="Ha" d="M631 1693l-12 33l11-2l13-30z"/><path class="f" d="M643 1694l-13 30l12-15l12-24z"/><path class="ea" d="M654 1685l-12 24l9-12l12-19z"/><path class="Da" d="M663 1678l-12 19l6 0l13-18z"/><path class="ib" d="M670 1679l-13 18l7 9l12-19z"/><path class="Ca" d="M676 1687l-12 19l9 25l12-23z"/><path class="Ea" d="M685 1708l-12 23l12 31l12-28z"/><path class="Ua" d="M697 1734l-12 28l11 18l12-29z"/><path class="xb" d="M708 1751l-12 29l12 4l12-26z"/><path class="h" d="M720 1758l-12 26l11-6l12-21z"/><path class="Da" d="M731 1757l-12 21l10-4l12-16z"/><path class="ra" d="M741 1758l-12 16l6 6l12-15z"/><path class="Xa" d="M747 1765l-12 15l6 10l12-15z"/><path class="Qb" d="M753 1775l-12 15l9 28l12-15z"/><path class="eb" d="M762 1803l-12 15l12 33l12-7z"/><path class="D" d="M774 1844l-12 7l11 19l12-7z"/><path class="Z" d="M785 1863l-12 7l10 8l12-8z"/><path class="X" d="M795 1870l-12 8l9 1l12-7zM804 1872l-12 7l7 1l12-8z"/><path class="Rb" d="M811 1872l-12 8l6 3l13-9z"/><path class="ba" d="M818 1874l-13 9l5 5l12-9z"/><path class="O" d="M822 1879l-12 9l2 3l12-8z"/><path class="ea" d="M348 1592l-12 10l2 0l12-10z"/><path class="va" d="M350 1592l-12 10l5 2l12-10z"/><path class="fa" d="M355 1594l-12 10l6 9l12-10z"/><path class="Lb" d="M361 1603l-12 10l7 14l13-10z"/><path class="A" d="M369 1617l-13 10l9 13l12-9z"/><path class="f" d="M377 1631l-12 9l10 5l12-9z"/><path class="c" d="M387 1636l-12 9l11-7l12-9zM398 1629l-12 9l12-22l12-10zM410 1606l-12 10l9-18l12-13z"/><path class="ea" d="M419 1585l-12 13l6-3l12-14z"/><path class="ja" d="M425 1581l-12 14l7 6l12-14z"/><path class="ya" d="M432 1587l-12 14l9 23l12-16z"/><path class="La" d="M441 1608l-12 16l11 28l13-17z"/><path class="Ha" d="M453 1635l-13 17l12 14l12-18z"/><path class="f" d="M464 1648l-12 18l12-4l12-17z"/><path class="c k1" d="M476 1645l-12 17l11-19l12-16zM487 1627l-12 16l10-15l12-15z"/><path class="ea" d="M497 1613l-12 15l6-3l12-14z"/><path class="la" d="M503 1611l-12 14l6 8l12-14z"/><path class="ya" d="M509 1619l-12 14l9 25l12-16z"/><path class="Fa" d="M518 1642l-12 16l12 30l12-17z"/><path class="Ha" d="M530 1671l-12 17l11 15l12-18z"/><path class="f" d="M541 1685l-12 18l12-3l12-18z"/><path class="c k1" d="M553 1682l-12 18l12-19l12-16zM565 1665l-12 16l9-15l12-15z"/><path class="ea" d="M574 1651l-12 15l6-2l12-14z"/><path class="la" d="M580 1650l-12 14l6 8l12-14z"/><path class="ya" d="M586 1658l-12 14l9 25l13-15z"/><path class="Fa" d="M596 1682l-13 15l12 31l12-17z"/><path class="xb" d="M607 1711l-12 17l12 16l12-18z"/><path class="f" d="M619 1726l-12 18l11-3l12-17z"/><path class="c k1" d="M630 1724l-12 17l12-17l12-15zM642 1709l-12 15l9-13l12-14z"/><path class="ka" d="M651 1697l-12 14l6-1l12-13z"/><path class="za" d="M657 1697l-12 13l7 9l12-13z"/><path class="ya" d="M664 1706l-12 13l9 26l12-14z"/><path class="Ua" d="M673 1731l-12 14l11 32l13-15z"/><path class="Oa" d="M685 1762l-13 15l12 19l12-16z"/><path class="g" d="M696 1780l-12 16l12 3l12-15z"/><path class="ea k1" d="M708 1784l-12 15l11-9l12-12zM719 1778l-12 12l10-4l12-12z"/><path class="i" d="M729 1774l-12 12l6 5l12-11z"/><path class="Ha" d="M735 1780l-12 11l6 10l12-11z"/><path class="yb" d="M741 1790l-12 11l9 25l12-8z"/><path class="lc" d="M750 1818l-12 8l12 32l12-7z"/><path class="D" d="M762 1851l-12 7l11 19l12-7z"/><path class="aa" d="M773 1870l-12 7l10 9l12-8z"/><path class="X" d="M783 1878l-12 8l9 2l12-9zM792 1879l-12 9l7 1l12-9z"/><path class="Rb" d="M799 1880l-12 9l6 3l12-9z"/><path class="ca" d="M805 1883l-12 9l5 5l12-9z"/><path class="O" d="M810 1888l-12 9l2 3l12-9z"/><path class="x" d="M336 1602l-12 12l2-1l12-11z"/><path class="h" d="M338 1602l-12 11l5 3l12-12z"/><path class="fa" d="M343 1604l-12 12l6 8l12-11z"/><path class="ab" d="M349 1613l-12 11l7 13l12-10z"/><path class="B" d="M356 1627l-12 10l9 13l12-10z"/><path class="g" d="M365 1640l-12 10l10 5l12-10z"/><path class="c" d="M375 1645l-12 10l11-7l12-10zM386 1638l-12 10l12-21l12-11zM398 1616l-12 11l9-20l12-9zM407 1598l-12 9l6-4l12-8z"/><path class="Da" d="M413 1595l-12 8l6 6l13-8z"/><path class="tb" d="M420 1601l-13 8l10 21l12-6z"/><path class="Ha" d="M429 1624l-12 6l11 25l12-3z"/><path class="va" d="M440 1652l-12 3l12 13l12-2z"/><path class="c k1" d="M452 1666l-12 2l12-2l12-4zM464 1662l-12 4l11-17l12-6zM475 1643l-12 6l9-13l13-8z"/><path class="ea k1" d="M485 1628l-13 8l7-2l12-9z"/><path class="ia" d="M491 1625l-12 9l6 8l12-9z"/><path class="Jb" d="M497 1633l-12 9l9 22l12-6z"/><path class="Xa" d="M506 1658l-12 6l12 27l12-3z"/><path class="va" d="M518 1688l-12 3l11 14l12-2z"/><path class="c k1" d="M529 1703l-12 2l12-2l12-3zM541 1700l-12 3l11-16l13-6zM553 1681l-13 6l10-13l12-8z"/><path class="ea k1" d="M562 1666l-12 8l6-1l12-9z"/><path class="na" d="M568 1664l-12 9l6 8l12-9z"/><path class="Jb" d="M574 1672l-12 9l9 22l12-6z"/><path class="Xa" d="M583 1697l-12 6l12 28l12-3z"/><path class="h" d="M595 1728l-12 3l12 15l12-2z"/><path class="c k1" d="M607 1744l-12 2l11-2l12-3zM618 1741l-12 3l12-14l12-6zM630 1724l-12 6l9-11l12-8z"/><path class="ea" d="M639 1711l-12 8l6-1l12-8z"/><path class="Bb" d="M645 1710l-12 8l6 9l13-8z"/><path class="Jb" d="M652 1719l-13 8l10 24l12-6z"/><path class="db" d="M661 1745l-12 6l11 29l12-3z"/><path class="i" d="M672 1777l-12 3l12 17l12-1z"/><path class="d k1" d="M684 1796l-12 1l12 3l12-1z"/><path class="c k1" d="M696 1799l-12 1l11-5l12-5zM707 1790l-12 5l9-3l13-6z"/><path class="va" d="M717 1786l-13 6l7 6l12-7z"/><path class="fa" d="M723 1791l-12 7l6 10l12-7z"/><path class="yb" d="M729 1801l-12 7l9 28l12-10z"/><path class="ga" d="M738 1826l-12 10l12 31l12-9z"/><path class="D" d="M750 1858l-12 9l11 19l12-9z"/><path class="aa" d="M761 1877l-12 9l10 9l12-9z"/><path class="G" d="M771 1886l-12 9l9 2l12-9z"/><path class="X" d="M780 1888l-12 9l7 2l12-10z"/><path class="G" d="M787 1889l-12 10l6 3l12-10z"/><path class="o" d="M793 1892l-12 10l5 5l12-10z"/><path class="T" d="M798 1897l-12 10l2 4l12-11z"/><path class="x" d="M324 1614l-12 13l2 0l12-14z"/><path class="h" d="M326 1613l-12 14l5 2l12-13z"/><path class="Za" d="M331 1616l-12 13l6 8l12-13z"/><path class="ab" d="M337 1624l-12 13l7 13l12-13z"/><path class="B" d="M344 1637l-12 13l9 12l12-12z"/><path class="g" d="M353 1650l-12 12l10 5l12-12z"/><path class="c" d="M363 1655l-12 12l11-7l12-12zM374 1648l-12 12l12-30l12-3zM386 1627l-12 3l9-19l12-4zM395 1607l-12 4l6-3l12-5z"/><path class="f" d="M401 1603l-12 5l6 5l12-4z"/><path class="y" d="M407 1609l-12 4l10 15l12 2z"/><path class="Da" d="M417 1630l-12-2l11 20l12 7z"/><path class="c k1" d="M428 1655l-12-7l12 11l12 9zM440 1668l-12-9l11-1l13 8zM452 1666l-13-8l12-10l12 1zM463 1649l-12-1l9-8l12-4zM472 1636l-12 4l6 0l13-6z"/><path class="Da" d="M479 1634l-13 6l7 6l12-4z"/><path class="ra" d="M485 1642l-12 4l9 17l12 1z"/><path class="h" d="M494 1664l-12-1l12 21l12 7z"/><path class="d k1" d="M506 1691l-12-7l11 11l12 10z"/><path class="c k1" d="M517 1705l-12-10l12 1l12 7zM529 1703l-12-7l11-10l12 1zM540 1687l-12-1l10-8l12-4zM550 1674l-12 4l6 0l12-5z"/><path class="Da" d="M556 1673l-12 5l6 7l12-4z"/><path class="ra" d="M562 1681l-12 4l9 17l12 1z"/><path class="y" d="M571 1703l-12-1l12 22l12 7z"/><path class="ea k1" d="M583 1731l-12-7l11 12l13 10z"/><path class="c k1" d="M595 1746l-13-10l12 1l12 7zM606 1744l-12-7l12-8l12 1zM618 1730l-12-1l9-6l12-4z"/><path class="ea k1" d="M627 1719l-12 4l6 1l12-6z"/><path class="Da" d="M633 1718l-12 6l6 7l12-4z"/><path class="qa" d="M639 1727l-12 4l10 19l12 1z"/><path class="y" d="M649 1751l-12-1l11 24l12 6z"/><path class="x" d="M660 1780l-12-6l12 14l12 9z"/><path class="c k1" d="M672 1797l-12-9l11 6l13 6zM684 1800l-13-6l12-1l12 2zM695 1795l-12-2l9 2l12-3z"/><path class="f" d="M704 1792l-12 3l6 7l13-4z"/><path class="y" d="M711 1798l-13 4l7 10l12-4z"/><path class="Ya" d="M717 1808l-12 4l9 26l12-2z"/><path class="ga" d="M726 1836l-12 2l12 40l12-11z"/><path class="T" d="M738 1867l-12 11l11 19l12-11z"/><path class="ua" d="M749 1886l-12 11l10 8l12-10z"/><path class="G" d="M759 1895l-12 10l8 3l13-11zM768 1897l-13 11l8 2l12-11z"/><path class="V" d="M775 1899l-12 11l6 4l12-12z"/><path class="n" d="M781 1902l-12 12l5 5l12-12z"/><path class="U" d="M786 1907l-12 12l2 4l12-12z"/><path class="e" d="M312 1627l-10 13l2 0l10-13z"/><path class="i" d="M314 1627l-10 13l5 2l10-13z"/><path class="B" d="M319 1629l-10 13l6 8l10-13z"/><path class="Xb" d="M325 1637l-10 13l8 11l9-11z"/><path class="C" d="M332 1650l-9 11l8 11l10-10z"/><path class="g" d="M341 1662l-10 10l10 5l10-10z"/><path class="c" d="M351 1667l-10 10l11-9l10-8zM362 1660l-10 8l12-35l10-3zM374 1630l-10 3l9-17l10-5zM383 1611l-10 5l6-2l10-6z"/><path class="f" d="M389 1608l-10 6l7 4l9-5z"/><path class="Da" d="M395 1613l-9 5l9 11l10-1z"/><path class="f" d="M405 1628l-10 1l12 14l9 5z"/><path class="c k1" d="M416 1648l-9-5l11 9l10 7zM428 1659l-10-7l12 2l9 4zM439 1658l-9-4l11-5l10-1zM451 1648l-10 1l10-4l9-5z"/><path class="ea" d="M460 1640l-9 5l6 1l9-6z"/><path class="Da" d="M466 1640l-9 6l6 5l10-5z"/><path class="ia" d="M473 1646l-10 5l9 12l10 0z"/><path class="f" d="M482 1663l-10 0l12 16l10 5z"/><path class="c k1" d="M494 1684l-10-5l11 10l10 6zM505 1695l-10-6l12 2l10 5zM517 1696l-10-5l12-4l9-1zM528 1686l-9 1l9-4l10-5z"/><path class="ea" d="M538 1678l-10 5l6 1l10-6z"/><path class="Da" d="M544 1678l-10 6l6 6l10-5z"/><path class="ia" d="M550 1685l-10 5l10 13l9-1z"/><path class="Ba" d="M559 1702l-9 1l11 16l10 5z"/><path class="ea k1" d="M571 1724l-10-5l12 11l9 6z"/><path class="c k1" d="M582 1736l-9-6l11 3l10 4zM594 1737l-10-4l12-3l10-1zM606 1729l-10 1l9-2l10-5z"/><path class="ea" d="M615 1723l-10 5l6 2l10-6z"/><path class="Da" d="M621 1724l-10 6l7 7l9-6z"/><path class="Bb" d="M627 1731l-9 6l9 14l10-1z"/><path class="h" d="M637 1750l-10 1l12 19l9 4z"/><path class="x" d="M648 1774l-9-4l11 13l10 5z"/><path class="c k1" d="M660 1788l-10-5l12 7l9 4zM671 1794l-9-4l11 4l10-1z"/><path class="ea" d="M683 1793l-10 1l10 4l9-3z"/><path class="h" d="M692 1795l-9 3l6 8l9-4z"/><path class="Pa" d="M698 1802l-9 4l6 10l10-4z"/><path class="Ya" d="M705 1812l-10 4l9 25l10-3z"/><path class="Wb" d="M714 1838l-10 3l12 44l10-7z"/><path class="T" d="M726 1878l-10 7l11 21l10-9z"/><path class="ua" d="M737 1897l-10 9l10 9l10-10z"/><path class="V" d="M747 1905l-10 10l9 4l9-11z"/><path class="r" d="M755 1908l-9 11l7 2l10-11z"/><path class="ua" d="M763 1910l-10 11l6 4l10-11z"/><path class="P" d="M769 1914l-10 11l5 6l10-12z"/><path class="hc" d="M774 1919l-10 12l2 4l10-12z"/><path class="g" d="M302 1640l-6 10l2 0l6-10z"/><path class="k" d="M304 1640l-6 10l4 2l7-10z"/><path class="jc" d="M309 1642l-7 10l7 7l6-9z"/><path class="fc" d="M315 1650l-6 9l7 11l7-9z"/><path class="M" d="M323 1661l-7 9l9 11l6-9z"/><path class="ba" d="M331 1672l-6 9l10 4l6-8z"/><path class="c" d="M341 1677l-6 8l11-11l6-6zM352 1668l-6 6l12-34l6-7zM364 1633l-6 7l9-16l6-8z"/><path class="ea" d="M373 1616l-6 8l6-2l6-8z"/><path class="ia" d="M379 1614l-6 8l6 4l7-8z"/><path class="ra" d="M386 1618l-7 8l9 10l7-7z"/><path class="Bb" d="M395 1629l-7 7l12 13l7-6z"/><path class="Da" d="M407 1643l-7 6l12 8l6-5z"/><path class="x" d="M418 1652l-6 5l11 2l7-5z"/><path class="ea" d="M430 1654l-7 5l12-4l6-6zM441 1649l-6 6l9-2l7-8z"/><path class="Ba" d="M451 1645l-7 8l6 1l7-8z"/><path class="ia" d="M457 1646l-7 8l7 5l6-8z"/><path class="qa" d="M463 1651l-6 8l9 11l6-7z"/><path class="ra" d="M472 1663l-6 7l11 14l7-5z"/><path class="Da" d="M484 1679l-7 5l12 9l6-4z"/><path class="x" d="M495 1689l-6 4l12 3l6-5z"/><path class="ea" d="M507 1691l-6 5l11-3l7-6zM519 1687l-7 6l9-2l7-8z"/><path class="Da" d="M528 1683l-7 8l7 2l6-9z"/><path class="Bb" d="M534 1684l-6 9l6 5l6-8z"/><path class="qa" d="M540 1690l-6 8l9 12l7-7z"/><path class="ra" d="M550 1703l-7 7l12 14l6-5z"/><path class="Da" d="M561 1719l-6 5l11 10l7-4z"/><path class="f" d="M573 1730l-7 4l12 4l6-5z"/><path class="ea" d="M584 1733l-6 5l12-1l6-7z"/><path class="zb" d="M596 1730l-6 7l9-1l6-8z"/><path class="Da" d="M605 1728l-6 8l6 3l6-9z"/><path class="ra" d="M611 1730l-6 9l6 6l7-8z"/><path class="Ha" d="M618 1737l-7 8l9 13l7-7zM627 1751l-7 7l12 17l7-5z"/><path class="y" d="M639 1770l-7 5l12 13l6-5z"/><path class="h" d="M650 1783l-6 5l11 8l7-6z"/><path class="f" d="M662 1790l-7 6l12 5l6-7z"/><path class="h" d="M673 1794l-6 7l9 5l7-8z"/><path class="fa" d="M683 1798l-7 8l6 7l7-7z"/><path class="Za" d="M689 1806l-7 7l7 9l6-6z"/><path class="Ib" d="M695 1816l-6 6l9 25l6-6z"/><path class="Wb" d="M704 1841l-6 6l12 44l6-6z"/><path class="p" d="M716 1885l-6 6l11 22l6-7z"/><path class="Ka" d="M727 1906l-6 7l9 9l7-7z"/><path class="V" d="M737 1915l-7 7l9 4l7-7zM746 1919l-7 7l8 3l6-8z"/><path class="Ka" d="M753 1921l-6 8l6 4l6-8z"/><path class="F" d="M759 1925l-6 8l4 6l7-8z"/><path class="q" d="M764 1931l-7 8l3 4l6-8z"/><path class="g" d="M296 1650l-7 11l2 0l7-11z"/><path class="k" d="M298 1650l-7 11l5 1l6-10z"/><path class="jc" d="M302 1652l-6 10l6 7l7-10z"/><path class="qc" d="M309 1659l-7 10l8 10l6-9z"/><path class="D" d="M316 1670l-6 9l8 10l7-8z"/><path class="Rb" d="M325 1681l-7 8l10 1l7-5z"/><path class="d" d="M335 1685l-7 5l11-6l7-10z"/><path class="c" d="M346 1674l-7 10l12-34l7-10zM358 1640l-7 10l9-16l7-10z"/><path class="f" d="M367 1624l-7 10l7-1l6-11z"/><path class="ra" d="M373 1622l-6 11l6 3l6-10z"/><path class="tb" d="M379 1626l-6 10l9 11l6-11z"/><path class="Xa" d="M388 1636l-6 11l12 13l6-11z"/><path class="ra" d="M400 1649l-6 11l11 7l7-10z"/><path class="y" d="M412 1657l-7 10l12 3l6-11z"/><path class="f" d="M423 1659l-6 11l11-4l7-11zM435 1655l-7 11l10-3l6-10z"/><path class="oa" d="M444 1653l-6 10l6 1l6-10z"/><path class="ra" d="M450 1654l-6 10l6 5l7-10z"/><path class="tb" d="M457 1659l-7 10l9 11l7-10z"/><path class="Xa" d="M466 1670l-7 10l12 15l6-11z"/><path class="ra" d="M477 1684l-6 11l12 8l6-10z"/><path class="y" d="M489 1693l-6 10l11 4l7-11z"/><path class="Ba" d="M501 1696l-7 11l12-3l6-11z"/><path class="f" d="M512 1693l-6 11l9-3l6-10z"/><path class="oa" d="M521 1691l-6 10l6 2l7-10z"/><path class="qa" d="M528 1693l-7 10l6 5l7-10z"/><path class="Xa" d="M534 1698l-7 10l10 12l6-10zM543 1710l-6 10l11 16l7-12z"/><path class="fa" d="M555 1724l-7 12l12 8l6-10z"/><path class="y" d="M566 1734l-6 10l11 5l7-11z"/><path class="Da" d="M578 1738l-7 11l12-1l7-11zM590 1737l-7 11l9-1l7-11z"/><path class="y" d="M599 1736l-7 11l7 2l6-10z"/><path class="Ha" d="M605 1739l-6 10l6 6l6-10z"/><path class="Xa" d="M611 1745l-6 10l9 14l6-11z"/><path class="Ga" d="M620 1758l-6 11l12 18l6-12z"/><path class="Oa" d="M632 1775l-6 12l11 12l7-11z"/><path class="Za" d="M644 1788l-7 11l12 9l6-12z"/><path class="A" d="M655 1796l-6 12l11 4l7-11zM667 1801l-7 11l10 5l6-11z"/><path class="Oa" d="M676 1806l-6 11l6 7l6-11zM682 1813l-6 11l6 7l7-9z"/><path class="Dc" d="M689 1822l-7 9l9 25l7-9z"/><path class="wd" d="M698 1847l-7 9l12 43l7-8z"/><path class="p" d="M710 1891l-7 8l11 18l7-4z"/><path class="ua" d="M721 1913l-7 4l10 11l6-6z"/><path class="V" d="M730 1922l-6 6l9 5l6-7zM739 1926l-6 7l7 4l7-8z"/><path class="Ka" d="M747 1929l-7 8l6 4l7-8z"/><path class="F" d="M753 1933l-7 8l5 6l6-8z"/><path class="q" d="M757 1939l-6 8l2 4l7-8z"/><path class="xd" d="M289 1661l-9 31l2-1l9-30z"/><path class="yd" d="M291 1661l-9 30l4 1l10-30z"/><path class="ac" d="M296 1662l-10 30l6 4l10-27zM302 1669l-10 27l8 5l10-22z"/><path class="o" d="M310 1679l-10 22l9-2l9-10z"/><path class="da" d="M318 1689l-9 10l10 0l9-9z"/><path class="x" d="M328 1690l-9 9l10-1l10-14z"/><path class="d" d="M339 1684l-10 14l12-14l10-34z"/><path class="y" d="M351 1650l-10 34l10-15l9-35z"/><path class="qb" d="M360 1634l-9 35l6-1l10-35z"/><path class="Ua" d="M367 1633l-10 35l6 3l10-35z"/><path class="rb" d="M373 1636l-10 35l9 11l10-35z"/><path class="Ua" d="M382 1647l-10 35l12 6l10-28z"/><path class="Ga" d="M394 1660l-10 28l12 5l9-26zM405 1667l-9 26l11 5l10-28zM417 1670l-10 28l12 3l9-35z"/><path class="qb" d="M428 1666l-9 35l9-3l10-35z"/><path class="Fa" d="M438 1663l-10 35l6 1l10-35z"/><path class="Ua" d="M444 1664l-10 35l6 5l10-35z"/><path class="Na" d="M450 1669l-10 35l10 12l9-36z"/><path class="rb" d="M459 1680l-9 36l11 7l10-28z"/><path class="Ga" d="M471 1695l-10 28l12 6l10-26zM483 1703l-10 26l11 6l10-28zM494 1707l-10 28l12 4l10-35z"/><path class="qb" d="M506 1704l-10 35l9-3l10-35z"/><path class="Fa" d="M515 1701l-10 35l7 2l9-35z"/><path class="Ua" d="M521 1703l-9 35l6 5l9-35z"/><path class="Na" d="M527 1708l-9 35l9 12l10-35z"/><path class="rb" d="M537 1720l-10 35l12 9l9-28z"/><path class="Vb" d="M548 1736l-9 28l11 7l10-27zM560 1744l-10 27l12 6l9-28zM571 1749l-9 28l11 6l10-35z"/><path class="qb" d="M583 1748l-10 35l10-2l9-34z"/><path class="Ua" d="M592 1747l-9 34l6 3l10-35z"/><path class="rb" d="M599 1749l-10 35l6 6l10-35z"/><path class="Gb" d="M605 1755l-10 35l9 14l10-35z"/><path class="Ia" d="M614 1769l-10 35l12 11l10-28z"/><path class="Ib" d="M626 1787l-10 28l12 10l9-26z"/><path class="td" d="M637 1799l-9 26l11 10l10-27zM649 1808l-10 27l12 10l9-33z"/><path class="pd" d="M660 1812l-9 33l9 4l10-32z"/><path class="zd" d="M670 1817l-10 32l6 6l10-31z"/><path class="Ad" d="M676 1824l-10 31l6 8l10-32z"/><path class="Ja" d="M682 1831l-10 32l10 22l9-29z"/><path class="sc" d="M691 1856l-9 29l12 25l9-11z"/><path class="Mb" d="M703 1899l-9 11l10 14l10-7z"/><path class="Ka" d="M714 1917l-10 7l10 13l10-9z"/><path class="P" d="M724 1928l-10 9l9 12l10-16z"/><path class="F" d="M733 1933l-10 16l8 7l9-19z"/><path class="q" d="M740 1937l-9 19l6 6l9-21z"/><path class="pc" d="M746 1941l-9 21l4 6l10-21z"/><path class="Oc" d="M751 1947l-10 21l3 3l9-20z"/><path class="Bd" d="M280 1692l-11 27l2-1l11-27z"/><path class="T" d="M282 1691l-11 27l4-1l11-25z"/><path class="n" d="M286 1692l-11 25l7-1l10-20z"/><path class="V" d="M292 1696l-10 20l7-2l11-13z"/><path class="G" d="M300 1701l-11 13l9-2l11-13z"/><path class="da" d="M309 1699l-11 13l10-2l11-11z"/><path class="G" d="M319 1699l-11 11l11 0l10-12z"/><path class="Rb" d="M329 1698l-10 12l12 2l10-28z"/><path class="l" d="M341 1684l-10 28l9-4l11-39z"/><path class="td" d="M351 1669l-11 39l6 0l11-40z"/><path class="Dc" d="M357 1668l-11 40l6 2l11-39z"/><path class="pd" d="M363 1671l-11 39l9 3l11-31z"/><path class="Cd" d="M372 1682l-11 31l12 4l11-29z"/><path class="Yb" d="M384 1688l-11 29l12 5l11-29zM396 1693l-11 29l11 5l11-29zM407 1698l-11 29l12 5l11-31z"/><path class="Ya" d="M419 1701l-11 31l9 4l11-38z"/><path class="Dc" d="M428 1698l-11 38l6 3l11-40zM434 1699l-11 40l6 3l11-38zM440 1704l-11 38l10 5l11-31z"/><path class="Va" d="M450 1716l-11 31l11 5l11-29z"/><path class="Yb" d="M461 1723l-11 29l12 6l11-29zM473 1729l-11 29l12 6l10-29z"/><path class="Ya" d="M484 1735l-10 29l11 6l11-31z"/><path class="Va" d="M496 1739l-11 31l9 5l11-39z"/><path class="Dc" d="M505 1736l-11 39l7 3l11-40zM512 1738l-11 40l6 3l11-38zM518 1743l-11 38l9 5l11-31z"/><path class="td" d="M527 1755l-11 31l12 7l11-29z"/><path class="Yb" d="M539 1764l-11 29l11 6l11-28z"/><path class="Cd" d="M550 1771l-11 28l12 7l11-29z"/><path class="lc" d="M562 1777l-11 29l12 7l10-30z"/><path class="td" d="M573 1783l-10 30l9 6l11-38z"/><path class="eb" d="M583 1781l-11 38l6 5l11-40z"/><path class="kb" d="M589 1784l-11 40l6 4l11-38z"/><path class="eb" d="M595 1790l-11 38l9 6l11-30z"/><path class="lc" d="M604 1804l-11 30l12 9l11-28z"/><path class="ga" d="M616 1815l-11 28l12 10l11-28zM628 1825l-11 28l11 10l11-28z"/><path class="yd" d="M639 1835l-11 28l12 11l11-29z"/><path class="ac" d="M651 1845l-11 29l9 10l11-35z"/><path class="Mc" d="M660 1849l-11 35l6 7l11-36zM666 1855l-11 36l6 6l11-34z"/><path class="sc" d="M672 1863l-11 34l10 13l11-25z"/><path class="Uc" d="M682 1885l-11 25l12 11l11-11z"/><path class="Ra" d="M694 1910l-11 11l11 13l10-10z"/><path class="P" d="M704 1924l-10 10l9 13l11-10zM714 1937l-11 10l9 13l11-11zM723 1949l-11 11l8 11l11-15z"/><path class="jd" d="M731 1956l-11 15l6 9l11-18z"/><path class="xc" d="M737 1962l-11 18l4 7l11-19zM741 1968l-11 19l3 3l11-19z"/><path class="bc" d="M269 1719l-10 18l2-1l10-18z"/><path class="V" d="M271 1718l-10 18l4-1l10-18zM275 1717l-10 18l7-2l10-17z"/><path class="G" d="M282 1716l-10 17l7-3l10-16zM289 1714l-10 16l9-4l10-14zM298 1712l-10 14l10-2l10-14zM308 1710l-10 14l11-1l10-13z"/><path class="Z" d="M319 1710l-10 13l12 1l10-12zM331 1712l-10 12l9 2l10-18z"/><path class="m" d="M340 1708l-10 18l6 1l10-19zM346 1708l-10 19l6 2l10-19zM352 1710l-10 19l9 3l10-19zM361 1713l-10 19l12 4l10-19z"/><path class="S" d="M373 1717l-10 19l12 5l10-19zM385 1722l-10 19l11 5l10-19zM396 1727l-10 19l12 5l10-19zM408 1732l-10 19l9 4l10-19zM417 1736l-10 19l6 3l10-19zM423 1739l-10 19l7 3l9-19zM429 1742l-9 19l9 4l10-18zM439 1747l-10 18l11 6l10-19z"/><path class="C" d="M450 1752l-10 19l12 5l10-18zM462 1758l-10 18l12 6l10-18zM474 1764l-10 18l11 6l10-18z"/><path class="M" d="M485 1770l-10 18l9 5l10-18zM494 1775l-10 18l7 3l10-18z"/><path class="D" d="M501 1778l-10 18l6 4l10-19zM507 1781l-10 19l9 5l10-19zM516 1786l-10 19l12 6l10-18zM528 1793l-10 18l11 7l10-19zM539 1799l-10 19l12 7l10-19zM551 1806l-10 19l12 7l10-19zM563 1813l-10 19l9 6l10-19zM572 1819l-10 19l6 4l10-18zM578 1824l-10 18l6 4l10-18zM584 1828l-10 18l9 7l10-19z"/><path class="lb" d="M593 1834l-10 19l12 9l10-19zM605 1843l-10 19l12 9l10-18z"/><path class="N" d="M617 1853l-10 18l11 11l10-19z"/><path class="p" d="M628 1863l-10 19l12 11l10-19zM640 1874l-10 19l9 9l10-18zM649 1884l-10 18l6 7l10-18z"/><path class="F" d="M655 1891l-10 18l7 5l9-17zM661 1897l-9 17l9 8l10-12z"/><path class="Ra" d="M671 1910l-10 12l12 11l10-12z"/><path class="P" d="M683 1921l-10 12l11 12l10-11z"/><path class="dc" d="M694 1934l-10 11l10 13l9-11zM703 1947l-9 11l8 13l10-11z"/><path class="jd" d="M712 1960l-10 11l8 12l10-12z"/><path class="Qc" d="M720 1971l-10 12l6 9l10-12zM726 1980l-10 12l4 7l10-12zM730 1987l-10 12l3 4l10-13z"/><path class="nc" d="M259 1737l-9 21l2-1l9-21z"/><path class="Ka" d="M261 1736l-9 21l4-1l9-21z"/><path class="bc" d="M265 1735l-9 21l7-4l9-19z"/><path class="V" d="M272 1733l-9 19l7-5l9-17z"/><path class="r" d="M279 1730l-9 17l9-5l9-16zM288 1726l-9 16l10-4l9-14z"/><path class="V" d="M298 1724l-9 14l11-2l9-13zM309 1723l-9 13l12 0l9-12z"/><path class="aa" d="M321 1724l-9 12l9 2l9-12z"/><path class="Z" d="M330 1726l-9 12l6 0l9-11z"/><path class="aa" d="M336 1727l-9 11l6 2l9-11zM342 1729l-9 11l9 2l9-10zM351 1732l-9 10l12 4l9-10zM363 1736l-9 10l12 5l9-10zM375 1741l-9 10l11 5l9-10zM386 1746l-9 10l12 5l9-10zM398 1751l-9 10l9 4l9-10zM407 1755l-9 10l6 3l9-10zM413 1758l-9 10l6 3l10-10zM420 1761l-10 10l10 4l9-10zM429 1765l-9 10l11 6l9-10zM440 1771l-9 10l12 6l9-11zM452 1776l-9 11l12 5l9-10zM464 1782l-9 10l11 6l9-10zM475 1788l-9 10l9 5l9-10zM484 1793l-9 10l7 4l9-11zM491 1796l-9 11l6 3l9-10zM497 1800l-9 10l9 5l9-10z"/><path class="ba" d="M506 1805l-9 10l12 6l9-10zM518 1811l-9 10l11 7l9-10zM529 1818l-9 10l12 7l9-10zM541 1825l-9 10l12 7l9-10zM553 1832l-9 10l9 6l9-10z"/><path class="ca" d="M562 1838l-9 10l6 5l9-11zM568 1842l-9 11l6 4l9-11zM574 1846l-9 11l9 7l9-11zM583 1853l-9 11l12 8l9-10zM595 1862l-9 10l12 10l9-11z"/><path class="n" d="M607 1871l-9 11l11 10l9-10z"/><path class="Ra" d="M618 1882l-9 10l12 12l9-11z"/><path class="P" d="M630 1893l-9 11l9 10l9-12zM639 1902l-9 12l6 7l9-12z"/><path class="Ka" d="M645 1909l-9 12l6 5l10-12z"/><path class="Ra" d="M652 1914l-10 12l10 8l9-12z"/><path class="P" d="M661 1922l-9 12l12 12l9-13z"/><path class="dc" d="M673 1933l-9 13l11 12l9-13z"/><path class="oc" d="M684 1945l-9 13l9 13l10-13z"/><path class="Dd" d="M694 1958l-10 13l9 13l9-13z"/><path class="Qc" d="M702 1971l-9 13l8 13l9-14z"/><path class="Rc" d="M710 1983l-9 14l6 10l9-15z"/><path class="Qc" d="M716 1992l-9 15l4 7l9-15zM720 1999l-9 15l3 3l9-14zM250 1758l-8 24l2 0l8-25z"/><path class="Yc" d="M252 1757l-8 25l4-3l8-23z"/><path class="H" d="M256 1756l-8 23l7-6l8-21z"/><path class="r" d="M263 1752l-8 21l7-8l8-18zM270 1747l-8 18l9-8l8-15zM279 1742l-8 15l10-5l8-14zM289 1738l-8 14l11-4l8-12z"/><path class="V" d="M300 1736l-8 12l12 0l8-12z"/><path class="X" d="M312 1736l-8 12l9-5l8-5zM321 1738l-8 5l6 0l8-5zM327 1738l-8 5l6 2l8-5zM333 1740l-8 5l9 2l8-5zM342 1742l-8 5l12 4l8-5z"/><path class="da" d="M354 1746l-8 5l12 5l8-5zM366 1751l-8 5l11 4l8-4zM377 1756l-8 4l12 5l8-4zM389 1761l-8 4l9 4l8-4zM398 1765l-8 4l6 3l8-4zM404 1768l-8 4l6 3l8-4zM410 1771l-8 4l10 5l8-5zM420 1775l-8 5l11 5l8-4z"/><path class="G" d="M431 1781l-8 4l12 6l8-4zM443 1787l-8 4l12 6l8-5zM455 1792l-8 5l11 6l8-5zM466 1798l-8 5l9 5l8-5zM475 1803l-8 5l7 3l8-4zM482 1807l-8 4l6 3l8-4zM488 1810l-8 4l9 6l8-5zM497 1815l-8 5l12 6l8-5zM509 1821l-8 5l11 7l8-5zM520 1828l-8 5l12 7l8-5zM532 1835l-8 5l12 7l8-5zM544 1842l-8 5l9 6l8-5zM553 1848l-8 5l6 5l8-5zM559 1853l-8 5l6 4l8-5z"/><path class="Ed" d="M565 1857l-8 5l9 7l8-5z"/><path class="V" d="M574 1864l-8 5l12 9l8-6zM586 1872l-8 6l12 10l8-6zM598 1882l-8 6l11 10l8-6z"/><path class="bc" d="M609 1892l-8 6l12 12l8-6z"/><path class="ua" d="M621 1904l-8 6l9 10l8-6z"/><path class="Ka" d="M630 1914l-8 6l6 7l8-6z"/><path class="bc" d="M636 1921l-8 6l6 6l8-7z"/><path class="P" d="M642 1926l-8 7l10 12l8-11z"/><path class="dc" d="M652 1934l-8 11l12 12l8-11zM664 1946l-8 11l11 13l8-12z"/><path class="Dd" d="M675 1958l-8 12l9 14l8-13z"/><path class="xc" d="M684 1971l-8 13l9 13l8-13z"/><path class="Rc" d="M693 1984l-8 13l8 14l8-14zM701 1997l-8 14l6 11l8-15zM707 2007l-8 15l4 8l8-16z"/><path class="ed" d="M711 2014l-8 16l3 3l8-16zM242 1782l-7 28l2-2l7-26z"/><path class="I" d="M244 1782l-7 26l4-6l7-23z"/><path class="s" d="M248 1779l-7 23l7-11l7-18z"/><path class="W" d="M255 1773l-7 18l7-11l7-15zM262 1765l-7 15l9-10l7-13z"/><path class="G" d="M271 1757l-7 13l10-7l7-11zM281 1752l-7 11l11-4l7-11z"/><path class="X" d="M292 1748l-7 11l12-7l7-4z"/><path class="c" d="M304 1748l-7 4l9-6l7-3z"/><path class="d" d="M313 1743l-7 3l6 0l7-3z"/><path class="X" d="M319 1743l-7 3l6 1l7-2zM325 1745l-7 2l10 3l6-3zM334 1747l-6 3l11 3l7-2zM346 1751l-7 2l12 5l7-2zM358 1756l-7 2l11 4l7-2zM369 1760l-7 2l12 5l7-2zM381 1765l-7 2l9 4l7-2zM390 1769l-7 2l6 3l7-2zM396 1772l-7 2l7 3l6-2zM402 1775l-6 2l9 4l7-1zM412 1780l-7 1l11 6l7-2zM423 1785l-7 2l12 6l7-2zM435 1791l-7 2l12 6l7-2zM447 1797l-7 2l11 6l7-2zM458 1803l-7 2l10 5l6-2zM467 1808l-6 2l6 3l7-2zM474 1811l-7 2l6 3l7-2zM480 1814l-7 2l9 5l7-1zM489 1820l-7 1l12 7l7-2zM501 1826l-7 2l11 7l7-2zM512 1833l-7 2l12 7l7-2zM524 1840l-7 2l12 8l7-3z"/><path class="da" d="M536 1847l-7 3l9 6l7-3z"/><path class="G" d="M545 1853l-7 3l6 4l7-2zM551 1858l-7 2l6 5l7-3zM557 1862l-7 3l10 7l6-3zM566 1869l-6 3l11 9l7-3zM578 1878l-7 3l12 10l7-3z"/><path class="V" d="M590 1888l-7 3l11 11l7-4zM601 1898l-7 4l12 12l7-4z"/><path class="bc" d="M613 1910l-7 4l9 10l7-4z"/><path class="ua" d="M622 1920l-7 4l6 8l7-5z"/><path class="bc" d="M628 1927l-7 5l7 6l6-5z"/><path class="nc" d="M634 1933l-6 5l9 13l7-6z"/><path class="P" d="M644 1945l-7 6l12 16l7-10z"/><path class="Qc" d="M656 1957l-7 10l11 13l7-10zM667 1970l-7 10l10 15l6-11z"/><path class="Rc" d="M676 1984l-6 11l8 15l7-13z"/><path class="Sc" d="M685 1997l-7 13l8 14l7-13z"/><path class="Fd" d="M693 2011l-7 13l6 13l7-15zM699 2022l-7 15l5 10l6-17z"/><path class="dd" d="M703 2030l-6 17l2 3l7-17z"/><path class="Gd" d="M235 1810l-6 27l2-5l6-24z"/><path class="id" d="M237 1808l-6 24l5-14l5-16z"/><path class="b" d="M241 1802l-5 16l6-14l6-13zM248 1791l-6 13l8-14l5-10z"/><path class="X" d="M255 1780l-5 10l8-11l6-9z"/><path class="W" d="M264 1770l-6 9l10-7l6-9z"/><path class="G" d="M274 1763l-6 9l11-4l6-9z"/><path class="c" d="M285 1759l-6 9l12-12l6-4zM297 1752l-6 4l9-7l6-3zM306 1746l-6 3l6-1l6-2z"/><path class="X" d="M312 1746l-6 2l7 1l5-2zM318 1747l-5 2l9 2l6-1zM328 1750l-6 1l12 4l5-2zM339 1753l-5 2l11 4l6-1zM351 1758l-6 1l12 5l5-2zM362 1762l-5 2l11 4l6-1zM374 1767l-6 1l10 5l5-2zM383 1771l-5 2l6 2l5-1zM389 1774l-5 1l6 3l6-1zM396 1777l-6 1l9 5l6-2zM405 1781l-6 2l12 5l5-1zM416 1787l-5 1l11 6l6-1zM428 1793l-6 1l12 6l6-1zM440 1799l-6 1l12 6l5-1zM451 1805l-5 1l9 5l6-1zM461 1810l-6 1l6 3l6-1zM467 1813l-6 1l6 4l6-2zM473 1816l-6 2l10 5l5-2zM482 1821l-5 2l11 7l6-2zM494 1828l-6 2l12 6l5-1zM505 1835l-5 1l11 8l6-2zM517 1842l-6 2l12 7l6-1z"/><path class="da" d="M529 1850l-6 1l9 7l6-2z"/><path class="G" d="M538 1856l-6 2l6 4l6-2zM544 1860l-6 2l7 5l5-2zM550 1865l-5 2l9 7l6-2zM560 1872l-6 2l12 9l5-2zM571 1881l-5 2l11 10l6-2z"/><path class="V" d="M583 1891l-6 2l12 12l5-3zM594 1902l-5 3l11 12l6-3z"/><path class="bc" d="M606 1914l-6 3l10 11l5-4z"/><path class="Ka" d="M615 1924l-5 4l6 8l5-4z"/><path class="bc" d="M621 1932l-5 4l6 6l6-4z"/><path class="P" d="M628 1938l-6 4l9 14l6-5z"/><path class="jd" d="M637 1951l-6 5l12 20l6-9z"/><path class="Pc" d="M649 1967l-6 9l11 13l6-9z"/><path class="Qc" d="M660 1980l-6 9l10 14l6-8z"/><path class="Rc" d="M670 1995l-6 8l9 16l5-9z"/><path class="ed" d="M678 2010l-5 9l7 15l6-10z"/><path class="dd" d="M686 2024l-6 10l6 15l6-12z"/><path class="Hd" d="M692 2037l-6 12l5 13l6-15z"/><path class="Id" d="M697 2047l-6 15l2 5l6-17z"/><path class="c" d="M229 1837l-4-3l2-2l4 0zM231 1832l-4 0l5-10l4-4zM236 1818l-4 4l6-13l4-5zM242 1804l-4 5l7-13l5-6zM250 1790l-5 6l9-11l4-6z"/><path class="X" d="M258 1779l-4 6l10-7l4-6z"/><path class="G" d="M268 1772l-4 6l11-4l4-6z"/><path class="c" d="M279 1768l-4 6l12-15l4-3zM291 1756l-4 3l9-8l4-2z"/><path class="X" d="M300 1749l-4 2l6-1l4-2zM306 1748l-4 2l7 1l4-2zM313 1749l-4 2l9 2l4-2zM322 1751l-4 2l11 4l5-2zM334 1755l-5 2l12 4l4-2zM345 1759l-4 2l12 4l4-1zM357 1764l-4 1l11 5l4-2zM368 1768l-4 2l10 4l4-1zM378 1773l-4 1l6 3l4-2zM384 1775l-4 2l6 3l4-2zM390 1778l-4 2l9 4l4-1zM399 1783l-4 1l12 6l4-2zM411 1788l-4 2l11 6l4-2zM422 1794l-4 2l12 6l4-2z"/><path class="da" d="M434 1800l-4 2l12 6l4-2zM446 1806l-4 2l9 5l4-2zM455 1811l-4 2l6 3l4-2zM461 1814l-4 2l6 4l4-2zM467 1818l-4 2l9 5l5-2z"/><path class="G" d="M477 1823l-5 2l12 6l4-1zM488 1830l-4 1l12 8l4-3zM500 1836l-4 3l11 7l4-2zM511 1844l-4 2l12 7l4-2zM523 1851l-4 2l9 7l4-2zM532 1858l-4 2l6 4l4-2zM538 1862l-4 2l7 5l4-2zM545 1867l-4 2l9 7l4-2z"/><path class="V" d="M554 1874l-4 2l11 10l5-3zM566 1883l-5 3l12 10l4-3z"/><path class="bc" d="M577 1893l-4 3l12 12l4-3z"/><path class="ua" d="M589 1905l-4 3l11 12l4-3z"/><path class="Ka" d="M600 1917l-4 3l10 11l4-3z"/><path class="nc" d="M610 1928l-4 3l6 8l4-3z"/><path class="Ka" d="M616 1936l-4 3l6 7l4-4z"/><path class="dc" d="M622 1942l-4 4l9 14l4-4z"/><path class="xc" d="M631 1956l-4 4l12 22l4-6z"/><path class="Pc" d="M643 1976l-4 6l11 13l4-6z"/><path class="Qc" d="M654 1989l-4 6l10 15l4-7z"/><path class="u" d="M664 2003l-4 7l9 15l4-6z"/><path class="bd" d="M673 2019l-4 6l7 15l4-6zM680 2034l-4 6l6 14l4-5z"/><path class="Gd" d="M686 2049l-4 5l5 11l4-3z"/><path class="Jd" d="M691 2062l-4 3l2 4l4-2z"/><path class="c" d="M225 1834l-2-4l2-1l2 3zM227 1832l-2-3l5-7l2 0zM232 1822l-2 0l6-12l2-1zM238 1809l-2 1l7-12l2-2zM245 1796l-2 2l9-10l2-3z"/><path class="X" d="M254 1785l-2 3l10-7l2-3z"/><path class="W" d="M264 1778l-2 3l11-5l2-2z"/><path class="c" d="M275 1774l-2 2l12-15l2-2zM287 1759l-2 2l9-8l2-2z"/><path class="X" d="M296 1751l-2 2l6-1l2-2zM302 1750l-2 2l7 1l2-2z"/><path class="G" d="M309 1751l-2 2l9 2l2-2zM318 1753l-2 2l11 3l2-1zM329 1757l-2 1l12 4l2-1zM341 1761l-2 1l12 5l2-2zM353 1765l-2 2l11 5l2-2z"/><path class="Rb" d="M364 1770l-2 2l9 4l3-2zM374 1774l-3 2l7 3l2-2zM380 1777l-2 2l6 3l2-2zM386 1780l-2 2l9 4l2-2zM395 1784l-2 2l12 5l2-1zM407 1790l-2 1l11 6l2-1zM418 1796l-2 1l12 6l2-1zM430 1802l-2 1l12 6l2-1zM442 1808l-2 1l9 5l2-1zM451 1813l-2 1l6 4l2-2zM457 1816l-2 2l6 3l2-1zM463 1820l-2 1l9 5l2-1zM472 1825l-2 1l12 7l2-2z"/><path class="Z" d="M484 1831l-2 2l12 7l2-1zM496 1839l-2 1l11 7l2-1z"/><path class="aa" d="M507 1846l-2 1l12 8l2-2zM519 1853l-2 2l9 7l2-2z"/><path class="V" d="M528 1860l-2 2l6 4l2-2zM534 1864l-2 2l7 5l2-2zM541 1869l-2 2l9 7l2-2z"/><path class="bc" d="M550 1876l-2 2l11 10l2-2z"/><path class="ua" d="M561 1886l-2 2l12 10l2-2zM573 1896l-2 2l12 12l2-2z"/><path class="Ka" d="M585 1908l-2 2l11 12l2-2z"/><path class="P" d="M596 1920l-2 2l9 11l3-2zM606 1931l-3 2l7 9l2-3z"/><path class="nc" d="M612 1939l-2 3l6 6l2-2z"/><path class="oc" d="M618 1946l-2 2l9 14l2-2z"/><path class="xc" d="M627 1960l-2 2l12 23l2-3z"/><path class="Yc" d="M639 1982l-2 3l11 13l2-3z"/><path class="Xc" d="M650 1995l-2 3l10 15l2-3z"/><path class="u" d="M660 2010l-2 3l9 15l2-3zM669 2025l-2 3l7 15l2-3z"/><path class="kd" d="M676 2040l-2 3l6 13l2-2z"/><path class="Jd" d="M682 2054l-2 2l5 9l2 0z"/><path class="nd" d="M687 2065l-2 0l2 4l2 0z"/></g><path d="M44.6 366L45 365.8L45.9 364.4L47.2 362.1L48.7 359.7L50.4 357.7L52.4 356.2L54.6 355.3L57 352.1L58.8 350.6L60.1 350.3L61.3 350.6L63.2 351L65.5 351.7L67.8 352.5L70.1 353.4L72.4 354.4L74.3 355.2L75.5 355.7L76.8 356.3L78.6 357.2L80.9 358.3L83.3 359.4L85.6 360.6L87.9 361.8L89.8 362.8L91 363.5L92.2 364.2L94.1 365.3L96.4 366.6L98.7 368L101.1 369.5L103.4 371L105.2 372.3L106.5 373.2L107.7 374.1L109.6 375.6L111.9 377.5L114.2 379.6L116.5 381.9L118.8 384.4L120.7 386.7L121.9 388.3L123.2 389.6L125 392.5L127.4 396.9L129.6 399.7L131.6 402.5L133.3 405.5L134.8 408.5L136.1 411.2L137 413L137.4 413.7L137.8 413.8L138.6 413.4L139.8 410.1L141.1 406.7L142.7 403.5L144.5 400.6L146.5 398L148.7 394.3L150.6 390.2L151.9 388.6L153.2 386.9L155.2 384.6L157.6 382.2L160 380.1L162.4 378.3L164.8 376.6L166.8 375.5L168.1 374.7L169.4 374L171.3 373.1L173.7 372L176.2 370.9L178.6 370L181 369.1L182.9 368.5L184.2 368.1L185.5 367.7L187.5 367.2L189.9 366.5L192.3 365.9L194.7 365.4L197.1 364.9L199.1 364.6L200.4 364.3L201.7 364.1L203.6 363.8L206 363.4L208.4 363.1L210.9 362.7L213.3 362.4L215.2 362.2L216.5 362.1L217.8 362L219.7 361.9L222.2 361.8L224.6 361.8L227 362L229.4 362.4L231.4 363L232.7 363.5L234 364L235.9 366.2L238.1 368.2L240.1 369.6L241.9 371.6L243.5 374L244.8 376.9L246 379.9L246.8 379.5L247.2 379.1" fill="none" stroke="#0a0a0a" stroke-opacity="0.75" stroke-width="1.2" stroke-linejoin="round"/>
<text x="247.5" y="406.5" text-anchor="start" font-size="11.3">0</text>
<text x="215.2" y="417.7" text-anchor="start" font-size="11.3">10</text>
<text x="183" y="429" text-anchor="start" font-size="11.3">20</text>
<text x="150.7" y="440.2" text-anchor="start" font-size="11.3">30</text>
<text x="45.6" y="400.5" text-anchor="end" font-size="11.3">0</text>
<text x="84.3" y="419.6" text-anchor="end" font-size="11.3">10</text>
<text x="123" y="438.6" text-anchor="end" font-size="11.3">20</text>
<text x="38" y="367.5" text-anchor="end" font-size="11.3">1</text>
<text x="38" y="329.3" text-anchor="end" font-size="11.3">1.5</text>
<text x="38" y="291.1" text-anchor="end" font-size="11.3">2</text>
<g fill="none"><path d="M44.6 382.6L44.6 289.9" stroke="#262626" stroke-width="0.9" /><path d="M44.6 382.6L137.4 428.3" stroke="#262626" stroke-width="0.9" /><path d="M137.4 428.3L247.2 390.2" stroke="#262626" stroke-width="0.9" /><path d="M240.7 392.4l2 1" stroke="#262626" stroke-width="0.9"/><path d="M208.4 403.6l2 1" stroke="#262626" stroke-width="0.9"/><path d="M176.2 414.9l2 1" stroke="#262626" stroke-width="0.9"/><path d="M143.9 426.1l2 1" stroke="#262626" stroke-width="0.9"/><path d="M52.3 386.4l-2.1 0.7" stroke="#262626" stroke-width="0.9"/><path d="M91 405.5l-2.1 0.7" stroke="#262626" stroke-width="0.9"/><path d="M129.7 424.5l-2.1 0.7" stroke="#262626" stroke-width="0.9"/><path d="M44.6 366.3l-2.2 1" stroke="#262626" stroke-width="0.9"/><path d="M44.6 328.1l-2.2 1" stroke="#262626" stroke-width="0.9"/><path d="M44.6 289.9l-2.2 1" stroke="#262626" stroke-width="0.9"/></g>
<text x="14.5" y="336" text-anchor="middle" font-size="11.5" transform="rotate(-90 14.5 336)" style="white-space:pre">GPR  (Volts)</text>
<text x="67" y="443" text-anchor="middle" font-size="12.1" style="white-space:pre">Y  (m)</text>
<text x="211" y="446.5" text-anchor="middle" font-size="12.1" style="white-space:pre">X  (m)</text>
<g fill="none"><path d="M481.9 114L532.2 166.3" stroke="#dfdfdf" stroke-width="0.7" /><path d="M481.9 114L481.9 6" stroke="#dfdfdf" stroke-width="0.7" /><path d="M431 119.6L481.3 171.9" stroke="#dfdfdf" stroke-width="0.7" /><path d="M431 119.6L431 11.6" stroke="#dfdfdf" stroke-width="0.7" /><path d="M380.2 125.3L430.5 177.6" stroke="#dfdfdf" stroke-width="0.7" /><path d="M380.2 125.3L380.2 17.3" stroke="#dfdfdf" stroke-width="0.7" /><path d="M329.3 130.9L379.6 183.2" stroke="#dfdfdf" stroke-width="0.7" /><path d="M329.3 130.9L329.3 22.9" stroke="#dfdfdf" stroke-width="0.7" /><path d="M481.9 114L329.3 130.9" stroke="#dfdfdf" stroke-width="0.7" /><path d="M481.9 114L481.9 6" stroke="#dfdfdf" stroke-width="0.7" /><path d="M507.1 140.2L354.5 157.1" stroke="#dfdfdf" stroke-width="0.7" /><path d="M507.1 140.2L507.1 32.2" stroke="#dfdfdf" stroke-width="0.7" /><path d="M532.2 166.3L379.6 183.2" stroke="#dfdfdf" stroke-width="0.7" /><path d="M532.2 166.3L532.2 58.3" stroke="#dfdfdf" stroke-width="0.7" /><path d="M329.3 130.9L481.9 114" stroke="#dfdfdf" stroke-width="0.7" /><path d="M481.9 114L532.2 166.3" stroke="#dfdfdf" stroke-width="0.7" /><path d="M329.3 94.9L481.9 78" stroke="#dfdfdf" stroke-width="0.7" /><path d="M481.9 78L532.2 130.3" stroke="#dfdfdf" stroke-width="0.7" /><path d="M329.3 58.9L481.9 42" stroke="#dfdfdf" stroke-width="0.7" /><path d="M481.9 42L532.2 94.3" stroke="#dfdfdf" stroke-width="0.7" /><path d="M329.3 22.9L481.9 6" stroke="#dfdfdf" stroke-width="0.7" /><path d="M481.9 6L532.2 58.3" stroke="#dfdfdf" stroke-width="0.7" /></g>
<text x="537.2" y="183.2" text-anchor="start" font-size="10.8">0</text>
<text x="486.3" y="188.8" text-anchor="start" font-size="10.8">10</text>
<text x="435.5" y="194.5" text-anchor="start" font-size="10.8">20</text>
<text x="384.6" y="200.1" text-anchor="start" font-size="10.8">30</text>
<text x="321.8" y="143.2" text-anchor="end" font-size="10.8">0</text>
<text x="347" y="169.4" text-anchor="end" font-size="10.8">10</text>
<text x="372.1" y="195.5" text-anchor="end" font-size="10.8">20</text>
<text x="323" y="131.1" text-anchor="end" font-size="10.8">1.86604</text>
<text x="323" y="95.1" text-anchor="end" font-size="10.8">1.866045</text>
<text x="323" y="59.1" text-anchor="end" font-size="10.8">1.86605</text>
<text x="323" y="23.1" text-anchor="end" font-size="10.8">1.866055</text>
<g fill="none"><path d="M329.3 130.9L329.3 22.9" stroke="#262626" stroke-width="0.9" /><path d="M329.3 130.9L379.6 183.2" stroke="#262626" stroke-width="0.9" /><path d="M379.6 183.2L532.2 166.3" stroke="#262626" stroke-width="0.9" /><path d="M532.2 166.3l1.5 1.6" stroke="#262626" stroke-width="0.9"/><path d="M481.3 171.9l1.5 1.6" stroke="#262626" stroke-width="0.9"/><path d="M430.5 177.6l1.5 1.6" stroke="#262626" stroke-width="0.9"/><path d="M379.6 183.2l1.5 1.6" stroke="#262626" stroke-width="0.9"/><path d="M329.3 130.9l-2.2 0.2" stroke="#262626" stroke-width="0.9"/><path d="M354.5 157.1l-2.2 0.2" stroke="#262626" stroke-width="0.9"/><path d="M379.6 183.2l-2.2 0.2" stroke="#262626" stroke-width="0.9"/><path d="M329.3 130.9l-2.2 1" stroke="#262626" stroke-width="0.9"/><path d="M329.3 94.9l-2.2 1" stroke="#262626" stroke-width="0.9"/><path d="M329.3 58.9l-2.2 1" stroke="#262626" stroke-width="0.9"/><path d="M329.3 22.9l-2.2 1" stroke="#262626" stroke-width="0.9"/></g>
<text x="271.3" y="77.9" text-anchor="middle" font-size="11.5" transform="rotate(-90 271.3 77.9)" style="white-space:pre">Node Potential  (Volts)</text>
<text x="319" y="183" text-anchor="middle" font-size="12.1" style="white-space:pre">Y  (m)</text>
<text x="464.5" y="207" text-anchor="middle" font-size="12.1" style="white-space:pre">X  (m)</text>
<g fill="none" stroke="#0f72bd" stroke-linejoin="round" stroke-linecap="round"><path stroke-width="5.3" d="M481.9 9.3L479.4 13.2L476.8 17.1L474.3 20.9L471.7 24.8L469.2 28.6L466.6 32.4L464.1 36.3L461.6 40.1L459 43.9L456.5 47.6L453.9 50.1L451.4 52.5L448.8 54.8L446.3 57.2L443.8 59.6L441.2 62L438.7 64.3L436.1 66.6L433.6 69L431 71.3L428.5 72.9L425.9 74.6L423.4 76.2L420.9 77.9L418.3 79.5L415.8 81.1L413.2 82.7L410.7 84.3L408.1 85.8L405.6 87.4L403.1 88.6L400.5 89.8L398 91L395.4 92.2L392.9 93.3L390.3 94.5L387.8 95.6L385.3 96.8L382.7 97.9L380.2 99L377.6 99.9L375.1 100.8L372.5 101.6L370 102.5L367.4 103.3L364.9 104.2L362.4 105L359.8 105.8L357.3 106.6L354.7 107.4L352.2 108L349.6 108.6L347.1 109.3L344.6 109.8L342 110.4L339.5 111L336.9 111.6L334.4 112.1L331.8 112.7L329.3 113.2M494.5 58.4L491.9 60.1L489.4 61.8L486.8 63.4L484.3 65.1L481.8 66.7L479.2 68.4L476.7 70L474.1 71.6L471.6 73.2L469 74.8L466.5 76.4L464 78L461.4 79.6L458.9 81.2L456.3 82.8L453.8 84.4L451.2 86L448.7 87.5L446.2 89.1L443.6 90.6L441.1 92L438.5 93.3L436 94.6L433.4 96L430.9 97.3L428.3 98.6L425.8 99.9L423.3 101.1L420.7 102.4L418.2 103.7L415.6 104.7L413.1 105.8L410.5 106.8L408 107.9L405.5 108.9L402.9 109.9L400.4 110.9L397.8 112L395.3 112.9L392.7 113.9L390.2 114.7L387.7 115.6L385.1 116.4L382.6 117.1L380 117.9L377.5 118.7L374.9 119.5L372.4 120.2L369.9 121L367.3 121.7L364.8 122.3L362.2 122.9L359.7 123.5L357.1 124L354.6 124.6L352 125.2L349.5 125.7L347 126.2L344.4 126.8L341.9 127.3M507.1 90.6L504.5 91.6L502 92.6L499.4 93.5L496.9 94.4L494.3 95.4L491.8 96.3L489.2 97.2L486.7 98L484.2 98.9L481.6 99.8L479.1 100.9L476.5 102L474 103.1L471.4 104.2L468.9 105.2L466.4 106.3L463.8 107.4L461.3 108.4L458.7 109.4L456.2 110.4L453.6 111.5L451.1 112.5L448.6 113.6L446 114.6L443.5 115.6L440.9 116.6L438.4 117.6L435.8 118.6L433.3 119.6L430.8 120.5L428.2 121.4L425.7 122.4L423.1 123.2L420.6 124.1L418 125L415.5 125.9L412.9 126.7L410.4 127.5L407.9 128.4L405.3 129.2L402.8 129.9L400.2 130.7L397.7 131.4L395.1 132.1L392.6 132.8L390.1 133.5L387.5 134.2L385 134.9L382.4 135.5L379.9 136.2L377.3 136.7L374.8 137.3L372.3 137.8L369.7 138.4L367.2 138.9L364.6 139.4L362.1 139.9L359.5 140.4L357 140.9L354.5 141.4M519.6 114L517.1 114.7L514.5 115.4L512 116L509.5 116.7L506.9 117.4L504.4 118L501.8 118.6L499.3 119.2L496.7 119.8L494.2 120.4L491.6 121.3L489.1 122.1L486.6 122.9L484 123.8L481.5 124.6L478.9 125.4L476.4 126.1L473.8 126.9L471.3 127.7L468.8 128.4L466.2 129.3L463.7 130.1L461.1 131L458.6 131.8L456 132.6L453.5 133.4L451 134.2L448.4 135L445.9 135.8L443.3 136.6L440.8 137.4L438.2 138.1L435.7 138.9L433.2 139.7L430.6 140.4L428.1 141.1L425.5 141.9L423 142.6L420.4 143.3L417.9 144L415.3 144.7L412.8 145.3L410.3 146L407.7 146.6L405.2 147.3L402.6 147.9L400.1 148.5L397.5 149.1L395 149.7L392.5 150.3L389.9 150.8L387.4 151.4L384.8 151.9L382.3 152.4L379.7 152.9L377.2 153.4L374.7 153.9L372.1 154.3L369.6 154.8L367 155.3M532.2 131.3L529.7 131.9L527.1 132.5L524.6 133.1L522 133.7L519.5 134.2L516.9 134.8L514.4 135.3L511.9 135.8L509.3 136.4L506.8 136.9L504.2 137.6L501.7 138.3L499.1 139L496.6 139.7L494.1 140.4L491.5 141.1L489 141.8L486.4 142.4L483.9 143.1L481.3 143.7L478.8 144.5L476.2 145.2L473.7 146L471.2 146.7L468.6 147.5L466.1 148.2L463.5 148.9L461 149.6L458.4 150.3L455.9 150.9L453.4 151.7L450.8 152.4L448.3 153.1L445.7 153.8L443.2 154.5L440.6 155.2L438.1 155.8L435.6 156.5L433 157.1L430.5 157.8L427.9 158.4L425.4 159L422.8 159.6L420.3 160.3L417.8 160.9L415.2 161.4L412.7 162L410.1 162.6L407.6 163.2L405 163.7L402.5 164.2L399.9 164.7L397.4 165.2L394.9 165.7L392.3 166.2L389.8 166.7L387.2 167.1L384.7 167.6L382.1 168L379.6 168.5M481.9 9.3L483.2 14.3L484.4 19.2L485.7 24.2L486.9 29.1L488.2 34L489.4 38.9L490.7 43.8L492 48.7L493.2 53.6L494.5 58.4L495.7 61.7L497 65L498.2 68.2L499.5 71.5L500.8 74.7L502 77.9L503.3 81.1L504.5 84.3L505.8 87.5L507.1 90.6L508.3 93L509.6 95.4L510.8 97.8L512.1 100.1L513.3 102.5L514.6 104.8L515.9 107.1L517.1 109.4L518.4 111.7L519.6 114L520.9 115.8L522.1 117.6L523.4 119.3L524.7 121.1L525.9 122.8L527.2 124.5L528.4 126.3L529.7 128L530.9 129.7L532.2 131.3M456.5 47.6L457.7 50.4L459 53.2L460.2 55.9L461.5 58.7L462.8 61.4L464 64.1L465.3 66.8L466.5 69.4L467.8 72.1L469 74.8L470.3 77.3L471.6 79.9L472.8 82.4L474.1 84.9L475.3 87.4L476.6 89.9L477.8 92.4L479.1 94.9L480.4 97.3L481.6 99.8L482.9 101.9L484.1 104L485.4 106.1L486.6 108.2L487.9 110.3L489.2 112.3L490.4 114.4L491.7 116.4L492.9 118.4L494.2 120.4L495.4 122.1L496.7 123.8L498 125.5L499.2 127.2L500.5 128.8L501.7 130.4L503 132.1L504.3 133.7L505.5 135.3L506.8 136.9M431 71.3L432.3 73.3L433.5 75.2L434.8 77.2L436.1 79.2L437.3 81.1L438.6 83L439.8 84.9L441.1 86.8L442.4 88.7L443.6 90.6L444.9 92.6L446.1 94.7L447.4 96.7L448.6 98.7L449.9 100.7L451.2 102.7L452.4 104.6L453.7 106.6L454.9 108.5L456.2 110.4L457.4 112.3L458.7 114.1L460 116L461.2 117.8L462.5 119.6L463.7 121.4L465 123.2L466.2 124.9L467.5 126.7L468.8 128.4L470 130L471.3 131.6L472.5 133.1L473.8 134.7L475 136.2L476.3 137.8L477.6 139.3L478.8 140.8L480.1 142.2L481.3 143.7M405.6 87.4L406.9 89.1L408.1 90.8L409.4 92.4L410.6 94.1L411.9 95.7L413.1 97.3L414.4 98.9L415.7 100.5L416.9 102.1L418.2 103.7L419.4 105.4L420.7 107.1L421.9 108.9L423.2 110.6L424.5 112.3L425.7 113.9L427 115.6L428.2 117.3L429.5 118.9L430.8 120.5L432 122.2L433.3 123.8L434.5 125.5L435.8 127.1L437 128.7L438.3 130.3L439.6 131.9L440.8 133.5L442.1 135L443.3 136.6L444.6 138.1L445.8 139.5L447.1 141L448.4 142.5L449.6 143.9L450.9 145.3L452.1 146.8L453.4 148.2L454.6 149.6L455.9 150.9M380.2 99L381.4 100.6L382.7 102.1L383.9 103.6L385.2 105.1L386.5 106.6L387.7 108.1L389 109.6L390.2 111L391.5 112.5L392.7 113.9L394 115.5L395.3 117.1L396.5 118.6L397.8 120.2L399 121.7L400.3 123.2L401.5 124.8L402.8 126.3L404.1 127.7L405.3 129.2L406.6 130.7L407.8 132.3L409.1 133.8L410.3 135.3L411.6 136.8L412.9 138.2L414.1 139.7L415.4 141.2L416.6 142.6L417.9 144L419.1 145.4L420.4 146.9L421.7 148.3L422.9 149.7L424.2 151.1L425.4 152.4L426.7 153.8L428 155.1L429.2 156.5L430.5 157.8M354.7 107.4L356 108.9L357.2 110.4L358.5 111.8L359.8 113.3L361 114.7L362.3 116.1L363.5 117.6L364.8 119L366.1 120.3L367.3 121.7L368.6 123.2L369.8 124.7L371.1 126.2L372.3 127.7L373.6 129.1L374.9 130.5L376.1 132L377.4 133.4L378.6 134.8L379.9 136.2L381.1 137.7L382.4 139.1L383.7 140.6L384.9 142L386.2 143.4L387.4 144.8L388.7 146.2L389.9 147.6L391.2 149L392.5 150.3L393.7 151.7L395 153.1L396.2 154.5L397.5 155.8L398.7 157.2L400 158.5L401.3 159.8L402.5 161.1L403.8 162.4L405 163.7M329.3 113.2L330.6 114.7L331.8 116.1L333.1 117.6L334.3 119L335.6 120.4L336.8 121.8L338.1 123.2L339.4 124.6L340.6 125.9L341.9 127.3L343.1 128.8L344.4 130.2L345.6 131.7L346.9 133.1L348.2 134.5L349.4 135.9L350.7 137.3L351.9 138.7L353.2 140.1L354.5 141.4L355.7 142.9L357 144.3L358.2 145.7L359.5 147.1L360.7 148.5L362 149.9L363.3 151.2L364.5 152.6L365.8 153.9L367 155.3L368.3 156.6L369.5 158L370.8 159.4L372.1 160.7L373.3 162L374.6 163.3L375.8 164.6L377.1 165.9L378.3 167.2L379.6 168.5"/><path stroke-width="7.0" stroke-dasharray="0.8 0.9" stroke-linecap="butt" d="M481.9 9.3L479.4 13.2L476.8 17.1L474.3 20.9L471.7 24.8L469.2 28.6L466.6 32.4L464.1 36.3L461.6 40.1L459 43.9L456.5 47.6L453.9 50.1L451.4 52.5L448.8 54.8L446.3 57.2L443.8 59.6L441.2 62L438.7 64.3L436.1 66.6L433.6 69L431 71.3L428.5 72.9L425.9 74.6L423.4 76.2L420.9 77.9L418.3 79.5L415.8 81.1L413.2 82.7L410.7 84.3L408.1 85.8L405.6 87.4L403.1 88.6L400.5 89.8L398 91L395.4 92.2L392.9 93.3L390.3 94.5L387.8 95.6L385.3 96.8L382.7 97.9L380.2 99L377.6 99.9L375.1 100.8L372.5 101.6L370 102.5L367.4 103.3L364.9 104.2L362.4 105L359.8 105.8L357.3 106.6L354.7 107.4L352.2 108L349.6 108.6L347.1 109.3L344.6 109.8L342 110.4L339.5 111L336.9 111.6L334.4 112.1L331.8 112.7L329.3 113.2M494.5 58.4L491.9 60.1L489.4 61.8L486.8 63.4L484.3 65.1L481.8 66.7L479.2 68.4L476.7 70L474.1 71.6L471.6 73.2L469 74.8L466.5 76.4L464 78L461.4 79.6L458.9 81.2L456.3 82.8L453.8 84.4L451.2 86L448.7 87.5L446.2 89.1L443.6 90.6L441.1 92L438.5 93.3L436 94.6L433.4 96L430.9 97.3L428.3 98.6L425.8 99.9L423.3 101.1L420.7 102.4L418.2 103.7L415.6 104.7L413.1 105.8L410.5 106.8L408 107.9L405.5 108.9L402.9 109.9L400.4 110.9L397.8 112L395.3 112.9L392.7 113.9L390.2 114.7L387.7 115.6L385.1 116.4L382.6 117.1L380 117.9L377.5 118.7L374.9 119.5L372.4 120.2L369.9 121L367.3 121.7L364.8 122.3L362.2 122.9L359.7 123.5L357.1 124L354.6 124.6L352 125.2L349.5 125.7L347 126.2L344.4 126.8L341.9 127.3M507.1 90.6L504.5 91.6L502 92.6L499.4 93.5L496.9 94.4L494.3 95.4L491.8 96.3L489.2 97.2L486.7 98L484.2 98.9L481.6 99.8L479.1 100.9L476.5 102L474 103.1L471.4 104.2L468.9 105.2L466.4 106.3L463.8 107.4L461.3 108.4L458.7 109.4L456.2 110.4L453.6 111.5L451.1 112.5L448.6 113.6L446 114.6L443.5 115.6L440.9 116.6L438.4 117.6L435.8 118.6L433.3 119.6L430.8 120.5L428.2 121.4L425.7 122.4L423.1 123.2L420.6 124.1L418 125L415.5 125.9L412.9 126.7L410.4 127.5L407.9 128.4L405.3 129.2L402.8 129.9L400.2 130.7L397.7 131.4L395.1 132.1L392.6 132.8L390.1 133.5L387.5 134.2L385 134.9L382.4 135.5L379.9 136.2L377.3 136.7L374.8 137.3L372.3 137.8L369.7 138.4L367.2 138.9L364.6 139.4L362.1 139.9L359.5 140.4L357 140.9L354.5 141.4M519.6 114L517.1 114.7L514.5 115.4L512 116L509.5 116.7L506.9 117.4L504.4 118L501.8 118.6L499.3 119.2L496.7 119.8L494.2 120.4L491.6 121.3L489.1 122.1L486.6 122.9L484 123.8L481.5 124.6L478.9 125.4L476.4 126.1L473.8 126.9L471.3 127.7L468.8 128.4L466.2 129.3L463.7 130.1L461.1 131L458.6 131.8L456 132.6L453.5 133.4L451 134.2L448.4 135L445.9 135.8L443.3 136.6L440.8 137.4L438.2 138.1L435.7 138.9L433.2 139.7L430.6 140.4L428.1 141.1L425.5 141.9L423 142.6L420.4 143.3L417.9 144L415.3 144.7L412.8 145.3L410.3 146L407.7 146.6L405.2 147.3L402.6 147.9L400.1 148.5L397.5 149.1L395 149.7L392.5 150.3L389.9 150.8L387.4 151.4L384.8 151.9L382.3 152.4L379.7 152.9L377.2 153.4L374.7 153.9L372.1 154.3L369.6 154.8L367 155.3M532.2 131.3L529.7 131.9L527.1 132.5L524.6 133.1L522 133.7L519.5 134.2L516.9 134.8L514.4 135.3L511.9 135.8L509.3 136.4L506.8 136.9L504.2 137.6L501.7 138.3L499.1 139L496.6 139.7L494.1 140.4L491.5 141.1L489 141.8L486.4 142.4L483.9 143.1L481.3 143.7L478.8 144.5L476.2 145.2L473.7 146L471.2 146.7L468.6 147.5L466.1 148.2L463.5 148.9L461 149.6L458.4 150.3L455.9 150.9L453.4 151.7L450.8 152.4L448.3 153.1L445.7 153.8L443.2 154.5L440.6 155.2L438.1 155.8L435.6 156.5L433 157.1L430.5 157.8L427.9 158.4L425.4 159L422.8 159.6L420.3 160.3L417.8 160.9L415.2 161.4L412.7 162L410.1 162.6L407.6 163.2L405 163.7L402.5 164.2L399.9 164.7L397.4 165.2L394.9 165.7L392.3 166.2L389.8 166.7L387.2 167.1L384.7 167.6L382.1 168L379.6 168.5M481.9 9.3L483.2 14.3L484.4 19.2L485.7 24.2L486.9 29.1L488.2 34L489.4 38.9L490.7 43.8L492 48.7L493.2 53.6L494.5 58.4L495.7 61.7L497 65L498.2 68.2L499.5 71.5L500.8 74.7L502 77.9L503.3 81.1L504.5 84.3L505.8 87.5L507.1 90.6L508.3 93L509.6 95.4L510.8 97.8L512.1 100.1L513.3 102.5L514.6 104.8L515.9 107.1L517.1 109.4L518.4 111.7L519.6 114L520.9 115.8L522.1 117.6L523.4 119.3L524.7 121.1L525.9 122.8L527.2 124.5L528.4 126.3L529.7 128L530.9 129.7L532.2 131.3M456.5 47.6L457.7 50.4L459 53.2L460.2 55.9L461.5 58.7L462.8 61.4L464 64.1L465.3 66.8L466.5 69.4L467.8 72.1L469 74.8L470.3 77.3L471.6 79.9L472.8 82.4L474.1 84.9L475.3 87.4L476.6 89.9L477.8 92.4L479.1 94.9L480.4 97.3L481.6 99.8L482.9 101.9L484.1 104L485.4 106.1L486.6 108.2L487.9 110.3L489.2 112.3L490.4 114.4L491.7 116.4L492.9 118.4L494.2 120.4L495.4 122.1L496.7 123.8L498 125.5L499.2 127.2L500.5 128.8L501.7 130.4L503 132.1L504.3 133.7L505.5 135.3L506.8 136.9M431 71.3L432.3 73.3L433.5 75.2L434.8 77.2L436.1 79.2L437.3 81.1L438.6 83L439.8 84.9L441.1 86.8L442.4 88.7L443.6 90.6L444.9 92.6L446.1 94.7L447.4 96.7L448.6 98.7L449.9 100.7L451.2 102.7L452.4 104.6L453.7 106.6L454.9 108.5L456.2 110.4L457.4 112.3L458.7 114.1L460 116L461.2 117.8L462.5 119.6L463.7 121.4L465 123.2L466.2 124.9L467.5 126.7L468.8 128.4L470 130L471.3 131.6L472.5 133.1L473.8 134.7L475 136.2L476.3 137.8L477.6 139.3L478.8 140.8L480.1 142.2L481.3 143.7M405.6 87.4L406.9 89.1L408.1 90.8L409.4 92.4L410.6 94.1L411.9 95.7L413.1 97.3L414.4 98.9L415.7 100.5L416.9 102.1L418.2 103.7L419.4 105.4L420.7 107.1L421.9 108.9L423.2 110.6L424.5 112.3L425.7 113.9L427 115.6L428.2 117.3L429.5 118.9L430.8 120.5L432 122.2L433.3 123.8L434.5 125.5L435.8 127.1L437 128.7L438.3 130.3L439.6 131.9L440.8 133.5L442.1 135L443.3 136.6L444.6 138.1L445.8 139.5L447.1 141L448.4 142.5L449.6 143.9L450.9 145.3L452.1 146.8L453.4 148.2L454.6 149.6L455.9 150.9M380.2 99L381.4 100.6L382.7 102.1L383.9 103.6L385.2 105.1L386.5 106.6L387.7 108.1L389 109.6L390.2 111L391.5 112.5L392.7 113.9L394 115.5L395.3 117.1L396.5 118.6L397.8 120.2L399 121.7L400.3 123.2L401.5 124.8L402.8 126.3L404.1 127.7L405.3 129.2L406.6 130.7L407.8 132.3L409.1 133.8L410.3 135.3L411.6 136.8L412.9 138.2L414.1 139.7L415.4 141.2L416.6 142.6L417.9 144L419.1 145.4L420.4 146.9L421.7 148.3L422.9 149.7L424.2 151.1L425.4 152.4L426.7 153.8L428 155.1L429.2 156.5L430.5 157.8M354.7 107.4L356 108.9L357.2 110.4L358.5 111.8L359.8 113.3L361 114.7L362.3 116.1L363.5 117.6L364.8 119L366.1 120.3L367.3 121.7L368.6 123.2L369.8 124.7L371.1 126.2L372.3 127.7L373.6 129.1L374.9 130.5L376.1 132L377.4 133.4L378.6 134.8L379.9 136.2L381.1 137.7L382.4 139.1L383.7 140.6L384.9 142L386.2 143.4L387.4 144.8L388.7 146.2L389.9 147.6L391.2 149L392.5 150.3L393.7 151.7L395 153.1L396.2 154.5L397.5 155.8L398.7 157.2L400 158.5L401.3 159.8L402.5 161.1L403.8 162.4L405 163.7M329.3 113.2L330.6 114.7L331.8 116.1L333.1 117.6L334.3 119L335.6 120.4L336.8 121.8L338.1 123.2L339.4 124.6L340.6 125.9L341.9 127.3L343.1 128.8L344.4 130.2L345.6 131.7L346.9 133.1L348.2 134.5L349.4 135.9L350.7 137.3L351.9 138.7L353.2 140.1L354.5 141.4L355.7 142.9L357 144.3L358.2 145.7L359.5 147.1L360.7 148.5L362 149.9L363.3 151.2L364.5 152.6L365.8 153.9L367 155.3L368.3 156.6L369.5 158L370.8 159.4L372.1 160.7L373.3 162L374.6 163.3L375.8 164.6L377.1 165.9L378.3 167.2L379.6 168.5"/></g>
<g fill="none"><path d="M474.2 370.5L527.2 415.4" stroke="#dfdfdf" stroke-width="0.7" /><path d="M474.2 370.5L474.2 248.8" stroke="#dfdfdf" stroke-width="0.7" /><path d="M424.5 375.5L477.5 420.4" stroke="#dfdfdf" stroke-width="0.7" /><path d="M424.5 375.5L424.5 253.8" stroke="#dfdfdf" stroke-width="0.7" /><path d="M374.9 380.5L427.9 425.4" stroke="#dfdfdf" stroke-width="0.7" /><path d="M374.9 380.5L374.9 258.8" stroke="#dfdfdf" stroke-width="0.7" /><path d="M325.2 385.5L378.2 430.4" stroke="#dfdfdf" stroke-width="0.7" /><path d="M325.2 385.5L325.2 263.8" stroke="#dfdfdf" stroke-width="0.7" /><path d="M474.2 370.5L325.2 385.5" stroke="#dfdfdf" stroke-width="0.7" /><path d="M474.2 370.5L474.2 248.8" stroke="#dfdfdf" stroke-width="0.7" /><path d="M500.7 392.9L351.7 407.9" stroke="#dfdfdf" stroke-width="0.7" /><path d="M500.7 392.9L500.7 271.2" stroke="#dfdfdf" stroke-width="0.7" /><path d="M527.2 415.4L378.2 430.4" stroke="#dfdfdf" stroke-width="0.7" /><path d="M527.2 415.4L527.2 293.6" stroke="#dfdfdf" stroke-width="0.7" /><path d="M325.2 385.5L474.2 370.5" stroke="#dfdfdf" stroke-width="0.7" /><path d="M474.2 370.5L527.2 415.4" stroke="#dfdfdf" stroke-width="0.7" /><path d="M325.2 361.1L474.2 346.1" stroke="#dfdfdf" stroke-width="0.7" /><path d="M474.2 346.1L527.2 391" stroke="#dfdfdf" stroke-width="0.7" /><path d="M325.2 336.8L474.2 321.8" stroke="#dfdfdf" stroke-width="0.7" /><path d="M474.2 321.8L527.2 366.7" stroke="#dfdfdf" stroke-width="0.7" /><path d="M325.2 312.4L474.2 297.4" stroke="#dfdfdf" stroke-width="0.7" /><path d="M474.2 297.4L527.2 342.3" stroke="#dfdfdf" stroke-width="0.7" /><path d="M325.2 288.1L474.2 273.1" stroke="#dfdfdf" stroke-width="0.7" /><path d="M474.2 273.1L527.2 318" stroke="#dfdfdf" stroke-width="0.7" /><path d="M325.2 263.8L474.2 248.8" stroke="#dfdfdf" stroke-width="0.7" /><path d="M474.2 248.8L527.2 293.6" stroke="#dfdfdf" stroke-width="0.7" /></g>
<text x="534" y="429.5" text-anchor="start" font-size="10.8">0</text>
<text x="484.3" y="434.5" text-anchor="start" font-size="10.8">10</text>
<text x="434.7" y="439.5" text-anchor="start" font-size="10.8">20</text>
<text x="385" y="444.5" text-anchor="start" font-size="10.8">30</text>
<text x="316.6" y="404.3" text-anchor="end" font-size="10.8">0</text>
<text x="343" y="421.9" text-anchor="end" font-size="10.8">10</text>
<text x="369.6" y="439.9" text-anchor="end" font-size="10.8">20</text>
<text x="318.7" y="385.5" text-anchor="end" font-size="10.8">2</text>
<text x="318.7" y="361.1" text-anchor="end" font-size="10.8">2.02</text>
<text x="318.7" y="336.8" text-anchor="end" font-size="10.8">2.04</text>
<text x="318.7" y="312.4" text-anchor="end" font-size="10.8">2.06</text>
<text x="318.7" y="288.1" text-anchor="end" font-size="10.8">2.08</text>
<text x="318.7" y="263.8" text-anchor="end" font-size="10.8">2.1</text>
<g fill="none"><path d="M325.2 385.5L325.2 263.8" stroke="#262626" stroke-width="0.9" /><path d="M325.2 385.5L378.2 430.4" stroke="#262626" stroke-width="0.9" /><path d="M378.2 430.4L527.2 415.4" stroke="#262626" stroke-width="0.9" /><path d="M527.2 415.4l1.7 1.4" stroke="#262626" stroke-width="0.9"/><path d="M477.5 420.4l1.7 1.4" stroke="#262626" stroke-width="0.9"/><path d="M427.9 425.4l1.7 1.4" stroke="#262626" stroke-width="0.9"/><path d="M378.2 430.4l1.7 1.4" stroke="#262626" stroke-width="0.9"/><path d="M325.2 385.5l-2.2 0.2" stroke="#262626" stroke-width="0.9"/><path d="M351.7 407.9l-2.2 0.2" stroke="#262626" stroke-width="0.9"/><path d="M378.2 430.4l-2.2 0.2" stroke="#262626" stroke-width="0.9"/><path d="M325.2 385.5l-2.2 1" stroke="#262626" stroke-width="0.9"/><path d="M325.2 361.1l-2.2 1" stroke="#262626" stroke-width="0.9"/><path d="M325.2 336.8l-2.2 1" stroke="#262626" stroke-width="0.9"/><path d="M325.2 312.4l-2.2 1" stroke="#262626" stroke-width="0.9"/><path d="M325.2 288.1l-2.2 1" stroke="#262626" stroke-width="0.9"/><path d="M325.2 263.8l-2.2 1" stroke="#262626" stroke-width="0.9"/></g>
<text x="288.7" y="328.5" text-anchor="middle" font-size="11.5" transform="rotate(-90 288.7 328.5)" style="white-space:pre">Node Potential  (Volts)</text>
<text x="326" y="436.6" text-anchor="middle" font-size="12.1" style="white-space:pre">Y  (m)</text>
<text x="461" y="452.5" text-anchor="middle" font-size="12.1" style="white-space:pre">X  (m)</text>
<g fill="none" stroke="#0f72bd" stroke-linejoin="round" stroke-linecap="round"><path stroke-width="5.3" d="M474.2 268L471.7 273L469.2 277.9L466.8 282.9L464.3 287.7L461.8 292.6L459.3 297.4L456.8 302.2L454.3 307L451.9 311.7L449.4 316.4L446.9 319.3L444.4 322.1L441.9 324.9L439.4 327.6L437 330.3L434.5 333L432 335.7L429.5 338.4L427 341L424.5 343.7L422.1 345.5L419.6 347.3L417.1 349.2L414.6 350.9L412.1 352.7L409.6 354.5L407.2 356.2L404.7 357.9L402.2 359.6L399.7 361.3L397.2 362.6L394.7 363.9L392.2 365.2L389.8 366.4L387.3 367.6L384.8 368.9L382.3 370.1L379.8 371.3L377.4 372.5L374.9 373.7L372.4 374.6L369.9 375.5L367.4 376.4L364.9 377.4L362.4 378.3L360 379.2L357.5 380.1L355 380.9L352.5 381.8L350 382.7L347.6 383.4L345.1 384.1L342.6 384.8L340.1 385.5L337.6 386.3L335.1 387L332.6 387.7L330.2 388.4L327.7 389.1L325.2 389.8M487.5 315.9L485 318.3L482.5 320.7L480 323.1L477.5 325.5L475 327.8L472.6 330.1L470.1 332.4L467.6 334.7L465.1 336.9L462.6 339.1L460.1 341.2L457.7 343.3L455.2 345.4L452.7 347.4L450.2 349.4L447.7 351.4L445.2 353.4L442.8 355.3L440.3 357.3L437.8 359.2L435.3 360.8L432.8 362.4L430.3 363.9L427.9 365.5L425.4 367L422.9 368.5L420.4 370L417.9 371.5L415.4 372.9L413 374.4L410.5 375.5L408 376.7L405.5 377.9L403 379L400.5 380.1L398.1 381.2L395.6 382.3L393.1 383.4L390.6 384.4L388.1 385.5L385.6 386.3L383.1 387.1L380.7 387.9L378.2 388.7L375.7 389.5L373.2 390.3L370.7 391.1L368.2 391.8L365.8 392.5L363.3 393.3L360.8 393.8L358.3 394.4L355.8 394.9L353.4 395.4L350.9 395.9L348.4 396.4L345.9 396.9L343.4 397.4L340.9 397.9L338.4 398.3M500.7 347.6L498.2 349L495.7 350.4L493.3 351.8L490.8 353.2L488.3 354.5L485.8 355.8L483.3 357.1L480.8 358.4L478.4 359.7L475.9 360.9L473.4 362.4L470.9 364L468.4 365.5L465.9 366.9L463.5 368.4L461 369.8L458.5 371.2L456 372.6L453.5 374L451 375.4L448.6 376.7L446.1 378L443.6 379.3L441.1 380.6L438.6 381.8L436.1 383.1L433.7 384.3L431.2 385.5L428.7 386.7L426.2 387.9L423.7 388.9L421.2 390L418.8 391L416.3 392L413.8 393L411.3 394L408.8 394.9L406.3 395.9L403.9 396.8L401.4 397.7L398.9 398.5L396.4 399.3L393.9 400L391.4 400.8L388.9 401.5L386.5 402.2L384 402.9L381.5 403.5L379 404.2L376.5 404.8L374.1 405.4L371.6 405.9L369.1 406.3L366.6 406.8L364.1 407.3L361.6 407.7L359.1 408.1L356.7 408.6L354.2 409L351.7 409.3M514 370L511.5 371L509 372L506.5 373L504 373.9L501.5 374.8L499.1 375.7L496.6 376.6L494.1 377.5L491.6 378.4L489.1 379.2L486.6 380.4L484.2 381.6L481.7 382.7L479.2 383.9L476.7 385L474.2 386.1L471.7 387.2L469.2 388.3L466.8 389.3L464.3 390.3L461.8 391.5L459.3 392.6L456.8 393.7L454.4 394.8L451.9 395.9L449.4 396.9L446.9 397.9L444.4 399L441.9 400L439.5 400.9L437 401.9L434.5 402.8L432 403.8L429.5 404.7L427 405.6L424.6 406.4L422.1 407.3L419.6 408.1L417.1 409L414.6 409.8L412.1 410.5L409.6 411.2L407.2 411.9L404.7 412.6L402.2 413.3L399.7 413.9L397.2 414.6L394.8 415.2L392.3 415.8L389.8 416.4L387.3 416.9L384.8 417.4L382.3 417.8L379.9 418.3L377.4 418.7L374.9 419.1L372.4 419.5L369.9 419.9L367.4 420.3L364.9 420.7M527.2 385.9L524.7 386.8L522.2 387.6L519.8 388.4L517.3 389.2L514.8 390L512.3 390.8L509.8 391.5L507.3 392.2L504.9 392.9L502.4 393.6L499.9 394.7L497.4 395.7L494.9 396.7L492.4 397.7L490 398.7L487.5 399.6L485 400.6L482.5 401.5L480 402.4L477.5 403.3L475.1 404.3L472.6 405.4L470.1 406.4L467.6 407.4L465.1 408.3L462.6 409.3L460.2 410.2L457.7 411.1L455.2 412.1L452.7 412.9L450.2 413.8L447.7 414.7L445.2 415.6L442.8 416.5L440.3 417.3L437.8 418.1L435.3 418.9L432.8 419.7L430.4 420.5L427.9 421.3L425.4 422L422.9 422.7L420.4 423.3L417.9 424L415.4 424.6L413 425.3L410.5 425.9L408 426.5L405.5 427.1L403 427.6L400.6 428.1L398.1 428.6L395.6 429L393.1 429.5L390.6 429.9L388.1 430.3L385.6 430.7L383.2 431.1L380.7 431.4L378.2 431.8M474.2 268L475.5 272.9L476.9 277.8L478.2 282.6L479.5 287.4L480.8 292.2L482.2 297L483.5 301.7L484.8 306.5L486.1 311.2L487.5 315.9L488.8 319.1L490.1 322.4L491.4 325.6L492.8 328.8L494.1 331.9L495.4 335.1L496.7 338.3L498.1 341.4L499.4 344.5L500.7 347.6L502 349.9L503.4 352.2L504.7 354.5L506 356.7L507.3 359L508.7 361.2L510 363.4L511.3 365.6L512.6 367.8L514 370L515.3 371.6L516.6 373.3L517.9 374.9L519.2 376.5L520.6 378.1L521.9 379.7L523.2 381.3L524.6 382.8L525.9 384.4L527.2 385.9M449.4 316.4L450.7 318.8L452 321.1L453.3 323.4L454.7 325.7L456 328L457.3 330.2L458.6 332.5L460 334.7L461.3 336.9L462.6 339.1L463.9 341.4L465.3 343.6L466.6 345.8L467.9 348L469.2 350.2L470.6 352.4L471.9 354.5L473.2 356.7L474.5 358.8L475.9 360.9L477.2 362.8L478.5 364.7L479.8 366.5L481.2 368.4L482.5 370.2L483.8 372L485.1 373.8L486.5 375.6L487.8 377.4L489.1 379.2L490.4 380.7L491.8 382.2L493.1 383.6L494.4 385.1L495.7 386.6L497.1 388L498.4 389.4L499.7 390.8L501 392.2L502.4 393.6M424.5 343.7L425.9 345.3L427.2 346.9L428.5 348.5L429.8 350L431.2 351.6L432.5 353.1L433.8 354.7L435.1 356.2L436.5 357.7L437.8 359.2L439.1 360.9L440.4 362.5L441.8 364.2L443.1 365.8L444.4 367.4L445.7 369L447.1 370.6L448.4 372.2L449.7 373.8L451 375.4L452.4 376.9L453.7 378.5L455 380L456.3 381.5L457.7 383L459 384.5L460.3 386L461.6 387.4L463 388.9L464.3 390.3L465.6 391.7L466.9 393L468.3 394.4L469.6 395.7L470.9 397L472.2 398.3L473.6 399.5L474.9 400.8L476.2 402.1L477.5 403.3M399.7 361.3L401 362.7L402.4 364L403.7 365.3L405 366.7L406.3 368L407.7 369.3L409 370.6L410.3 371.8L411.6 373.1L413 374.4L414.3 375.8L415.6 377.2L416.9 378.5L418.3 379.9L419.6 381.3L420.9 382.6L422.2 383.9L423.6 385.3L424.9 386.6L426.2 387.9L427.5 389.2L428.9 390.6L430.2 391.9L431.5 393.2L432.8 394.5L434.2 395.8L435.5 397.1L436.8 398.4L438.1 399.7L439.5 400.9L440.8 402.2L442.1 403.4L443.4 404.7L444.8 405.9L446.1 407.1L447.4 408.3L448.7 409.5L450.1 410.6L451.4 411.8L452.7 412.9M374.9 373.7L376.2 374.8L377.5 376L378.8 377.2L380.2 378.4L381.5 379.6L382.8 380.8L384.1 382L385.5 383.1L386.8 384.3L388.1 385.5L389.4 386.7L390.8 388L392.1 389.2L393.4 390.5L394.7 391.7L396.1 392.9L397.4 394.1L398.7 395.3L400 396.5L401.4 397.7L402.7 399L404 400.2L405.3 401.5L406.7 402.7L408 403.9L409.3 405.1L410.6 406.3L412 407.5L413.3 408.6L414.6 409.8L415.9 411L417.3 412.2L418.6 413.3L419.9 414.5L421.2 415.7L422.6 416.8L423.9 417.9L425.2 419.1L426.5 420.2L427.9 421.3M350 382.7L351.4 383.7L352.7 384.7L354 385.7L355.3 386.8L356.7 387.9L358 388.9L359.3 390L360.6 391.1L362 392.2L363.3 393.3L364.6 394.4L365.9 395.6L367.3 396.8L368.6 398L369.9 399.1L371.2 400.3L372.6 401.4L373.9 402.6L375.2 403.7L376.5 404.8L377.9 406L379.2 407.2L380.5 408.4L381.8 409.6L383.2 410.7L384.5 411.9L385.8 413L387.1 414.2L388.5 415.3L389.8 416.4L391.1 417.6L392.4 418.7L393.8 419.9L395.1 421L396.4 422.1L397.7 423.3L399.1 424.4L400.4 425.5L401.7 426.6L403 427.6M325.2 389.8L326.5 390.4L327.8 391.1L329.2 391.9L330.5 392.7L331.8 393.6L333.1 394.5L334.5 395.4L335.8 396.3L337.1 397.3L338.4 398.3L339.8 399.4L341.1 400.5L342.4 401.6L343.8 402.7L345.1 403.8L346.4 404.9L347.7 406L349.1 407.1L350.4 408.2L351.7 409.3L353 410.5L354.3 411.7L355.7 412.8L357 414L358.3 415.1L359.6 416.2L361 417.3L362.3 418.5L363.6 419.6L364.9 420.7L366.3 421.8L367.6 423L368.9 424.1L370.2 425.2L371.6 426.3L372.9 427.4L374.2 428.5L375.6 429.6L376.9 430.7L378.2 431.8"/><path stroke-width="7.0" stroke-dasharray="0.8 0.9" stroke-linecap="butt" d="M474.2 268L471.7 273L469.2 277.9L466.8 282.9L464.3 287.7L461.8 292.6L459.3 297.4L456.8 302.2L454.3 307L451.9 311.7L449.4 316.4L446.9 319.3L444.4 322.1L441.9 324.9L439.4 327.6L437 330.3L434.5 333L432 335.7L429.5 338.4L427 341L424.5 343.7L422.1 345.5L419.6 347.3L417.1 349.2L414.6 350.9L412.1 352.7L409.6 354.5L407.2 356.2L404.7 357.9L402.2 359.6L399.7 361.3L397.2 362.6L394.7 363.9L392.2 365.2L389.8 366.4L387.3 367.6L384.8 368.9L382.3 370.1L379.8 371.3L377.4 372.5L374.9 373.7L372.4 374.6L369.9 375.5L367.4 376.4L364.9 377.4L362.4 378.3L360 379.2L357.5 380.1L355 380.9L352.5 381.8L350 382.7L347.6 383.4L345.1 384.1L342.6 384.8L340.1 385.5L337.6 386.3L335.1 387L332.6 387.7L330.2 388.4L327.7 389.1L325.2 389.8M487.5 315.9L485 318.3L482.5 320.7L480 323.1L477.5 325.5L475 327.8L472.6 330.1L470.1 332.4L467.6 334.7L465.1 336.9L462.6 339.1L460.1 341.2L457.7 343.3L455.2 345.4L452.7 347.4L450.2 349.4L447.7 351.4L445.2 353.4L442.8 355.3L440.3 357.3L437.8 359.2L435.3 360.8L432.8 362.4L430.3 363.9L427.9 365.5L425.4 367L422.9 368.5L420.4 370L417.9 371.5L415.4 372.9L413 374.4L410.5 375.5L408 376.7L405.5 377.9L403 379L400.5 380.1L398.1 381.2L395.6 382.3L393.1 383.4L390.6 384.4L388.1 385.5L385.6 386.3L383.1 387.1L380.7 387.9L378.2 388.7L375.7 389.5L373.2 390.3L370.7 391.1L368.2 391.8L365.8 392.5L363.3 393.3L360.8 393.8L358.3 394.4L355.8 394.9L353.4 395.4L350.9 395.9L348.4 396.4L345.9 396.9L343.4 397.4L340.9 397.9L338.4 398.3M500.7 347.6L498.2 349L495.7 350.4L493.3 351.8L490.8 353.2L488.3 354.5L485.8 355.8L483.3 357.1L480.8 358.4L478.4 359.7L475.9 360.9L473.4 362.4L470.9 364L468.4 365.5L465.9 366.9L463.5 368.4L461 369.8L458.5 371.2L456 372.6L453.5 374L451 375.4L448.6 376.7L446.1 378L443.6 379.3L441.1 380.6L438.6 381.8L436.1 383.1L433.7 384.3L431.2 385.5L428.7 386.7L426.2 387.9L423.7 388.9L421.2 390L418.8 391L416.3 392L413.8 393L411.3 394L408.8 394.9L406.3 395.9L403.9 396.8L401.4 397.7L398.9 398.5L396.4 399.3L393.9 400L391.4 400.8L388.9 401.5L386.5 402.2L384 402.9L381.5 403.5L379 404.2L376.5 404.8L374.1 405.4L371.6 405.9L369.1 406.3L366.6 406.8L364.1 407.3L361.6 407.7L359.1 408.1L356.7 408.6L354.2 409L351.7 409.3M514 370L511.5 371L509 372L506.5 373L504 373.9L501.5 374.8L499.1 375.7L496.6 376.6L494.1 377.5L491.6 378.4L489.1 379.2L486.6 380.4L484.2 381.6L481.7 382.7L479.2 383.9L476.7 385L474.2 386.1L471.7 387.2L469.2 388.3L466.8 389.3L464.3 390.3L461.8 391.5L459.3 392.6L456.8 393.7L454.4 394.8L451.9 395.9L449.4 396.9L446.9 397.9L444.4 399L441.9 400L439.5 400.9L437 401.9L434.5 402.8L432 403.8L429.5 404.7L427 405.6L424.6 406.4L422.1 407.3L419.6 408.1L417.1 409L414.6 409.8L412.1 410.5L409.6 411.2L407.2 411.9L404.7 412.6L402.2 413.3L399.7 413.9L397.2 414.6L394.8 415.2L392.3 415.8L389.8 416.4L387.3 416.9L384.8 417.4L382.3 417.8L379.9 418.3L377.4 418.7L374.9 419.1L372.4 419.5L369.9 419.9L367.4 420.3L364.9 420.7M527.2 385.9L524.7 386.8L522.2 387.6L519.8 388.4L517.3 389.2L514.8 390L512.3 390.8L509.8 391.5L507.3 392.2L504.9 392.9L502.4 393.6L499.9 394.7L497.4 395.7L494.9 396.7L492.4 397.7L490 398.7L487.5 399.6L485 400.6L482.5 401.5L480 402.4L477.5 403.3L475.1 404.3L472.6 405.4L470.1 406.4L467.6 407.4L465.1 408.3L462.6 409.3L460.2 410.2L457.7 411.1L455.2 412.1L452.7 412.9L450.2 413.8L447.7 414.7L445.2 415.6L442.8 416.5L440.3 417.3L437.8 418.1L435.3 418.9L432.8 419.7L430.4 420.5L427.9 421.3L425.4 422L422.9 422.7L420.4 423.3L417.9 424L415.4 424.6L413 425.3L410.5 425.9L408 426.5L405.5 427.1L403 427.6L400.6 428.1L398.1 428.6L395.6 429L393.1 429.5L390.6 429.9L388.1 430.3L385.6 430.7L383.2 431.1L380.7 431.4L378.2 431.8M474.2 268L475.5 272.9L476.9 277.8L478.2 282.6L479.5 287.4L480.8 292.2L482.2 297L483.5 301.7L484.8 306.5L486.1 311.2L487.5 315.9L488.8 319.1L490.1 322.4L491.4 325.6L492.8 328.8L494.1 331.9L495.4 335.1L496.7 338.3L498.1 341.4L499.4 344.5L500.7 347.6L502 349.9L503.4 352.2L504.7 354.5L506 356.7L507.3 359L508.7 361.2L510 363.4L511.3 365.6L512.6 367.8L514 370L515.3 371.6L516.6 373.3L517.9 374.9L519.2 376.5L520.6 378.1L521.9 379.7L523.2 381.3L524.6 382.8L525.9 384.4L527.2 385.9M449.4 316.4L450.7 318.8L452 321.1L453.3 323.4L454.7 325.7L456 328L457.3 330.2L458.6 332.5L460 334.7L461.3 336.9L462.6 339.1L463.9 341.4L465.3 343.6L466.6 345.8L467.9 348L469.2 350.2L470.6 352.4L471.9 354.5L473.2 356.7L474.5 358.8L475.9 360.9L477.2 362.8L478.5 364.7L479.8 366.5L481.2 368.4L482.5 370.2L483.8 372L485.1 373.8L486.5 375.6L487.8 377.4L489.1 379.2L490.4 380.7L491.8 382.2L493.1 383.6L494.4 385.1L495.7 386.6L497.1 388L498.4 389.4L499.7 390.8L501 392.2L502.4 393.6M424.5 343.7L425.9 345.3L427.2 346.9L428.5 348.5L429.8 350L431.2 351.6L432.5 353.1L433.8 354.7L435.1 356.2L436.5 357.7L437.8 359.2L439.1 360.9L440.4 362.5L441.8 364.2L443.1 365.8L444.4 367.4L445.7 369L447.1 370.6L448.4 372.2L449.7 373.8L451 375.4L452.4 376.9L453.7 378.5L455 380L456.3 381.5L457.7 383L459 384.5L460.3 386L461.6 387.4L463 388.9L464.3 390.3L465.6 391.7L466.9 393L468.3 394.4L469.6 395.7L470.9 397L472.2 398.3L473.6 399.5L474.9 400.8L476.2 402.1L477.5 403.3M399.7 361.3L401 362.7L402.4 364L403.7 365.3L405 366.7L406.3 368L407.7 369.3L409 370.6L410.3 371.8L411.6 373.1L413 374.4L414.3 375.8L415.6 377.2L416.9 378.5L418.3 379.9L419.6 381.3L420.9 382.6L422.2 383.9L423.6 385.3L424.9 386.6L426.2 387.9L427.5 389.2L428.9 390.6L430.2 391.9L431.5 393.2L432.8 394.5L434.2 395.8L435.5 397.1L436.8 398.4L438.1 399.7L439.5 400.9L440.8 402.2L442.1 403.4L443.4 404.7L444.8 405.9L446.1 407.1L447.4 408.3L448.7 409.5L450.1 410.6L451.4 411.8L452.7 412.9M374.9 373.7L376.2 374.8L377.5 376L378.8 377.2L380.2 378.4L381.5 379.6L382.8 380.8L384.1 382L385.5 383.1L386.8 384.3L388.1 385.5L389.4 386.7L390.8 388L392.1 389.2L393.4 390.5L394.7 391.7L396.1 392.9L397.4 394.1L398.7 395.3L400 396.5L401.4 397.7L402.7 399L404 400.2L405.3 401.5L406.7 402.7L408 403.9L409.3 405.1L410.6 406.3L412 407.5L413.3 408.6L414.6 409.8L415.9 411L417.3 412.2L418.6 413.3L419.9 414.5L421.2 415.7L422.6 416.8L423.9 417.9L425.2 419.1L426.5 420.2L427.9 421.3M350 382.7L351.4 383.7L352.7 384.7L354 385.7L355.3 386.8L356.7 387.9L358 388.9L359.3 390L360.6 391.1L362 392.2L363.3 393.3L364.6 394.4L365.9 395.6L367.3 396.8L368.6 398L369.9 399.1L371.2 400.3L372.6 401.4L373.9 402.6L375.2 403.7L376.5 404.8L377.9 406L379.2 407.2L380.5 408.4L381.8 409.6L383.2 410.7L384.5 411.9L385.8 413L387.1 414.2L388.5 415.3L389.8 416.4L391.1 417.6L392.4 418.7L393.8 419.9L395.1 421L396.4 422.1L397.7 423.3L399.1 424.4L400.4 425.5L401.7 426.6L403 427.6M325.2 389.8L326.5 390.4L327.8 391.1L329.2 391.9L330.5 392.7L331.8 393.6L333.1 394.5L334.5 395.4L335.8 396.3L337.1 397.3L338.4 398.3L339.8 399.4L341.1 400.5L342.4 401.6L343.8 402.7L345.1 403.8L346.4 404.9L347.7 406L349.1 407.1L350.4 408.2L351.7 409.3L353 410.5L354.3 411.7L355.7 412.8L357 414L358.3 415.1L359.6 416.2L361 417.3L362.3 418.5L363.6 419.6L364.9 420.7L366.3 421.8L367.6 423L368.9 424.1L370.2 425.2L371.6 426.3L372.9 427.4L374.2 428.5L375.6 429.6L376.9 430.7L378.2 431.8"/></g></svg></body></html>
